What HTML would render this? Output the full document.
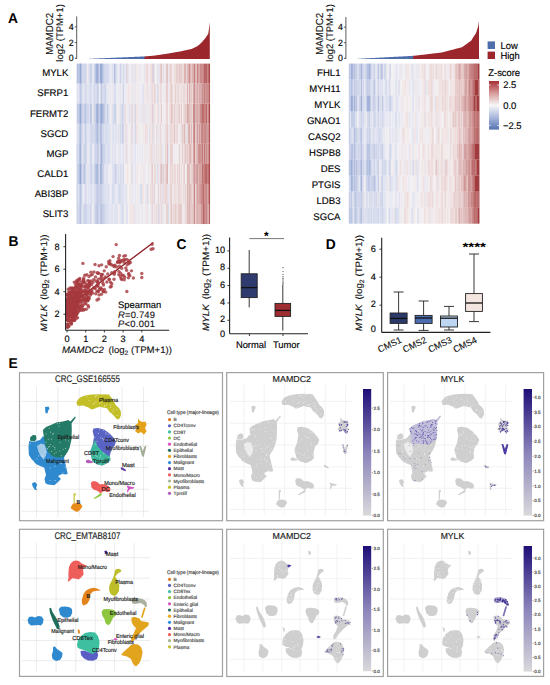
<!DOCTYPE html>
<html><head><meta charset="utf-8"><style>
html,body{margin:0;padding:0;background:#fff;}
svg{display:block;}
text{font-family:"Liberation Sans", sans-serif;text-rendering:geometricPrecision;}
</style></head><body>
<svg width="550" height="685" viewBox="0 0 550 685" font-family="Liberation Sans, sans-serif">
<rect width="550" height="685" fill="#fff"/>
<text transform="translate(8.1,22.8) scale(1,1.03)" font-size="13.8" text-anchor="start" font-weight="bold" fill="#000">A</text>
<text transform="translate(8.6,245.7) scale(1,1.03)" font-size="13.8" text-anchor="start" font-weight="bold" fill="#000">B</text>
<text transform="translate(176.6,249.4) scale(1,1.03)" font-size="13.8" text-anchor="start" font-weight="bold" fill="#000">C</text>
<text transform="translate(325.8,249.3) scale(1,1.03)" font-size="13.8" text-anchor="start" font-weight="bold" fill="#000">D</text>
<text transform="translate(8.6,368.4) scale(1,1.03)" font-size="13.8" text-anchor="start" font-weight="bold" fill="#000">E</text>
<rect x="76.6" y="63.6" width="1.05" height="20.1" fill="#c1c9e4"/>
<rect x="77.6" y="63.6" width="1.05" height="20.1" fill="#8097cb"/>
<rect x="78.61" y="63.6" width="1.05" height="20.1" fill="#d6dbed"/>
<rect x="79.61" y="63.6" width="1.05" height="20.1" fill="#6a85c1"/>
<rect x="80.61" y="63.6" width="1.05" height="20.1" fill="#899ecf"/>
<rect x="81.62" y="63.6" width="1.05" height="20.1" fill="#c9d0e7"/>
<rect x="82.62" y="63.6" width="1.05" height="20.1" fill="#c8cfe7"/>
<rect x="83.62" y="63.6" width="1.05" height="20.1" fill="#bfc8e3"/>
<rect x="84.62" y="63.6" width="1.05" height="20.1" fill="#ccd2e9"/>
<rect x="85.63" y="63.6" width="1.05" height="20.1" fill="#bcc5e2"/>
<rect x="86.63" y="63.6" width="1.05" height="20.1" fill="#efe6e7"/>
<rect x="87.63" y="63.6" width="1.05" height="20.1" fill="#eaeaf1"/>
<rect x="88.64" y="63.6" width="1.05" height="20.1" fill="#cbd2e8"/>
<rect x="89.64" y="63.6" width="1.05" height="20.1" fill="#d1d7eb"/>
<rect x="90.64" y="63.6" width="1.05" height="20.1" fill="#a9b7db"/>
<rect x="91.65" y="63.6" width="1.05" height="20.1" fill="#dee1ef"/>
<rect x="92.65" y="63.6" width="1.05" height="20.1" fill="#e4e5f0"/>
<rect x="93.65" y="63.6" width="1.05" height="20.1" fill="#d1d6eb"/>
<rect x="94.65" y="63.6" width="1.05" height="20.1" fill="#bac3e1"/>
<rect x="95.66" y="63.6" width="1.05" height="20.1" fill="#92a5d3"/>
<rect x="96.66" y="63.6" width="1.05" height="20.1" fill="#8a9ecf"/>
<rect x="97.66" y="63.6" width="1.05" height="20.1" fill="#7e95ca"/>
<rect x="98.67" y="63.6" width="1.05" height="20.1" fill="#dbdfee"/>
<rect x="99.67" y="63.6" width="1.05" height="20.1" fill="#8fa3d1"/>
<rect x="100.67" y="63.6" width="1.05" height="20.1" fill="#6e88c3"/>
<rect x="101.68" y="63.6" width="1.05" height="20.1" fill="#a0b0d8"/>
<rect x="102.68" y="63.6" width="1.05" height="20.1" fill="#a9b6db"/>
<rect x="103.68" y="63.6" width="1.05" height="20.1" fill="#cbd2e8"/>
<rect x="104.68" y="63.6" width="1.05" height="20.1" fill="#c5cce6"/>
<rect x="105.69" y="63.6" width="1.05" height="20.1" fill="#d3d8ec"/>
<rect x="106.69" y="63.6" width="1.05" height="20.1" fill="#c6cde6"/>
<rect x="107.69" y="63.6" width="1.05" height="20.1" fill="#d0d6ea"/>
<rect x="108.7" y="63.6" width="1.05" height="20.1" fill="#d6daed"/>
<rect x="109.7" y="63.6" width="1.05" height="20.1" fill="#e2e4f0"/>
<rect x="110.7" y="63.6" width="1.05" height="20.1" fill="#f1eff3"/>
<rect x="111.71" y="63.6" width="1.05" height="20.1" fill="#c6cee6"/>
<rect x="112.71" y="63.6" width="1.05" height="20.1" fill="#f2eef1"/>
<rect x="113.71" y="63.6" width="2.06" height="20.1" fill="#b4bfdf"/>
<rect x="115.72" y="63.6" width="1.05" height="20.1" fill="#d1d7eb"/>
<rect x="116.72" y="63.6" width="1.05" height="20.1" fill="#dee0ef"/>
<rect x="117.72" y="63.6" width="1.05" height="20.1" fill="#eaeaf1"/>
<rect x="118.73" y="63.6" width="1.05" height="20.1" fill="#ebeaf2"/>
<rect x="119.73" y="63.6" width="1.05" height="20.1" fill="#c2cae4"/>
<rect x="120.73" y="63.6" width="1.05" height="20.1" fill="#ced4e9"/>
<rect x="121.74" y="63.6" width="1.05" height="20.1" fill="#ececf2"/>
<rect x="122.74" y="63.6" width="1.05" height="20.1" fill="#cdd3e9"/>
<rect x="123.74" y="63.6" width="1.05" height="20.1" fill="#d6dbed"/>
<rect x="124.74" y="63.6" width="1.05" height="20.1" fill="#efeef2"/>
<rect x="125.75" y="63.6" width="1.05" height="20.1" fill="#c7cee6"/>
<rect x="126.75" y="63.6" width="1.05" height="20.1" fill="#e7cece"/>
<rect x="127.75" y="63.6" width="1.05" height="20.1" fill="#dee1ef"/>
<rect x="128.76" y="63.6" width="1.05" height="20.1" fill="#f0e9ea"/>
<rect x="129.76" y="63.6" width="1.05" height="20.1" fill="#f0eaec"/>
<rect x="130.76" y="63.6" width="1.05" height="20.1" fill="#e4e5f0"/>
<rect x="131.77" y="63.6" width="1.05" height="20.1" fill="#dcdfef"/>
<rect x="132.77" y="63.6" width="1.05" height="20.1" fill="#eee0e0"/>
<rect x="133.77" y="63.6" width="1.05" height="20.1" fill="#efe6e7"/>
<rect x="134.77" y="63.6" width="1.05" height="20.1" fill="#d7dced"/>
<rect x="135.78" y="63.6" width="1.05" height="20.1" fill="#eee2e3"/>
<rect x="136.78" y="63.6" width="1.05" height="20.1" fill="#efeef2"/>
<rect x="137.78" y="63.6" width="1.05" height="20.1" fill="#efe3e4"/>
<rect x="138.79" y="63.6" width="1.05" height="20.1" fill="#e9e9f1"/>
<rect x="139.79" y="63.6" width="1.05" height="20.1" fill="#f0e8ea"/>
<rect x="140.79" y="63.6" width="1.05" height="20.1" fill="#eaeaf1"/>
<rect x="141.8" y="63.6" width="1.05" height="20.1" fill="#f2eff2"/>
<rect x="142.8" y="63.6" width="1.05" height="20.1" fill="#f1edef"/>
<rect x="143.8" y="63.6" width="1.05" height="20.1" fill="#e3e5f0"/>
<rect x="144.8" y="63.6" width="1.05" height="20.1" fill="#eee2e3"/>
<rect x="145.81" y="63.6" width="1.05" height="20.1" fill="#edddde"/>
<rect x="146.81" y="63.6" width="1.05" height="20.1" fill="#e8d0d0"/>
<rect x="147.81" y="63.6" width="1.05" height="20.1" fill="#f0eaec"/>
<rect x="148.82" y="63.6" width="1.05" height="20.1" fill="#efe4e5"/>
<rect x="149.82" y="63.6" width="1.05" height="20.1" fill="#f0e7e9"/>
<rect x="150.82" y="63.6" width="1.05" height="20.1" fill="#ecdbdb"/>
<rect x="151.83" y="63.6" width="1.05" height="20.1" fill="#e7cfcf"/>
<rect x="152.83" y="63.6" width="1.05" height="20.1" fill="#c3cbe5"/>
<rect x="153.83" y="63.6" width="1.05" height="20.1" fill="#ecd9d9"/>
<rect x="154.83" y="63.6" width="1.05" height="20.1" fill="#f1eef0"/>
<rect x="155.84" y="63.6" width="1.05" height="20.1" fill="#f2f0f3"/>
<rect x="156.84" y="63.6" width="1.05" height="20.1" fill="#d9ddee"/>
<rect x="157.84" y="63.6" width="1.05" height="20.1" fill="#f0e8ea"/>
<rect x="158.85" y="63.6" width="1.05" height="20.1" fill="#dfe1ef"/>
<rect x="159.85" y="63.6" width="1.05" height="20.1" fill="#e8d0d0"/>
<rect x="160.85" y="63.6" width="1.05" height="20.1" fill="#deb7b7"/>
<rect x="161.86" y="63.6" width="1.05" height="20.1" fill="#eaeaf1"/>
<rect x="162.86" y="63.6" width="1.05" height="20.1" fill="#ebd7d7"/>
<rect x="163.86" y="63.6" width="1.05" height="20.1" fill="#ececf2"/>
<rect x="164.86" y="63.6" width="1.05" height="20.1" fill="#ecebf2"/>
<rect x="165.87" y="63.6" width="1.05" height="20.1" fill="#e4c8c8"/>
<rect x="166.87" y="63.6" width="1.05" height="20.1" fill="#dfbbbb"/>
<rect x="167.87" y="63.6" width="1.05" height="20.1" fill="#e5e6f0"/>
<rect x="168.88" y="63.6" width="1.05" height="20.1" fill="#eee1e2"/>
<rect x="169.88" y="63.6" width="1.05" height="20.1" fill="#e6caca"/>
<rect x="170.88" y="63.6" width="1.05" height="20.1" fill="#e9d2d2"/>
<rect x="171.89" y="63.6" width="1.05" height="20.1" fill="#f0e9eb"/>
<rect x="172.89" y="63.6" width="1.05" height="20.1" fill="#f0e8e9"/>
<rect x="173.89" y="63.6" width="1.05" height="20.1" fill="#ecd9d9"/>
<rect x="174.89" y="63.6" width="1.05" height="20.1" fill="#eedfdf"/>
<rect x="175.9" y="63.6" width="1.05" height="20.1" fill="#e7cdcd"/>
<rect x="176.9" y="63.6" width="1.05" height="20.1" fill="#e5caca"/>
<rect x="177.9" y="63.6" width="1.05" height="20.1" fill="#ebd8d8"/>
<rect x="178.91" y="63.6" width="1.05" height="20.1" fill="#e5c8c8"/>
<rect x="179.91" y="63.6" width="1.05" height="20.1" fill="#e5caca"/>
<rect x="180.91" y="63.6" width="1.05" height="20.1" fill="#e7cece"/>
<rect x="181.92" y="63.6" width="1.05" height="20.1" fill="#ebd7d7"/>
<rect x="182.92" y="63.6" width="1.05" height="20.1" fill="#eedede"/>
<rect x="183.92" y="63.6" width="2.06" height="20.1" fill="#dbb1b1"/>
<rect x="185.93" y="63.6" width="1.05" height="20.1" fill="#e9d3d3"/>
<rect x="186.93" y="63.6" width="1.05" height="20.1" fill="#e0bcbc"/>
<rect x="187.93" y="63.6" width="1.05" height="20.1" fill="#dcb2b2"/>
<rect x="188.94" y="63.6" width="1.05" height="20.1" fill="#ca8b8b"/>
<rect x="189.94" y="63.6" width="1.05" height="20.1" fill="#ddb6b6"/>
<rect x="190.94" y="63.6" width="1.05" height="20.1" fill="#e5c9c9"/>
<rect x="191.95" y="63.6" width="1.05" height="20.1" fill="#dcb4b4"/>
<rect x="192.95" y="63.6" width="1.05" height="20.1" fill="#dbb0b0"/>
<rect x="193.95" y="63.6" width="1.05" height="20.1" fill="#c37a7a"/>
<rect x="194.95" y="63.6" width="1.05" height="20.1" fill="#ddb6b6"/>
<rect x="195.96" y="63.6" width="1.05" height="20.1" fill="#e2c0c0"/>
<rect x="196.96" y="63.6" width="1.05" height="20.1" fill="#c68181"/>
<rect x="197.96" y="63.6" width="1.05" height="20.1" fill="#d5a2a2"/>
<rect x="198.97" y="63.6" width="1.05" height="20.1" fill="#d9acac"/>
<rect x="199.97" y="63.6" width="1.05" height="20.1" fill="#ca8b8b"/>
<rect x="200.97" y="63.6" width="1.05" height="20.1" fill="#cb8d8d"/>
<rect x="201.98" y="63.6" width="1.05" height="20.1" fill="#cd9191"/>
<rect x="202.98" y="63.6" width="1.05" height="20.1" fill="#c98989"/>
<rect x="203.98" y="63.6" width="1.05" height="20.1" fill="#b85f5f"/>
<rect x="204.98" y="63.6" width="1.05" height="20.1" fill="#bd6b6b"/>
<rect x="205.99" y="63.6" width="1.05" height="20.1" fill="#b75e5e"/>
<rect x="206.99" y="63.6" width="1.05" height="20.1" fill="#c98787"/>
<rect x="207.99" y="63.6" width="1.05" height="20.1" fill="#bd6c6c"/>
<rect x="209" y="63.6" width="1.05" height="20.1" fill="#ad4b4c"/>
<rect x="76.6" y="83.65" width="1.05" height="20.1" fill="#dcdfef"/>
<rect x="77.6" y="83.65" width="1.05" height="20.1" fill="#d2d7eb"/>
<rect x="78.61" y="83.65" width="1.05" height="20.1" fill="#e1e3f0"/>
<rect x="79.61" y="83.65" width="1.05" height="20.1" fill="#b4bfdf"/>
<rect x="80.61" y="83.65" width="1.05" height="20.1" fill="#b3bedf"/>
<rect x="81.62" y="83.65" width="1.05" height="20.1" fill="#c4cce5"/>
<rect x="82.62" y="83.65" width="1.05" height="20.1" fill="#eaeaf1"/>
<rect x="83.62" y="83.65" width="1.05" height="20.1" fill="#d5daec"/>
<rect x="84.62" y="83.65" width="1.05" height="20.1" fill="#d0d6ea"/>
<rect x="85.63" y="83.65" width="1.05" height="20.1" fill="#c4cbe5"/>
<rect x="86.63" y="83.65" width="1.05" height="20.1" fill="#e0e2ef"/>
<rect x="87.63" y="83.65" width="1.05" height="20.1" fill="#d6dbed"/>
<rect x="88.64" y="83.65" width="1.05" height="20.1" fill="#d5daec"/>
<rect x="89.64" y="83.65" width="1.05" height="20.1" fill="#d7dbed"/>
<rect x="90.64" y="83.65" width="1.05" height="20.1" fill="#bac3e1"/>
<rect x="91.65" y="83.65" width="1.05" height="20.1" fill="#ecebf2"/>
<rect x="92.65" y="83.65" width="1.05" height="20.1" fill="#dadeee"/>
<rect x="93.65" y="83.65" width="1.05" height="20.1" fill="#c5cce6"/>
<rect x="94.65" y="83.65" width="1.05" height="20.1" fill="#cfd5ea"/>
<rect x="95.66" y="83.65" width="1.05" height="20.1" fill="#d2d7eb"/>
<rect x="96.66" y="83.65" width="1.05" height="20.1" fill="#c6cde6"/>
<rect x="97.66" y="83.65" width="1.05" height="20.1" fill="#b1bcde"/>
<rect x="98.67" y="83.65" width="1.05" height="20.1" fill="#e4e5f0"/>
<rect x="99.67" y="83.65" width="1.05" height="20.1" fill="#f2eff2"/>
<rect x="100.67" y="83.65" width="1.05" height="20.1" fill="#a4b2d9"/>
<rect x="101.68" y="83.65" width="1.05" height="20.1" fill="#ccd3e9"/>
<rect x="102.68" y="83.65" width="1.05" height="20.1" fill="#ccd2e8"/>
<rect x="103.68" y="83.65" width="1.05" height="20.1" fill="#d2d7eb"/>
<rect x="104.68" y="83.65" width="1.05" height="20.1" fill="#bac4e1"/>
<rect x="105.69" y="83.65" width="1.05" height="20.1" fill="#d2d7eb"/>
<rect x="106.69" y="83.65" width="1.05" height="20.1" fill="#e9e9f1"/>
<rect x="107.69" y="83.65" width="1.05" height="20.1" fill="#dcdfef"/>
<rect x="108.7" y="83.65" width="1.05" height="20.1" fill="#ebebf2"/>
<rect x="109.7" y="83.65" width="1.05" height="20.1" fill="#dde0ef"/>
<rect x="110.7" y="83.65" width="1.05" height="20.1" fill="#ecebf2"/>
<rect x="111.71" y="83.65" width="1.05" height="20.1" fill="#efe4e5"/>
<rect x="112.71" y="83.65" width="1.05" height="20.1" fill="#e0e2ef"/>
<rect x="113.71" y="83.65" width="3.06" height="20.1" fill="#dadeee"/>
<rect x="116.72" y="83.65" width="1.05" height="20.1" fill="#f2eff2"/>
<rect x="117.72" y="83.65" width="2.06" height="20.1" fill="#eaeaf1"/>
<rect x="119.73" y="83.65" width="1.05" height="20.1" fill="#daddee"/>
<rect x="120.73" y="83.65" width="1.05" height="20.1" fill="#efe6e7"/>
<rect x="121.74" y="83.65" width="1.05" height="20.1" fill="#edecf2"/>
<rect x="122.74" y="83.65" width="1.05" height="20.1" fill="#b6c1e0"/>
<rect x="123.74" y="83.65" width="1.05" height="20.1" fill="#e9e9f1"/>
<rect x="124.74" y="83.65" width="1.05" height="20.1" fill="#e5e6f0"/>
<rect x="125.75" y="83.65" width="1.05" height="20.1" fill="#e9e9f1"/>
<rect x="126.75" y="83.65" width="1.05" height="20.1" fill="#f1eaec"/>
<rect x="127.75" y="83.65" width="1.05" height="20.1" fill="#ecdbdb"/>
<rect x="128.76" y="83.65" width="1.05" height="20.1" fill="#efe6e7"/>
<rect x="129.76" y="83.65" width="1.05" height="20.1" fill="#f0e8ea"/>
<rect x="130.76" y="83.65" width="1.05" height="20.1" fill="#f0e9eb"/>
<rect x="131.77" y="83.65" width="1.05" height="20.1" fill="#dde0ef"/>
<rect x="132.77" y="83.65" width="1.05" height="20.1" fill="#f0eaec"/>
<rect x="133.77" y="83.65" width="1.05" height="20.1" fill="#eee0e1"/>
<rect x="134.77" y="83.65" width="1.05" height="20.1" fill="#e1e3f0"/>
<rect x="135.78" y="83.65" width="1.05" height="20.1" fill="#f0eef3"/>
<rect x="136.78" y="83.65" width="2.06" height="20.1" fill="#f0e7e9"/>
<rect x="138.79" y="83.65" width="1.05" height="20.1" fill="#ecebf2"/>
<rect x="139.79" y="83.65" width="1.05" height="20.1" fill="#e9e9f1"/>
<rect x="140.79" y="83.65" width="1.05" height="20.1" fill="#f0eff3"/>
<rect x="141.8" y="83.65" width="1.05" height="20.1" fill="#e1e3f0"/>
<rect x="142.8" y="83.65" width="1.05" height="20.1" fill="#dadeee"/>
<rect x="143.8" y="83.65" width="1.05" height="20.1" fill="#efe5e6"/>
<rect x="144.8" y="83.65" width="1.05" height="20.1" fill="#efe3e4"/>
<rect x="145.81" y="83.65" width="1.05" height="20.1" fill="#edecf2"/>
<rect x="146.81" y="83.65" width="1.05" height="20.1" fill="#ebd7d7"/>
<rect x="147.81" y="83.65" width="1.05" height="20.1" fill="#eee2e3"/>
<rect x="148.82" y="83.65" width="1.05" height="20.1" fill="#f0eaec"/>
<rect x="149.82" y="83.65" width="1.05" height="20.1" fill="#e2e4f0"/>
<rect x="150.82" y="83.65" width="1.05" height="20.1" fill="#eee1e1"/>
<rect x="151.83" y="83.65" width="1.05" height="20.1" fill="#e9d2d2"/>
<rect x="152.83" y="83.65" width="1.05" height="20.1" fill="#f0e9eb"/>
<rect x="153.83" y="83.65" width="1.05" height="20.1" fill="#e6cccc"/>
<rect x="154.83" y="83.65" width="1.05" height="20.1" fill="#ead5d5"/>
<rect x="155.84" y="83.65" width="1.05" height="20.1" fill="#edecf2"/>
<rect x="156.84" y="83.65" width="1.05" height="20.1" fill="#d6dbed"/>
<rect x="157.84" y="83.65" width="1.05" height="20.1" fill="#ead4d4"/>
<rect x="158.85" y="83.65" width="1.05" height="20.1" fill="#efedf2"/>
<rect x="159.85" y="83.65" width="1.05" height="20.1" fill="#ebd7d7"/>
<rect x="160.85" y="83.65" width="1.05" height="20.1" fill="#ecdada"/>
<rect x="161.86" y="83.65" width="1.05" height="20.1" fill="#efeef2"/>
<rect x="162.86" y="83.65" width="1.05" height="20.1" fill="#eaeaf1"/>
<rect x="163.86" y="83.65" width="1.05" height="20.1" fill="#f1edef"/>
<rect x="164.86" y="83.65" width="1.05" height="20.1" fill="#efe6e7"/>
<rect x="165.87" y="83.65" width="1.05" height="20.1" fill="#e8cfcf"/>
<rect x="166.87" y="83.65" width="1.05" height="20.1" fill="#e5c8c8"/>
<rect x="167.87" y="83.65" width="1.05" height="20.1" fill="#ecebf2"/>
<rect x="168.88" y="83.65" width="1.05" height="20.1" fill="#efe5e6"/>
<rect x="169.88" y="83.65" width="1.05" height="20.1" fill="#ecdbdb"/>
<rect x="170.88" y="83.65" width="1.05" height="20.1" fill="#e4c7c7"/>
<rect x="171.89" y="83.65" width="1.05" height="20.1" fill="#ebd7d7"/>
<rect x="172.89" y="83.65" width="1.05" height="20.1" fill="#f1edef"/>
<rect x="173.89" y="83.65" width="1.05" height="20.1" fill="#efe2e3"/>
<rect x="174.89" y="83.65" width="1.05" height="20.1" fill="#e6cccc"/>
<rect x="175.9" y="83.65" width="1.05" height="20.1" fill="#eee2e3"/>
<rect x="176.9" y="83.65" width="1.05" height="20.1" fill="#eddcdc"/>
<rect x="177.9" y="83.65" width="1.05" height="20.1" fill="#ead5d5"/>
<rect x="178.91" y="83.65" width="1.05" height="20.1" fill="#eee0e0"/>
<rect x="179.91" y="83.65" width="1.05" height="20.1" fill="#efe5e6"/>
<rect x="180.91" y="83.65" width="1.05" height="20.1" fill="#eddddd"/>
<rect x="181.92" y="83.65" width="1.05" height="20.1" fill="#efe5e6"/>
<rect x="182.92" y="83.65" width="2.06" height="20.1" fill="#ebd8d8"/>
<rect x="184.92" y="83.65" width="1.05" height="20.1" fill="#eededf"/>
<rect x="185.93" y="83.65" width="1.05" height="20.1" fill="#efe4e5"/>
<rect x="186.93" y="83.65" width="1.05" height="20.1" fill="#daafaf"/>
<rect x="187.93" y="83.65" width="1.05" height="20.1" fill="#efe3e4"/>
<rect x="188.94" y="83.65" width="1.05" height="20.1" fill="#daaeae"/>
<rect x="189.94" y="83.65" width="1.05" height="20.1" fill="#e8cfcf"/>
<rect x="190.94" y="83.65" width="1.05" height="20.1" fill="#e4c7c7"/>
<rect x="191.95" y="83.65" width="1.05" height="20.1" fill="#ecdada"/>
<rect x="192.95" y="83.65" width="1.05" height="20.1" fill="#d9adad"/>
<rect x="193.95" y="83.65" width="1.05" height="20.1" fill="#ca8a8a"/>
<rect x="194.95" y="83.65" width="1.05" height="20.1" fill="#e1c0c0"/>
<rect x="195.96" y="83.65" width="1.05" height="20.1" fill="#deb9b9"/>
<rect x="196.96" y="83.65" width="1.05" height="20.1" fill="#d7a7a7"/>
<rect x="197.96" y="83.65" width="1.05" height="20.1" fill="#e2c2c2"/>
<rect x="198.97" y="83.65" width="1.05" height="20.1" fill="#d7a8a8"/>
<rect x="199.97" y="83.65" width="1.05" height="20.1" fill="#daaeae"/>
<rect x="200.97" y="83.65" width="1.05" height="20.1" fill="#d8abab"/>
<rect x="201.98" y="83.65" width="1.05" height="20.1" fill="#cd9191"/>
<rect x="202.98" y="83.65" width="1.05" height="20.1" fill="#d29d9d"/>
<rect x="203.98" y="83.65" width="1.05" height="20.1" fill="#c58080"/>
<rect x="204.98" y="83.65" width="1.05" height="20.1" fill="#d09797"/>
<rect x="205.99" y="83.65" width="1.05" height="20.1" fill="#cc8e8e"/>
<rect x="206.99" y="83.65" width="1.05" height="20.1" fill="#cc9090"/>
<rect x="207.99" y="83.65" width="1.05" height="20.1" fill="#c98888"/>
<rect x="209" y="83.65" width="1.05" height="20.1" fill="#b75e5e"/>
<rect x="76.6" y="103.7" width="1.05" height="20.1" fill="#cfd5ea"/>
<rect x="77.6" y="103.7" width="1.05" height="20.1" fill="#92a5d3"/>
<rect x="78.61" y="103.7" width="1.05" height="20.1" fill="#d3d8eb"/>
<rect x="79.61" y="103.7" width="1.05" height="20.1" fill="#6a85c1"/>
<rect x="80.61" y="103.7" width="1.05" height="20.1" fill="#899ecf"/>
<rect x="81.62" y="103.7" width="1.05" height="20.1" fill="#c5cce6"/>
<rect x="82.62" y="103.7" width="1.05" height="20.1" fill="#bfc8e3"/>
<rect x="83.62" y="103.7" width="1.05" height="20.1" fill="#cad1e8"/>
<rect x="84.62" y="103.7" width="1.05" height="20.1" fill="#9cacd6"/>
<rect x="85.63" y="103.7" width="1.05" height="20.1" fill="#b6c1e0"/>
<rect x="86.63" y="103.7" width="1.05" height="20.1" fill="#d2d7eb"/>
<rect x="87.63" y="103.7" width="1.05" height="20.1" fill="#bdc5e2"/>
<rect x="88.64" y="103.7" width="1.05" height="20.1" fill="#d9ddee"/>
<rect x="89.64" y="103.7" width="1.05" height="20.1" fill="#cdd3e9"/>
<rect x="90.64" y="103.7" width="1.05" height="20.1" fill="#8fa2d1"/>
<rect x="91.65" y="103.7" width="1.05" height="20.1" fill="#e1e3f0"/>
<rect x="92.65" y="103.7" width="1.05" height="20.1" fill="#f0e8e9"/>
<rect x="93.65" y="103.7" width="1.05" height="20.1" fill="#bcc5e2"/>
<rect x="94.65" y="103.7" width="1.05" height="20.1" fill="#d0d6ea"/>
<rect x="95.66" y="103.7" width="1.05" height="20.1" fill="#a0b0d8"/>
<rect x="96.66" y="103.7" width="1.05" height="20.1" fill="#889dce"/>
<rect x="97.66" y="103.7" width="1.05" height="20.1" fill="#859bcd"/>
<rect x="98.67" y="103.7" width="1.05" height="20.1" fill="#c8cfe7"/>
<rect x="99.67" y="103.7" width="1.05" height="20.1" fill="#a9b7db"/>
<rect x="100.67" y="103.7" width="1.05" height="20.1" fill="#6f89c3"/>
<rect x="101.68" y="103.7" width="1.05" height="20.1" fill="#8ea2d1"/>
<rect x="102.68" y="103.7" width="1.05" height="20.1" fill="#a1b1d8"/>
<rect x="103.68" y="103.7" width="1.05" height="20.1" fill="#b4bfdf"/>
<rect x="104.68" y="103.7" width="1.05" height="20.1" fill="#c1c9e4"/>
<rect x="105.69" y="103.7" width="1.05" height="20.1" fill="#e8e8f1"/>
<rect x="106.69" y="103.7" width="1.05" height="20.1" fill="#b1bdde"/>
<rect x="107.69" y="103.7" width="1.05" height="20.1" fill="#d2d7eb"/>
<rect x="108.7" y="103.7" width="1.05" height="20.1" fill="#d4d9ec"/>
<rect x="109.7" y="103.7" width="1.05" height="20.1" fill="#f2f0f3"/>
<rect x="110.7" y="103.7" width="1.05" height="20.1" fill="#f0e8ea"/>
<rect x="111.71" y="103.7" width="1.05" height="20.1" fill="#d4d9ec"/>
<rect x="112.71" y="103.7" width="1.05" height="20.1" fill="#dcdfef"/>
<rect x="113.71" y="103.7" width="1.05" height="20.1" fill="#c5cce6"/>
<rect x="114.71" y="103.7" width="1.05" height="20.1" fill="#bbc4e2"/>
<rect x="115.72" y="103.7" width="1.05" height="20.1" fill="#d1d7eb"/>
<rect x="116.72" y="103.7" width="1.05" height="20.1" fill="#f1ecee"/>
<rect x="117.72" y="103.7" width="1.05" height="20.1" fill="#efe5e7"/>
<rect x="118.73" y="103.7" width="1.05" height="20.1" fill="#f1ecee"/>
<rect x="119.73" y="103.7" width="1.05" height="20.1" fill="#cfd5ea"/>
<rect x="120.73" y="103.7" width="1.05" height="20.1" fill="#e3e5f0"/>
<rect x="121.74" y="103.7" width="1.05" height="20.1" fill="#c0c9e4"/>
<rect x="122.74" y="103.7" width="1.05" height="20.1" fill="#ced4e9"/>
<rect x="123.74" y="103.7" width="1.05" height="20.1" fill="#d9ddee"/>
<rect x="124.74" y="103.7" width="1.05" height="20.1" fill="#ead4d4"/>
<rect x="125.75" y="103.7" width="1.05" height="20.1" fill="#e8e8f1"/>
<rect x="126.75" y="103.7" width="1.05" height="20.1" fill="#efe5e6"/>
<rect x="127.75" y="103.7" width="1.05" height="20.1" fill="#f2eff2"/>
<rect x="128.76" y="103.7" width="1.05" height="20.1" fill="#d0d5ea"/>
<rect x="129.76" y="103.7" width="1.05" height="20.1" fill="#f0e8ea"/>
<rect x="130.76" y="103.7" width="1.05" height="20.1" fill="#ead5d5"/>
<rect x="131.77" y="103.7" width="1.05" height="20.1" fill="#cfd5ea"/>
<rect x="132.77" y="103.7" width="1.05" height="20.1" fill="#efe4e6"/>
<rect x="133.77" y="103.7" width="1.05" height="20.1" fill="#efe3e4"/>
<rect x="134.77" y="103.7" width="1.05" height="20.1" fill="#c1c9e4"/>
<rect x="135.78" y="103.7" width="1.05" height="20.1" fill="#efe3e4"/>
<rect x="136.78" y="103.7" width="1.05" height="20.1" fill="#efe4e5"/>
<rect x="137.78" y="103.7" width="1.05" height="20.1" fill="#efe5e6"/>
<rect x="138.79" y="103.7" width="1.05" height="20.1" fill="#eaeaf1"/>
<rect x="139.79" y="103.7" width="1.05" height="20.1" fill="#f0e6e8"/>
<rect x="140.79" y="103.7" width="1.05" height="20.1" fill="#e1e3f0"/>
<rect x="141.8" y="103.7" width="1.05" height="20.1" fill="#e8e9f1"/>
<rect x="142.8" y="103.7" width="1.05" height="20.1" fill="#ecdada"/>
<rect x="143.8" y="103.7" width="1.05" height="20.1" fill="#e1e3f0"/>
<rect x="144.8" y="103.7" width="1.05" height="20.1" fill="#eddbdb"/>
<rect x="145.81" y="103.7" width="2.06" height="20.1" fill="#e9e9f1"/>
<rect x="147.81" y="103.7" width="1.05" height="20.1" fill="#efe5e6"/>
<rect x="148.82" y="103.7" width="1.05" height="20.1" fill="#e8e8f1"/>
<rect x="149.82" y="103.7" width="1.05" height="20.1" fill="#eededf"/>
<rect x="150.82" y="103.7" width="1.05" height="20.1" fill="#f0e8ea"/>
<rect x="151.83" y="103.7" width="1.05" height="20.1" fill="#e2c3c3"/>
<rect x="152.83" y="103.7" width="1.05" height="20.1" fill="#daddee"/>
<rect x="153.83" y="103.7" width="1.05" height="20.1" fill="#ebd8d8"/>
<rect x="154.83" y="103.7" width="1.05" height="20.1" fill="#f0e8ea"/>
<rect x="155.84" y="103.7" width="1.05" height="20.1" fill="#f1ebee"/>
<rect x="156.84" y="103.7" width="1.05" height="20.1" fill="#efe4e5"/>
<rect x="157.84" y="103.7" width="1.05" height="20.1" fill="#e9d2d2"/>
<rect x="158.85" y="103.7" width="1.05" height="20.1" fill="#e8e8f1"/>
<rect x="159.85" y="103.7" width="1.05" height="20.1" fill="#f1ecef"/>
<rect x="160.85" y="103.7" width="1.05" height="20.1" fill="#e2c2c2"/>
<rect x="161.86" y="103.7" width="1.05" height="20.1" fill="#f1edf0"/>
<rect x="162.86" y="103.7" width="1.05" height="20.1" fill="#f0eaec"/>
<rect x="163.86" y="103.7" width="1.05" height="20.1" fill="#f2eef1"/>
<rect x="164.86" y="103.7" width="1.05" height="20.1" fill="#f1eaed"/>
<rect x="165.87" y="103.7" width="1.05" height="20.1" fill="#ecdada"/>
<rect x="166.87" y="103.7" width="1.05" height="20.1" fill="#e8d0d0"/>
<rect x="167.87" y="103.7" width="1.05" height="20.1" fill="#f2f0f3"/>
<rect x="168.88" y="103.7" width="1.05" height="20.1" fill="#efe2e3"/>
<rect x="169.88" y="103.7" width="1.05" height="20.1" fill="#eedfdf"/>
<rect x="170.88" y="103.7" width="1.05" height="20.1" fill="#e0bdbd"/>
<rect x="171.89" y="103.7" width="1.05" height="20.1" fill="#e6cccc"/>
<rect x="172.89" y="103.7" width="1.05" height="20.1" fill="#efe3e4"/>
<rect x="173.89" y="103.7" width="1.05" height="20.1" fill="#e5c9c9"/>
<rect x="174.89" y="103.7" width="1.05" height="20.1" fill="#eedfdf"/>
<rect x="175.9" y="103.7" width="1.05" height="20.1" fill="#eededf"/>
<rect x="176.9" y="103.7" width="1.05" height="20.1" fill="#eddddd"/>
<rect x="177.9" y="103.7" width="1.05" height="20.1" fill="#ead4d4"/>
<rect x="178.91" y="103.7" width="1.05" height="20.1" fill="#e5c9c9"/>
<rect x="179.91" y="103.7" width="1.05" height="20.1" fill="#f0e8ea"/>
<rect x="180.91" y="103.7" width="1.05" height="20.1" fill="#e4c5c5"/>
<rect x="181.92" y="103.7" width="1.05" height="20.1" fill="#f2eff1"/>
<rect x="182.92" y="103.7" width="1.05" height="20.1" fill="#eddcdc"/>
<rect x="183.92" y="103.7" width="1.05" height="20.1" fill="#e9d3d3"/>
<rect x="184.92" y="103.7" width="1.05" height="20.1" fill="#e5c9c9"/>
<rect x="185.93" y="103.7" width="1.05" height="20.1" fill="#e7cece"/>
<rect x="186.93" y="103.7" width="1.05" height="20.1" fill="#d6a6a6"/>
<rect x="187.93" y="103.7" width="1.05" height="20.1" fill="#dbb2b2"/>
<rect x="188.94" y="103.7" width="1.05" height="20.1" fill="#dfbbbb"/>
<rect x="189.94" y="103.7" width="1.05" height="20.1" fill="#e5caca"/>
<rect x="190.94" y="103.7" width="1.05" height="20.1" fill="#e5c9c9"/>
<rect x="191.95" y="103.7" width="1.05" height="20.1" fill="#ecdbdb"/>
<rect x="192.95" y="103.7" width="1.05" height="20.1" fill="#cc8f8f"/>
<rect x="193.95" y="103.7" width="1.05" height="20.1" fill="#c88585"/>
<rect x="194.95" y="103.7" width="1.05" height="20.1" fill="#deb9b9"/>
<rect x="195.96" y="103.7" width="1.05" height="20.1" fill="#d8aaaa"/>
<rect x="196.96" y="103.7" width="1.05" height="20.1" fill="#d7a9a9"/>
<rect x="197.96" y="103.7" width="1.05" height="20.1" fill="#deb8b8"/>
<rect x="198.97" y="103.7" width="1.05" height="20.1" fill="#d8abab"/>
<rect x="199.97" y="103.7" width="1.05" height="20.1" fill="#cd9191"/>
<rect x="200.97" y="103.7" width="1.05" height="20.1" fill="#c88686"/>
<rect x="201.98" y="103.7" width="1.05" height="20.1" fill="#bd6c6c"/>
<rect x="202.98" y="103.7" width="1.05" height="20.1" fill="#bf7070"/>
<rect x="203.98" y="103.7" width="1.05" height="20.1" fill="#c78484"/>
<rect x="204.98" y="103.7" width="1.05" height="20.1" fill="#c98787"/>
<rect x="205.99" y="103.7" width="1.05" height="20.1" fill="#bb6767"/>
<rect x="206.99" y="103.7" width="1.05" height="20.1" fill="#d5a3a3"/>
<rect x="207.99" y="103.7" width="1.05" height="20.1" fill="#c78585"/>
<rect x="209" y="103.7" width="1.05" height="20.1" fill="#a74344"/>
<rect x="76.6" y="123.75" width="1.05" height="20.1" fill="#d8dcee"/>
<rect x="77.6" y="123.75" width="1.05" height="20.1" fill="#c7cee7"/>
<rect x="78.61" y="123.75" width="1.05" height="20.1" fill="#dbdfee"/>
<rect x="79.61" y="123.75" width="1.05" height="20.1" fill="#8298cb"/>
<rect x="80.61" y="123.75" width="1.05" height="20.1" fill="#b1bdde"/>
<rect x="81.62" y="123.75" width="1.05" height="20.1" fill="#c3cbe5"/>
<rect x="82.62" y="123.75" width="1.05" height="20.1" fill="#d9ddee"/>
<rect x="83.62" y="123.75" width="1.05" height="20.1" fill="#dfe1ef"/>
<rect x="84.62" y="123.75" width="1.05" height="20.1" fill="#c2cae4"/>
<rect x="85.63" y="123.75" width="1.05" height="20.1" fill="#b2bede"/>
<rect x="86.63" y="123.75" width="1.05" height="20.1" fill="#e4e6f0"/>
<rect x="87.63" y="123.75" width="1.05" height="20.1" fill="#d7dbed"/>
<rect x="88.64" y="123.75" width="1.05" height="20.1" fill="#e0e3ef"/>
<rect x="89.64" y="123.75" width="1.05" height="20.1" fill="#d3d8eb"/>
<rect x="90.64" y="123.75" width="1.05" height="20.1" fill="#c3cbe5"/>
<rect x="91.65" y="123.75" width="1.05" height="20.1" fill="#c6cde6"/>
<rect x="92.65" y="123.75" width="2.06" height="20.1" fill="#d4d9ec"/>
<rect x="94.65" y="123.75" width="1.05" height="20.1" fill="#bdc6e2"/>
<rect x="95.66" y="123.75" width="1.05" height="20.1" fill="#b5c0e0"/>
<rect x="96.66" y="123.75" width="1.05" height="20.1" fill="#9eaed7"/>
<rect x="97.66" y="123.75" width="1.05" height="20.1" fill="#9aabd5"/>
<rect x="98.67" y="123.75" width="1.05" height="20.1" fill="#dadeee"/>
<rect x="99.67" y="123.75" width="1.05" height="20.1" fill="#a9b6db"/>
<rect x="100.67" y="123.75" width="1.05" height="20.1" fill="#91a4d2"/>
<rect x="101.68" y="123.75" width="1.05" height="20.1" fill="#cad1e8"/>
<rect x="102.68" y="123.75" width="1.05" height="20.1" fill="#bec7e3"/>
<rect x="103.68" y="123.75" width="1.05" height="20.1" fill="#dcdfef"/>
<rect x="104.68" y="123.75" width="1.05" height="20.1" fill="#cdd3e9"/>
<rect x="105.69" y="123.75" width="1.05" height="20.1" fill="#cfd5ea"/>
<rect x="106.69" y="123.75" width="1.05" height="20.1" fill="#d5daec"/>
<rect x="107.69" y="123.75" width="1.05" height="20.1" fill="#cfd4ea"/>
<rect x="108.7" y="123.75" width="1.05" height="20.1" fill="#dee1ef"/>
<rect x="109.7" y="123.75" width="1.05" height="20.1" fill="#d5daec"/>
<rect x="110.7" y="123.75" width="1.05" height="20.1" fill="#f0e9eb"/>
<rect x="111.71" y="123.75" width="1.05" height="20.1" fill="#e4e5f0"/>
<rect x="112.71" y="123.75" width="1.05" height="20.1" fill="#ced4ea"/>
<rect x="113.71" y="123.75" width="1.05" height="20.1" fill="#e0e2ef"/>
<rect x="114.71" y="123.75" width="1.05" height="20.1" fill="#e3e5f0"/>
<rect x="115.72" y="123.75" width="1.05" height="20.1" fill="#cfd4ea"/>
<rect x="116.72" y="123.75" width="1.05" height="20.1" fill="#f1edf0"/>
<rect x="117.72" y="123.75" width="1.05" height="20.1" fill="#d0d6ea"/>
<rect x="118.73" y="123.75" width="1.05" height="20.1" fill="#f1ecef"/>
<rect x="119.73" y="123.75" width="1.05" height="20.1" fill="#c1c9e4"/>
<rect x="120.73" y="123.75" width="1.05" height="20.1" fill="#e3e5f0"/>
<rect x="121.74" y="123.75" width="1.05" height="20.1" fill="#c6cde6"/>
<rect x="122.74" y="123.75" width="1.05" height="20.1" fill="#b1bdde"/>
<rect x="123.74" y="123.75" width="1.05" height="20.1" fill="#efeef2"/>
<rect x="124.74" y="123.75" width="1.05" height="20.1" fill="#ecd9d9"/>
<rect x="125.75" y="123.75" width="1.05" height="20.1" fill="#d7dced"/>
<rect x="126.75" y="123.75" width="1.05" height="20.1" fill="#eedfdf"/>
<rect x="127.75" y="123.75" width="1.05" height="20.1" fill="#f1ecee"/>
<rect x="128.76" y="123.75" width="1.05" height="20.1" fill="#efeef2"/>
<rect x="129.76" y="123.75" width="1.05" height="20.1" fill="#f1eaec"/>
<rect x="130.76" y="123.75" width="1.05" height="20.1" fill="#ebd8d8"/>
<rect x="131.77" y="123.75" width="1.05" height="20.1" fill="#ccd3e9"/>
<rect x="132.77" y="123.75" width="1.05" height="20.1" fill="#f0e7e8"/>
<rect x="133.77" y="123.75" width="1.05" height="20.1" fill="#f0e9eb"/>
<rect x="134.77" y="123.75" width="1.05" height="20.1" fill="#c7cee6"/>
<rect x="135.78" y="123.75" width="1.05" height="20.1" fill="#eddddd"/>
<rect x="136.78" y="123.75" width="1.05" height="20.1" fill="#eedfdf"/>
<rect x="137.78" y="123.75" width="1.05" height="20.1" fill="#efeef2"/>
<rect x="138.79" y="123.75" width="1.05" height="20.1" fill="#efe2e3"/>
<rect x="139.79" y="123.75" width="1.05" height="20.1" fill="#f2eff2"/>
<rect x="140.79" y="123.75" width="1.05" height="20.1" fill="#f1edf0"/>
<rect x="141.8" y="123.75" width="1.05" height="20.1" fill="#f0e8ea"/>
<rect x="142.8" y="123.75" width="1.05" height="20.1" fill="#efe5e7"/>
<rect x="143.8" y="123.75" width="1.05" height="20.1" fill="#f1ebee"/>
<rect x="144.8" y="123.75" width="1.05" height="20.1" fill="#ebd6d6"/>
<rect x="145.81" y="123.75" width="1.05" height="20.1" fill="#efe4e6"/>
<rect x="146.81" y="123.75" width="1.05" height="20.1" fill="#ead6d6"/>
<rect x="147.81" y="123.75" width="1.05" height="20.1" fill="#edecf2"/>
<rect x="148.82" y="123.75" width="1.05" height="20.1" fill="#e1e3f0"/>
<rect x="149.82" y="123.75" width="1.05" height="20.1" fill="#ebd7d7"/>
<rect x="150.82" y="123.75" width="1.05" height="20.1" fill="#f0e6e8"/>
<rect x="151.83" y="123.75" width="1.05" height="20.1" fill="#e9d3d3"/>
<rect x="152.83" y="123.75" width="1.05" height="20.1" fill="#d8dced"/>
<rect x="153.83" y="123.75" width="1.05" height="20.1" fill="#eee1e1"/>
<rect x="154.83" y="123.75" width="1.05" height="20.1" fill="#f1eff3"/>
<rect x="155.84" y="123.75" width="1.05" height="20.1" fill="#ead6d6"/>
<rect x="156.84" y="123.75" width="1.05" height="20.1" fill="#e2e4f0"/>
<rect x="157.84" y="123.75" width="1.05" height="20.1" fill="#ecdada"/>
<rect x="158.85" y="123.75" width="1.05" height="20.1" fill="#ebebf2"/>
<rect x="159.85" y="123.75" width="1.05" height="20.1" fill="#e8d0d0"/>
<rect x="160.85" y="123.75" width="1.05" height="20.1" fill="#efe6e7"/>
<rect x="161.86" y="123.75" width="1.05" height="20.1" fill="#ebebf2"/>
<rect x="162.86" y="123.75" width="1.05" height="20.1" fill="#f0e9eb"/>
<rect x="163.86" y="123.75" width="1.05" height="20.1" fill="#f1ebee"/>
<rect x="164.86" y="123.75" width="1.05" height="20.1" fill="#ecdbdb"/>
<rect x="165.87" y="123.75" width="1.05" height="20.1" fill="#ead6d6"/>
<rect x="166.87" y="123.75" width="1.05" height="20.1" fill="#e4c5c5"/>
<rect x="167.87" y="123.75" width="1.05" height="20.1" fill="#e8e8f1"/>
<rect x="168.88" y="123.75" width="1.05" height="20.1" fill="#eee2e2"/>
<rect x="169.88" y="123.75" width="1.05" height="20.1" fill="#ecd9d9"/>
<rect x="170.88" y="123.75" width="1.05" height="20.1" fill="#ead4d4"/>
<rect x="171.89" y="123.75" width="1.05" height="20.1" fill="#ecdada"/>
<rect x="172.89" y="123.75" width="1.05" height="20.1" fill="#efe2e3"/>
<rect x="173.89" y="123.75" width="1.05" height="20.1" fill="#e0bdbd"/>
<rect x="174.89" y="123.75" width="1.05" height="20.1" fill="#efe3e4"/>
<rect x="175.9" y="123.75" width="1.05" height="20.1" fill="#eddbdb"/>
<rect x="176.9" y="123.75" width="1.05" height="20.1" fill="#e9d3d3"/>
<rect x="177.9" y="123.75" width="1.05" height="20.1" fill="#f1eef1"/>
<rect x="178.91" y="123.75" width="1.05" height="20.1" fill="#f1ebed"/>
<rect x="179.91" y="123.75" width="1.05" height="20.1" fill="#f0e8ea"/>
<rect x="180.91" y="123.75" width="1.05" height="20.1" fill="#edddde"/>
<rect x="181.92" y="123.75" width="1.05" height="20.1" fill="#e5c9c9"/>
<rect x="182.92" y="123.75" width="1.05" height="20.1" fill="#ebd7d7"/>
<rect x="183.92" y="123.75" width="1.05" height="20.1" fill="#dcb5b5"/>
<rect x="184.92" y="123.75" width="1.05" height="20.1" fill="#ebd7d7"/>
<rect x="185.93" y="123.75" width="1.05" height="20.1" fill="#e3e5f0"/>
<rect x="186.93" y="123.75" width="1.05" height="20.1" fill="#ecdada"/>
<rect x="187.93" y="123.75" width="1.05" height="20.1" fill="#ddb6b6"/>
<rect x="188.94" y="123.75" width="1.05" height="20.1" fill="#d8a9a9"/>
<rect x="189.94" y="123.75" width="1.05" height="20.1" fill="#ead5d5"/>
<rect x="190.94" y="123.75" width="1.05" height="20.1" fill="#deb9b9"/>
<rect x="191.95" y="123.75" width="1.05" height="20.1" fill="#efe3e4"/>
<rect x="192.95" y="123.75" width="1.05" height="20.1" fill="#d19999"/>
<rect x="193.95" y="123.75" width="1.05" height="20.1" fill="#c57e7e"/>
<rect x="194.95" y="123.75" width="1.05" height="20.1" fill="#e5c8c8"/>
<rect x="195.96" y="123.75" width="1.05" height="20.1" fill="#e4c6c6"/>
<rect x="196.96" y="123.75" width="1.05" height="20.1" fill="#d09797"/>
<rect x="197.96" y="123.75" width="1.05" height="20.1" fill="#e2c1c1"/>
<rect x="198.97" y="123.75" width="1.05" height="20.1" fill="#d19a9a"/>
<rect x="199.97" y="123.75" width="1.05" height="20.1" fill="#dcb3b3"/>
<rect x="200.97" y="123.75" width="1.05" height="20.1" fill="#ca8a8a"/>
<rect x="201.98" y="123.75" width="1.05" height="20.1" fill="#c78383"/>
<rect x="202.98" y="123.75" width="1.05" height="20.1" fill="#cf9595"/>
<rect x="203.98" y="123.75" width="1.05" height="20.1" fill="#c98989"/>
<rect x="204.98" y="123.75" width="1.05" height="20.1" fill="#c88787"/>
<rect x="205.99" y="123.75" width="1.05" height="20.1" fill="#cf9595"/>
<rect x="206.99" y="123.75" width="1.05" height="20.1" fill="#d29c9c"/>
<rect x="207.99" y="123.75" width="1.05" height="20.1" fill="#cc8e8e"/>
<rect x="209" y="123.75" width="1.05" height="20.1" fill="#b25454"/>
<rect x="76.6" y="143.8" width="1.05" height="20.1" fill="#bdc6e2"/>
<rect x="77.6" y="143.8" width="1.05" height="20.1" fill="#c8cfe7"/>
<rect x="78.61" y="143.8" width="1.05" height="20.1" fill="#d7dbed"/>
<rect x="79.61" y="143.8" width="1.05" height="20.1" fill="#718ac4"/>
<rect x="80.61" y="143.8" width="1.05" height="20.1" fill="#adb9dc"/>
<rect x="81.62" y="143.8" width="1.05" height="20.1" fill="#dbdfee"/>
<rect x="82.62" y="143.8" width="1.05" height="20.1" fill="#d3d8eb"/>
<rect x="83.62" y="143.8" width="1.05" height="20.1" fill="#c4cce5"/>
<rect x="84.62" y="143.8" width="1.05" height="20.1" fill="#c3cbe5"/>
<rect x="85.63" y="143.8" width="1.05" height="20.1" fill="#b1bdde"/>
<rect x="86.63" y="143.8" width="1.05" height="20.1" fill="#e0e3ef"/>
<rect x="87.63" y="143.8" width="1.05" height="20.1" fill="#e4e5f0"/>
<rect x="88.64" y="143.8" width="1.05" height="20.1" fill="#dfe2ef"/>
<rect x="89.64" y="143.8" width="1.05" height="20.1" fill="#d2d8eb"/>
<rect x="90.64" y="143.8" width="1.05" height="20.1" fill="#bdc6e2"/>
<rect x="91.65" y="143.8" width="1.05" height="20.1" fill="#d8dcee"/>
<rect x="92.65" y="143.8" width="1.05" height="20.1" fill="#eaeaf1"/>
<rect x="93.65" y="143.8" width="1.05" height="20.1" fill="#dde0ef"/>
<rect x="94.65" y="143.8" width="1.05" height="20.1" fill="#c1c9e4"/>
<rect x="95.66" y="143.8" width="1.05" height="20.1" fill="#c2cae5"/>
<rect x="96.66" y="143.8" width="1.05" height="20.1" fill="#c6cde6"/>
<rect x="97.66" y="143.8" width="1.05" height="20.1" fill="#a5b3d9"/>
<rect x="98.67" y="143.8" width="1.05" height="20.1" fill="#dadeee"/>
<rect x="99.67" y="143.8" width="1.05" height="20.1" fill="#cad0e8"/>
<rect x="100.67" y="143.8" width="1.05" height="20.1" fill="#889ece"/>
<rect x="101.68" y="143.8" width="1.05" height="20.1" fill="#a1b1d8"/>
<rect x="102.68" y="143.8" width="1.05" height="20.1" fill="#c3cbe5"/>
<rect x="103.68" y="143.8" width="1.05" height="20.1" fill="#c2cae4"/>
<rect x="104.68" y="143.8" width="1.05" height="20.1" fill="#c4cbe5"/>
<rect x="105.69" y="143.8" width="1.05" height="20.1" fill="#e1e3f0"/>
<rect x="106.69" y="143.8" width="1.05" height="20.1" fill="#d4d9ec"/>
<rect x="107.69" y="143.8" width="1.05" height="20.1" fill="#d1d6eb"/>
<rect x="108.7" y="143.8" width="1.05" height="20.1" fill="#ced4ea"/>
<rect x="109.7" y="143.8" width="1.05" height="20.1" fill="#dcdfef"/>
<rect x="110.7" y="143.8" width="1.05" height="20.1" fill="#f1ebed"/>
<rect x="111.71" y="143.8" width="1.05" height="20.1" fill="#d3d8ec"/>
<rect x="112.71" y="143.8" width="1.05" height="20.1" fill="#e0e2ef"/>
<rect x="113.71" y="143.8" width="1.05" height="20.1" fill="#ecebf2"/>
<rect x="114.71" y="143.8" width="1.05" height="20.1" fill="#c6cee6"/>
<rect x="115.72" y="143.8" width="1.05" height="20.1" fill="#ecebf2"/>
<rect x="116.72" y="143.8" width="1.05" height="20.1" fill="#f0eaec"/>
<rect x="117.72" y="143.8" width="1.05" height="20.1" fill="#e5e6f0"/>
<rect x="118.73" y="143.8" width="1.05" height="20.1" fill="#e0e2ef"/>
<rect x="119.73" y="143.8" width="1.05" height="20.1" fill="#dadeee"/>
<rect x="120.73" y="143.8" width="1.05" height="20.1" fill="#e6e7f1"/>
<rect x="121.74" y="143.8" width="1.05" height="20.1" fill="#e8e9f1"/>
<rect x="122.74" y="143.8" width="1.05" height="20.1" fill="#d2d7eb"/>
<rect x="123.74" y="143.8" width="1.05" height="20.1" fill="#f0eaec"/>
<rect x="124.74" y="143.8" width="1.05" height="20.1" fill="#efe3e4"/>
<rect x="125.75" y="143.8" width="1.05" height="20.1" fill="#d2d7eb"/>
<rect x="126.75" y="143.8" width="1.05" height="20.1" fill="#ebd7d7"/>
<rect x="127.75" y="143.8" width="1.05" height="20.1" fill="#f1ebee"/>
<rect x="128.76" y="143.8" width="1.05" height="20.1" fill="#ecebf2"/>
<rect x="129.76" y="143.8" width="1.05" height="20.1" fill="#edecf2"/>
<rect x="130.76" y="143.8" width="1.05" height="20.1" fill="#ead5d5"/>
<rect x="131.77" y="143.8" width="1.05" height="20.1" fill="#e8e9f1"/>
<rect x="132.77" y="143.8" width="1.05" height="20.1" fill="#dee1ef"/>
<rect x="133.77" y="143.8" width="1.05" height="20.1" fill="#f1ebee"/>
<rect x="134.77" y="143.8" width="1.05" height="20.1" fill="#d6daed"/>
<rect x="135.78" y="143.8" width="1.05" height="20.1" fill="#f2f0f3"/>
<rect x="136.78" y="143.8" width="1.05" height="20.1" fill="#e6e7f1"/>
<rect x="137.78" y="143.8" width="1.05" height="20.1" fill="#e8e8f1"/>
<rect x="138.79" y="143.8" width="1.05" height="20.1" fill="#f1ecee"/>
<rect x="139.79" y="143.8" width="1.05" height="20.1" fill="#e6e7f1"/>
<rect x="140.79" y="143.8" width="1.05" height="20.1" fill="#f2eff2"/>
<rect x="141.8" y="143.8" width="1.05" height="20.1" fill="#e0e2ef"/>
<rect x="142.8" y="143.8" width="1.05" height="20.1" fill="#f2eff2"/>
<rect x="143.8" y="143.8" width="1.05" height="20.1" fill="#f0e7e8"/>
<rect x="144.8" y="143.8" width="1.05" height="20.1" fill="#efe4e5"/>
<rect x="145.81" y="143.8" width="1.05" height="20.1" fill="#e6e7f1"/>
<rect x="146.81" y="143.8" width="1.05" height="20.1" fill="#f1eaed"/>
<rect x="147.81" y="143.8" width="1.05" height="20.1" fill="#f0eaec"/>
<rect x="148.82" y="143.8" width="2.06" height="20.1" fill="#efe2e3"/>
<rect x="150.82" y="143.8" width="2.06" height="20.1" fill="#ecd9d9"/>
<rect x="152.83" y="143.8" width="1.05" height="20.1" fill="#e2e4f0"/>
<rect x="153.83" y="143.8" width="1.05" height="20.1" fill="#eddcdd"/>
<rect x="154.83" y="143.8" width="1.05" height="20.1" fill="#eaeaf1"/>
<rect x="155.84" y="143.8" width="1.05" height="20.1" fill="#ead6d6"/>
<rect x="156.84" y="143.8" width="1.05" height="20.1" fill="#e5e6f0"/>
<rect x="157.84" y="143.8" width="1.05" height="20.1" fill="#eedfdf"/>
<rect x="158.85" y="143.8" width="1.05" height="20.1" fill="#efe5e6"/>
<rect x="159.85" y="143.8" width="1.05" height="20.1" fill="#eddddd"/>
<rect x="160.85" y="143.8" width="1.05" height="20.1" fill="#ead5d5"/>
<rect x="161.86" y="143.8" width="1.05" height="20.1" fill="#e4e5f0"/>
<rect x="162.86" y="143.8" width="1.05" height="20.1" fill="#e8e9f1"/>
<rect x="163.86" y="143.8" width="1.05" height="20.1" fill="#f2eff2"/>
<rect x="164.86" y="143.8" width="1.05" height="20.1" fill="#e8d1d1"/>
<rect x="165.87" y="143.8" width="1.05" height="20.1" fill="#eddbdb"/>
<rect x="166.87" y="143.8" width="1.05" height="20.1" fill="#ddb6b6"/>
<rect x="167.87" y="143.8" width="1.05" height="20.1" fill="#dee1ef"/>
<rect x="168.88" y="143.8" width="1.05" height="20.1" fill="#f2eef1"/>
<rect x="169.88" y="143.8" width="1.05" height="20.1" fill="#e8d1d1"/>
<rect x="170.88" y="143.8" width="1.05" height="20.1" fill="#e6cccc"/>
<rect x="171.89" y="143.8" width="1.05" height="20.1" fill="#e8d1d1"/>
<rect x="172.89" y="143.8" width="1.05" height="20.1" fill="#f2eef1"/>
<rect x="173.89" y="143.8" width="1.05" height="20.1" fill="#efe6e7"/>
<rect x="174.89" y="143.8" width="1.05" height="20.1" fill="#f0eff3"/>
<rect x="175.9" y="143.8" width="1.05" height="20.1" fill="#f1ecee"/>
<rect x="176.9" y="143.8" width="1.05" height="20.1" fill="#f2f0f3"/>
<rect x="177.9" y="143.8" width="1.05" height="20.1" fill="#f0e7e8"/>
<rect x="178.91" y="143.8" width="1.05" height="20.1" fill="#e9d3d3"/>
<rect x="179.91" y="143.8" width="1.05" height="20.1" fill="#efe3e4"/>
<rect x="180.91" y="143.8" width="1.05" height="20.1" fill="#f0eff3"/>
<rect x="181.92" y="143.8" width="1.05" height="20.1" fill="#e5c8c8"/>
<rect x="182.92" y="143.8" width="1.05" height="20.1" fill="#efe5e7"/>
<rect x="183.92" y="143.8" width="1.05" height="20.1" fill="#ead5d5"/>
<rect x="184.92" y="143.8" width="1.05" height="20.1" fill="#e3c4c4"/>
<rect x="185.93" y="143.8" width="1.05" height="20.1" fill="#e9d3d3"/>
<rect x="186.93" y="143.8" width="1.05" height="20.1" fill="#e6cbcb"/>
<rect x="187.93" y="143.8" width="1.05" height="20.1" fill="#ebd7d7"/>
<rect x="188.94" y="143.8" width="1.05" height="20.1" fill="#deb9b9"/>
<rect x="189.94" y="143.8" width="1.05" height="20.1" fill="#ddb5b5"/>
<rect x="190.94" y="143.8" width="1.05" height="20.1" fill="#e6cccc"/>
<rect x="191.95" y="143.8" width="1.05" height="20.1" fill="#eddbdb"/>
<rect x="192.95" y="143.8" width="1.05" height="20.1" fill="#d8a9a9"/>
<rect x="193.95" y="143.8" width="1.05" height="20.1" fill="#c68282"/>
<rect x="194.95" y="143.8" width="1.05" height="20.1" fill="#e8d0d0"/>
<rect x="195.96" y="143.8" width="1.05" height="20.1" fill="#e0bdbd"/>
<rect x="196.96" y="143.8" width="1.05" height="20.1" fill="#ddb6b6"/>
<rect x="197.96" y="143.8" width="1.05" height="20.1" fill="#ce9494"/>
<rect x="198.97" y="143.8" width="1.05" height="20.1" fill="#cb8c8c"/>
<rect x="199.97" y="143.8" width="1.05" height="20.1" fill="#cf9595"/>
<rect x="200.97" y="143.8" width="1.05" height="20.1" fill="#d09898"/>
<rect x="201.98" y="143.8" width="1.05" height="20.1" fill="#c37a7a"/>
<rect x="202.98" y="143.8" width="1.05" height="20.1" fill="#d9acac"/>
<rect x="203.98" y="143.8" width="1.05" height="20.1" fill="#c27777"/>
<rect x="204.98" y="143.8" width="1.05" height="20.1" fill="#d39e9e"/>
<rect x="205.99" y="143.8" width="1.05" height="20.1" fill="#cb8d8d"/>
<rect x="206.99" y="143.8" width="1.05" height="20.1" fill="#d5a2a2"/>
<rect x="207.99" y="143.8" width="1.05" height="20.1" fill="#cb8d8d"/>
<rect x="209" y="143.8" width="1.05" height="20.1" fill="#b35555"/>
<rect x="76.6" y="163.85" width="1.05" height="20.1" fill="#d2d7eb"/>
<rect x="77.6" y="163.85" width="1.05" height="20.1" fill="#a0b0d8"/>
<rect x="78.61" y="163.85" width="1.05" height="20.1" fill="#ced4e9"/>
<rect x="79.61" y="163.85" width="1.05" height="20.1" fill="#6a85c1"/>
<rect x="80.61" y="163.85" width="1.05" height="20.1" fill="#869bcd"/>
<rect x="81.62" y="163.85" width="1.05" height="20.1" fill="#d4d9ec"/>
<rect x="82.62" y="163.85" width="1.05" height="20.1" fill="#c8cfe7"/>
<rect x="83.62" y="163.85" width="1.05" height="20.1" fill="#a8b6db"/>
<rect x="84.62" y="163.85" width="1.05" height="20.1" fill="#afbbdd"/>
<rect x="85.63" y="163.85" width="1.05" height="20.1" fill="#d2d7eb"/>
<rect x="86.63" y="163.85" width="1.05" height="20.1" fill="#eaeaf1"/>
<rect x="87.63" y="163.85" width="1.05" height="20.1" fill="#ccd2e9"/>
<rect x="88.64" y="163.85" width="1.05" height="20.1" fill="#e5e6f0"/>
<rect x="89.64" y="163.85" width="1.05" height="20.1" fill="#d5daed"/>
<rect x="90.64" y="163.85" width="1.05" height="20.1" fill="#b1bcde"/>
<rect x="91.65" y="163.85" width="1.05" height="20.1" fill="#d1d7eb"/>
<rect x="92.65" y="163.85" width="1.05" height="20.1" fill="#dfe1ef"/>
<rect x="93.65" y="163.85" width="1.05" height="20.1" fill="#d3d8ec"/>
<rect x="94.65" y="163.85" width="1.05" height="20.1" fill="#b4bfdf"/>
<rect x="95.66" y="163.85" width="1.05" height="20.1" fill="#a1b0d8"/>
<rect x="96.66" y="163.85" width="1.05" height="20.1" fill="#93a6d3"/>
<rect x="97.66" y="163.85" width="1.05" height="20.1" fill="#96a9d4"/>
<rect x="98.67" y="163.85" width="1.05" height="20.1" fill="#e5e6f0"/>
<rect x="99.67" y="163.85" width="1.05" height="20.1" fill="#a4b3d9"/>
<rect x="100.67" y="163.85" width="1.05" height="20.1" fill="#778fc7"/>
<rect x="101.68" y="163.85" width="1.05" height="20.1" fill="#c0c9e4"/>
<rect x="102.68" y="163.85" width="1.05" height="20.1" fill="#afbbdd"/>
<rect x="103.68" y="163.85" width="1.05" height="20.1" fill="#d7dced"/>
<rect x="104.68" y="163.85" width="1.05" height="20.1" fill="#e1e3f0"/>
<rect x="105.69" y="163.85" width="1.05" height="20.1" fill="#dcdfef"/>
<rect x="106.69" y="163.85" width="1.05" height="20.1" fill="#cfd5ea"/>
<rect x="107.69" y="163.85" width="1.05" height="20.1" fill="#e8e8f1"/>
<rect x="108.7" y="163.85" width="1.05" height="20.1" fill="#eaeaf1"/>
<rect x="109.7" y="163.85" width="1.05" height="20.1" fill="#e7e8f1"/>
<rect x="110.7" y="163.85" width="1.05" height="20.1" fill="#eeedf2"/>
<rect x="111.71" y="163.85" width="1.05" height="20.1" fill="#dcdfef"/>
<rect x="112.71" y="163.85" width="1.05" height="20.1" fill="#d7dbed"/>
<rect x="113.71" y="163.85" width="1.05" height="20.1" fill="#d1d7eb"/>
<rect x="114.71" y="163.85" width="1.05" height="20.1" fill="#c0c9e4"/>
<rect x="115.72" y="163.85" width="1.05" height="20.1" fill="#c1c9e4"/>
<rect x="116.72" y="163.85" width="1.05" height="20.1" fill="#e5e6f0"/>
<rect x="117.72" y="163.85" width="1.05" height="20.1" fill="#d0d5ea"/>
<rect x="118.73" y="163.85" width="1.05" height="20.1" fill="#e5e6f0"/>
<rect x="119.73" y="163.85" width="1.05" height="20.1" fill="#d3d8ec"/>
<rect x="120.73" y="163.85" width="1.05" height="20.1" fill="#d0d6ea"/>
<rect x="121.74" y="163.85" width="1.05" height="20.1" fill="#e9e9f1"/>
<rect x="122.74" y="163.85" width="1.05" height="20.1" fill="#bdc6e3"/>
<rect x="123.74" y="163.85" width="1.05" height="20.1" fill="#edecf2"/>
<rect x="124.74" y="163.85" width="1.05" height="20.1" fill="#f1ecee"/>
<rect x="125.75" y="163.85" width="1.05" height="20.1" fill="#f2eff2"/>
<rect x="126.75" y="163.85" width="1.05" height="20.1" fill="#eddddd"/>
<rect x="127.75" y="163.85" width="1.05" height="20.1" fill="#f1eaec"/>
<rect x="128.76" y="163.85" width="1.05" height="20.1" fill="#f1eef0"/>
<rect x="129.76" y="163.85" width="1.05" height="20.1" fill="#f0eff3"/>
<rect x="130.76" y="163.85" width="1.05" height="20.1" fill="#eddddd"/>
<rect x="131.77" y="163.85" width="1.05" height="20.1" fill="#d2d7eb"/>
<rect x="132.77" y="163.85" width="1.05" height="20.1" fill="#f0e7e8"/>
<rect x="133.77" y="163.85" width="1.05" height="20.1" fill="#f1edf0"/>
<rect x="134.77" y="163.85" width="1.05" height="20.1" fill="#d9ddee"/>
<rect x="135.78" y="163.85" width="1.05" height="20.1" fill="#f1eff3"/>
<rect x="136.78" y="163.85" width="1.05" height="20.1" fill="#eddcdc"/>
<rect x="137.78" y="163.85" width="1.05" height="20.1" fill="#f2eff2"/>
<rect x="138.79" y="163.85" width="1.05" height="20.1" fill="#efeef2"/>
<rect x="139.79" y="163.85" width="1.05" height="20.1" fill="#f1edef"/>
<rect x="140.79" y="163.85" width="1.05" height="20.1" fill="#efe4e5"/>
<rect x="141.8" y="163.85" width="1.05" height="20.1" fill="#eeedf2"/>
<rect x="142.8" y="163.85" width="1.05" height="20.1" fill="#efe2e3"/>
<rect x="143.8" y="163.85" width="1.05" height="20.1" fill="#efe3e4"/>
<rect x="144.8" y="163.85" width="1.05" height="20.1" fill="#e8e8f1"/>
<rect x="145.81" y="163.85" width="1.05" height="20.1" fill="#efeef2"/>
<rect x="146.81" y="163.85" width="1.05" height="20.1" fill="#f1edf0"/>
<rect x="147.81" y="163.85" width="1.05" height="20.1" fill="#eee2e2"/>
<rect x="148.82" y="163.85" width="1.05" height="20.1" fill="#e6e7f1"/>
<rect x="149.82" y="163.85" width="1.05" height="20.1" fill="#f1eef0"/>
<rect x="150.82" y="163.85" width="1.05" height="20.1" fill="#eddcdc"/>
<rect x="151.83" y="163.85" width="1.05" height="20.1" fill="#e1c0c0"/>
<rect x="152.83" y="163.85" width="1.05" height="20.1" fill="#eeedf2"/>
<rect x="153.83" y="163.85" width="1.05" height="20.1" fill="#ecdada"/>
<rect x="154.83" y="163.85" width="1.05" height="20.1" fill="#e8d0d0"/>
<rect x="155.84" y="163.85" width="1.05" height="20.1" fill="#efeef2"/>
<rect x="156.84" y="163.85" width="1.05" height="20.1" fill="#d3d8ec"/>
<rect x="157.84" y="163.85" width="1.05" height="20.1" fill="#eddcdc"/>
<rect x="158.85" y="163.85" width="1.05" height="20.1" fill="#eaeaf1"/>
<rect x="159.85" y="163.85" width="1.05" height="20.1" fill="#e7cece"/>
<rect x="160.85" y="163.85" width="1.05" height="20.1" fill="#ddb6b6"/>
<rect x="161.86" y="163.85" width="1.05" height="20.1" fill="#d8ddee"/>
<rect x="162.86" y="163.85" width="1.05" height="20.1" fill="#e4c7c7"/>
<rect x="163.86" y="163.85" width="1.05" height="20.1" fill="#eedfe0"/>
<rect x="164.86" y="163.85" width="1.05" height="20.1" fill="#ead4d4"/>
<rect x="165.87" y="163.85" width="1.05" height="20.1" fill="#e5c8c8"/>
<rect x="166.87" y="163.85" width="1.05" height="20.1" fill="#d5a4a4"/>
<rect x="167.87" y="163.85" width="1.05" height="20.1" fill="#eeedf2"/>
<rect x="168.88" y="163.85" width="1.05" height="20.1" fill="#f1ebee"/>
<rect x="169.88" y="163.85" width="1.05" height="20.1" fill="#ead4d4"/>
<rect x="170.88" y="163.85" width="1.05" height="20.1" fill="#eddcdc"/>
<rect x="171.89" y="163.85" width="1.05" height="20.1" fill="#e9d2d2"/>
<rect x="172.89" y="163.85" width="1.05" height="20.1" fill="#f0e7e9"/>
<rect x="173.89" y="163.85" width="1.05" height="20.1" fill="#ead4d4"/>
<rect x="174.89" y="163.85" width="1.05" height="20.1" fill="#ebd7d7"/>
<rect x="175.9" y="163.85" width="1.05" height="20.1" fill="#f0eaec"/>
<rect x="176.9" y="163.85" width="1.05" height="20.1" fill="#e9d3d3"/>
<rect x="177.9" y="163.85" width="1.05" height="20.1" fill="#eee2e2"/>
<rect x="178.91" y="163.85" width="1.05" height="20.1" fill="#e5c9c9"/>
<rect x="179.91" y="163.85" width="1.05" height="20.1" fill="#f1ecef"/>
<rect x="180.91" y="163.85" width="1.05" height="20.1" fill="#ead6d6"/>
<rect x="181.92" y="163.85" width="1.05" height="20.1" fill="#f2eff2"/>
<rect x="182.92" y="163.85" width="1.05" height="20.1" fill="#ecdada"/>
<rect x="183.92" y="163.85" width="1.05" height="20.1" fill="#e6cbcb"/>
<rect x="184.92" y="163.85" width="2.06" height="20.1" fill="#f1edef"/>
<rect x="186.93" y="163.85" width="1.05" height="20.1" fill="#deb7b7"/>
<rect x="187.93" y="163.85" width="1.05" height="20.1" fill="#deb8b8"/>
<rect x="188.94" y="163.85" width="1.05" height="20.1" fill="#e0bcbc"/>
<rect x="189.94" y="163.85" width="1.05" height="20.1" fill="#eddede"/>
<rect x="190.94" y="163.85" width="1.05" height="20.1" fill="#e8d1d1"/>
<rect x="191.95" y="163.85" width="1.05" height="20.1" fill="#e9d2d2"/>
<rect x="192.95" y="163.85" width="1.05" height="20.1" fill="#d9aeae"/>
<rect x="193.95" y="163.85" width="1.05" height="20.1" fill="#d19a9a"/>
<rect x="194.95" y="163.85" width="1.05" height="20.1" fill="#daafaf"/>
<rect x="195.96" y="163.85" width="1.05" height="20.1" fill="#d7a7a7"/>
<rect x="196.96" y="163.85" width="1.05" height="20.1" fill="#ce9393"/>
<rect x="197.96" y="163.85" width="1.05" height="20.1" fill="#dfbbbb"/>
<rect x="198.97" y="163.85" width="2.06" height="20.1" fill="#d4a1a1"/>
<rect x="200.97" y="163.85" width="1.05" height="20.1" fill="#d6a6a6"/>
<rect x="201.98" y="163.85" width="1.05" height="20.1" fill="#be6e6e"/>
<rect x="202.98" y="163.85" width="1.05" height="20.1" fill="#c98787"/>
<rect x="203.98" y="163.85" width="1.05" height="20.1" fill="#c47c7c"/>
<rect x="204.98" y="163.85" width="1.05" height="20.1" fill="#bd6c6c"/>
<rect x="205.99" y="163.85" width="1.05" height="20.1" fill="#ba6464"/>
<rect x="206.99" y="163.85" width="1.05" height="20.1" fill="#c88585"/>
<rect x="207.99" y="163.85" width="1.05" height="20.1" fill="#be6d6d"/>
<rect x="209" y="163.85" width="1.05" height="20.1" fill="#ae4d4d"/>
<rect x="76.6" y="183.9" width="1.05" height="20.1" fill="#bfc8e3"/>
<rect x="77.6" y="183.9" width="1.05" height="20.1" fill="#c5cce6"/>
<rect x="78.61" y="183.9" width="1.05" height="20.1" fill="#e9e9f1"/>
<rect x="79.61" y="183.9" width="1.05" height="20.1" fill="#93a6d3"/>
<rect x="80.61" y="183.9" width="1.05" height="20.1" fill="#b6c0e0"/>
<rect x="81.62" y="183.9" width="1.05" height="20.1" fill="#ced4ea"/>
<rect x="82.62" y="183.9" width="1.05" height="20.1" fill="#e9e9f1"/>
<rect x="83.62" y="183.9" width="1.05" height="20.1" fill="#dfe2ef"/>
<rect x="84.62" y="183.9" width="1.05" height="20.1" fill="#d9ddee"/>
<rect x="85.63" y="183.9" width="1.05" height="20.1" fill="#bbc4e2"/>
<rect x="86.63" y="183.9" width="1.05" height="20.1" fill="#f1eff3"/>
<rect x="87.63" y="183.9" width="1.05" height="20.1" fill="#d8dced"/>
<rect x="88.64" y="183.9" width="1.05" height="20.1" fill="#d9ddee"/>
<rect x="89.64" y="183.9" width="1.05" height="20.1" fill="#e3e5f0"/>
<rect x="90.64" y="183.9" width="1.05" height="20.1" fill="#cbd1e8"/>
<rect x="91.65" y="183.9" width="1.05" height="20.1" fill="#d2d7eb"/>
<rect x="92.65" y="183.9" width="1.05" height="20.1" fill="#f0eef3"/>
<rect x="93.65" y="183.9" width="1.05" height="20.1" fill="#d1d6eb"/>
<rect x="94.65" y="183.9" width="1.05" height="20.1" fill="#d5d9ec"/>
<rect x="95.66" y="183.9" width="1.05" height="20.1" fill="#c0c8e3"/>
<rect x="96.66" y="183.9" width="1.05" height="20.1" fill="#bdc5e2"/>
<rect x="97.66" y="183.9" width="1.05" height="20.1" fill="#aab7db"/>
<rect x="98.67" y="183.9" width="1.05" height="20.1" fill="#d3d8eb"/>
<rect x="99.67" y="183.9" width="1.05" height="20.1" fill="#acb9dc"/>
<rect x="100.67" y="183.9" width="1.05" height="20.1" fill="#c0c8e4"/>
<rect x="101.68" y="183.9" width="1.05" height="20.1" fill="#c1c9e4"/>
<rect x="102.68" y="183.9" width="1.05" height="20.1" fill="#ccd2e9"/>
<rect x="103.68" y="183.9" width="1.05" height="20.1" fill="#dbdeee"/>
<rect x="104.68" y="183.9" width="1.05" height="20.1" fill="#cad1e8"/>
<rect x="105.69" y="183.9" width="1.05" height="20.1" fill="#e4e6f0"/>
<rect x="106.69" y="183.9" width="1.05" height="20.1" fill="#cfd5ea"/>
<rect x="107.69" y="183.9" width="1.05" height="20.1" fill="#dee1ef"/>
<rect x="108.7" y="183.9" width="1.05" height="20.1" fill="#d1d7eb"/>
<rect x="109.7" y="183.9" width="1.05" height="20.1" fill="#ebebf2"/>
<rect x="110.7" y="183.9" width="1.05" height="20.1" fill="#ecebf2"/>
<rect x="111.71" y="183.9" width="1.05" height="20.1" fill="#cdd3e9"/>
<rect x="112.71" y="183.9" width="1.05" height="20.1" fill="#d2d7eb"/>
<rect x="113.71" y="183.9" width="1.05" height="20.1" fill="#d4d9ec"/>
<rect x="114.71" y="183.9" width="1.05" height="20.1" fill="#e0e2ef"/>
<rect x="115.72" y="183.9" width="1.05" height="20.1" fill="#dfe1ef"/>
<rect x="116.72" y="183.9" width="1.05" height="20.1" fill="#eeedf2"/>
<rect x="117.72" y="183.9" width="1.05" height="20.1" fill="#d0d5ea"/>
<rect x="118.73" y="183.9" width="1.05" height="20.1" fill="#d2d7eb"/>
<rect x="119.73" y="183.9" width="1.05" height="20.1" fill="#cfd5ea"/>
<rect x="120.73" y="183.9" width="1.05" height="20.1" fill="#dadeee"/>
<rect x="121.74" y="183.9" width="1.05" height="20.1" fill="#d5daec"/>
<rect x="122.74" y="183.9" width="1.05" height="20.1" fill="#d7dbed"/>
<rect x="123.74" y="183.9" width="1.05" height="20.1" fill="#e8e8f1"/>
<rect x="124.74" y="183.9" width="1.05" height="20.1" fill="#e1e3f0"/>
<rect x="125.75" y="183.9" width="1.05" height="20.1" fill="#d6daed"/>
<rect x="126.75" y="183.9" width="1.05" height="20.1" fill="#f0e7e8"/>
<rect x="127.75" y="183.9" width="1.05" height="20.1" fill="#f1edef"/>
<rect x="128.76" y="183.9" width="1.05" height="20.1" fill="#f2f0f2"/>
<rect x="129.76" y="183.9" width="1.05" height="20.1" fill="#ecd9d9"/>
<rect x="130.76" y="183.9" width="1.05" height="20.1" fill="#f1edf0"/>
<rect x="131.77" y="183.9" width="1.05" height="20.1" fill="#dee1ef"/>
<rect x="132.77" y="183.9" width="1.05" height="20.1" fill="#e9e9f1"/>
<rect x="133.77" y="183.9" width="1.05" height="20.1" fill="#f2f0f3"/>
<rect x="134.77" y="183.9" width="1.05" height="20.1" fill="#dfe2ef"/>
<rect x="135.78" y="183.9" width="1.05" height="20.1" fill="#f0e8ea"/>
<rect x="136.78" y="183.9" width="1.05" height="20.1" fill="#ebebf2"/>
<rect x="137.78" y="183.9" width="1.05" height="20.1" fill="#efe5e6"/>
<rect x="138.79" y="183.9" width="1.05" height="20.1" fill="#edecf2"/>
<rect x="139.79" y="183.9" width="1.05" height="20.1" fill="#dadeee"/>
<rect x="140.79" y="183.9" width="1.05" height="20.1" fill="#cfd5ea"/>
<rect x="141.8" y="183.9" width="1.05" height="20.1" fill="#eee0e1"/>
<rect x="142.8" y="183.9" width="1.05" height="20.1" fill="#eee0e0"/>
<rect x="143.8" y="183.9" width="1.05" height="20.1" fill="#f2eff2"/>
<rect x="144.8" y="183.9" width="1.05" height="20.1" fill="#e6e7f1"/>
<rect x="145.81" y="183.9" width="1.05" height="20.1" fill="#dfe2ef"/>
<rect x="146.81" y="183.9" width="1.05" height="20.1" fill="#e9d2d2"/>
<rect x="147.81" y="183.9" width="1.05" height="20.1" fill="#dcdfef"/>
<rect x="148.82" y="183.9" width="1.05" height="20.1" fill="#f2f0f3"/>
<rect x="149.82" y="183.9" width="1.05" height="20.1" fill="#eddbdb"/>
<rect x="150.82" y="183.9" width="1.05" height="20.1" fill="#eddcdc"/>
<rect x="151.83" y="183.9" width="1.05" height="20.1" fill="#e7cdcd"/>
<rect x="152.83" y="183.9" width="1.05" height="20.1" fill="#e5e6f0"/>
<rect x="153.83" y="183.9" width="1.05" height="20.1" fill="#e3c3c3"/>
<rect x="154.83" y="183.9" width="1.05" height="20.1" fill="#f1eef1"/>
<rect x="155.84" y="183.9" width="1.05" height="20.1" fill="#eaeaf1"/>
<rect x="156.84" y="183.9" width="1.05" height="20.1" fill="#f2eff1"/>
<rect x="157.84" y="183.9" width="1.05" height="20.1" fill="#e5c8c8"/>
<rect x="158.85" y="183.9" width="1.05" height="20.1" fill="#ededf2"/>
<rect x="159.85" y="183.9" width="1.05" height="20.1" fill="#ead4d4"/>
<rect x="160.85" y="183.9" width="1.05" height="20.1" fill="#edddde"/>
<rect x="161.86" y="183.9" width="1.05" height="20.1" fill="#dde0ef"/>
<rect x="162.86" y="183.9" width="1.05" height="20.1" fill="#ecd8d8"/>
<rect x="163.86" y="183.9" width="1.05" height="20.1" fill="#eee1e2"/>
<rect x="164.86" y="183.9" width="1.05" height="20.1" fill="#e8cfcf"/>
<rect x="165.87" y="183.9" width="1.05" height="20.1" fill="#ebd7d7"/>
<rect x="166.87" y="183.9" width="1.05" height="20.1" fill="#ecd9d9"/>
<rect x="167.87" y="183.9" width="1.05" height="20.1" fill="#dee1ef"/>
<rect x="168.88" y="183.9" width="1.05" height="20.1" fill="#f0e9eb"/>
<rect x="169.88" y="183.9" width="1.05" height="20.1" fill="#e9d2d2"/>
<rect x="170.88" y="183.9" width="1.05" height="20.1" fill="#e4c7c7"/>
<rect x="171.89" y="183.9" width="1.05" height="20.1" fill="#f1eaec"/>
<rect x="172.89" y="183.9" width="1.05" height="20.1" fill="#efe5e6"/>
<rect x="173.89" y="183.9" width="1.05" height="20.1" fill="#eddbdb"/>
<rect x="174.89" y="183.9" width="1.05" height="20.1" fill="#edddde"/>
<rect x="175.9" y="183.9" width="1.05" height="20.1" fill="#eee0e1"/>
<rect x="176.9" y="183.9" width="1.05" height="20.1" fill="#f0e7e8"/>
<rect x="177.9" y="183.9" width="1.05" height="20.1" fill="#e8d1d1"/>
<rect x="178.91" y="183.9" width="1.05" height="20.1" fill="#ebd7d7"/>
<rect x="179.91" y="183.9" width="1.05" height="20.1" fill="#ecdada"/>
<rect x="180.91" y="183.9" width="1.05" height="20.1" fill="#efe4e5"/>
<rect x="181.92" y="183.9" width="1.05" height="20.1" fill="#efe3e4"/>
<rect x="182.92" y="183.9" width="1.05" height="20.1" fill="#eedfdf"/>
<rect x="183.92" y="183.9" width="1.05" height="20.1" fill="#eee0e1"/>
<rect x="184.92" y="183.9" width="1.05" height="20.1" fill="#e8d0d0"/>
<rect x="185.93" y="183.9" width="1.05" height="20.1" fill="#efe5e6"/>
<rect x="186.93" y="183.9" width="1.05" height="20.1" fill="#dcb3b3"/>
<rect x="187.93" y="183.9" width="1.05" height="20.1" fill="#e5c8c8"/>
<rect x="188.94" y="183.9" width="1.05" height="20.1" fill="#dbb1b1"/>
<rect x="189.94" y="183.9" width="1.05" height="20.1" fill="#e3c4c4"/>
<rect x="190.94" y="183.9" width="1.05" height="20.1" fill="#e5caca"/>
<rect x="191.95" y="183.9" width="1.05" height="20.1" fill="#ebd8d8"/>
<rect x="192.95" y="183.9" width="1.05" height="20.1" fill="#e3c4c4"/>
<rect x="193.95" y="183.9" width="1.05" height="20.1" fill="#c58080"/>
<rect x="194.95" y="183.9" width="1.05" height="20.1" fill="#ead4d4"/>
<rect x="195.96" y="183.9" width="1.05" height="20.1" fill="#e1bfbf"/>
<rect x="196.96" y="183.9" width="1.05" height="20.1" fill="#d39f9f"/>
<rect x="197.96" y="183.9" width="1.05" height="20.1" fill="#dbb1b1"/>
<rect x="198.97" y="183.9" width="1.05" height="20.1" fill="#d5a3a3"/>
<rect x="199.97" y="183.9" width="1.05" height="20.1" fill="#d29d9d"/>
<rect x="200.97" y="183.9" width="1.05" height="20.1" fill="#ca8a8a"/>
<rect x="201.98" y="183.9" width="1.05" height="20.1" fill="#c88686"/>
<rect x="202.98" y="183.9" width="1.05" height="20.1" fill="#bc6a6a"/>
<rect x="203.98" y="183.9" width="1.05" height="20.1" fill="#cd9191"/>
<rect x="204.98" y="183.9" width="1.05" height="20.1" fill="#cb8d8d"/>
<rect x="205.99" y="183.9" width="1.05" height="20.1" fill="#c88686"/>
<rect x="206.99" y="183.9" width="1.05" height="20.1" fill="#d6a5a5"/>
<rect x="207.99" y="183.9" width="1.05" height="20.1" fill="#ca8a8a"/>
<rect x="209" y="183.9" width="1.05" height="20.1" fill="#b15252"/>
<rect x="76.6" y="203.95" width="1.05" height="20.1" fill="#c3cbe5"/>
<rect x="77.6" y="203.95" width="1.05" height="20.1" fill="#b5c0df"/>
<rect x="78.61" y="203.95" width="1.05" height="20.1" fill="#e4e6f0"/>
<rect x="79.61" y="203.95" width="1.05" height="20.1" fill="#8da1d0"/>
<rect x="80.61" y="203.95" width="1.05" height="20.1" fill="#c0c8e4"/>
<rect x="81.62" y="203.95" width="1.05" height="20.1" fill="#d4d9ec"/>
<rect x="82.62" y="203.95" width="1.05" height="20.1" fill="#d8dced"/>
<rect x="83.62" y="203.95" width="2.06" height="20.1" fill="#cad1e8"/>
<rect x="85.63" y="203.95" width="1.05" height="20.1" fill="#b8c2e1"/>
<rect x="86.63" y="203.95" width="1.05" height="20.1" fill="#d3d8ec"/>
<rect x="87.63" y="203.95" width="1.05" height="20.1" fill="#d0d6ea"/>
<rect x="88.64" y="203.95" width="1.05" height="20.1" fill="#d8dced"/>
<rect x="89.64" y="203.95" width="1.05" height="20.1" fill="#ced4e9"/>
<rect x="90.64" y="203.95" width="1.05" height="20.1" fill="#b9c3e1"/>
<rect x="91.65" y="203.95" width="1.05" height="20.1" fill="#f0eef3"/>
<rect x="92.65" y="203.95" width="1.05" height="20.1" fill="#e8e8f1"/>
<rect x="93.65" y="203.95" width="1.05" height="20.1" fill="#dee1ef"/>
<rect x="94.65" y="203.95" width="1.05" height="20.1" fill="#c2cae4"/>
<rect x="95.66" y="203.95" width="1.05" height="20.1" fill="#bcc5e2"/>
<rect x="96.66" y="203.95" width="1.05" height="20.1" fill="#adbadd"/>
<rect x="97.66" y="203.95" width="1.05" height="20.1" fill="#acb9dc"/>
<rect x="98.67" y="203.95" width="1.05" height="20.1" fill="#d8dcee"/>
<rect x="99.67" y="203.95" width="1.05" height="20.1" fill="#b7c1e0"/>
<rect x="100.67" y="203.95" width="1.05" height="20.1" fill="#9fafd7"/>
<rect x="101.68" y="203.95" width="1.05" height="20.1" fill="#bcc5e2"/>
<rect x="102.68" y="203.95" width="1.05" height="20.1" fill="#b5c0e0"/>
<rect x="103.68" y="203.95" width="1.05" height="20.1" fill="#c7cee7"/>
<rect x="104.68" y="203.95" width="1.05" height="20.1" fill="#c2cae4"/>
<rect x="105.69" y="203.95" width="1.05" height="20.1" fill="#dfe1ef"/>
<rect x="106.69" y="203.95" width="1.05" height="20.1" fill="#ccd2e9"/>
<rect x="107.69" y="203.95" width="1.05" height="20.1" fill="#d8dcee"/>
<rect x="108.7" y="203.95" width="1.05" height="20.1" fill="#dde0ef"/>
<rect x="109.7" y="203.95" width="1.05" height="20.1" fill="#e4e5f0"/>
<rect x="110.7" y="203.95" width="1.05" height="20.1" fill="#dde0ef"/>
<rect x="111.71" y="203.95" width="1.05" height="20.1" fill="#d4d9ec"/>
<rect x="112.71" y="203.95" width="1.05" height="20.1" fill="#eaeaf1"/>
<rect x="113.71" y="203.95" width="1.05" height="20.1" fill="#dee1ef"/>
<rect x="114.71" y="203.95" width="1.05" height="20.1" fill="#dbdfee"/>
<rect x="115.72" y="203.95" width="1.05" height="20.1" fill="#d6dbed"/>
<rect x="116.72" y="203.95" width="1.05" height="20.1" fill="#d7dbed"/>
<rect x="117.72" y="203.95" width="1.05" height="20.1" fill="#f0e9eb"/>
<rect x="118.73" y="203.95" width="1.05" height="20.1" fill="#f1ecee"/>
<rect x="119.73" y="203.95" width="1.05" height="20.1" fill="#d9ddee"/>
<rect x="120.73" y="203.95" width="1.05" height="20.1" fill="#e1e3f0"/>
<rect x="121.74" y="203.95" width="1.05" height="20.1" fill="#cfd5ea"/>
<rect x="122.74" y="203.95" width="1.05" height="20.1" fill="#cdd3e9"/>
<rect x="123.74" y="203.95" width="1.05" height="20.1" fill="#edecf2"/>
<rect x="124.74" y="203.95" width="1.05" height="20.1" fill="#f0e7e8"/>
<rect x="125.75" y="203.95" width="1.05" height="20.1" fill="#e0e2ef"/>
<rect x="126.75" y="203.95" width="1.05" height="20.1" fill="#d3d8ec"/>
<rect x="127.75" y="203.95" width="1.05" height="20.1" fill="#f2f0f3"/>
<rect x="128.76" y="203.95" width="1.05" height="20.1" fill="#f1ebed"/>
<rect x="129.76" y="203.95" width="1.05" height="20.1" fill="#efe3e4"/>
<rect x="130.76" y="203.95" width="1.05" height="20.1" fill="#efe2e3"/>
<rect x="131.77" y="203.95" width="1.05" height="20.1" fill="#f0e7e9"/>
<rect x="132.77" y="203.95" width="1.05" height="20.1" fill="#edddde"/>
<rect x="133.77" y="203.95" width="1.05" height="20.1" fill="#eddede"/>
<rect x="134.77" y="203.95" width="1.05" height="20.1" fill="#e4e5f0"/>
<rect x="135.78" y="203.95" width="1.05" height="20.1" fill="#e2e4f0"/>
<rect x="136.78" y="203.95" width="1.05" height="20.1" fill="#f1ebed"/>
<rect x="137.78" y="203.95" width="1.05" height="20.1" fill="#eee2e3"/>
<rect x="138.79" y="203.95" width="1.05" height="20.1" fill="#e5e6f0"/>
<rect x="139.79" y="203.95" width="1.05" height="20.1" fill="#f0eaec"/>
<rect x="140.79" y="203.95" width="1.05" height="20.1" fill="#f0e7e9"/>
<rect x="141.8" y="203.95" width="1.05" height="20.1" fill="#e2e4f0"/>
<rect x="142.8" y="203.95" width="1.05" height="20.1" fill="#f0e9eb"/>
<rect x="143.8" y="203.95" width="1.05" height="20.1" fill="#f0eff3"/>
<rect x="144.8" y="203.95" width="1.05" height="20.1" fill="#efe5e7"/>
<rect x="145.81" y="203.95" width="1.05" height="20.1" fill="#eaeaf1"/>
<rect x="146.81" y="203.95" width="1.05" height="20.1" fill="#ecdada"/>
<rect x="147.81" y="203.95" width="1.05" height="20.1" fill="#e6e7f1"/>
<rect x="148.82" y="203.95" width="1.05" height="20.1" fill="#f2f0f3"/>
<rect x="149.82" y="203.95" width="1.05" height="20.1" fill="#ebebf2"/>
<rect x="150.82" y="203.95" width="1.05" height="20.1" fill="#eee2e2"/>
<rect x="151.83" y="203.95" width="1.05" height="20.1" fill="#e7cece"/>
<rect x="152.83" y="203.95" width="1.05" height="20.1" fill="#e6e7f1"/>
<rect x="153.83" y="203.95" width="1.05" height="20.1" fill="#eee0e1"/>
<rect x="154.83" y="203.95" width="1.05" height="20.1" fill="#efe2e3"/>
<rect x="155.84" y="203.95" width="1.05" height="20.1" fill="#ebd6d6"/>
<rect x="156.84" y="203.95" width="1.05" height="20.1" fill="#e1e3f0"/>
<rect x="157.84" y="203.95" width="1.05" height="20.1" fill="#e7cdcd"/>
<rect x="158.85" y="203.95" width="1.05" height="20.1" fill="#daddee"/>
<rect x="159.85" y="203.95" width="1.05" height="20.1" fill="#efe4e5"/>
<rect x="160.85" y="203.95" width="1.05" height="20.1" fill="#e9d3d3"/>
<rect x="161.86" y="203.95" width="1.05" height="20.1" fill="#e0e2ef"/>
<rect x="162.86" y="203.95" width="1.05" height="20.1" fill="#efe5e6"/>
<rect x="163.86" y="203.95" width="1.05" height="20.1" fill="#f0e9eb"/>
<rect x="164.86" y="203.95" width="1.05" height="20.1" fill="#f1edef"/>
<rect x="165.87" y="203.95" width="1.05" height="20.1" fill="#e8d1d1"/>
<rect x="166.87" y="203.95" width="1.05" height="20.1" fill="#e7cdcd"/>
<rect x="167.87" y="203.95" width="1.05" height="20.1" fill="#d4d9ec"/>
<rect x="168.88" y="203.95" width="1.05" height="20.1" fill="#f0e9ea"/>
<rect x="169.88" y="203.95" width="1.05" height="20.1" fill="#eee1e2"/>
<rect x="170.88" y="203.95" width="1.05" height="20.1" fill="#dfbaba"/>
<rect x="171.89" y="203.95" width="1.05" height="20.1" fill="#efe4e5"/>
<rect x="172.89" y="203.95" width="1.05" height="20.1" fill="#e9d2d2"/>
<rect x="173.89" y="203.95" width="1.05" height="20.1" fill="#eee0e1"/>
<rect x="174.89" y="203.95" width="1.05" height="20.1" fill="#e3c5c5"/>
<rect x="175.9" y="203.95" width="1.05" height="20.1" fill="#ecd8d8"/>
<rect x="176.9" y="203.95" width="1.05" height="20.1" fill="#eedfe0"/>
<rect x="177.9" y="203.95" width="1.05" height="20.1" fill="#e6cccc"/>
<rect x="178.91" y="203.95" width="1.05" height="20.1" fill="#e6cbcb"/>
<rect x="179.91" y="203.95" width="1.05" height="20.1" fill="#e5c9c9"/>
<rect x="180.91" y="203.95" width="1.05" height="20.1" fill="#e4c6c6"/>
<rect x="181.92" y="203.95" width="1.05" height="20.1" fill="#f1eaec"/>
<rect x="182.92" y="203.95" width="1.05" height="20.1" fill="#f0eaec"/>
<rect x="183.92" y="203.95" width="1.05" height="20.1" fill="#efe5e7"/>
<rect x="184.92" y="203.95" width="1.05" height="20.1" fill="#ecdada"/>
<rect x="185.93" y="203.95" width="1.05" height="20.1" fill="#ecd8d8"/>
<rect x="186.93" y="203.95" width="1.05" height="20.1" fill="#ddb7b7"/>
<rect x="187.93" y="203.95" width="1.05" height="20.1" fill="#e2c2c2"/>
<rect x="188.94" y="203.95" width="1.05" height="20.1" fill="#dbb0b0"/>
<rect x="189.94" y="203.95" width="1.05" height="20.1" fill="#e6cccc"/>
<rect x="190.94" y="203.95" width="1.05" height="20.1" fill="#e6cbcb"/>
<rect x="191.95" y="203.95" width="1.05" height="20.1" fill="#e6cccc"/>
<rect x="192.95" y="203.95" width="1.05" height="20.1" fill="#e1c0c0"/>
<rect x="193.95" y="203.95" width="1.05" height="20.1" fill="#c98989"/>
<rect x="194.95" y="203.95" width="1.05" height="20.1" fill="#e8d1d1"/>
<rect x="195.96" y="203.95" width="1.05" height="20.1" fill="#dfbaba"/>
<rect x="196.96" y="203.95" width="1.05" height="20.1" fill="#d9acac"/>
<rect x="197.96" y="203.95" width="1.05" height="20.1" fill="#ddb7b7"/>
<rect x="198.97" y="203.95" width="1.05" height="20.1" fill="#dcb4b4"/>
<rect x="199.97" y="203.95" width="1.05" height="20.1" fill="#dcb2b2"/>
<rect x="200.97" y="203.95" width="1.05" height="20.1" fill="#d19a9a"/>
<rect x="201.98" y="203.95" width="1.05" height="20.1" fill="#ce9494"/>
<rect x="202.98" y="203.95" width="1.05" height="20.1" fill="#bb6868"/>
<rect x="203.98" y="203.95" width="1.05" height="20.1" fill="#c68282"/>
<rect x="204.98" y="203.95" width="1.05" height="20.1" fill="#ce9494"/>
<rect x="205.99" y="203.95" width="1.05" height="20.1" fill="#c68282"/>
<rect x="206.99" y="203.95" width="1.05" height="20.1" fill="#d7a7a7"/>
<rect x="207.99" y="203.95" width="1.05" height="20.1" fill="#d9abab"/>
<rect x="209" y="203.95" width="1.05" height="20.1" fill="#b96262"/>
<rect x="348.8" y="63.6" width="1.05" height="16.05" fill="#b2bede"/>
<rect x="349.8" y="63.6" width="1.05" height="16.05" fill="#cdd3e9"/>
<rect x="350.79" y="63.6" width="1.05" height="16.05" fill="#94a7d3"/>
<rect x="351.79" y="63.6" width="1.05" height="16.05" fill="#8b9fcf"/>
<rect x="352.79" y="63.6" width="1.05" height="16.05" fill="#cbd1e8"/>
<rect x="353.78" y="63.6" width="1.05" height="16.05" fill="#9fafd7"/>
<rect x="354.78" y="63.6" width="1.05" height="16.05" fill="#c5cde6"/>
<rect x="355.78" y="63.6" width="1.05" height="16.05" fill="#bbc4e2"/>
<rect x="356.78" y="63.6" width="1.05" height="16.05" fill="#d2d7eb"/>
<rect x="357.77" y="63.6" width="1.05" height="16.05" fill="#dbdfee"/>
<rect x="358.77" y="63.6" width="1.05" height="16.05" fill="#bcc5e2"/>
<rect x="359.77" y="63.6" width="1.05" height="16.05" fill="#cfd5ea"/>
<rect x="360.76" y="63.6" width="1.05" height="16.05" fill="#899ece"/>
<rect x="361.76" y="63.6" width="1.05" height="16.05" fill="#c0c9e4"/>
<rect x="362.76" y="63.6" width="1.05" height="16.05" fill="#c3cbe5"/>
<rect x="363.75" y="63.6" width="1.05" height="16.05" fill="#e0e2ef"/>
<rect x="364.75" y="63.6" width="2.04" height="16.05" fill="#cfd4ea"/>
<rect x="366.75" y="63.6" width="1.05" height="16.05" fill="#a5b4da"/>
<rect x="367.74" y="63.6" width="1.05" height="16.05" fill="#b3bedf"/>
<rect x="368.74" y="63.6" width="1.05" height="16.05" fill="#8b9fcf"/>
<rect x="369.74" y="63.6" width="1.05" height="16.05" fill="#a5b3d9"/>
<rect x="370.73" y="63.6" width="1.05" height="16.05" fill="#c9d0e7"/>
<rect x="371.73" y="63.6" width="1.05" height="16.05" fill="#d6dbed"/>
<rect x="372.73" y="63.6" width="1.05" height="16.05" fill="#d9ddee"/>
<rect x="373.72" y="63.6" width="1.05" height="16.05" fill="#b9c2e1"/>
<rect x="374.72" y="63.6" width="1.05" height="16.05" fill="#dde0ef"/>
<rect x="375.72" y="63.6" width="1.05" height="16.05" fill="#dbdfee"/>
<rect x="376.71" y="63.6" width="1.05" height="16.05" fill="#ededf2"/>
<rect x="377.71" y="63.6" width="1.05" height="16.05" fill="#91a4d2"/>
<rect x="378.71" y="63.6" width="1.05" height="16.05" fill="#e5e6f0"/>
<rect x="379.71" y="63.6" width="1.05" height="16.05" fill="#c9d0e7"/>
<rect x="380.7" y="63.6" width="1.05" height="16.05" fill="#b5c0df"/>
<rect x="381.7" y="63.6" width="1.05" height="16.05" fill="#9aabd6"/>
<rect x="382.7" y="63.6" width="1.05" height="16.05" fill="#f1ecee"/>
<rect x="383.69" y="63.6" width="1.05" height="16.05" fill="#cbd2e8"/>
<rect x="384.69" y="63.6" width="1.05" height="16.05" fill="#c4cbe5"/>
<rect x="385.69" y="63.6" width="1.05" height="16.05" fill="#d0d5ea"/>
<rect x="386.68" y="63.6" width="1.05" height="16.05" fill="#f1edef"/>
<rect x="387.68" y="63.6" width="1.05" height="16.05" fill="#f1eaed"/>
<rect x="388.68" y="63.6" width="1.05" height="16.05" fill="#ececf2"/>
<rect x="389.67" y="63.6" width="1.05" height="16.05" fill="#b1bdde"/>
<rect x="390.67" y="63.6" width="1.05" height="16.05" fill="#efedf2"/>
<rect x="391.67" y="63.6" width="1.05" height="16.05" fill="#f2eff2"/>
<rect x="392.67" y="63.6" width="1.05" height="16.05" fill="#f1ecee"/>
<rect x="393.66" y="63.6" width="1.05" height="16.05" fill="#ececf2"/>
<rect x="394.66" y="63.6" width="1.05" height="16.05" fill="#edecf2"/>
<rect x="395.66" y="63.6" width="1.05" height="16.05" fill="#dadeee"/>
<rect x="396.65" y="63.6" width="1.05" height="16.05" fill="#dfe2ef"/>
<rect x="397.65" y="63.6" width="1.05" height="16.05" fill="#f2eff2"/>
<rect x="398.65" y="63.6" width="1.05" height="16.05" fill="#e7e8f1"/>
<rect x="399.64" y="63.6" width="1.05" height="16.05" fill="#e6e7f1"/>
<rect x="400.64" y="63.6" width="1.05" height="16.05" fill="#eddede"/>
<rect x="401.64" y="63.6" width="1.05" height="16.05" fill="#e1e3f0"/>
<rect x="402.64" y="63.6" width="1.05" height="16.05" fill="#f1eef1"/>
<rect x="403.63" y="63.6" width="1.05" height="16.05" fill="#ecebf2"/>
<rect x="404.63" y="63.6" width="1.05" height="16.05" fill="#ebebf2"/>
<rect x="405.63" y="63.6" width="1.05" height="16.05" fill="#e9d3d3"/>
<rect x="406.62" y="63.6" width="1.05" height="16.05" fill="#efedf2"/>
<rect x="407.62" y="63.6" width="1.05" height="16.05" fill="#e9d1d1"/>
<rect x="408.62" y="63.6" width="1.05" height="16.05" fill="#eeedf2"/>
<rect x="409.61" y="63.6" width="1.05" height="16.05" fill="#f1eaed"/>
<rect x="410.61" y="63.6" width="1.05" height="16.05" fill="#eee2e3"/>
<rect x="411.61" y="63.6" width="1.05" height="16.05" fill="#dbdfee"/>
<rect x="412.6" y="63.6" width="1.05" height="16.05" fill="#dadeee"/>
<rect x="413.6" y="63.6" width="1.05" height="16.05" fill="#eaeaf1"/>
<rect x="414.6" y="63.6" width="1.05" height="16.05" fill="#f0e8e9"/>
<rect x="415.6" y="63.6" width="1.05" height="16.05" fill="#f0e7e9"/>
<rect x="416.59" y="63.6" width="1.05" height="16.05" fill="#dde0ef"/>
<rect x="417.59" y="63.6" width="1.05" height="16.05" fill="#e6e7f1"/>
<rect x="418.59" y="63.6" width="1.05" height="16.05" fill="#eedfe0"/>
<rect x="419.58" y="63.6" width="1.05" height="16.05" fill="#efe6e7"/>
<rect x="420.58" y="63.6" width="1.05" height="16.05" fill="#efeef2"/>
<rect x="421.58" y="63.6" width="1.05" height="16.05" fill="#eddcdc"/>
<rect x="422.57" y="63.6" width="1.05" height="16.05" fill="#ecd9d9"/>
<rect x="423.57" y="63.6" width="1.05" height="16.05" fill="#eedfe0"/>
<rect x="424.57" y="63.6" width="1.05" height="16.05" fill="#e4c7c7"/>
<rect x="425.56" y="63.6" width="1.05" height="16.05" fill="#ecebf2"/>
<rect x="426.56" y="63.6" width="1.05" height="16.05" fill="#efedf2"/>
<rect x="427.56" y="63.6" width="1.05" height="16.05" fill="#f1ecee"/>
<rect x="428.56" y="63.6" width="1.05" height="16.05" fill="#eee0e0"/>
<rect x="429.55" y="63.6" width="1.05" height="16.05" fill="#eee2e2"/>
<rect x="430.55" y="63.6" width="1.05" height="16.05" fill="#e4c6c6"/>
<rect x="431.55" y="63.6" width="1.05" height="16.05" fill="#ead4d4"/>
<rect x="432.54" y="63.6" width="2.04" height="16.05" fill="#eedfdf"/>
<rect x="434.54" y="63.6" width="1.05" height="16.05" fill="#e9e9f1"/>
<rect x="435.53" y="63.6" width="1.05" height="16.05" fill="#e7cece"/>
<rect x="436.53" y="63.6" width="1.05" height="16.05" fill="#e5c9c9"/>
<rect x="437.53" y="63.6" width="1.05" height="16.05" fill="#f0e9eb"/>
<rect x="438.53" y="63.6" width="1.05" height="16.05" fill="#e9d1d1"/>
<rect x="439.52" y="63.6" width="2.04" height="16.05" fill="#efe3e4"/>
<rect x="441.52" y="63.6" width="1.05" height="16.05" fill="#e7cdcd"/>
<rect x="442.51" y="63.6" width="1.05" height="16.05" fill="#f1edef"/>
<rect x="443.51" y="63.6" width="1.05" height="16.05" fill="#f2f0f3"/>
<rect x="444.51" y="63.6" width="1.05" height="16.05" fill="#e5caca"/>
<rect x="445.5" y="63.6" width="1.05" height="16.05" fill="#eedfdf"/>
<rect x="446.5" y="63.6" width="1.05" height="16.05" fill="#ebebf2"/>
<rect x="447.5" y="63.6" width="1.05" height="16.05" fill="#eddede"/>
<rect x="448.49" y="63.6" width="1.05" height="16.05" fill="#e8e8f1"/>
<rect x="449.49" y="63.6" width="1.05" height="16.05" fill="#e9d3d3"/>
<rect x="450.49" y="63.6" width="1.05" height="16.05" fill="#e1bfbf"/>
<rect x="451.49" y="63.6" width="1.05" height="16.05" fill="#eddbdb"/>
<rect x="452.48" y="63.6" width="1.05" height="16.05" fill="#f1ecef"/>
<rect x="453.48" y="63.6" width="1.05" height="16.05" fill="#e9d3d3"/>
<rect x="454.48" y="63.6" width="1.05" height="16.05" fill="#ebd8d8"/>
<rect x="455.47" y="63.6" width="1.05" height="16.05" fill="#dbb1b1"/>
<rect x="456.47" y="63.6" width="1.05" height="16.05" fill="#daafaf"/>
<rect x="457.47" y="63.6" width="1.05" height="16.05" fill="#e2c2c2"/>
<rect x="458.46" y="63.6" width="1.05" height="16.05" fill="#d19a9a"/>
<rect x="459.46" y="63.6" width="1.05" height="16.05" fill="#c88787"/>
<rect x="460.46" y="63.6" width="1.05" height="16.05" fill="#dcb3b3"/>
<rect x="461.45" y="63.6" width="1.05" height="16.05" fill="#deb8b8"/>
<rect x="462.45" y="63.6" width="1.05" height="16.05" fill="#e2c2c2"/>
<rect x="463.45" y="63.6" width="1.05" height="16.05" fill="#d8abab"/>
<rect x="464.45" y="63.6" width="1.05" height="16.05" fill="#ca8b8b"/>
<rect x="465.44" y="63.6" width="1.05" height="16.05" fill="#ca8989"/>
<rect x="466.44" y="63.6" width="1.05" height="16.05" fill="#c78282"/>
<rect x="467.44" y="63.6" width="1.05" height="16.05" fill="#d09898"/>
<rect x="468.43" y="63.6" width="1.05" height="16.05" fill="#cd9292"/>
<rect x="469.43" y="63.6" width="1.05" height="16.05" fill="#b75d5d"/>
<rect x="470.43" y="63.6" width="1.05" height="16.05" fill="#bb6868"/>
<rect x="471.42" y="63.6" width="1.05" height="16.05" fill="#b55858"/>
<rect x="472.42" y="63.6" width="1.05" height="16.05" fill="#b45656"/>
<rect x="473.42" y="63.6" width="1.05" height="16.05" fill="#b25354"/>
<rect x="474.42" y="63.6" width="1.05" height="16.05" fill="#a23b3d"/>
<rect x="475.41" y="63.6" width="1.05" height="16.05" fill="#aa4748"/>
<rect x="476.41" y="63.6" width="1.05" height="16.05" fill="#a53f41"/>
<rect x="477.41" y="63.6" width="2.04" height="16.05" fill="#a23b3d"/>
<rect x="348.8" y="79.6" width="1.05" height="16.05" fill="#c0c8e4"/>
<rect x="349.8" y="79.6" width="1.05" height="16.05" fill="#c8cfe7"/>
<rect x="350.79" y="79.6" width="1.05" height="16.05" fill="#a9b7db"/>
<rect x="351.79" y="79.6" width="1.05" height="16.05" fill="#afbbdd"/>
<rect x="352.79" y="79.6" width="1.05" height="16.05" fill="#e1e3f0"/>
<rect x="353.78" y="79.6" width="1.05" height="16.05" fill="#b0bcde"/>
<rect x="354.78" y="79.6" width="1.05" height="16.05" fill="#cdd3e9"/>
<rect x="355.78" y="79.6" width="1.05" height="16.05" fill="#bdc5e2"/>
<rect x="356.78" y="79.6" width="1.05" height="16.05" fill="#cdd3e9"/>
<rect x="357.77" y="79.6" width="1.05" height="16.05" fill="#d1d6eb"/>
<rect x="358.77" y="79.6" width="1.05" height="16.05" fill="#bcc5e2"/>
<rect x="359.77" y="79.6" width="1.05" height="16.05" fill="#efedf2"/>
<rect x="360.76" y="79.6" width="1.05" height="16.05" fill="#8ca0d0"/>
<rect x="361.76" y="79.6" width="1.05" height="16.05" fill="#dee1ef"/>
<rect x="362.76" y="79.6" width="1.05" height="16.05" fill="#c2cae4"/>
<rect x="363.75" y="79.6" width="1.05" height="16.05" fill="#e6e7f1"/>
<rect x="364.75" y="79.6" width="1.05" height="16.05" fill="#dadeee"/>
<rect x="365.75" y="79.6" width="1.05" height="16.05" fill="#cdd3e9"/>
<rect x="366.75" y="79.6" width="1.05" height="16.05" fill="#b7c1e0"/>
<rect x="367.74" y="79.6" width="1.05" height="16.05" fill="#c6cde6"/>
<rect x="368.74" y="79.6" width="1.05" height="16.05" fill="#b2bdde"/>
<rect x="369.74" y="79.6" width="1.05" height="16.05" fill="#c9d0e8"/>
<rect x="370.73" y="79.6" width="1.05" height="16.05" fill="#dcdfef"/>
<rect x="371.73" y="79.6" width="1.05" height="16.05" fill="#d8dcee"/>
<rect x="372.73" y="79.6" width="1.05" height="16.05" fill="#d0d5ea"/>
<rect x="373.72" y="79.6" width="1.05" height="16.05" fill="#a5b3d9"/>
<rect x="374.72" y="79.6" width="1.05" height="16.05" fill="#ced4ea"/>
<rect x="375.72" y="79.6" width="1.05" height="16.05" fill="#e4e5f0"/>
<rect x="376.71" y="79.6" width="1.05" height="16.05" fill="#e5e6f0"/>
<rect x="377.71" y="79.6" width="1.05" height="16.05" fill="#b9c3e1"/>
<rect x="378.71" y="79.6" width="1.05" height="16.05" fill="#e3e5f0"/>
<rect x="379.71" y="79.6" width="1.05" height="16.05" fill="#ccd2e9"/>
<rect x="380.7" y="79.6" width="1.05" height="16.05" fill="#f1eff3"/>
<rect x="381.7" y="79.6" width="1.05" height="16.05" fill="#c3cae5"/>
<rect x="382.7" y="79.6" width="1.05" height="16.05" fill="#f0eff3"/>
<rect x="383.69" y="79.6" width="1.05" height="16.05" fill="#e3e4f0"/>
<rect x="384.69" y="79.6" width="1.05" height="16.05" fill="#dee1ef"/>
<rect x="385.69" y="79.6" width="1.05" height="16.05" fill="#bfc7e3"/>
<rect x="386.68" y="79.6" width="1.05" height="16.05" fill="#e4e5f0"/>
<rect x="387.68" y="79.6" width="1.05" height="16.05" fill="#e5e6f0"/>
<rect x="388.68" y="79.6" width="1.05" height="16.05" fill="#ccd2e9"/>
<rect x="389.67" y="79.6" width="1.05" height="16.05" fill="#d3d8ec"/>
<rect x="390.67" y="79.6" width="1.05" height="16.05" fill="#f0e9eb"/>
<rect x="391.67" y="79.6" width="1.05" height="16.05" fill="#ecebf2"/>
<rect x="392.67" y="79.6" width="2.04" height="16.05" fill="#eeedf2"/>
<rect x="394.66" y="79.6" width="1.05" height="16.05" fill="#e8e8f1"/>
<rect x="395.66" y="79.6" width="1.05" height="16.05" fill="#d1d7eb"/>
<rect x="396.65" y="79.6" width="1.05" height="16.05" fill="#e5e6f0"/>
<rect x="397.65" y="79.6" width="1.05" height="16.05" fill="#f0e9eb"/>
<rect x="398.65" y="79.6" width="1.05" height="16.05" fill="#c7cee6"/>
<rect x="399.64" y="79.6" width="1.05" height="16.05" fill="#f0e7e9"/>
<rect x="400.64" y="79.6" width="1.05" height="16.05" fill="#f0eff3"/>
<rect x="401.64" y="79.6" width="1.05" height="16.05" fill="#f1eff3"/>
<rect x="402.64" y="79.6" width="1.05" height="16.05" fill="#ecd9d9"/>
<rect x="403.63" y="79.6" width="1.05" height="16.05" fill="#f1ebed"/>
<rect x="404.63" y="79.6" width="1.05" height="16.05" fill="#eededf"/>
<rect x="405.63" y="79.6" width="1.05" height="16.05" fill="#eddddd"/>
<rect x="406.62" y="79.6" width="1.05" height="16.05" fill="#f1edf0"/>
<rect x="407.62" y="79.6" width="1.05" height="16.05" fill="#eedfdf"/>
<rect x="408.62" y="79.6" width="1.05" height="16.05" fill="#f1edf0"/>
<rect x="409.61" y="79.6" width="1.05" height="16.05" fill="#d5d9ec"/>
<rect x="410.61" y="79.6" width="1.05" height="16.05" fill="#f1eef0"/>
<rect x="411.61" y="79.6" width="1.05" height="16.05" fill="#eaeaf1"/>
<rect x="412.6" y="79.6" width="1.05" height="16.05" fill="#d9ddee"/>
<rect x="413.6" y="79.6" width="1.05" height="16.05" fill="#d4d9ec"/>
<rect x="414.6" y="79.6" width="1.05" height="16.05" fill="#f1edf0"/>
<rect x="415.6" y="79.6" width="1.05" height="16.05" fill="#ebd6d6"/>
<rect x="416.59" y="79.6" width="1.05" height="16.05" fill="#f2eef1"/>
<rect x="417.59" y="79.6" width="1.05" height="16.05" fill="#dde0ef"/>
<rect x="418.59" y="79.6" width="1.05" height="16.05" fill="#eaeaf1"/>
<rect x="419.58" y="79.6" width="1.05" height="16.05" fill="#f1ecef"/>
<rect x="420.58" y="79.6" width="1.05" height="16.05" fill="#f0eaec"/>
<rect x="421.58" y="79.6" width="1.05" height="16.05" fill="#f0e9eb"/>
<rect x="422.57" y="79.6" width="1.05" height="16.05" fill="#eedfdf"/>
<rect x="423.57" y="79.6" width="1.05" height="16.05" fill="#eededf"/>
<rect x="424.57" y="79.6" width="1.05" height="16.05" fill="#ead5d5"/>
<rect x="425.56" y="79.6" width="1.05" height="16.05" fill="#d0d5ea"/>
<rect x="426.56" y="79.6" width="1.05" height="16.05" fill="#f0e8ea"/>
<rect x="427.56" y="79.6" width="1.05" height="16.05" fill="#eee1e2"/>
<rect x="428.56" y="79.6" width="1.05" height="16.05" fill="#e7cfcf"/>
<rect x="429.55" y="79.6" width="1.05" height="16.05" fill="#eddcdc"/>
<rect x="430.55" y="79.6" width="1.05" height="16.05" fill="#ebd7d7"/>
<rect x="431.55" y="79.6" width="1.05" height="16.05" fill="#e3c5c5"/>
<rect x="432.54" y="79.6" width="1.05" height="16.05" fill="#e6e7f1"/>
<rect x="433.54" y="79.6" width="1.05" height="16.05" fill="#efe3e4"/>
<rect x="434.54" y="79.6" width="1.05" height="16.05" fill="#f0e7e8"/>
<rect x="435.53" y="79.6" width="1.05" height="16.05" fill="#f2eff2"/>
<rect x="436.53" y="79.6" width="1.05" height="16.05" fill="#ebeaf2"/>
<rect x="437.53" y="79.6" width="1.05" height="16.05" fill="#f1ecee"/>
<rect x="438.53" y="79.6" width="1.05" height="16.05" fill="#eddddd"/>
<rect x="439.52" y="79.6" width="1.05" height="16.05" fill="#ebd7d7"/>
<rect x="440.52" y="79.6" width="1.05" height="16.05" fill="#edddde"/>
<rect x="441.52" y="79.6" width="1.05" height="16.05" fill="#eddbdb"/>
<rect x="442.51" y="79.6" width="1.05" height="16.05" fill="#e4c5c5"/>
<rect x="443.51" y="79.6" width="1.05" height="16.05" fill="#f0e9eb"/>
<rect x="444.51" y="79.6" width="1.05" height="16.05" fill="#e3c4c4"/>
<rect x="445.5" y="79.6" width="1.05" height="16.05" fill="#e7cece"/>
<rect x="446.5" y="79.6" width="1.05" height="16.05" fill="#eededf"/>
<rect x="447.5" y="79.6" width="1.05" height="16.05" fill="#e9d2d2"/>
<rect x="448.49" y="79.6" width="1.05" height="16.05" fill="#f0e7e9"/>
<rect x="449.49" y="79.6" width="1.05" height="16.05" fill="#f1edf0"/>
<rect x="450.49" y="79.6" width="1.05" height="16.05" fill="#ebd7d7"/>
<rect x="451.49" y="79.6" width="1.05" height="16.05" fill="#eedfdf"/>
<rect x="452.48" y="79.6" width="1.05" height="16.05" fill="#eddcdc"/>
<rect x="453.48" y="79.6" width="1.05" height="16.05" fill="#efe5e6"/>
<rect x="454.48" y="79.6" width="1.05" height="16.05" fill="#ead5d5"/>
<rect x="455.47" y="79.6" width="1.05" height="16.05" fill="#deb9b9"/>
<rect x="456.47" y="79.6" width="1.05" height="16.05" fill="#e4c6c6"/>
<rect x="457.47" y="79.6" width="1.05" height="16.05" fill="#dcb4b4"/>
<rect x="458.46" y="79.6" width="1.05" height="16.05" fill="#e3c3c3"/>
<rect x="459.46" y="79.6" width="1.05" height="16.05" fill="#d7a9a9"/>
<rect x="460.46" y="79.6" width="1.05" height="16.05" fill="#e4c7c7"/>
<rect x="461.45" y="79.6" width="1.05" height="16.05" fill="#dcb4b4"/>
<rect x="462.45" y="79.6" width="1.05" height="16.05" fill="#e8cfcf"/>
<rect x="463.45" y="79.6" width="1.05" height="16.05" fill="#ddb5b5"/>
<rect x="464.45" y="79.6" width="1.05" height="16.05" fill="#d29c9c"/>
<rect x="465.44" y="79.6" width="1.05" height="16.05" fill="#c78484"/>
<rect x="466.44" y="79.6" width="1.05" height="16.05" fill="#cc8e8e"/>
<rect x="467.44" y="79.6" width="1.05" height="16.05" fill="#dbb2b2"/>
<rect x="468.43" y="79.6" width="1.05" height="16.05" fill="#c58080"/>
<rect x="469.43" y="79.6" width="1.05" height="16.05" fill="#b35555"/>
<rect x="470.43" y="79.6" width="1.05" height="16.05" fill="#c78383"/>
<rect x="471.42" y="79.6" width="1.05" height="16.05" fill="#c37979"/>
<rect x="472.42" y="79.6" width="1.05" height="16.05" fill="#b35555"/>
<rect x="473.42" y="79.6" width="1.05" height="16.05" fill="#aa4647"/>
<rect x="474.42" y="79.6" width="4.04" height="16.05" fill="#a23b3d"/>
<rect x="478.4" y="79.6" width="1.05" height="16.05" fill="#a53f41"/>
<rect x="348.8" y="95.6" width="1.05" height="16.05" fill="#bec7e3"/>
<rect x="349.8" y="95.6" width="1.05" height="16.05" fill="#c8cfe7"/>
<rect x="350.79" y="95.6" width="1.05" height="16.05" fill="#8da1d0"/>
<rect x="351.79" y="95.6" width="1.05" height="16.05" fill="#859bcd"/>
<rect x="352.79" y="95.6" width="1.05" height="16.05" fill="#d4d8ec"/>
<rect x="353.78" y="95.6" width="1.05" height="16.05" fill="#859bcd"/>
<rect x="354.78" y="95.6" width="1.05" height="16.05" fill="#c3cbe5"/>
<rect x="355.78" y="95.6" width="1.05" height="16.05" fill="#a6b4da"/>
<rect x="356.78" y="95.6" width="1.05" height="16.05" fill="#ccd2e9"/>
<rect x="357.77" y="95.6" width="1.05" height="16.05" fill="#edecf2"/>
<rect x="358.77" y="95.6" width="1.05" height="16.05" fill="#c0c8e4"/>
<rect x="359.77" y="95.6" width="1.05" height="16.05" fill="#d6daed"/>
<rect x="360.76" y="95.6" width="1.05" height="16.05" fill="#7790c7"/>
<rect x="361.76" y="95.6" width="1.05" height="16.05" fill="#d2d7eb"/>
<rect x="362.76" y="95.6" width="1.05" height="16.05" fill="#c7cee7"/>
<rect x="363.75" y="95.6" width="1.05" height="16.05" fill="#dce0ef"/>
<rect x="364.75" y="95.6" width="1.05" height="16.05" fill="#d7dced"/>
<rect x="365.75" y="95.6" width="1.05" height="16.05" fill="#d4d9ec"/>
<rect x="366.75" y="95.6" width="1.05" height="16.05" fill="#93a6d3"/>
<rect x="367.74" y="95.6" width="1.05" height="16.05" fill="#97a9d5"/>
<rect x="368.74" y="95.6" width="1.05" height="16.05" fill="#899ecf"/>
<rect x="369.74" y="95.6" width="1.05" height="16.05" fill="#abb8dc"/>
<rect x="370.73" y="95.6" width="1.05" height="16.05" fill="#d5daec"/>
<rect x="371.73" y="95.6" width="1.05" height="16.05" fill="#d9ddee"/>
<rect x="372.73" y="95.6" width="1.05" height="16.05" fill="#c1c9e4"/>
<rect x="373.72" y="95.6" width="1.05" height="16.05" fill="#bac3e1"/>
<rect x="374.72" y="95.6" width="1.05" height="16.05" fill="#c8cfe7"/>
<rect x="375.72" y="95.6" width="1.05" height="16.05" fill="#d5daec"/>
<rect x="376.71" y="95.6" width="1.05" height="16.05" fill="#f1ecef"/>
<rect x="377.71" y="95.6" width="1.05" height="16.05" fill="#8fa2d1"/>
<rect x="378.71" y="95.6" width="1.05" height="16.05" fill="#d7dced"/>
<rect x="379.71" y="95.6" width="1.05" height="16.05" fill="#c6cde6"/>
<rect x="380.7" y="95.6" width="1.05" height="16.05" fill="#f2eff2"/>
<rect x="381.7" y="95.6" width="1.05" height="16.05" fill="#a9b7db"/>
<rect x="382.7" y="95.6" width="1.05" height="16.05" fill="#cad1e8"/>
<rect x="383.69" y="95.6" width="1.05" height="16.05" fill="#e5e6f0"/>
<rect x="384.69" y="95.6" width="1.05" height="16.05" fill="#dee0ef"/>
<rect x="385.69" y="95.6" width="1.05" height="16.05" fill="#d6dbed"/>
<rect x="386.68" y="95.6" width="1.05" height="16.05" fill="#d3d8ec"/>
<rect x="387.68" y="95.6" width="1.05" height="16.05" fill="#dadeee"/>
<rect x="388.68" y="95.6" width="1.05" height="16.05" fill="#dcdfef"/>
<rect x="389.67" y="95.6" width="1.05" height="16.05" fill="#a1b1d8"/>
<rect x="390.67" y="95.6" width="1.05" height="16.05" fill="#d9ddee"/>
<rect x="391.67" y="95.6" width="1.05" height="16.05" fill="#d3d8eb"/>
<rect x="392.67" y="95.6" width="1.05" height="16.05" fill="#dfe1ef"/>
<rect x="393.66" y="95.6" width="1.05" height="16.05" fill="#f1ebed"/>
<rect x="394.66" y="95.6" width="1.05" height="16.05" fill="#eaeaf1"/>
<rect x="395.66" y="95.6" width="1.05" height="16.05" fill="#d3d8ec"/>
<rect x="396.65" y="95.6" width="1.05" height="16.05" fill="#dadeee"/>
<rect x="397.65" y="95.6" width="1.05" height="16.05" fill="#dee1ef"/>
<rect x="398.65" y="95.6" width="1.05" height="16.05" fill="#e7e8f1"/>
<rect x="399.64" y="95.6" width="1.05" height="16.05" fill="#f1edef"/>
<rect x="400.64" y="95.6" width="1.05" height="16.05" fill="#eee0e0"/>
<rect x="401.64" y="95.6" width="1.05" height="16.05" fill="#e3e5f0"/>
<rect x="402.64" y="95.6" width="1.05" height="16.05" fill="#f0e8ea"/>
<rect x="403.63" y="95.6" width="1.05" height="16.05" fill="#eededf"/>
<rect x="404.63" y="95.6" width="1.05" height="16.05" fill="#f0eef3"/>
<rect x="405.63" y="95.6" width="1.05" height="16.05" fill="#f2eff2"/>
<rect x="406.62" y="95.6" width="1.05" height="16.05" fill="#eedfdf"/>
<rect x="407.62" y="95.6" width="1.05" height="16.05" fill="#f0e6e8"/>
<rect x="408.62" y="95.6" width="1.05" height="16.05" fill="#f2f0f3"/>
<rect x="409.61" y="95.6" width="1.05" height="16.05" fill="#f0e8e9"/>
<rect x="410.61" y="95.6" width="1.05" height="16.05" fill="#f0e6e8"/>
<rect x="411.61" y="95.6" width="1.05" height="16.05" fill="#ececf2"/>
<rect x="412.6" y="95.6" width="1.05" height="16.05" fill="#d0d5ea"/>
<rect x="413.6" y="95.6" width="1.05" height="16.05" fill="#e7e7f1"/>
<rect x="414.6" y="95.6" width="1.05" height="16.05" fill="#f1ecee"/>
<rect x="415.6" y="95.6" width="1.05" height="16.05" fill="#eee0e1"/>
<rect x="416.59" y="95.6" width="1.05" height="16.05" fill="#e7e8f1"/>
<rect x="417.59" y="95.6" width="1.05" height="16.05" fill="#dee1ef"/>
<rect x="418.59" y="95.6" width="1.05" height="16.05" fill="#ebd8d8"/>
<rect x="419.58" y="95.6" width="1.05" height="16.05" fill="#efe6e7"/>
<rect x="420.58" y="95.6" width="1.05" height="16.05" fill="#f1edef"/>
<rect x="421.58" y="95.6" width="1.05" height="16.05" fill="#f0e8ea"/>
<rect x="422.57" y="95.6" width="1.05" height="16.05" fill="#ecdada"/>
<rect x="423.57" y="95.6" width="1.05" height="16.05" fill="#f1ebed"/>
<rect x="424.57" y="95.6" width="1.05" height="16.05" fill="#e5caca"/>
<rect x="425.56" y="95.6" width="1.05" height="16.05" fill="#f1ecee"/>
<rect x="426.56" y="95.6" width="1.05" height="16.05" fill="#ebeaf2"/>
<rect x="427.56" y="95.6" width="1.05" height="16.05" fill="#f0e9eb"/>
<rect x="428.56" y="95.6" width="1.05" height="16.05" fill="#f0e8ea"/>
<rect x="429.55" y="95.6" width="1.05" height="16.05" fill="#eddede"/>
<rect x="430.55" y="95.6" width="1.05" height="16.05" fill="#e5caca"/>
<rect x="431.55" y="95.6" width="1.05" height="16.05" fill="#e7cdcd"/>
<rect x="432.54" y="95.6" width="1.05" height="16.05" fill="#ebd8d8"/>
<rect x="433.54" y="95.6" width="1.05" height="16.05" fill="#efedf2"/>
<rect x="434.54" y="95.6" width="1.05" height="16.05" fill="#e1e3f0"/>
<rect x="435.53" y="95.6" width="1.05" height="16.05" fill="#e8cfcf"/>
<rect x="436.53" y="95.6" width="1.05" height="16.05" fill="#ecdada"/>
<rect x="437.53" y="95.6" width="1.05" height="16.05" fill="#eedfe0"/>
<rect x="438.53" y="95.6" width="1.05" height="16.05" fill="#e8d0d0"/>
<rect x="439.52" y="95.6" width="1.05" height="16.05" fill="#f0e7e9"/>
<rect x="440.52" y="95.6" width="1.05" height="16.05" fill="#eddcdc"/>
<rect x="441.52" y="95.6" width="1.05" height="16.05" fill="#eedfe0"/>
<rect x="442.51" y="95.6" width="1.05" height="16.05" fill="#e0bebe"/>
<rect x="443.51" y="95.6" width="1.05" height="16.05" fill="#f0e7e8"/>
<rect x="444.51" y="95.6" width="1.05" height="16.05" fill="#e4c6c6"/>
<rect x="445.5" y="95.6" width="1.05" height="16.05" fill="#e9d2d2"/>
<rect x="446.5" y="95.6" width="1.05" height="16.05" fill="#efe5e6"/>
<rect x="447.5" y="95.6" width="1.05" height="16.05" fill="#e9d3d3"/>
<rect x="448.49" y="95.6" width="1.05" height="16.05" fill="#f1edf0"/>
<rect x="449.49" y="95.6" width="1.05" height="16.05" fill="#e4c6c6"/>
<rect x="450.49" y="95.6" width="1.05" height="16.05" fill="#e8d0d0"/>
<rect x="451.49" y="95.6" width="1.05" height="16.05" fill="#ebd7d7"/>
<rect x="452.48" y="95.6" width="1.05" height="16.05" fill="#ecdbdb"/>
<rect x="453.48" y="95.6" width="1.05" height="16.05" fill="#ead5d5"/>
<rect x="454.48" y="95.6" width="1.05" height="16.05" fill="#e7cfcf"/>
<rect x="455.47" y="95.6" width="1.05" height="16.05" fill="#d7a8a8"/>
<rect x="456.47" y="95.6" width="1.05" height="16.05" fill="#e3c4c4"/>
<rect x="457.47" y="95.6" width="1.05" height="16.05" fill="#deb8b8"/>
<rect x="458.46" y="95.6" width="1.05" height="16.05" fill="#dfbaba"/>
<rect x="459.46" y="95.6" width="1.05" height="16.05" fill="#d5a2a2"/>
<rect x="460.46" y="95.6" width="1.05" height="16.05" fill="#ead6d6"/>
<rect x="461.45" y="95.6" width="1.05" height="16.05" fill="#d39f9f"/>
<rect x="462.45" y="95.6" width="1.05" height="16.05" fill="#d7a7a7"/>
<rect x="463.45" y="95.6" width="1.05" height="16.05" fill="#d19999"/>
<rect x="464.45" y="95.6" width="1.05" height="16.05" fill="#c88585"/>
<rect x="465.44" y="95.6" width="1.05" height="16.05" fill="#c57e7e"/>
<rect x="466.44" y="95.6" width="1.05" height="16.05" fill="#d5a2a2"/>
<rect x="467.44" y="95.6" width="1.05" height="16.05" fill="#cd9191"/>
<rect x="468.43" y="95.6" width="1.05" height="16.05" fill="#c78383"/>
<rect x="469.43" y="95.6" width="1.05" height="16.05" fill="#be6f6f"/>
<rect x="470.43" y="95.6" width="1.05" height="16.05" fill="#ba6363"/>
<rect x="471.42" y="95.6" width="1.05" height="16.05" fill="#c07373"/>
<rect x="472.42" y="95.6" width="1.05" height="16.05" fill="#b65b5b"/>
<rect x="473.42" y="95.6" width="2.04" height="16.05" fill="#a23b3d"/>
<rect x="475.41" y="95.6" width="1.05" height="16.05" fill="#a33d3f"/>
<rect x="476.41" y="95.6" width="3.04" height="16.05" fill="#a23b3d"/>
<rect x="348.8" y="111.6" width="1.05" height="16.05" fill="#b9c3e1"/>
<rect x="349.8" y="111.6" width="1.05" height="16.05" fill="#ececf2"/>
<rect x="350.79" y="111.6" width="1.05" height="16.05" fill="#bdc6e2"/>
<rect x="351.79" y="111.6" width="1.05" height="16.05" fill="#bec7e3"/>
<rect x="352.79" y="111.6" width="1.05" height="16.05" fill="#c0c8e4"/>
<rect x="353.78" y="111.6" width="1.05" height="16.05" fill="#b9c3e1"/>
<rect x="354.78" y="111.6" width="1.05" height="16.05" fill="#d5daed"/>
<rect x="355.78" y="111.6" width="1.05" height="16.05" fill="#d0d6ea"/>
<rect x="356.78" y="111.6" width="1.05" height="16.05" fill="#eeedf2"/>
<rect x="357.77" y="111.6" width="1.05" height="16.05" fill="#edecf2"/>
<rect x="358.77" y="111.6" width="1.05" height="16.05" fill="#d5daec"/>
<rect x="359.77" y="111.6" width="1.05" height="16.05" fill="#d7dbed"/>
<rect x="360.76" y="111.6" width="1.05" height="16.05" fill="#bec7e3"/>
<rect x="361.76" y="111.6" width="1.05" height="16.05" fill="#d4d9ec"/>
<rect x="362.76" y="111.6" width="1.05" height="16.05" fill="#ccd2e9"/>
<rect x="363.75" y="111.6" width="1.05" height="16.05" fill="#dde0ef"/>
<rect x="364.75" y="111.6" width="1.05" height="16.05" fill="#e0e2ef"/>
<rect x="365.75" y="111.6" width="1.05" height="16.05" fill="#f1ebee"/>
<rect x="366.75" y="111.6" width="1.05" height="16.05" fill="#cad1e8"/>
<rect x="367.74" y="111.6" width="1.05" height="16.05" fill="#d7dbed"/>
<rect x="368.74" y="111.6" width="1.05" height="16.05" fill="#afbbdd"/>
<rect x="369.74" y="111.6" width="1.05" height="16.05" fill="#dde0ef"/>
<rect x="370.73" y="111.6" width="1.05" height="16.05" fill="#d7dbed"/>
<rect x="371.73" y="111.6" width="1.05" height="16.05" fill="#e8e9f1"/>
<rect x="372.73" y="111.6" width="1.05" height="16.05" fill="#d6daed"/>
<rect x="373.72" y="111.6" width="1.05" height="16.05" fill="#c3cbe5"/>
<rect x="374.72" y="111.6" width="1.05" height="16.05" fill="#c9d0e7"/>
<rect x="375.72" y="111.6" width="1.05" height="16.05" fill="#d9ddee"/>
<rect x="376.71" y="111.6" width="1.05" height="16.05" fill="#e5e6f0"/>
<rect x="377.71" y="111.6" width="1.05" height="16.05" fill="#b7c1e0"/>
<rect x="378.71" y="111.6" width="1.05" height="16.05" fill="#e6e7f1"/>
<rect x="379.71" y="111.6" width="1.05" height="16.05" fill="#d0d6ea"/>
<rect x="380.7" y="111.6" width="1.05" height="16.05" fill="#e0e3ef"/>
<rect x="381.7" y="111.6" width="1.05" height="16.05" fill="#c6cde6"/>
<rect x="382.7" y="111.6" width="1.05" height="16.05" fill="#d0d6ea"/>
<rect x="383.69" y="111.6" width="1.05" height="16.05" fill="#dcdfef"/>
<rect x="384.69" y="111.6" width="1.05" height="16.05" fill="#dce0ef"/>
<rect x="385.69" y="111.6" width="1.05" height="16.05" fill="#edecf2"/>
<rect x="386.68" y="111.6" width="1.05" height="16.05" fill="#dee0ef"/>
<rect x="387.68" y="111.6" width="1.05" height="16.05" fill="#e9e9f1"/>
<rect x="388.68" y="111.6" width="1.05" height="16.05" fill="#e7e8f1"/>
<rect x="389.67" y="111.6" width="1.05" height="16.05" fill="#d1d6eb"/>
<rect x="390.67" y="111.6" width="1.05" height="16.05" fill="#f2eff2"/>
<rect x="391.67" y="111.6" width="1.05" height="16.05" fill="#e6e7f1"/>
<rect x="392.67" y="111.6" width="1.05" height="16.05" fill="#e0e3ef"/>
<rect x="393.66" y="111.6" width="1.05" height="16.05" fill="#edecf2"/>
<rect x="394.66" y="111.6" width="1.05" height="16.05" fill="#e1e3f0"/>
<rect x="395.66" y="111.6" width="1.05" height="16.05" fill="#c5cce6"/>
<rect x="396.65" y="111.6" width="1.05" height="16.05" fill="#dde0ef"/>
<rect x="397.65" y="111.6" width="1.05" height="16.05" fill="#f2f0f3"/>
<rect x="398.65" y="111.6" width="1.05" height="16.05" fill="#d3d8eb"/>
<rect x="399.64" y="111.6" width="1.05" height="16.05" fill="#e2e4f0"/>
<rect x="400.64" y="111.6" width="1.05" height="16.05" fill="#f1eff3"/>
<rect x="401.64" y="111.6" width="1.05" height="16.05" fill="#e4e5f0"/>
<rect x="402.64" y="111.6" width="1.05" height="16.05" fill="#efe4e5"/>
<rect x="403.63" y="111.6" width="1.05" height="16.05" fill="#f0eef3"/>
<rect x="404.63" y="111.6" width="1.05" height="16.05" fill="#f0e6e8"/>
<rect x="405.63" y="111.6" width="1.05" height="16.05" fill="#eee2e3"/>
<rect x="406.62" y="111.6" width="1.05" height="16.05" fill="#ecd9d9"/>
<rect x="407.62" y="111.6" width="1.05" height="16.05" fill="#eee0e1"/>
<rect x="408.62" y="111.6" width="1.05" height="16.05" fill="#e7e8f1"/>
<rect x="409.61" y="111.6" width="1.05" height="16.05" fill="#dee1ef"/>
<rect x="410.61" y="111.6" width="1.05" height="16.05" fill="#efe5e7"/>
<rect x="411.61" y="111.6" width="1.05" height="16.05" fill="#f1ecef"/>
<rect x="412.6" y="111.6" width="1.05" height="16.05" fill="#d8dcee"/>
<rect x="413.6" y="111.6" width="1.05" height="16.05" fill="#eeedf2"/>
<rect x="414.6" y="111.6" width="1.05" height="16.05" fill="#efe2e3"/>
<rect x="415.6" y="111.6" width="1.05" height="16.05" fill="#eee0e0"/>
<rect x="416.59" y="111.6" width="1.05" height="16.05" fill="#dfe1ef"/>
<rect x="417.59" y="111.6" width="1.05" height="16.05" fill="#e8e8f1"/>
<rect x="418.59" y="111.6" width="1.05" height="16.05" fill="#f2eff2"/>
<rect x="419.58" y="111.6" width="1.05" height="16.05" fill="#ebeaf2"/>
<rect x="420.58" y="111.6" width="1.05" height="16.05" fill="#f0e8ea"/>
<rect x="421.58" y="111.6" width="1.05" height="16.05" fill="#eee0e0"/>
<rect x="422.57" y="111.6" width="1.05" height="16.05" fill="#f0e7e8"/>
<rect x="423.57" y="111.6" width="1.05" height="16.05" fill="#efe2e3"/>
<rect x="424.57" y="111.6" width="1.05" height="16.05" fill="#e6cccc"/>
<rect x="425.56" y="111.6" width="1.05" height="16.05" fill="#dee1ef"/>
<rect x="426.56" y="111.6" width="1.05" height="16.05" fill="#f1ebee"/>
<rect x="427.56" y="111.6" width="1.05" height="16.05" fill="#eddbdb"/>
<rect x="428.56" y="111.6" width="1.05" height="16.05" fill="#eedfdf"/>
<rect x="429.55" y="111.6" width="1.05" height="16.05" fill="#ecdbdb"/>
<rect x="430.55" y="111.6" width="1.05" height="16.05" fill="#eee1e2"/>
<rect x="431.55" y="111.6" width="1.05" height="16.05" fill="#e7cdcd"/>
<rect x="432.54" y="111.6" width="1.05" height="16.05" fill="#efe5e6"/>
<rect x="433.54" y="111.6" width="1.05" height="16.05" fill="#ecebf2"/>
<rect x="434.54" y="111.6" width="1.05" height="16.05" fill="#e3e4f0"/>
<rect x="435.53" y="111.6" width="1.05" height="16.05" fill="#ecdada"/>
<rect x="436.53" y="111.6" width="1.05" height="16.05" fill="#ebd7d7"/>
<rect x="437.53" y="111.6" width="1.05" height="16.05" fill="#dfe1ef"/>
<rect x="438.53" y="111.6" width="1.05" height="16.05" fill="#edddde"/>
<rect x="439.52" y="111.6" width="1.05" height="16.05" fill="#eee0e0"/>
<rect x="440.52" y="111.6" width="1.05" height="16.05" fill="#f0e6e8"/>
<rect x="441.52" y="111.6" width="1.05" height="16.05" fill="#f0e8ea"/>
<rect x="442.51" y="111.6" width="1.05" height="16.05" fill="#f2eff2"/>
<rect x="443.51" y="111.6" width="1.05" height="16.05" fill="#f0e8ea"/>
<rect x="444.51" y="111.6" width="1.05" height="16.05" fill="#dfbcbc"/>
<rect x="445.5" y="111.6" width="1.05" height="16.05" fill="#eee1e1"/>
<rect x="446.5" y="111.6" width="1.05" height="16.05" fill="#eee0e0"/>
<rect x="447.5" y="111.6" width="1.05" height="16.05" fill="#ecdada"/>
<rect x="448.49" y="111.6" width="1.05" height="16.05" fill="#f1eff3"/>
<rect x="449.49" y="111.6" width="1.05" height="16.05" fill="#eee0e1"/>
<rect x="450.49" y="111.6" width="1.05" height="16.05" fill="#ebd6d6"/>
<rect x="451.49" y="111.6" width="1.05" height="16.05" fill="#f0e8ea"/>
<rect x="452.48" y="111.6" width="1.05" height="16.05" fill="#e0bdbd"/>
<rect x="453.48" y="111.6" width="1.05" height="16.05" fill="#ddb7b7"/>
<rect x="454.48" y="111.6" width="1.05" height="16.05" fill="#e7cece"/>
<rect x="455.47" y="111.6" width="1.05" height="16.05" fill="#daafaf"/>
<rect x="456.47" y="111.6" width="1.05" height="16.05" fill="#ebd7d7"/>
<rect x="457.47" y="111.6" width="1.05" height="16.05" fill="#e8d0d0"/>
<rect x="458.46" y="111.6" width="1.05" height="16.05" fill="#dcb4b4"/>
<rect x="459.46" y="111.6" width="1.05" height="16.05" fill="#dfbaba"/>
<rect x="460.46" y="111.6" width="1.05" height="16.05" fill="#ead5d5"/>
<rect x="461.45" y="111.6" width="1.05" height="16.05" fill="#dcb4b4"/>
<rect x="462.45" y="111.6" width="1.05" height="16.05" fill="#efe2e3"/>
<rect x="463.45" y="111.6" width="1.05" height="16.05" fill="#cd9090"/>
<rect x="464.45" y="111.6" width="1.05" height="16.05" fill="#d4a2a2"/>
<rect x="465.44" y="111.6" width="1.05" height="16.05" fill="#d19b9b"/>
<rect x="466.44" y="111.6" width="1.05" height="16.05" fill="#d4a0a0"/>
<rect x="467.44" y="111.6" width="1.05" height="16.05" fill="#deb7b7"/>
<rect x="468.43" y="111.6" width="1.05" height="16.05" fill="#d09797"/>
<rect x="469.43" y="111.6" width="1.05" height="16.05" fill="#c27878"/>
<rect x="470.43" y="111.6" width="1.05" height="16.05" fill="#c78282"/>
<rect x="471.42" y="111.6" width="1.05" height="16.05" fill="#ca8b8b"/>
<rect x="472.42" y="111.6" width="1.05" height="16.05" fill="#bb6767"/>
<rect x="473.42" y="111.6" width="1.05" height="16.05" fill="#bd6b6b"/>
<rect x="474.42" y="111.6" width="1.05" height="16.05" fill="#a23b3d"/>
<rect x="475.41" y="111.6" width="1.05" height="16.05" fill="#bb6767"/>
<rect x="476.41" y="111.6" width="1.05" height="16.05" fill="#b15152"/>
<rect x="477.41" y="111.6" width="1.05" height="16.05" fill="#a64243"/>
<rect x="478.4" y="111.6" width="1.05" height="16.05" fill="#b15252"/>
<rect x="348.8" y="127.6" width="1.05" height="16.05" fill="#bcc5e2"/>
<rect x="349.8" y="127.6" width="1.05" height="16.05" fill="#cbd1e8"/>
<rect x="350.79" y="127.6" width="1.05" height="16.05" fill="#d0d6ea"/>
<rect x="351.79" y="127.6" width="1.05" height="16.05" fill="#d9ddee"/>
<rect x="352.79" y="127.6" width="1.05" height="16.05" fill="#dde0ef"/>
<rect x="353.78" y="127.6" width="1.05" height="16.05" fill="#a4b3d9"/>
<rect x="354.78" y="127.6" width="1.05" height="16.05" fill="#c1c9e4"/>
<rect x="355.78" y="127.6" width="1.05" height="16.05" fill="#bfc7e3"/>
<rect x="356.78" y="127.6" width="1.05" height="16.05" fill="#cbd1e8"/>
<rect x="357.77" y="127.6" width="1.05" height="16.05" fill="#d6daed"/>
<rect x="358.77" y="127.6" width="1.05" height="16.05" fill="#d5daec"/>
<rect x="359.77" y="127.6" width="1.05" height="16.05" fill="#c1c9e4"/>
<rect x="360.76" y="127.6" width="1.05" height="16.05" fill="#a6b4da"/>
<rect x="361.76" y="127.6" width="1.05" height="16.05" fill="#d6daed"/>
<rect x="362.76" y="127.6" width="1.05" height="16.05" fill="#d0d6ea"/>
<rect x="363.75" y="127.6" width="1.05" height="16.05" fill="#ebebf2"/>
<rect x="364.75" y="127.6" width="1.05" height="16.05" fill="#dee1ef"/>
<rect x="365.75" y="127.6" width="1.05" height="16.05" fill="#dde0ef"/>
<rect x="366.75" y="127.6" width="1.05" height="16.05" fill="#c3cbe5"/>
<rect x="367.74" y="127.6" width="1.05" height="16.05" fill="#d3d8eb"/>
<rect x="368.74" y="127.6" width="2.04" height="16.05" fill="#c7cee6"/>
<rect x="370.73" y="127.6" width="1.05" height="16.05" fill="#e0e2ef"/>
<rect x="371.73" y="127.6" width="1.05" height="16.05" fill="#e5e6f0"/>
<rect x="372.73" y="127.6" width="1.05" height="16.05" fill="#ced4ea"/>
<rect x="373.72" y="127.6" width="1.05" height="16.05" fill="#d2d7eb"/>
<rect x="374.72" y="127.6" width="1.05" height="16.05" fill="#e5e6f0"/>
<rect x="375.72" y="127.6" width="1.05" height="16.05" fill="#d6daed"/>
<rect x="376.71" y="127.6" width="1.05" height="16.05" fill="#e6e7f1"/>
<rect x="377.71" y="127.6" width="1.05" height="16.05" fill="#c7cee6"/>
<rect x="378.71" y="127.6" width="1.05" height="16.05" fill="#d4d9ec"/>
<rect x="379.71" y="127.6" width="1.05" height="16.05" fill="#c7cee7"/>
<rect x="380.7" y="127.6" width="1.05" height="16.05" fill="#dee1ef"/>
<rect x="381.7" y="127.6" width="1.05" height="16.05" fill="#cdd3e9"/>
<rect x="382.7" y="127.6" width="1.05" height="16.05" fill="#eeedf2"/>
<rect x="383.69" y="127.6" width="1.05" height="16.05" fill="#d8dced"/>
<rect x="384.69" y="127.6" width="1.05" height="16.05" fill="#f1eff3"/>
<rect x="385.69" y="127.6" width="1.05" height="16.05" fill="#e8e8f1"/>
<rect x="386.68" y="127.6" width="1.05" height="16.05" fill="#f0e9ea"/>
<rect x="387.68" y="127.6" width="1.05" height="16.05" fill="#efeef2"/>
<rect x="388.68" y="127.6" width="1.05" height="16.05" fill="#e4e6f0"/>
<rect x="389.67" y="127.6" width="1.05" height="16.05" fill="#d7dbed"/>
<rect x="390.67" y="127.6" width="1.05" height="16.05" fill="#f2eff1"/>
<rect x="391.67" y="127.6" width="1.05" height="16.05" fill="#d8ddee"/>
<rect x="392.67" y="127.6" width="1.05" height="16.05" fill="#e7e8f1"/>
<rect x="393.66" y="127.6" width="1.05" height="16.05" fill="#dfe2ef"/>
<rect x="394.66" y="127.6" width="1.05" height="16.05" fill="#efe6e7"/>
<rect x="395.66" y="127.6" width="1.05" height="16.05" fill="#d2d7eb"/>
<rect x="396.65" y="127.6" width="1.05" height="16.05" fill="#e5e6f0"/>
<rect x="397.65" y="127.6" width="1.05" height="16.05" fill="#e9e9f1"/>
<rect x="398.65" y="127.6" width="1.05" height="16.05" fill="#e6e7f1"/>
<rect x="399.64" y="127.6" width="1.05" height="16.05" fill="#f0e9eb"/>
<rect x="400.64" y="127.6" width="1.05" height="16.05" fill="#f2eef1"/>
<rect x="401.64" y="127.6" width="1.05" height="16.05" fill="#e6e7f1"/>
<rect x="402.64" y="127.6" width="1.05" height="16.05" fill="#e8d1d1"/>
<rect x="403.63" y="127.6" width="1.05" height="16.05" fill="#ecdada"/>
<rect x="404.63" y="127.6" width="1.05" height="16.05" fill="#efe6e7"/>
<rect x="405.63" y="127.6" width="1.05" height="16.05" fill="#f1ebed"/>
<rect x="406.62" y="127.6" width="1.05" height="16.05" fill="#f0e7e9"/>
<rect x="407.62" y="127.6" width="1.05" height="16.05" fill="#efe2e3"/>
<rect x="408.62" y="127.6" width="1.05" height="16.05" fill="#f1ecee"/>
<rect x="409.61" y="127.6" width="1.05" height="16.05" fill="#eaeaf1"/>
<rect x="410.61" y="127.6" width="1.05" height="16.05" fill="#f1f0f3"/>
<rect x="411.61" y="127.6" width="1.05" height="16.05" fill="#e4e5f0"/>
<rect x="412.6" y="127.6" width="1.05" height="16.05" fill="#d5daec"/>
<rect x="413.6" y="127.6" width="1.05" height="16.05" fill="#edecf2"/>
<rect x="414.6" y="127.6" width="1.05" height="16.05" fill="#e8cfcf"/>
<rect x="415.6" y="127.6" width="1.05" height="16.05" fill="#f2eef1"/>
<rect x="416.59" y="127.6" width="1.05" height="16.05" fill="#d1d7eb"/>
<rect x="417.59" y="127.6" width="1.05" height="16.05" fill="#ececf2"/>
<rect x="418.59" y="127.6" width="1.05" height="16.05" fill="#f2eff2"/>
<rect x="419.58" y="127.6" width="1.05" height="16.05" fill="#ecd9d9"/>
<rect x="420.58" y="127.6" width="1.05" height="16.05" fill="#f0e7e9"/>
<rect x="421.58" y="127.6" width="1.05" height="16.05" fill="#ecdada"/>
<rect x="422.57" y="127.6" width="1.05" height="16.05" fill="#efe5e6"/>
<rect x="423.57" y="127.6" width="1.05" height="16.05" fill="#ebebf2"/>
<rect x="424.57" y="127.6" width="1.05" height="16.05" fill="#efe4e5"/>
<rect x="425.56" y="127.6" width="1.05" height="16.05" fill="#f1ecee"/>
<rect x="426.56" y="127.6" width="1.05" height="16.05" fill="#e5e6f0"/>
<rect x="427.56" y="127.6" width="1.05" height="16.05" fill="#ededf2"/>
<rect x="428.56" y="127.6" width="1.05" height="16.05" fill="#efe5e7"/>
<rect x="429.55" y="127.6" width="1.05" height="16.05" fill="#efe3e4"/>
<rect x="430.55" y="127.6" width="1.05" height="16.05" fill="#efe3e3"/>
<rect x="431.55" y="127.6" width="1.05" height="16.05" fill="#eddddd"/>
<rect x="432.54" y="127.6" width="1.05" height="16.05" fill="#e2c1c1"/>
<rect x="433.54" y="127.6" width="1.05" height="16.05" fill="#edecf2"/>
<rect x="434.54" y="127.6" width="1.05" height="16.05" fill="#f2eff2"/>
<rect x="435.53" y="127.6" width="1.05" height="16.05" fill="#f0e8ea"/>
<rect x="436.53" y="127.6" width="1.05" height="16.05" fill="#e9d3d3"/>
<rect x="437.53" y="127.6" width="1.05" height="16.05" fill="#dfe2ef"/>
<rect x="438.53" y="127.6" width="1.05" height="16.05" fill="#e3c4c4"/>
<rect x="439.52" y="127.6" width="1.05" height="16.05" fill="#efe5e6"/>
<rect x="440.52" y="127.6" width="1.05" height="16.05" fill="#f1f0f3"/>
<rect x="441.52" y="127.6" width="1.05" height="16.05" fill="#ecdbdb"/>
<rect x="442.51" y="127.6" width="1.05" height="16.05" fill="#ebd8d8"/>
<rect x="443.51" y="127.6" width="1.05" height="16.05" fill="#eee0e1"/>
<rect x="444.51" y="127.6" width="1.05" height="16.05" fill="#efe2e3"/>
<rect x="445.5" y="127.6" width="1.05" height="16.05" fill="#ecdada"/>
<rect x="446.5" y="127.6" width="1.05" height="16.05" fill="#efe4e5"/>
<rect x="447.5" y="127.6" width="1.05" height="16.05" fill="#ead5d5"/>
<rect x="448.49" y="127.6" width="1.05" height="16.05" fill="#e4e5f0"/>
<rect x="449.49" y="127.6" width="1.05" height="16.05" fill="#f0e9ea"/>
<rect x="450.49" y="127.6" width="1.05" height="16.05" fill="#e2c1c1"/>
<rect x="451.49" y="127.6" width="1.05" height="16.05" fill="#ecdada"/>
<rect x="452.48" y="127.6" width="1.05" height="16.05" fill="#f0e9eb"/>
<rect x="453.48" y="127.6" width="1.05" height="16.05" fill="#e9d3d3"/>
<rect x="454.48" y="127.6" width="1.05" height="16.05" fill="#eddbdb"/>
<rect x="455.47" y="127.6" width="1.05" height="16.05" fill="#e7cdcd"/>
<rect x="456.47" y="127.6" width="1.05" height="16.05" fill="#eddcdc"/>
<rect x="457.47" y="127.6" width="1.05" height="16.05" fill="#e2c3c3"/>
<rect x="458.46" y="127.6" width="1.05" height="16.05" fill="#e5c8c8"/>
<rect x="459.46" y="127.6" width="1.05" height="16.05" fill="#d8aaaa"/>
<rect x="460.46" y="127.6" width="1.05" height="16.05" fill="#e3c5c5"/>
<rect x="461.45" y="127.6" width="1.05" height="16.05" fill="#e6caca"/>
<rect x="462.45" y="127.6" width="1.05" height="16.05" fill="#ead6d6"/>
<rect x="463.45" y="127.6" width="1.05" height="16.05" fill="#d29d9d"/>
<rect x="464.45" y="127.6" width="1.05" height="16.05" fill="#e0bebe"/>
<rect x="465.44" y="127.6" width="1.05" height="16.05" fill="#d29b9b"/>
<rect x="466.44" y="127.6" width="1.05" height="16.05" fill="#d8aaaa"/>
<rect x="467.44" y="127.6" width="1.05" height="16.05" fill="#d6a5a5"/>
<rect x="468.43" y="127.6" width="1.05" height="16.05" fill="#c78383"/>
<rect x="469.43" y="127.6" width="1.05" height="16.05" fill="#c27979"/>
<rect x="470.43" y="127.6" width="1.05" height="16.05" fill="#cc8f8f"/>
<rect x="471.42" y="127.6" width="1.05" height="16.05" fill="#ca8a8a"/>
<rect x="472.42" y="127.6" width="1.05" height="16.05" fill="#bf7171"/>
<rect x="473.42" y="127.6" width="1.05" height="16.05" fill="#bd6c6c"/>
<rect x="474.42" y="127.6" width="1.05" height="16.05" fill="#a23b3d"/>
<rect x="475.41" y="127.6" width="1.05" height="16.05" fill="#b65a5a"/>
<rect x="476.41" y="127.6" width="1.05" height="16.05" fill="#a54041"/>
<rect x="477.41" y="127.6" width="1.05" height="16.05" fill="#a23b3d"/>
<rect x="478.4" y="127.6" width="1.05" height="16.05" fill="#ad4b4c"/>
<rect x="348.8" y="143.6" width="1.05" height="16.05" fill="#cbd2e8"/>
<rect x="349.8" y="143.6" width="1.05" height="16.05" fill="#c8cfe7"/>
<rect x="350.79" y="143.6" width="1.05" height="16.05" fill="#b1bdde"/>
<rect x="351.79" y="143.6" width="1.05" height="16.05" fill="#a3b2d9"/>
<rect x="352.79" y="143.6" width="1.05" height="16.05" fill="#d2d8eb"/>
<rect x="353.78" y="143.6" width="1.05" height="16.05" fill="#a3b2d9"/>
<rect x="354.78" y="143.6" width="1.05" height="16.05" fill="#b5bfdf"/>
<rect x="355.78" y="143.6" width="1.05" height="16.05" fill="#d2d7eb"/>
<rect x="356.78" y="143.6" width="1.05" height="16.05" fill="#d4d9ec"/>
<rect x="357.77" y="143.6" width="1.05" height="16.05" fill="#c4cce5"/>
<rect x="358.77" y="143.6" width="1.05" height="16.05" fill="#cfd5ea"/>
<rect x="359.77" y="143.6" width="1.05" height="16.05" fill="#cdd3e9"/>
<rect x="360.76" y="143.6" width="1.05" height="16.05" fill="#a7b5da"/>
<rect x="361.76" y="143.6" width="1.05" height="16.05" fill="#cfd4ea"/>
<rect x="362.76" y="143.6" width="1.05" height="16.05" fill="#c8cfe7"/>
<rect x="363.75" y="143.6" width="1.05" height="16.05" fill="#e3e5f0"/>
<rect x="364.75" y="143.6" width="1.05" height="16.05" fill="#e3e4f0"/>
<rect x="365.75" y="143.6" width="1.05" height="16.05" fill="#d5daec"/>
<rect x="366.75" y="143.6" width="1.05" height="16.05" fill="#abb8dc"/>
<rect x="367.74" y="143.6" width="1.05" height="16.05" fill="#b9c3e1"/>
<rect x="368.74" y="143.6" width="1.05" height="16.05" fill="#9fafd7"/>
<rect x="369.74" y="143.6" width="1.05" height="16.05" fill="#c9d0e8"/>
<rect x="370.73" y="143.6" width="1.05" height="16.05" fill="#cfd5ea"/>
<rect x="371.73" y="143.6" width="1.05" height="16.05" fill="#ced4e9"/>
<rect x="372.73" y="143.6" width="1.05" height="16.05" fill="#c9d0e8"/>
<rect x="373.72" y="143.6" width="1.05" height="16.05" fill="#b1bdde"/>
<rect x="374.72" y="143.6" width="1.05" height="16.05" fill="#d5d9ec"/>
<rect x="375.72" y="143.6" width="1.05" height="16.05" fill="#b6c1e0"/>
<rect x="376.71" y="143.6" width="1.05" height="16.05" fill="#dfe2ef"/>
<rect x="377.71" y="143.6" width="1.05" height="16.05" fill="#bcc5e2"/>
<rect x="378.71" y="143.6" width="1.05" height="16.05" fill="#dfe2ef"/>
<rect x="379.71" y="143.6" width="1.05" height="16.05" fill="#cbd1e8"/>
<rect x="380.7" y="143.6" width="1.05" height="16.05" fill="#d5d9ec"/>
<rect x="381.7" y="143.6" width="1.05" height="16.05" fill="#b1bdde"/>
<rect x="382.7" y="143.6" width="1.05" height="16.05" fill="#d1d7eb"/>
<rect x="383.69" y="143.6" width="1.05" height="16.05" fill="#e3e5f0"/>
<rect x="384.69" y="143.6" width="1.05" height="16.05" fill="#d8dcee"/>
<rect x="385.69" y="143.6" width="1.05" height="16.05" fill="#f2f0f3"/>
<rect x="386.68" y="143.6" width="1.05" height="16.05" fill="#e8e8f1"/>
<rect x="387.68" y="143.6" width="1.05" height="16.05" fill="#f1ecee"/>
<rect x="388.68" y="143.6" width="1.05" height="16.05" fill="#dee1ef"/>
<rect x="389.67" y="143.6" width="1.05" height="16.05" fill="#c1c9e4"/>
<rect x="390.67" y="143.6" width="1.05" height="16.05" fill="#d2d7eb"/>
<rect x="391.67" y="143.6" width="1.05" height="16.05" fill="#e5e6f0"/>
<rect x="392.67" y="143.6" width="1.05" height="16.05" fill="#f1ebed"/>
<rect x="393.66" y="143.6" width="1.05" height="16.05" fill="#f1eef0"/>
<rect x="394.66" y="143.6" width="1.05" height="16.05" fill="#dbdeee"/>
<rect x="395.66" y="143.6" width="1.05" height="16.05" fill="#d5daec"/>
<rect x="396.65" y="143.6" width="1.05" height="16.05" fill="#ebebf2"/>
<rect x="397.65" y="143.6" width="1.05" height="16.05" fill="#eeedf2"/>
<rect x="398.65" y="143.6" width="1.05" height="16.05" fill="#e8e9f1"/>
<rect x="399.64" y="143.6" width="1.05" height="16.05" fill="#f0e7e9"/>
<rect x="400.64" y="143.6" width="1.05" height="16.05" fill="#f0e7e8"/>
<rect x="401.64" y="143.6" width="1.05" height="16.05" fill="#dfe1ef"/>
<rect x="402.64" y="143.6" width="1.05" height="16.05" fill="#f0e8e9"/>
<rect x="403.63" y="143.6" width="1.05" height="16.05" fill="#eee1e2"/>
<rect x="404.63" y="143.6" width="1.05" height="16.05" fill="#e6e7f1"/>
<rect x="405.63" y="143.6" width="1.05" height="16.05" fill="#efe5e7"/>
<rect x="406.62" y="143.6" width="1.05" height="16.05" fill="#f0e8ea"/>
<rect x="407.62" y="143.6" width="1.05" height="16.05" fill="#f1eff3"/>
<rect x="408.62" y="143.6" width="1.05" height="16.05" fill="#dcdfef"/>
<rect x="409.61" y="143.6" width="1.05" height="16.05" fill="#eddddd"/>
<rect x="410.61" y="143.6" width="1.05" height="16.05" fill="#f0e8ea"/>
<rect x="411.61" y="143.6" width="1.05" height="16.05" fill="#f1ebed"/>
<rect x="412.6" y="143.6" width="1.05" height="16.05" fill="#daddee"/>
<rect x="413.6" y="143.6" width="1.05" height="16.05" fill="#f0e7e9"/>
<rect x="414.6" y="143.6" width="1.05" height="16.05" fill="#efe3e4"/>
<rect x="415.6" y="143.6" width="1.05" height="16.05" fill="#f2eff2"/>
<rect x="416.59" y="143.6" width="1.05" height="16.05" fill="#e6e7f1"/>
<rect x="417.59" y="143.6" width="1.05" height="16.05" fill="#f2eff2"/>
<rect x="418.59" y="143.6" width="1.05" height="16.05" fill="#e9d3d3"/>
<rect x="419.58" y="143.6" width="1.05" height="16.05" fill="#f0e7e8"/>
<rect x="420.58" y="143.6" width="1.05" height="16.05" fill="#f2eff2"/>
<rect x="421.58" y="143.6" width="1.05" height="16.05" fill="#f1ebed"/>
<rect x="422.57" y="143.6" width="1.05" height="16.05" fill="#e9d2d2"/>
<rect x="423.57" y="143.6" width="1.05" height="16.05" fill="#ecd9d9"/>
<rect x="424.57" y="143.6" width="1.05" height="16.05" fill="#eedfe0"/>
<rect x="425.56" y="143.6" width="1.05" height="16.05" fill="#eeedf2"/>
<rect x="426.56" y="143.6" width="1.05" height="16.05" fill="#f0eaec"/>
<rect x="427.56" y="143.6" width="1.05" height="16.05" fill="#edddde"/>
<rect x="428.56" y="143.6" width="1.05" height="16.05" fill="#ecd9d9"/>
<rect x="429.55" y="143.6" width="1.05" height="16.05" fill="#f1edef"/>
<rect x="430.55" y="143.6" width="1.05" height="16.05" fill="#eee1e1"/>
<rect x="431.55" y="143.6" width="1.05" height="16.05" fill="#e2c2c2"/>
<rect x="432.54" y="143.6" width="1.05" height="16.05" fill="#ecd9d9"/>
<rect x="433.54" y="143.6" width="1.05" height="16.05" fill="#ecdada"/>
<rect x="434.54" y="143.6" width="1.05" height="16.05" fill="#efe5e6"/>
<rect x="435.53" y="143.6" width="1.05" height="16.05" fill="#eededf"/>
<rect x="436.53" y="143.6" width="1.05" height="16.05" fill="#ead5d5"/>
<rect x="437.53" y="143.6" width="1.05" height="16.05" fill="#f0e9eb"/>
<rect x="438.53" y="143.6" width="1.05" height="16.05" fill="#ecd9d9"/>
<rect x="439.52" y="143.6" width="1.05" height="16.05" fill="#eee0e0"/>
<rect x="440.52" y="143.6" width="1.05" height="16.05" fill="#efe4e5"/>
<rect x="441.52" y="143.6" width="1.05" height="16.05" fill="#e4c6c6"/>
<rect x="442.51" y="143.6" width="1.05" height="16.05" fill="#ebd8d8"/>
<rect x="443.51" y="143.6" width="1.05" height="16.05" fill="#f0e9eb"/>
<rect x="444.51" y="143.6" width="1.05" height="16.05" fill="#eee0e1"/>
<rect x="445.5" y="143.6" width="1.05" height="16.05" fill="#f0e8ea"/>
<rect x="446.5" y="143.6" width="1.05" height="16.05" fill="#efe3e4"/>
<rect x="447.5" y="143.6" width="1.05" height="16.05" fill="#efe6e7"/>
<rect x="448.49" y="143.6" width="1.05" height="16.05" fill="#eeedf2"/>
<rect x="449.49" y="143.6" width="1.05" height="16.05" fill="#eddcdc"/>
<rect x="450.49" y="143.6" width="1.05" height="16.05" fill="#e6cccc"/>
<rect x="451.49" y="143.6" width="1.05" height="16.05" fill="#f1ecef"/>
<rect x="452.48" y="143.6" width="1.05" height="16.05" fill="#ecd9d9"/>
<rect x="453.48" y="143.6" width="1.05" height="16.05" fill="#e5caca"/>
<rect x="454.48" y="143.6" width="1.05" height="16.05" fill="#ead6d6"/>
<rect x="455.47" y="143.6" width="1.05" height="16.05" fill="#e8cfcf"/>
<rect x="456.47" y="143.6" width="1.05" height="16.05" fill="#e9d2d2"/>
<rect x="457.47" y="143.6" width="1.05" height="16.05" fill="#dcb3b3"/>
<rect x="458.46" y="143.6" width="1.05" height="16.05" fill="#dfbbbb"/>
<rect x="459.46" y="143.6" width="1.05" height="16.05" fill="#cb8c8c"/>
<rect x="460.46" y="143.6" width="1.05" height="16.05" fill="#e3c3c3"/>
<rect x="461.45" y="143.6" width="1.05" height="16.05" fill="#d4a0a0"/>
<rect x="462.45" y="143.6" width="1.05" height="16.05" fill="#ecdada"/>
<rect x="463.45" y="143.6" width="2.04" height="16.05" fill="#d4a0a0"/>
<rect x="465.44" y="143.6" width="1.05" height="16.05" fill="#c27878"/>
<rect x="466.44" y="143.6" width="1.05" height="16.05" fill="#d09797"/>
<rect x="467.44" y="143.6" width="1.05" height="16.05" fill="#ce9393"/>
<rect x="468.43" y="143.6" width="1.05" height="16.05" fill="#c78383"/>
<rect x="469.43" y="143.6" width="1.05" height="16.05" fill="#c37a7a"/>
<rect x="470.43" y="143.6" width="1.05" height="16.05" fill="#bd6d6d"/>
<rect x="471.42" y="143.6" width="1.05" height="16.05" fill="#bb6767"/>
<rect x="472.42" y="143.6" width="1.05" height="16.05" fill="#a94647"/>
<rect x="473.42" y="143.6" width="1.05" height="16.05" fill="#a84445"/>
<rect x="474.42" y="143.6" width="5.03" height="16.05" fill="#a23b3d"/>
<rect x="348.8" y="159.6" width="1.05" height="16.05" fill="#acb9dc"/>
<rect x="349.8" y="159.6" width="1.05" height="16.05" fill="#b9c3e1"/>
<rect x="350.79" y="159.6" width="1.05" height="16.05" fill="#8ba0d0"/>
<rect x="351.79" y="159.6" width="1.05" height="16.05" fill="#9dadd7"/>
<rect x="352.79" y="159.6" width="1.05" height="16.05" fill="#d7dced"/>
<rect x="353.78" y="159.6" width="1.05" height="16.05" fill="#92a5d3"/>
<rect x="354.78" y="159.6" width="1.05" height="16.05" fill="#cad1e8"/>
<rect x="355.78" y="159.6" width="1.05" height="16.05" fill="#a6b5da"/>
<rect x="356.78" y="159.6" width="1.05" height="16.05" fill="#c0c8e4"/>
<rect x="357.77" y="159.6" width="2.04" height="16.05" fill="#cbd1e8"/>
<rect x="359.77" y="159.6" width="1.05" height="16.05" fill="#c3cbe5"/>
<rect x="360.76" y="159.6" width="1.05" height="16.05" fill="#8298cb"/>
<rect x="361.76" y="159.6" width="1.05" height="16.05" fill="#d6daed"/>
<rect x="362.76" y="159.6" width="1.05" height="16.05" fill="#bcc5e2"/>
<rect x="363.75" y="159.6" width="1.05" height="16.05" fill="#d9ddee"/>
<rect x="364.75" y="159.6" width="1.05" height="16.05" fill="#d4d9ec"/>
<rect x="365.75" y="159.6" width="1.05" height="16.05" fill="#ccd2e9"/>
<rect x="366.75" y="159.6" width="1.05" height="16.05" fill="#9bacd6"/>
<rect x="367.74" y="159.6" width="1.05" height="16.05" fill="#bfc7e3"/>
<rect x="368.74" y="159.6" width="1.05" height="16.05" fill="#92a6d3"/>
<rect x="369.74" y="159.6" width="1.05" height="16.05" fill="#a8b6db"/>
<rect x="370.73" y="159.6" width="1.05" height="16.05" fill="#c9d0e8"/>
<rect x="371.73" y="159.6" width="1.05" height="16.05" fill="#d8dcee"/>
<rect x="372.73" y="159.6" width="1.05" height="16.05" fill="#d7dbed"/>
<rect x="373.72" y="159.6" width="1.05" height="16.05" fill="#bcc5e2"/>
<rect x="374.72" y="159.6" width="1.05" height="16.05" fill="#dfe2ef"/>
<rect x="375.72" y="159.6" width="1.05" height="16.05" fill="#cdd3e9"/>
<rect x="376.71" y="159.6" width="1.05" height="16.05" fill="#e2e4f0"/>
<rect x="377.71" y="159.6" width="1.05" height="16.05" fill="#9daed7"/>
<rect x="378.71" y="159.6" width="1.05" height="16.05" fill="#f2eff1"/>
<rect x="379.71" y="159.6" width="1.05" height="16.05" fill="#dde0ef"/>
<rect x="380.7" y="159.6" width="1.05" height="16.05" fill="#ecebf2"/>
<rect x="381.7" y="159.6" width="1.05" height="16.05" fill="#c4cbe5"/>
<rect x="382.7" y="159.6" width="1.05" height="16.05" fill="#d0d5ea"/>
<rect x="383.69" y="159.6" width="1.05" height="16.05" fill="#c7cee7"/>
<rect x="384.69" y="159.6" width="1.05" height="16.05" fill="#ced4e9"/>
<rect x="385.69" y="159.6" width="1.05" height="16.05" fill="#ccd2e9"/>
<rect x="386.68" y="159.6" width="1.05" height="16.05" fill="#e9e9f1"/>
<rect x="387.68" y="159.6" width="1.05" height="16.05" fill="#e6e7f1"/>
<rect x="388.68" y="159.6" width="1.05" height="16.05" fill="#ccd2e8"/>
<rect x="389.67" y="159.6" width="1.05" height="16.05" fill="#b7c1e0"/>
<rect x="390.67" y="159.6" width="1.05" height="16.05" fill="#f0e9eb"/>
<rect x="391.67" y="159.6" width="1.05" height="16.05" fill="#ececf2"/>
<rect x="392.67" y="159.6" width="1.05" height="16.05" fill="#eee2e3"/>
<rect x="393.66" y="159.6" width="1.05" height="16.05" fill="#edecf2"/>
<rect x="394.66" y="159.6" width="1.05" height="16.05" fill="#d8dcee"/>
<rect x="395.66" y="159.6" width="1.05" height="16.05" fill="#c9d0e7"/>
<rect x="396.65" y="159.6" width="1.05" height="16.05" fill="#d0d6ea"/>
<rect x="397.65" y="159.6" width="1.05" height="16.05" fill="#e6e7f1"/>
<rect x="398.65" y="159.6" width="1.05" height="16.05" fill="#f1edf0"/>
<rect x="399.64" y="159.6" width="1.05" height="16.05" fill="#ecdada"/>
<rect x="400.64" y="159.6" width="1.05" height="16.05" fill="#eddddd"/>
<rect x="401.64" y="159.6" width="1.05" height="16.05" fill="#e7e8f1"/>
<rect x="402.64" y="159.6" width="1.05" height="16.05" fill="#f0eaec"/>
<rect x="403.63" y="159.6" width="1.05" height="16.05" fill="#eedfe0"/>
<rect x="404.63" y="159.6" width="1.05" height="16.05" fill="#e2e4f0"/>
<rect x="405.63" y="159.6" width="1.05" height="16.05" fill="#eedfe0"/>
<rect x="406.62" y="159.6" width="1.05" height="16.05" fill="#eddddd"/>
<rect x="407.62" y="159.6" width="1.05" height="16.05" fill="#ecd9d9"/>
<rect x="408.62" y="159.6" width="1.05" height="16.05" fill="#f2eff2"/>
<rect x="409.61" y="159.6" width="1.05" height="16.05" fill="#d9ddee"/>
<rect x="410.61" y="159.6" width="1.05" height="16.05" fill="#eee0e1"/>
<rect x="411.61" y="159.6" width="1.05" height="16.05" fill="#f1eff3"/>
<rect x="412.6" y="159.6" width="1.05" height="16.05" fill="#bbc4e2"/>
<rect x="413.6" y="159.6" width="1.05" height="16.05" fill="#e0e2ef"/>
<rect x="414.6" y="159.6" width="1.05" height="16.05" fill="#efe5e7"/>
<rect x="415.6" y="159.6" width="1.05" height="16.05" fill="#e9d3d3"/>
<rect x="416.59" y="159.6" width="1.05" height="16.05" fill="#d5daed"/>
<rect x="417.59" y="159.6" width="1.05" height="16.05" fill="#dce0ef"/>
<rect x="418.59" y="159.6" width="1.05" height="16.05" fill="#eddede"/>
<rect x="419.58" y="159.6" width="1.05" height="16.05" fill="#f0e7e9"/>
<rect x="420.58" y="159.6" width="1.05" height="16.05" fill="#f1edef"/>
<rect x="421.58" y="159.6" width="1.05" height="16.05" fill="#f0e6e8"/>
<rect x="422.57" y="159.6" width="1.05" height="16.05" fill="#ecd9d9"/>
<rect x="423.57" y="159.6" width="1.05" height="16.05" fill="#f1eef1"/>
<rect x="424.57" y="159.6" width="1.05" height="16.05" fill="#e9d3d3"/>
<rect x="425.56" y="159.6" width="1.05" height="16.05" fill="#e2e4f0"/>
<rect x="426.56" y="159.6" width="1.05" height="16.05" fill="#f1ecef"/>
<rect x="427.56" y="159.6" width="1.05" height="16.05" fill="#ebd7d7"/>
<rect x="428.56" y="159.6" width="1.05" height="16.05" fill="#e6cccc"/>
<rect x="429.55" y="159.6" width="1.05" height="16.05" fill="#ecd9d9"/>
<rect x="430.55" y="159.6" width="1.05" height="16.05" fill="#eddbdb"/>
<rect x="431.55" y="159.6" width="1.05" height="16.05" fill="#e9d3d3"/>
<rect x="432.54" y="159.6" width="1.05" height="16.05" fill="#ead6d6"/>
<rect x="433.54" y="159.6" width="1.05" height="16.05" fill="#f0e7e9"/>
<rect x="434.54" y="159.6" width="1.05" height="16.05" fill="#f0e9eb"/>
<rect x="435.53" y="159.6" width="1.05" height="16.05" fill="#e1bfbf"/>
<rect x="436.53" y="159.6" width="1.05" height="16.05" fill="#daafaf"/>
<rect x="437.53" y="159.6" width="1.05" height="16.05" fill="#ebeaf2"/>
<rect x="438.53" y="159.6" width="1.05" height="16.05" fill="#e4c7c7"/>
<rect x="439.52" y="159.6" width="1.05" height="16.05" fill="#f2eef1"/>
<rect x="440.52" y="159.6" width="1.05" height="16.05" fill="#ead4d4"/>
<rect x="441.52" y="159.6" width="1.05" height="16.05" fill="#e8d1d1"/>
<rect x="442.51" y="159.6" width="1.05" height="16.05" fill="#e9d2d2"/>
<rect x="443.51" y="159.6" width="1.05" height="16.05" fill="#ebebf2"/>
<rect x="444.51" y="159.6" width="1.05" height="16.05" fill="#e6caca"/>
<rect x="445.5" y="159.6" width="1.05" height="16.05" fill="#dfbbbb"/>
<rect x="446.5" y="159.6" width="1.05" height="16.05" fill="#e6cbcb"/>
<rect x="447.5" y="159.6" width="1.05" height="16.05" fill="#ead4d4"/>
<rect x="448.49" y="159.6" width="1.05" height="16.05" fill="#eaeaf1"/>
<rect x="449.49" y="159.6" width="1.05" height="16.05" fill="#edddde"/>
<rect x="450.49" y="159.6" width="1.05" height="16.05" fill="#eddcdc"/>
<rect x="451.49" y="159.6" width="1.05" height="16.05" fill="#f1ebed"/>
<rect x="452.48" y="159.6" width="1.05" height="16.05" fill="#eee1e1"/>
<rect x="453.48" y="159.6" width="1.05" height="16.05" fill="#e4c7c7"/>
<rect x="454.48" y="159.6" width="1.05" height="16.05" fill="#e4c6c6"/>
<rect x="455.47" y="159.6" width="1.05" height="16.05" fill="#deb8b8"/>
<rect x="456.47" y="159.6" width="1.05" height="16.05" fill="#ead5d5"/>
<rect x="457.47" y="159.6" width="1.05" height="16.05" fill="#ecd9d9"/>
<rect x="458.46" y="159.6" width="1.05" height="16.05" fill="#d8a9a9"/>
<rect x="459.46" y="159.6" width="1.05" height="16.05" fill="#d5a3a3"/>
<rect x="460.46" y="159.6" width="1.05" height="16.05" fill="#d8abab"/>
<rect x="461.45" y="159.6" width="1.05" height="16.05" fill="#ddb6b6"/>
<rect x="462.45" y="159.6" width="1.05" height="16.05" fill="#deb7b7"/>
<rect x="463.45" y="159.6" width="1.05" height="16.05" fill="#ce9393"/>
<rect x="464.45" y="159.6" width="1.05" height="16.05" fill="#d5a2a2"/>
<rect x="465.44" y="159.6" width="1.05" height="16.05" fill="#ce9393"/>
<rect x="466.44" y="159.6" width="1.05" height="16.05" fill="#c37b7b"/>
<rect x="467.44" y="159.6" width="1.05" height="16.05" fill="#cc9090"/>
<rect x="468.43" y="159.6" width="1.05" height="16.05" fill="#c37979"/>
<rect x="469.43" y="159.6" width="1.05" height="16.05" fill="#bb6868"/>
<rect x="470.43" y="159.6" width="1.05" height="16.05" fill="#ce9292"/>
<rect x="471.42" y="159.6" width="1.05" height="16.05" fill="#b55959"/>
<rect x="472.42" y="159.6" width="1.05" height="16.05" fill="#a33c3e"/>
<rect x="473.42" y="159.6" width="1.05" height="16.05" fill="#af4f4f"/>
<rect x="474.42" y="159.6" width="1.05" height="16.05" fill="#a23b3d"/>
<rect x="475.41" y="159.6" width="1.05" height="16.05" fill="#b85f5f"/>
<rect x="476.41" y="159.6" width="3.04" height="16.05" fill="#a23b3d"/>
<rect x="348.8" y="175.6" width="1.05" height="16.05" fill="#ced4e9"/>
<rect x="349.8" y="175.6" width="1.05" height="16.05" fill="#d5daec"/>
<rect x="350.79" y="175.6" width="1.05" height="16.05" fill="#97a9d4"/>
<rect x="351.79" y="175.6" width="1.05" height="16.05" fill="#9bacd6"/>
<rect x="352.79" y="175.6" width="1.05" height="16.05" fill="#cad0e8"/>
<rect x="353.78" y="175.6" width="1.05" height="16.05" fill="#a7b5da"/>
<rect x="354.78" y="175.6" width="1.05" height="16.05" fill="#c0c9e4"/>
<rect x="355.78" y="175.6" width="1.05" height="16.05" fill="#aebbdd"/>
<rect x="356.78" y="175.6" width="1.05" height="16.05" fill="#ccd2e9"/>
<rect x="357.77" y="175.6" width="1.05" height="16.05" fill="#c7cee6"/>
<rect x="358.77" y="175.6" width="1.05" height="16.05" fill="#e6e7f1"/>
<rect x="359.77" y="175.6" width="1.05" height="16.05" fill="#d5daec"/>
<rect x="360.76" y="175.6" width="1.05" height="16.05" fill="#7f96ca"/>
<rect x="361.76" y="175.6" width="1.05" height="16.05" fill="#d0d6ea"/>
<rect x="362.76" y="175.6" width="1.05" height="16.05" fill="#cfd5ea"/>
<rect x="363.75" y="175.6" width="1.05" height="16.05" fill="#edecf2"/>
<rect x="364.75" y="175.6" width="1.05" height="16.05" fill="#f1ecef"/>
<rect x="365.75" y="175.6" width="1.05" height="16.05" fill="#c9d0e8"/>
<rect x="366.75" y="175.6" width="1.05" height="16.05" fill="#c5cce6"/>
<rect x="367.74" y="175.6" width="1.05" height="16.05" fill="#b9c3e1"/>
<rect x="368.74" y="175.6" width="1.05" height="16.05" fill="#a5b4da"/>
<rect x="369.74" y="175.6" width="1.05" height="16.05" fill="#d4d8ec"/>
<rect x="370.73" y="175.6" width="1.05" height="16.05" fill="#bec7e3"/>
<rect x="371.73" y="175.6" width="1.05" height="16.05" fill="#c1c9e4"/>
<rect x="372.73" y="175.6" width="1.05" height="16.05" fill="#c8cfe7"/>
<rect x="373.72" y="175.6" width="1.05" height="16.05" fill="#a0b0d8"/>
<rect x="374.72" y="175.6" width="1.05" height="16.05" fill="#b9c3e1"/>
<rect x="375.72" y="175.6" width="1.05" height="16.05" fill="#ced4ea"/>
<rect x="376.71" y="175.6" width="1.05" height="16.05" fill="#f2f0f3"/>
<rect x="377.71" y="175.6" width="1.05" height="16.05" fill="#9fafd7"/>
<rect x="378.71" y="175.6" width="1.05" height="16.05" fill="#ebebf2"/>
<rect x="379.71" y="175.6" width="1.05" height="16.05" fill="#eee1e2"/>
<rect x="380.7" y="175.6" width="1.05" height="16.05" fill="#d7dced"/>
<rect x="381.7" y="175.6" width="1.05" height="16.05" fill="#b4bfdf"/>
<rect x="382.7" y="175.6" width="1.05" height="16.05" fill="#d8dced"/>
<rect x="383.69" y="175.6" width="1.05" height="16.05" fill="#dfe2ef"/>
<rect x="384.69" y="175.6" width="1.05" height="16.05" fill="#dcdfef"/>
<rect x="385.69" y="175.6" width="1.05" height="16.05" fill="#e1e3f0"/>
<rect x="386.68" y="175.6" width="1.05" height="16.05" fill="#e4e5f0"/>
<rect x="387.68" y="175.6" width="1.05" height="16.05" fill="#eedfe0"/>
<rect x="388.68" y="175.6" width="1.05" height="16.05" fill="#e9e9f1"/>
<rect x="389.67" y="175.6" width="1.05" height="16.05" fill="#bec6e3"/>
<rect x="390.67" y="175.6" width="1.05" height="16.05" fill="#e3e4f0"/>
<rect x="391.67" y="175.6" width="1.05" height="16.05" fill="#cfd5ea"/>
<rect x="392.67" y="175.6" width="1.05" height="16.05" fill="#e8e9f1"/>
<rect x="393.66" y="175.6" width="1.05" height="16.05" fill="#e8e8f1"/>
<rect x="394.66" y="175.6" width="1.05" height="16.05" fill="#e4e5f0"/>
<rect x="395.66" y="175.6" width="1.05" height="16.05" fill="#ccd2e9"/>
<rect x="396.65" y="175.6" width="1.05" height="16.05" fill="#dde0ef"/>
<rect x="397.65" y="175.6" width="1.05" height="16.05" fill="#ebd7d7"/>
<rect x="398.65" y="175.6" width="1.05" height="16.05" fill="#e8e8f1"/>
<rect x="399.64" y="175.6" width="1.05" height="16.05" fill="#efe4e5"/>
<rect x="400.64" y="175.6" width="1.05" height="16.05" fill="#eaeaf1"/>
<rect x="401.64" y="175.6" width="1.05" height="16.05" fill="#f2f0f3"/>
<rect x="402.64" y="175.6" width="1.05" height="16.05" fill="#ecd9d9"/>
<rect x="403.63" y="175.6" width="1.05" height="16.05" fill="#eddddd"/>
<rect x="404.63" y="175.6" width="1.05" height="16.05" fill="#f0eff3"/>
<rect x="405.63" y="175.6" width="1.05" height="16.05" fill="#ebd6d6"/>
<rect x="406.62" y="175.6" width="1.05" height="16.05" fill="#f1eef1"/>
<rect x="407.62" y="175.6" width="1.05" height="16.05" fill="#f0eaec"/>
<rect x="408.62" y="175.6" width="1.05" height="16.05" fill="#dde0ef"/>
<rect x="409.61" y="175.6" width="1.05" height="16.05" fill="#f2eff2"/>
<rect x="410.61" y="175.6" width="1.05" height="16.05" fill="#f2eef1"/>
<rect x="411.61" y="175.6" width="1.05" height="16.05" fill="#f2f0f3"/>
<rect x="412.6" y="175.6" width="1.05" height="16.05" fill="#e8e8f1"/>
<rect x="413.6" y="175.6" width="1.05" height="16.05" fill="#f0e8ea"/>
<rect x="414.6" y="175.6" width="1.05" height="16.05" fill="#efe5e6"/>
<rect x="415.6" y="175.6" width="1.05" height="16.05" fill="#efe6e7"/>
<rect x="416.59" y="175.6" width="1.05" height="16.05" fill="#e2e4f0"/>
<rect x="417.59" y="175.6" width="1.05" height="16.05" fill="#d3d8ec"/>
<rect x="418.59" y="175.6" width="1.05" height="16.05" fill="#e9e9f1"/>
<rect x="419.58" y="175.6" width="1.05" height="16.05" fill="#edecf2"/>
<rect x="420.58" y="175.6" width="1.05" height="16.05" fill="#f0e7e9"/>
<rect x="421.58" y="175.6" width="1.05" height="16.05" fill="#f1eaed"/>
<rect x="422.57" y="175.6" width="1.05" height="16.05" fill="#ecdbdb"/>
<rect x="423.57" y="175.6" width="1.05" height="16.05" fill="#ebd7d7"/>
<rect x="424.57" y="175.6" width="1.05" height="16.05" fill="#e4e6f0"/>
<rect x="425.56" y="175.6" width="1.05" height="16.05" fill="#e3e4f0"/>
<rect x="426.56" y="175.6" width="1.05" height="16.05" fill="#e1e3f0"/>
<rect x="427.56" y="175.6" width="1.05" height="16.05" fill="#efe2e3"/>
<rect x="428.56" y="175.6" width="1.05" height="16.05" fill="#f1eef0"/>
<rect x="429.55" y="175.6" width="1.05" height="16.05" fill="#efe3e4"/>
<rect x="430.55" y="175.6" width="1.05" height="16.05" fill="#e0bdbd"/>
<rect x="431.55" y="175.6" width="1.05" height="16.05" fill="#f0e9eb"/>
<rect x="432.54" y="175.6" width="1.05" height="16.05" fill="#ecd9d9"/>
<rect x="433.54" y="175.6" width="1.05" height="16.05" fill="#efeef2"/>
<rect x="434.54" y="175.6" width="1.05" height="16.05" fill="#f1ecee"/>
<rect x="435.53" y="175.6" width="1.05" height="16.05" fill="#f0e8ea"/>
<rect x="436.53" y="175.6" width="1.05" height="16.05" fill="#e5caca"/>
<rect x="437.53" y="175.6" width="1.05" height="16.05" fill="#d7dced"/>
<rect x="438.53" y="175.6" width="1.05" height="16.05" fill="#eddbdb"/>
<rect x="439.52" y="175.6" width="1.05" height="16.05" fill="#efe5e6"/>
<rect x="440.52" y="175.6" width="1.05" height="16.05" fill="#f0e6e8"/>
<rect x="441.52" y="175.6" width="1.05" height="16.05" fill="#e5c8c8"/>
<rect x="442.51" y="175.6" width="1.05" height="16.05" fill="#ead5d5"/>
<rect x="443.51" y="175.6" width="1.05" height="16.05" fill="#ead4d4"/>
<rect x="444.51" y="175.6" width="1.05" height="16.05" fill="#e7cdcd"/>
<rect x="445.5" y="175.6" width="1.05" height="16.05" fill="#e3c3c3"/>
<rect x="446.5" y="175.6" width="1.05" height="16.05" fill="#eddddd"/>
<rect x="447.5" y="175.6" width="1.05" height="16.05" fill="#eededf"/>
<rect x="448.49" y="175.6" width="1.05" height="16.05" fill="#edecf2"/>
<rect x="449.49" y="175.6" width="1.05" height="16.05" fill="#e8d1d1"/>
<rect x="450.49" y="175.6" width="1.05" height="16.05" fill="#ecdada"/>
<rect x="451.49" y="175.6" width="1.05" height="16.05" fill="#eddede"/>
<rect x="452.48" y="175.6" width="1.05" height="16.05" fill="#eee0e1"/>
<rect x="453.48" y="175.6" width="1.05" height="16.05" fill="#f1ebed"/>
<rect x="454.48" y="175.6" width="1.05" height="16.05" fill="#e3c5c5"/>
<rect x="455.47" y="175.6" width="1.05" height="16.05" fill="#dcb3b3"/>
<rect x="456.47" y="175.6" width="1.05" height="16.05" fill="#ebd8d8"/>
<rect x="457.47" y="175.6" width="1.05" height="16.05" fill="#e2c1c1"/>
<rect x="458.46" y="175.6" width="1.05" height="16.05" fill="#e0bcbc"/>
<rect x="459.46" y="175.6" width="1.05" height="16.05" fill="#dfbbbb"/>
<rect x="460.46" y="175.6" width="1.05" height="16.05" fill="#e6cbcb"/>
<rect x="461.45" y="175.6" width="1.05" height="16.05" fill="#d6a4a4"/>
<rect x="462.45" y="175.6" width="1.05" height="16.05" fill="#deb8b8"/>
<rect x="463.45" y="175.6" width="1.05" height="16.05" fill="#ce9292"/>
<rect x="464.45" y="175.6" width="1.05" height="16.05" fill="#bf7171"/>
<rect x="465.44" y="175.6" width="1.05" height="16.05" fill="#c98989"/>
<rect x="466.44" y="175.6" width="1.05" height="16.05" fill="#d6a6a6"/>
<rect x="467.44" y="175.6" width="1.05" height="16.05" fill="#ddb5b5"/>
<rect x="468.43" y="175.6" width="1.05" height="16.05" fill="#b75c5c"/>
<rect x="469.43" y="175.6" width="1.05" height="16.05" fill="#c17575"/>
<rect x="470.43" y="175.6" width="1.05" height="16.05" fill="#c68282"/>
<rect x="471.42" y="175.6" width="1.05" height="16.05" fill="#c88686"/>
<rect x="472.42" y="175.6" width="1.05" height="16.05" fill="#b55858"/>
<rect x="473.42" y="175.6" width="1.05" height="16.05" fill="#b05050"/>
<rect x="474.42" y="175.6" width="5.03" height="16.05" fill="#a23b3d"/>
<rect x="348.8" y="191.6" width="1.05" height="16.05" fill="#bcc5e2"/>
<rect x="349.8" y="191.6" width="1.05" height="16.05" fill="#d3d8ec"/>
<rect x="350.79" y="191.6" width="1.05" height="16.05" fill="#b2bede"/>
<rect x="351.79" y="191.6" width="1.05" height="16.05" fill="#d4d9ec"/>
<rect x="352.79" y="191.6" width="1.05" height="16.05" fill="#e0e2ef"/>
<rect x="353.78" y="191.6" width="1.05" height="16.05" fill="#bfc7e3"/>
<rect x="354.78" y="191.6" width="1.05" height="16.05" fill="#b8c2e0"/>
<rect x="355.78" y="191.6" width="1.05" height="16.05" fill="#b7c1e0"/>
<rect x="356.78" y="191.6" width="1.05" height="16.05" fill="#ccd2e8"/>
<rect x="357.77" y="191.6" width="1.05" height="16.05" fill="#cdd3e9"/>
<rect x="358.77" y="191.6" width="1.05" height="16.05" fill="#c1cae4"/>
<rect x="359.77" y="191.6" width="1.05" height="16.05" fill="#d2d7eb"/>
<rect x="360.76" y="191.6" width="1.05" height="16.05" fill="#b3bedf"/>
<rect x="361.76" y="191.6" width="1.05" height="16.05" fill="#cad1e8"/>
<rect x="362.76" y="191.6" width="1.05" height="16.05" fill="#d2d7eb"/>
<rect x="363.75" y="191.6" width="1.05" height="16.05" fill="#efe2e3"/>
<rect x="364.75" y="191.6" width="1.05" height="16.05" fill="#e3e5f0"/>
<rect x="365.75" y="191.6" width="1.05" height="16.05" fill="#dbdfee"/>
<rect x="366.75" y="191.6" width="1.05" height="16.05" fill="#cad0e8"/>
<rect x="367.74" y="191.6" width="1.05" height="16.05" fill="#e9eaf1"/>
<rect x="368.74" y="191.6" width="2.04" height="16.05" fill="#d5daec"/>
<rect x="370.73" y="191.6" width="1.05" height="16.05" fill="#d3d8eb"/>
<rect x="371.73" y="191.6" width="1.05" height="16.05" fill="#cfd4ea"/>
<rect x="372.73" y="191.6" width="1.05" height="16.05" fill="#e2e4f0"/>
<rect x="373.72" y="191.6" width="1.05" height="16.05" fill="#cbd1e8"/>
<rect x="374.72" y="191.6" width="1.05" height="16.05" fill="#d7dbed"/>
<rect x="375.72" y="191.6" width="1.05" height="16.05" fill="#b8c2e1"/>
<rect x="376.71" y="191.6" width="1.05" height="16.05" fill="#efe6e7"/>
<rect x="377.71" y="191.6" width="1.05" height="16.05" fill="#ccd2e9"/>
<rect x="378.71" y="191.6" width="1.05" height="16.05" fill="#e4e6f0"/>
<rect x="379.71" y="191.6" width="1.05" height="16.05" fill="#ccd2e8"/>
<rect x="380.7" y="191.6" width="1.05" height="16.05" fill="#cfd5ea"/>
<rect x="381.7" y="191.6" width="1.05" height="16.05" fill="#b7c1e0"/>
<rect x="382.7" y="191.6" width="1.05" height="16.05" fill="#e2e4f0"/>
<rect x="383.69" y="191.6" width="1.05" height="16.05" fill="#d1d7eb"/>
<rect x="384.69" y="191.6" width="1.05" height="16.05" fill="#e7e8f1"/>
<rect x="385.69" y="191.6" width="1.05" height="16.05" fill="#dfe2ef"/>
<rect x="386.68" y="191.6" width="1.05" height="16.05" fill="#f0e9eb"/>
<rect x="387.68" y="191.6" width="1.05" height="16.05" fill="#f0e8ea"/>
<rect x="388.68" y="191.6" width="1.05" height="16.05" fill="#ebebf2"/>
<rect x="389.67" y="191.6" width="1.05" height="16.05" fill="#dde0ef"/>
<rect x="390.67" y="191.6" width="1.05" height="16.05" fill="#e8e8f1"/>
<rect x="391.67" y="191.6" width="1.05" height="16.05" fill="#e0e2ef"/>
<rect x="392.67" y="191.6" width="1.05" height="16.05" fill="#f1eff3"/>
<rect x="393.66" y="191.6" width="1.05" height="16.05" fill="#f0e7e9"/>
<rect x="394.66" y="191.6" width="1.05" height="16.05" fill="#ebebf2"/>
<rect x="395.66" y="191.6" width="1.05" height="16.05" fill="#cdd3e9"/>
<rect x="396.65" y="191.6" width="1.05" height="16.05" fill="#f2eff2"/>
<rect x="397.65" y="191.6" width="1.05" height="16.05" fill="#ebebf2"/>
<rect x="398.65" y="191.6" width="1.05" height="16.05" fill="#d3d8eb"/>
<rect x="399.64" y="191.6" width="1.05" height="16.05" fill="#eee1e2"/>
<rect x="400.64" y="191.6" width="1.05" height="16.05" fill="#f1ebed"/>
<rect x="401.64" y="191.6" width="1.05" height="16.05" fill="#e0e2ef"/>
<rect x="402.64" y="191.6" width="1.05" height="16.05" fill="#edecf2"/>
<rect x="403.63" y="191.6" width="1.05" height="16.05" fill="#f0e7e9"/>
<rect x="404.63" y="191.6" width="1.05" height="16.05" fill="#ead5d5"/>
<rect x="405.63" y="191.6" width="1.05" height="16.05" fill="#f0e7e8"/>
<rect x="406.62" y="191.6" width="1.05" height="16.05" fill="#e7cdcd"/>
<rect x="407.62" y="191.6" width="1.05" height="16.05" fill="#ecd9d9"/>
<rect x="408.62" y="191.6" width="1.05" height="16.05" fill="#efe3e4"/>
<rect x="409.61" y="191.6" width="1.05" height="16.05" fill="#f2eff2"/>
<rect x="410.61" y="191.6" width="1.05" height="16.05" fill="#f1edf0"/>
<rect x="411.61" y="191.6" width="1.05" height="16.05" fill="#e3e5f0"/>
<rect x="412.6" y="191.6" width="1.05" height="16.05" fill="#dee0ef"/>
<rect x="413.6" y="191.6" width="1.05" height="16.05" fill="#dbdeee"/>
<rect x="414.6" y="191.6" width="1.05" height="16.05" fill="#ebebf2"/>
<rect x="415.6" y="191.6" width="1.05" height="16.05" fill="#efe3e5"/>
<rect x="416.59" y="191.6" width="1.05" height="16.05" fill="#f2eef1"/>
<rect x="417.59" y="191.6" width="1.05" height="16.05" fill="#e3e4f0"/>
<rect x="418.59" y="191.6" width="1.05" height="16.05" fill="#f1edef"/>
<rect x="419.58" y="191.6" width="1.05" height="16.05" fill="#ecebf2"/>
<rect x="420.58" y="191.6" width="1.05" height="16.05" fill="#eddede"/>
<rect x="421.58" y="191.6" width="1.05" height="16.05" fill="#ead6d6"/>
<rect x="422.57" y="191.6" width="1.05" height="16.05" fill="#f0e7e9"/>
<rect x="423.57" y="191.6" width="2.04" height="16.05" fill="#efe4e5"/>
<rect x="425.56" y="191.6" width="1.05" height="16.05" fill="#dde0ef"/>
<rect x="426.56" y="191.6" width="1.05" height="16.05" fill="#eee1e2"/>
<rect x="427.56" y="191.6" width="1.05" height="16.05" fill="#ead5d5"/>
<rect x="428.56" y="191.6" width="1.05" height="16.05" fill="#ecdada"/>
<rect x="429.55" y="191.6" width="1.05" height="16.05" fill="#e6cbcb"/>
<rect x="430.55" y="191.6" width="1.05" height="16.05" fill="#efe2e3"/>
<rect x="431.55" y="191.6" width="1.05" height="16.05" fill="#ebd7d7"/>
<rect x="432.54" y="191.6" width="1.05" height="16.05" fill="#e5c9c9"/>
<rect x="433.54" y="191.6" width="1.05" height="16.05" fill="#eaeaf1"/>
<rect x="434.54" y="191.6" width="1.05" height="16.05" fill="#efe5e6"/>
<rect x="435.53" y="191.6" width="1.05" height="16.05" fill="#efe5e7"/>
<rect x="436.53" y="191.6" width="1.05" height="16.05" fill="#e8d1d1"/>
<rect x="437.53" y="191.6" width="1.05" height="16.05" fill="#efe3e3"/>
<rect x="438.53" y="191.6" width="1.05" height="16.05" fill="#eddcdd"/>
<rect x="439.52" y="191.6" width="1.05" height="16.05" fill="#f1eaed"/>
<rect x="440.52" y="191.6" width="1.05" height="16.05" fill="#eee0e1"/>
<rect x="441.52" y="191.6" width="1.05" height="16.05" fill="#e5c8c8"/>
<rect x="442.51" y="191.6" width="1.05" height="16.05" fill="#ecd9d9"/>
<rect x="443.51" y="191.6" width="1.05" height="16.05" fill="#eeedf2"/>
<rect x="444.51" y="191.6" width="1.05" height="16.05" fill="#e8d0d0"/>
<rect x="445.5" y="191.6" width="1.05" height="16.05" fill="#e6cbcb"/>
<rect x="446.5" y="191.6" width="1.05" height="16.05" fill="#f0eff3"/>
<rect x="447.5" y="191.6" width="1.05" height="16.05" fill="#eddede"/>
<rect x="448.49" y="191.6" width="1.05" height="16.05" fill="#eee2e3"/>
<rect x="449.49" y="191.6" width="1.05" height="16.05" fill="#eedfe0"/>
<rect x="450.49" y="191.6" width="1.05" height="16.05" fill="#ebd8d8"/>
<rect x="451.49" y="191.6" width="1.05" height="16.05" fill="#e9d4d4"/>
<rect x="452.48" y="191.6" width="1.05" height="16.05" fill="#efe5e6"/>
<rect x="453.48" y="191.6" width="1.05" height="16.05" fill="#dfbaba"/>
<rect x="454.48" y="191.6" width="1.05" height="16.05" fill="#e5c9c9"/>
<rect x="455.47" y="191.6" width="1.05" height="16.05" fill="#e3c5c5"/>
<rect x="456.47" y="191.6" width="1.05" height="16.05" fill="#e5c9c9"/>
<rect x="457.47" y="191.6" width="1.05" height="16.05" fill="#e6cbcb"/>
<rect x="458.46" y="191.6" width="1.05" height="16.05" fill="#e2c1c1"/>
<rect x="459.46" y="191.6" width="1.05" height="16.05" fill="#ddb6b6"/>
<rect x="460.46" y="191.6" width="1.05" height="16.05" fill="#e3c5c5"/>
<rect x="461.45" y="191.6" width="1.05" height="16.05" fill="#e5c9c9"/>
<rect x="462.45" y="191.6" width="1.05" height="16.05" fill="#deb8b8"/>
<rect x="463.45" y="191.6" width="2.04" height="16.05" fill="#daafaf"/>
<rect x="465.44" y="191.6" width="1.05" height="16.05" fill="#d5a3a3"/>
<rect x="466.44" y="191.6" width="1.05" height="16.05" fill="#d19999"/>
<rect x="467.44" y="191.6" width="1.05" height="16.05" fill="#d8aaaa"/>
<rect x="468.43" y="191.6" width="1.05" height="16.05" fill="#be6e6e"/>
<rect x="469.43" y="191.6" width="1.05" height="16.05" fill="#c68282"/>
<rect x="470.43" y="191.6" width="2.04" height="16.05" fill="#c88686"/>
<rect x="472.42" y="191.6" width="1.05" height="16.05" fill="#b96161"/>
<rect x="473.42" y="191.6" width="1.05" height="16.05" fill="#ae4c4d"/>
<rect x="474.42" y="191.6" width="1.05" height="16.05" fill="#a23b3d"/>
<rect x="475.41" y="191.6" width="1.05" height="16.05" fill="#a43d3f"/>
<rect x="476.41" y="191.6" width="1.05" height="16.05" fill="#b04f50"/>
<rect x="477.41" y="191.6" width="1.05" height="16.05" fill="#a23b3d"/>
<rect x="478.4" y="191.6" width="1.05" height="16.05" fill="#a94647"/>
<rect x="348.8" y="207.6" width="1.05" height="16.05" fill="#b7c2e0"/>
<rect x="349.8" y="207.6" width="1.05" height="16.05" fill="#bdc6e3"/>
<rect x="350.79" y="207.6" width="1.05" height="16.05" fill="#afbcdd"/>
<rect x="351.79" y="207.6" width="1.05" height="16.05" fill="#c3cbe5"/>
<rect x="352.79" y="207.6" width="1.05" height="16.05" fill="#e6e7f1"/>
<rect x="353.78" y="207.6" width="1.05" height="16.05" fill="#c2cae5"/>
<rect x="354.78" y="207.6" width="1.05" height="16.05" fill="#b7c1e0"/>
<rect x="355.78" y="207.6" width="1.05" height="16.05" fill="#b2bede"/>
<rect x="356.78" y="207.6" width="1.05" height="16.05" fill="#ccd3e9"/>
<rect x="357.77" y="207.6" width="1.05" height="16.05" fill="#d9ddee"/>
<rect x="358.77" y="207.6" width="1.05" height="16.05" fill="#cfd4ea"/>
<rect x="359.77" y="207.6" width="1.05" height="16.05" fill="#bec7e3"/>
<rect x="360.76" y="207.6" width="1.05" height="16.05" fill="#9bacd6"/>
<rect x="361.76" y="207.6" width="1.05" height="16.05" fill="#d7dbed"/>
<rect x="362.76" y="207.6" width="1.05" height="16.05" fill="#c7cee7"/>
<rect x="363.75" y="207.6" width="1.05" height="16.05" fill="#e4e6f0"/>
<rect x="364.75" y="207.6" width="1.05" height="16.05" fill="#d2d7eb"/>
<rect x="365.75" y="207.6" width="1.05" height="16.05" fill="#dbdfee"/>
<rect x="366.75" y="207.6" width="1.05" height="16.05" fill="#d4d9ec"/>
<rect x="367.74" y="207.6" width="1.05" height="16.05" fill="#d0d6ea"/>
<rect x="368.74" y="207.6" width="1.05" height="16.05" fill="#c9cfe7"/>
<rect x="369.74" y="207.6" width="1.05" height="16.05" fill="#dcdfef"/>
<rect x="370.73" y="207.6" width="1.05" height="16.05" fill="#c2cae4"/>
<rect x="371.73" y="207.6" width="1.05" height="16.05" fill="#dcdfef"/>
<rect x="372.73" y="207.6" width="2.04" height="16.05" fill="#d4d9ec"/>
<rect x="374.72" y="207.6" width="1.05" height="16.05" fill="#d1d6eb"/>
<rect x="375.72" y="207.6" width="1.05" height="16.05" fill="#ccd3e9"/>
<rect x="376.71" y="207.6" width="1.05" height="16.05" fill="#daddee"/>
<rect x="377.71" y="207.6" width="1.05" height="16.05" fill="#bac4e1"/>
<rect x="378.71" y="207.6" width="1.05" height="16.05" fill="#e1e3f0"/>
<rect x="379.71" y="207.6" width="1.05" height="16.05" fill="#d1d6eb"/>
<rect x="380.7" y="207.6" width="1.05" height="16.05" fill="#d8dcee"/>
<rect x="381.7" y="207.6" width="1.05" height="16.05" fill="#bec7e3"/>
<rect x="382.7" y="207.6" width="1.05" height="16.05" fill="#cfd5ea"/>
<rect x="383.69" y="207.6" width="1.05" height="16.05" fill="#d5daec"/>
<rect x="384.69" y="207.6" width="1.05" height="16.05" fill="#d9ddee"/>
<rect x="385.69" y="207.6" width="1.05" height="16.05" fill="#dde0ef"/>
<rect x="386.68" y="207.6" width="1.05" height="16.05" fill="#f2f0f3"/>
<rect x="387.68" y="207.6" width="1.05" height="16.05" fill="#f2eef1"/>
<rect x="388.68" y="207.6" width="1.05" height="16.05" fill="#c8cfe7"/>
<rect x="389.67" y="207.6" width="1.05" height="16.05" fill="#d3d8ec"/>
<rect x="390.67" y="207.6" width="1.05" height="16.05" fill="#efedf2"/>
<rect x="391.67" y="207.6" width="1.05" height="16.05" fill="#d5daed"/>
<rect x="392.67" y="207.6" width="1.05" height="16.05" fill="#e9e9f1"/>
<rect x="393.66" y="207.6" width="1.05" height="16.05" fill="#eee0e1"/>
<rect x="394.66" y="207.6" width="1.05" height="16.05" fill="#ced4e9"/>
<rect x="395.66" y="207.6" width="1.05" height="16.05" fill="#c0c9e4"/>
<rect x="396.65" y="207.6" width="1.05" height="16.05" fill="#e2e4f0"/>
<rect x="397.65" y="207.6" width="1.05" height="16.05" fill="#c8cfe7"/>
<rect x="398.65" y="207.6" width="1.05" height="16.05" fill="#dde0ef"/>
<rect x="399.64" y="207.6" width="1.05" height="16.05" fill="#f0e8e9"/>
<rect x="400.64" y="207.6" width="1.05" height="16.05" fill="#efe6e7"/>
<rect x="401.64" y="207.6" width="1.05" height="16.05" fill="#e9e9f1"/>
<rect x="402.64" y="207.6" width="1.05" height="16.05" fill="#f1ebee"/>
<rect x="403.63" y="207.6" width="1.05" height="16.05" fill="#efe5e6"/>
<rect x="404.63" y="207.6" width="1.05" height="16.05" fill="#e4c7c7"/>
<rect x="405.63" y="207.6" width="1.05" height="16.05" fill="#efe4e5"/>
<rect x="406.62" y="207.6" width="1.05" height="16.05" fill="#ebd8d8"/>
<rect x="407.62" y="207.6" width="1.05" height="16.05" fill="#f0e7e9"/>
<rect x="408.62" y="207.6" width="2.04" height="16.05" fill="#f1edef"/>
<rect x="410.61" y="207.6" width="1.05" height="16.05" fill="#f0e8ea"/>
<rect x="411.61" y="207.6" width="1.05" height="16.05" fill="#cbd2e8"/>
<rect x="412.6" y="207.6" width="1.05" height="16.05" fill="#d9ddee"/>
<rect x="413.6" y="207.6" width="1.05" height="16.05" fill="#f0e8ea"/>
<rect x="414.6" y="207.6" width="1.05" height="16.05" fill="#efe4e5"/>
<rect x="415.6" y="207.6" width="1.05" height="16.05" fill="#f2f0f3"/>
<rect x="416.59" y="207.6" width="1.05" height="16.05" fill="#eeedf2"/>
<rect x="417.59" y="207.6" width="1.05" height="16.05" fill="#c7cee7"/>
<rect x="418.59" y="207.6" width="1.05" height="16.05" fill="#f0e8ea"/>
<rect x="419.58" y="207.6" width="1.05" height="16.05" fill="#f0e9eb"/>
<rect x="420.58" y="207.6" width="1.05" height="16.05" fill="#f1eff3"/>
<rect x="421.58" y="207.6" width="2.04" height="16.05" fill="#f1edf0"/>
<rect x="423.57" y="207.6" width="1.05" height="16.05" fill="#f0e8ea"/>
<rect x="424.57" y="207.6" width="1.05" height="16.05" fill="#e6cbcb"/>
<rect x="425.56" y="207.6" width="1.05" height="16.05" fill="#f0e9eb"/>
<rect x="426.56" y="207.6" width="1.05" height="16.05" fill="#f2eff1"/>
<rect x="427.56" y="207.6" width="1.05" height="16.05" fill="#ecd9d9"/>
<rect x="428.56" y="207.6" width="1.05" height="16.05" fill="#efe4e5"/>
<rect x="429.55" y="207.6" width="1.05" height="16.05" fill="#ead6d6"/>
<rect x="430.55" y="207.6" width="1.05" height="16.05" fill="#e2e4f0"/>
<rect x="431.55" y="207.6" width="1.05" height="16.05" fill="#eee0e1"/>
<rect x="432.54" y="207.6" width="1.05" height="16.05" fill="#eedfe0"/>
<rect x="433.54" y="207.6" width="1.05" height="16.05" fill="#ebebf2"/>
<rect x="434.54" y="207.6" width="1.05" height="16.05" fill="#f1ebed"/>
<rect x="435.53" y="207.6" width="1.05" height="16.05" fill="#ead4d4"/>
<rect x="436.53" y="207.6" width="1.05" height="16.05" fill="#eee1e1"/>
<rect x="437.53" y="207.6" width="1.05" height="16.05" fill="#efe6e7"/>
<rect x="438.53" y="207.6" width="1.05" height="16.05" fill="#ead4d4"/>
<rect x="439.52" y="207.6" width="1.05" height="16.05" fill="#ecd9d9"/>
<rect x="440.52" y="207.6" width="1.05" height="16.05" fill="#eedfe0"/>
<rect x="441.52" y="207.6" width="1.05" height="16.05" fill="#e8cfcf"/>
<rect x="442.51" y="207.6" width="1.05" height="16.05" fill="#e7cdcd"/>
<rect x="443.51" y="207.6" width="1.05" height="16.05" fill="#f0eef3"/>
<rect x="444.51" y="207.6" width="1.05" height="16.05" fill="#e6cccc"/>
<rect x="445.5" y="207.6" width="1.05" height="16.05" fill="#f0e8ea"/>
<rect x="446.5" y="207.6" width="1.05" height="16.05" fill="#eee2e3"/>
<rect x="447.5" y="207.6" width="1.05" height="16.05" fill="#ebd8d8"/>
<rect x="448.49" y="207.6" width="1.05" height="16.05" fill="#eeedf2"/>
<rect x="449.49" y="207.6" width="1.05" height="16.05" fill="#eee1e2"/>
<rect x="450.49" y="207.6" width="1.05" height="16.05" fill="#e5c8c8"/>
<rect x="451.49" y="207.6" width="1.05" height="16.05" fill="#e8cfcf"/>
<rect x="452.48" y="207.6" width="1.05" height="16.05" fill="#e4c5c5"/>
<rect x="453.48" y="207.6" width="1.05" height="16.05" fill="#ecdada"/>
<rect x="454.48" y="207.6" width="1.05" height="16.05" fill="#ead4d4"/>
<rect x="455.47" y="207.6" width="1.05" height="16.05" fill="#dcb4b4"/>
<rect x="456.47" y="207.6" width="1.05" height="16.05" fill="#e0bebe"/>
<rect x="457.47" y="207.6" width="1.05" height="16.05" fill="#eee0e1"/>
<rect x="458.46" y="207.6" width="1.05" height="16.05" fill="#d4a1a1"/>
<rect x="459.46" y="207.6" width="1.05" height="16.05" fill="#ce9393"/>
<rect x="460.46" y="207.6" width="1.05" height="16.05" fill="#e8d0d0"/>
<rect x="461.45" y="207.6" width="1.05" height="16.05" fill="#d4a1a1"/>
<rect x="462.45" y="207.6" width="1.05" height="16.05" fill="#e7cece"/>
<rect x="463.45" y="207.6" width="1.05" height="16.05" fill="#d39f9f"/>
<rect x="464.45" y="207.6" width="1.05" height="16.05" fill="#daafaf"/>
<rect x="465.44" y="207.6" width="1.05" height="16.05" fill="#d39f9f"/>
<rect x="466.44" y="207.6" width="1.05" height="16.05" fill="#d6a5a5"/>
<rect x="467.44" y="207.6" width="1.05" height="16.05" fill="#d5a3a3"/>
<rect x="468.43" y="207.6" width="1.05" height="16.05" fill="#cc8e8e"/>
<rect x="469.43" y="207.6" width="1.05" height="16.05" fill="#c17575"/>
<rect x="470.43" y="207.6" width="1.05" height="16.05" fill="#cb8c8c"/>
<rect x="471.42" y="207.6" width="1.05" height="16.05" fill="#c98787"/>
<rect x="472.42" y="207.6" width="1.05" height="16.05" fill="#b96161"/>
<rect x="473.42" y="207.6" width="1.05" height="16.05" fill="#b65a5a"/>
<rect x="474.42" y="207.6" width="1.05" height="16.05" fill="#a23b3d"/>
<rect x="475.41" y="207.6" width="1.05" height="16.05" fill="#b45656"/>
<rect x="476.41" y="207.6" width="1.05" height="16.05" fill="#ab4849"/>
<rect x="477.41" y="207.6" width="2.04" height="16.05" fill="#a23b3d"/>
<text x="68.3" y="76.4" font-size="9.6" text-anchor="end" stroke="#111" stroke-width="0.16">MYLK</text>
<text x="68.3" y="96.45" font-size="9.6" text-anchor="end" stroke="#111" stroke-width="0.16">SFRP1</text>
<text x="68.3" y="116.5" font-size="9.6" text-anchor="end" stroke="#111" stroke-width="0.16">FERMT2</text>
<text x="68.3" y="136.55" font-size="9.6" text-anchor="end" stroke="#111" stroke-width="0.16">SGCD</text>
<text x="68.3" y="156.6" font-size="9.6" text-anchor="end" stroke="#111" stroke-width="0.16">MGP</text>
<text x="68.3" y="176.65" font-size="9.6" text-anchor="end" stroke="#111" stroke-width="0.16">CALD1</text>
<text x="68.3" y="196.7" font-size="9.6" text-anchor="end" stroke="#111" stroke-width="0.16">ABI3BP</text>
<text x="68.3" y="216.75" font-size="9.6" text-anchor="end" stroke="#111" stroke-width="0.16">SLIT3</text>
<text x="340.5" y="75.6" font-size="9.6" text-anchor="end" stroke="#111" stroke-width="0.16">FHL1</text>
<text x="340.5" y="91.6" font-size="9.6" text-anchor="end" stroke="#111" stroke-width="0.16">MYH11</text>
<text x="340.5" y="107.6" font-size="9.6" text-anchor="end" stroke="#111" stroke-width="0.16">MYLK</text>
<text x="340.5" y="123.6" font-size="9.6" text-anchor="end" stroke="#111" stroke-width="0.16">GNAO1</text>
<text x="340.5" y="139.6" font-size="9.6" text-anchor="end" stroke="#111" stroke-width="0.16">CASQ2</text>
<text x="340.5" y="155.6" font-size="9.6" text-anchor="end" stroke="#111" stroke-width="0.16">HSPB8</text>
<text x="340.5" y="171.6" font-size="9.6" text-anchor="end" stroke="#111" stroke-width="0.16">DES</text>
<text x="340.5" y="187.6" font-size="9.6" text-anchor="end" stroke="#111" stroke-width="0.16">PTGIS</text>
<text x="340.5" y="203.6" font-size="9.6" text-anchor="end" stroke="#111" stroke-width="0.16">LDB3</text>
<text x="340.5" y="219.6" font-size="9.6" text-anchor="end" stroke="#111" stroke-width="0.16">SGCA</text>
<path d="M89,59.1 L89,58.8 L89.51,58.78 L90.01,58.76 L90.52,58.74 L91.02,58.71 L91.53,58.69 L92.03,58.67 L92.54,58.65 L93.04,58.63 L93.55,58.61 L94.05,58.58 L94.56,58.56 L95.07,58.54 L95.57,58.52 L96.08,58.5 L96.58,58.48 L97.09,58.45 L97.59,58.43 L98.1,58.41 L98.6,58.39 L99.11,58.37 L99.61,58.35 L100.12,58.32 L100.63,58.3 L101.13,58.28 L101.64,58.26 L102.14,58.24 L102.65,58.22 L103.15,58.2 L103.66,58.17 L104.16,58.15 L104.67,58.13 L105.17,58.11 L105.68,58.09 L106.18,58.07 L106.69,58.04 L107.2,58.02 L107.7,58 L108.21,57.98 L108.71,57.96 L109.22,57.94 L109.72,57.91 L110.23,57.89 L110.73,57.87 L111.24,57.85 L111.74,57.83 L112.25,57.81 L112.76,57.79 L113.26,57.76 L113.77,57.74 L114.27,57.72 L114.78,57.7 L115.28,57.68 L115.79,57.66 L116.29,57.63 L116.8,57.61 L117.3,57.59 L117.81,57.57 L118.32,57.55 L118.82,57.53 L119.33,57.5 L119.83,57.48 L120.34,57.46 L120.84,57.44 L121.35,57.42 L121.85,57.4 L122.36,57.37 L122.86,57.35 L123.37,57.33 L123.88,57.31 L124.38,57.29 L124.89,57.27 L125.39,57.25 L125.9,57.22 L126.4,57.2 L126.91,57.18 L127.41,57.16 L127.92,57.14 L128.42,57.12 L128.93,57.09 L129.44,57.07 L129.94,57.05 L130.45,57.03 L130.95,57.01 L131.46,56.99 L131.96,56.96 L132.47,56.94 L132.97,56.92 L133.48,56.9 L133.98,56.88 L134.49,56.86 L134.99,56.83 L135.5,56.81 L136.01,56.79 L136.51,56.77 L137.02,56.75 L137.52,56.73 L138.03,56.71 L138.53,56.68 L139.04,56.66 L139.54,56.64 L140.05,56.62 L140.55,56.6 L141.06,56.58 L141.57,56.55 L142.07,56.53 L142.58,56.51 L143.08,56.49 L143.59,56.47 L144.09,56.45 L144.6,56.42 L145.1,56.4 L145.1,59.1 Z" fill="#4e6eab"/>
<path d="M144.6,59.1 L144.6,56.42 L145.1,56.4 L145.61,56.36 L146.11,56.32 L146.62,56.28 L147.13,56.24 L147.63,56.2 L148.14,56.15 L148.64,56.11 L149.15,56.07 L149.65,56.03 L150.16,55.99 L150.66,55.95 L151.17,55.9 L151.67,55.86 L152.18,55.82 L152.69,55.78 L153.19,55.74 L153.7,55.69 L154.2,55.62 L154.71,55.54 L155.21,55.47 L155.72,55.39 L156.22,55.32 L156.73,55.25 L157.23,55.17 L157.74,55.1 L158.25,55.02 L158.75,54.95 L159.26,54.88 L159.76,54.8 L160.27,54.73 L160.77,54.65 L161.28,54.58 L161.78,54.51 L162.29,54.43 L162.79,54.36 L163.3,54.28 L163.81,54.21 L164.31,54.13 L164.82,54.06 L165.32,53.99 L165.83,53.91 L166.33,53.84 L166.84,53.76 L167.34,53.69 L167.85,53.6 L168.35,53.51 L168.86,53.42 L169.36,53.33 L169.87,53.24 L170.38,53.16 L170.88,53.07 L171.39,52.98 L171.89,52.89 L172.4,52.8 L172.9,52.71 L173.41,52.62 L173.91,52.53 L174.42,52.44 L174.92,52.36 L175.43,52.27 L175.94,52.18 L176.44,52.09 L176.95,52 L177.45,51.91 L177.96,51.82 L178.46,51.73 L178.97,51.64 L179.47,51.56 L179.98,51.47 L180.48,51.38 L180.99,51.29 L181.5,51.17 L182,51.06 L182.51,50.95 L183.01,50.84 L183.52,50.73 L184.02,50.62 L184.53,50.51 L185.03,50.39 L185.54,50.28 L186.04,50.17 L186.55,50.06 L187.06,49.95 L187.56,49.84 L188.07,49.72 L188.57,49.61 L189.08,49.5 L189.58,49.39 L190.09,49.28 L190.59,49.17 L191.1,49.05 L191.6,48.94 L192.11,48.75 L192.62,48.5 L193.12,48.26 L193.63,48.01 L194.13,47.77 L194.64,47.52 L195.14,47.28 L195.65,47.03 L196.15,46.79 L196.66,46.54 L197.16,46.29 L197.67,45.93 L198.17,45.5 L198.68,45.07 L199.19,44.64 L199.69,44.21 L200.2,43.78 L200.7,43.35 L201.21,42.92 L201.71,42.37 L202.22,41.78 L202.72,41.19 L203.23,40.6 L203.73,40.01 L204.24,39.42 L204.75,38.82 L205.25,38.23 L205.76,37.55 L206.26,36.8 L206.77,36.06 L207.27,35.31 L207.78,34.57 L208.28,33.51 L208.79,29.89 L209.29,26.26 L209.8,22.1 L209.8,59.1 Z" fill="#9b272d"/>
<line x1="76.7" y1="16.4" x2="76.7" y2="59.1" stroke="#333" stroke-width="0.8"/>
<line x1="74.7" y1="58.3" x2="76.7" y2="58.3" stroke="#333" stroke-width="0.8"/>
<text transform="translate(73.7,61.3) scale(1,1.03)" font-size="8.8" text-anchor="end" stroke="#111" stroke-width="0.16">0</text>
<line x1="74.7" y1="42.6" x2="76.7" y2="42.6" stroke="#333" stroke-width="0.8"/>
<text transform="translate(73.7,45.6) scale(1,1.03)" font-size="8.8" text-anchor="end" stroke="#111" stroke-width="0.16">2</text>
<line x1="74.7" y1="26.9" x2="76.7" y2="26.9" stroke="#333" stroke-width="0.8"/>
<text transform="translate(73.7,29.9) scale(1,1.03)" font-size="8.8" text-anchor="end" stroke="#111" stroke-width="0.16">4</text>
<path d="M357.8,59.1 L357.8,58.8 L358.31,58.77 L358.81,58.75 L359.32,58.72 L359.83,58.69 L360.34,58.66 L360.84,58.64 L361.35,58.61 L361.86,58.58 L362.36,58.56 L362.87,58.53 L363.38,58.5 L363.89,58.47 L364.39,58.45 L364.9,58.42 L365.41,58.39 L365.91,58.37 L366.42,58.34 L366.93,58.31 L367.44,58.28 L367.94,58.26 L368.45,58.23 L368.96,58.2 L369.46,58.18 L369.97,58.15 L370.48,58.12 L370.98,58.09 L371.49,58.07 L372,58.04 L372.51,58.01 L373.01,57.98 L373.52,57.96 L374.03,57.93 L374.53,57.9 L375.04,57.88 L375.55,57.85 L376.06,57.82 L376.56,57.79 L377.07,57.77 L377.58,57.74 L378.08,57.71 L378.59,57.69 L379.1,57.66 L379.61,57.63 L380.11,57.6 L380.62,57.58 L381.13,57.55 L381.63,57.52 L382.14,57.5 L382.65,57.47 L383.16,57.44 L383.66,57.41 L384.17,57.39 L384.68,57.36 L385.18,57.33 L385.69,57.31 L386.2,57.28 L386.71,57.25 L387.21,57.22 L387.72,57.2 L388.23,57.17 L388.73,57.14 L389.24,57.12 L389.75,57.09 L390.26,57.06 L390.76,57.03 L391.27,57.01 L391.78,56.98 L392.28,56.95 L392.79,56.93 L393.3,56.9 L393.81,56.87 L394.31,56.84 L394.82,56.82 L395.33,56.79 L395.83,56.76 L396.34,56.74 L396.85,56.71 L397.35,56.68 L397.86,56.65 L398.37,56.63 L398.88,56.6 L399.38,56.57 L399.89,56.54 L400.4,56.52 L400.9,56.49 L401.41,56.46 L401.92,56.44 L402.43,56.41 L402.93,56.38 L403.44,56.35 L403.95,56.33 L404.45,56.3 L404.96,56.27 L405.47,56.25 L405.98,56.22 L406.48,56.19 L406.99,56.16 L407.5,56.14 L408,56.11 L408.51,56.08 L409.02,56.06 L409.53,56.03 L410.03,56 L410.54,55.97 L411.05,55.95 L411.55,55.92 L412.06,55.89 L412.57,55.87 L413.08,55.84 L413.58,55.81 L413.58,59.1 Z" fill="#4e6eab"/>
<path d="M413.08,59.1 L413.08,55.84 L413.58,55.81 L414.09,55.77 L414.6,55.71 L415.1,55.65 L415.61,55.59 L416.12,55.53 L416.63,55.47 L417.13,55.41 L417.64,55.35 L418.15,55.29 L418.65,55.23 L419.16,55.17 L419.67,55.11 L420.17,55.05 L420.68,54.99 L421.19,54.93 L421.7,54.87 L422.2,54.81 L422.71,54.75 L423.22,54.69 L423.72,54.63 L424.23,54.57 L424.74,54.51 L425.25,54.45 L425.75,54.39 L426.26,54.33 L426.77,54.27 L427.27,54.21 L427.78,54.15 L428.29,54.09 L428.8,54.03 L429.3,53.97 L429.81,53.91 L430.32,53.85 L430.82,53.79 L431.33,53.73 L431.84,53.67 L432.35,53.61 L432.85,53.55 L433.36,53.49 L433.87,53.43 L434.37,53.37 L434.88,53.31 L435.39,53.25 L435.9,53.19 L436.4,53.14 L436.91,53.08 L437.42,53.02 L437.92,52.96 L438.43,52.9 L438.94,52.84 L439.45,52.78 L439.95,52.72 L440.46,52.66 L440.97,52.6 L441.47,52.54 L441.98,52.45 L442.49,52.32 L442.99,52.18 L443.5,52.05 L444.01,51.92 L444.52,51.79 L445.02,51.65 L445.53,51.52 L446.04,51.39 L446.54,51.26 L447.05,51.12 L447.56,50.99 L448.07,50.86 L448.57,50.72 L449.08,50.59 L449.59,50.46 L450.09,50.33 L450.6,50.19 L451.11,50.06 L451.62,49.93 L452.12,49.79 L452.63,49.66 L453.14,49.53 L453.64,49.4 L454.15,49.26 L454.66,49.13 L455.17,49 L455.67,48.87 L456.18,48.73 L456.69,48.6 L457.19,48.47 L457.7,48.33 L458.21,48.2 L458.72,48.07 L459.22,47.94 L459.73,47.8 L460.24,47.67 L460.74,47.54 L461.25,47.4 L461.76,47.27 L462.27,47.03 L462.77,46.67 L463.28,46.31 L463.79,45.95 L464.29,45.59 L464.8,45.22 L465.31,44.86 L465.82,44.5 L466.32,44.14 L466.83,43.78 L467.34,43.41 L467.84,43.05 L468.35,42.69 L468.86,42.33 L469.36,41.97 L469.87,41.61 L470.38,41.24 L470.89,40.88 L471.39,40.2 L471.9,39.42 L472.41,38.65 L472.91,37.87 L473.42,37.1 L473.93,36.32 L474.44,35.55 L474.94,34.77 L475.45,33.99 L475.96,33.22 L476.46,31.68 L476.97,30.11 L477.48,28.55 L477.99,26.98 L478.49,24.5 L479,20.8 L479,59.1 Z" fill="#9b272d"/>
<line x1="345.9" y1="17" x2="345.9" y2="59.1" stroke="#333" stroke-width="0.8"/>
<line x1="343.9" y1="58.3" x2="345.9" y2="58.3" stroke="#333" stroke-width="0.8"/>
<text transform="translate(342.9,61.3) scale(1,1.03)" font-size="8.8" text-anchor="end" stroke="#111" stroke-width="0.16">0</text>
<line x1="343.9" y1="42.7" x2="345.9" y2="42.7" stroke="#333" stroke-width="0.8"/>
<text transform="translate(342.9,45.7) scale(1,1.03)" font-size="8.8" text-anchor="end" stroke="#111" stroke-width="0.16">2</text>
<line x1="343.9" y1="27.1" x2="345.9" y2="27.1" stroke="#333" stroke-width="0.8"/>
<text transform="translate(342.9,30.1) scale(1,1.03)" font-size="8.8" text-anchor="end" stroke="#111" stroke-width="0.16">4</text>
<text transform="translate(52.6,54.8) rotate(-90)" font-size="10.2" fill="#111" stroke="#111" stroke-width="0.12" textLength="42" lengthAdjust="spacingAndGlyphs">MAMDC2</text>
<text transform="translate(63.3,61.7) rotate(-90)" font-size="9.6" fill="#111" stroke="#111" stroke-width="0.12" textLength="57.5" lengthAdjust="spacingAndGlyphs">log2 (TPM+1)</text>
<text transform="translate(322.9,54.8) rotate(-90)" font-size="10.2" fill="#111" stroke="#111" stroke-width="0.12" textLength="42" lengthAdjust="spacingAndGlyphs">MAMDC2</text>
<text transform="translate(332.8,61.7) rotate(-90)" font-size="9.6" fill="#111" stroke="#111" stroke-width="0.12" textLength="57.5" lengthAdjust="spacingAndGlyphs">log2 (TPM+1)</text>
<rect x="487.6" y="41.4" width="7.4" height="7.6" fill="#4e6eab"/>
<rect x="487.6" y="51.6" width="7.4" height="7.4" fill="#9b272d"/>
<text transform="translate(500.5,48.6) scale(1,1.03)" font-size="9.4" text-anchor="start" stroke="#111" stroke-width="0.16">Low</text>
<text transform="translate(500.5,58.6) scale(1,1.03)" font-size="9.4" text-anchor="start" stroke="#111" stroke-width="0.16">High</text>
<text transform="translate(488.3,76.2) scale(1,1.03)" font-size="9.4" text-anchor="start" stroke="#111" stroke-width="0.16">Z-score</text>
<defs><linearGradient id="zg" x1="0" y1="0" x2="0" y2="1"><stop offset="0" stop-color="#a52f33"/><stop offset="0.25" stop-color="#d79a9a"/><stop offset="0.5" stop-color="#f7f7f7"/><stop offset="0.75" stop-color="#a9b8dc"/><stop offset="1" stop-color="#5471b2"/></linearGradient></defs>
<rect x="489" y="81" width="10" height="48.6" fill="url(#zg)"/>
<line x1="489" y1="85" x2="490.8" y2="85" stroke="#fff" stroke-width="0.7"/>
<line x1="497.2" y1="85" x2="499" y2="85" stroke="#fff" stroke-width="0.7"/>
<line x1="489" y1="105.2" x2="490.8" y2="105.2" stroke="#fff" stroke-width="0.7"/>
<line x1="497.2" y1="105.2" x2="499" y2="105.2" stroke="#fff" stroke-width="0.7"/>
<line x1="489" y1="125.4" x2="490.8" y2="125.4" stroke="#fff" stroke-width="0.7"/>
<line x1="497.2" y1="125.4" x2="499" y2="125.4" stroke="#fff" stroke-width="0.7"/>
<text transform="translate(503.3,88.4) scale(1,1.03)" font-size="9.4" text-anchor="start" stroke="#111" stroke-width="0.16">2.5</text>
<text transform="translate(503.3,108.5) scale(1,1.03)" font-size="9.4" text-anchor="start" stroke="#111" stroke-width="0.16">0.0</text>
<text transform="translate(503,128.7) scale(1,1.03)" font-size="9.4" text-anchor="start" stroke="#111" stroke-width="0.16">−2.5</text>
<line x1="67" y1="307.25" x2="153.39" y2="242.54" stroke="#8a1c22" stroke-width="1.3"/>
<g fill="#a63a3f" fill-opacity="0.8"><circle cx="78.22" cy="301.05" r="1.7"/><circle cx="74.01" cy="302.31" r="1.7"/><circle cx="71.62" cy="292.46" r="1.7"/><circle cx="72.91" cy="291.56" r="1.7"/><circle cx="85.87" cy="303.53" r="1.7"/><circle cx="70.73" cy="310.86" r="1.7"/><circle cx="67.39" cy="313.79" r="1.7"/><circle cx="94.46" cy="288.02" r="1.7"/><circle cx="84.7" cy="303.77" r="1.7"/><circle cx="67.23" cy="311.69" r="1.7"/><circle cx="73.73" cy="314.09" r="1.7"/><circle cx="86.35" cy="286.25" r="1.7"/><circle cx="68.68" cy="316.66" r="1.7"/><circle cx="84.82" cy="295.95" r="1.7"/><circle cx="87.84" cy="300.72" r="1.7"/><circle cx="73.78" cy="305.99" r="1.7"/><circle cx="74.34" cy="282.14" r="1.7"/><circle cx="84.66" cy="286.4" r="1.7"/><circle cx="67.43" cy="298.48" r="1.7"/><circle cx="80.07" cy="291.94" r="1.7"/><circle cx="67.94" cy="306.74" r="1.7"/><circle cx="76.77" cy="311.59" r="1.7"/><circle cx="117.66" cy="261.65" r="1.7"/><circle cx="72.99" cy="313.04" r="1.7"/><circle cx="77.69" cy="293.69" r="1.7"/><circle cx="68.99" cy="307.76" r="1.7"/><circle cx="106.84" cy="281.94" r="1.7"/><circle cx="78.33" cy="300.88" r="1.7"/><circle cx="69.86" cy="310.68" r="1.7"/><circle cx="72.67" cy="306.41" r="1.7"/><circle cx="78.73" cy="295.14" r="1.7"/><circle cx="79.35" cy="306.44" r="1.7"/><circle cx="67.11" cy="314.25" r="1.7"/><circle cx="125.42" cy="255.59" r="1.7"/><circle cx="69.6" cy="292.39" r="1.7"/><circle cx="73.33" cy="312.02" r="1.7"/><circle cx="82.88" cy="291.41" r="1.7"/><circle cx="69.92" cy="298.55" r="1.7"/><circle cx="72.36" cy="301.03" r="1.7"/><circle cx="70.85" cy="305.01" r="1.7"/><circle cx="69.08" cy="301.37" r="1.7"/><circle cx="101.39" cy="294.28" r="1.7"/><circle cx="73.74" cy="311.75" r="1.7"/><circle cx="90.68" cy="293.23" r="1.7"/><circle cx="76.82" cy="306.88" r="1.7"/><circle cx="89.12" cy="298.84" r="1.7"/><circle cx="73.64" cy="298.59" r="1.7"/><circle cx="85.76" cy="299.5" r="1.7"/><circle cx="86.84" cy="274.78" r="1.7"/><circle cx="89.61" cy="282.07" r="1.7"/><circle cx="118.73" cy="274.58" r="1.7"/><circle cx="71" cy="306.85" r="1.7"/><circle cx="78.44" cy="283.26" r="1.7"/><circle cx="71.4" cy="300.35" r="1.7"/><circle cx="70.54" cy="306.02" r="1.7"/><circle cx="69.41" cy="314.19" r="1.7"/><circle cx="78.58" cy="299.17" r="1.7"/><circle cx="75.95" cy="305.68" r="1.7"/><circle cx="67" cy="300.14" r="1.7"/><circle cx="71.91" cy="310.58" r="1.7"/><circle cx="77.62" cy="293.18" r="1.7"/><circle cx="86.6" cy="293.37" r="1.7"/><circle cx="67.03" cy="310.11" r="1.7"/><circle cx="81.06" cy="284.79" r="1.7"/><circle cx="74.22" cy="320.13" r="1.7"/><circle cx="81.8" cy="305.28" r="1.7"/><circle cx="73.78" cy="306.33" r="1.7"/><circle cx="69.8" cy="309.18" r="1.7"/><circle cx="75.18" cy="299.37" r="1.7"/><circle cx="74.97" cy="307.9" r="1.7"/><circle cx="72.58" cy="317.21" r="1.7"/><circle cx="87.15" cy="293.51" r="1.7"/><circle cx="68.82" cy="300.28" r="1.7"/><circle cx="71.98" cy="307.65" r="1.7"/><circle cx="81.86" cy="291.13" r="1.7"/><circle cx="71.94" cy="318.98" r="1.7"/><circle cx="81.56" cy="308.29" r="1.7"/><circle cx="98.1" cy="285" r="1.7"/><circle cx="67.7" cy="310.18" r="1.7"/><circle cx="71.94" cy="303.89" r="1.7"/><circle cx="67.57" cy="327.55" r="1.7"/><circle cx="68.78" cy="307.34" r="1.7"/><circle cx="71.29" cy="312.74" r="1.7"/><circle cx="71.6" cy="310.03" r="1.7"/><circle cx="80.69" cy="286.2" r="1.7"/><circle cx="71.31" cy="310.65" r="1.7"/><circle cx="69.94" cy="296.51" r="1.7"/><circle cx="68.29" cy="317.39" r="1.7"/><circle cx="100.95" cy="287.92" r="1.7"/><circle cx="71.37" cy="319.87" r="1.7"/><circle cx="71.57" cy="299.11" r="1.7"/><circle cx="72.39" cy="298.38" r="1.7"/><circle cx="74.59" cy="303.23" r="1.7"/><circle cx="71.4" cy="304.35" r="1.7"/><circle cx="111.31" cy="286.49" r="1.7"/><circle cx="97.9" cy="273.22" r="1.7"/><circle cx="77.59" cy="292.64" r="1.7"/><circle cx="78.44" cy="302.07" r="1.7"/><circle cx="70.96" cy="315.52" r="1.7"/><circle cx="97.84" cy="283.86" r="1.7"/><circle cx="72.87" cy="308.47" r="1.7"/><circle cx="67.33" cy="312.64" r="1.7"/><circle cx="126.63" cy="270.38" r="1.7"/><circle cx="69.68" cy="308.63" r="1.7"/><circle cx="77.55" cy="296.28" r="1.7"/><circle cx="75.6" cy="296.06" r="1.7"/><circle cx="75.8" cy="294.6" r="1.7"/><circle cx="84.82" cy="289.63" r="1.7"/><circle cx="70.02" cy="309.82" r="1.7"/><circle cx="72.96" cy="306.04" r="1.7"/><circle cx="81.47" cy="289.8" r="1.7"/><circle cx="73.58" cy="297.24" r="1.7"/><circle cx="76.8" cy="306.13" r="1.7"/><circle cx="88.06" cy="299.64" r="1.7"/><circle cx="88" cy="305.34" r="1.7"/><circle cx="86.99" cy="287.55" r="1.7"/><circle cx="69.21" cy="309.27" r="1.7"/><circle cx="73" cy="300.83" r="1.7"/><circle cx="88.86" cy="280.83" r="1.7"/><circle cx="69.11" cy="311.36" r="1.7"/><circle cx="110.24" cy="287.07" r="1.7"/><circle cx="97.74" cy="281.66" r="1.7"/><circle cx="74.85" cy="300.05" r="1.7"/><circle cx="73.23" cy="290.55" r="1.7"/><circle cx="68.89" cy="302.29" r="1.7"/><circle cx="110.18" cy="263.71" r="1.7"/><circle cx="76.16" cy="282.28" r="1.7"/><circle cx="82.01" cy="306.67" r="1.7"/><circle cx="72.16" cy="297.71" r="1.7"/><circle cx="73.53" cy="301.92" r="1.7"/><circle cx="70.15" cy="310.65" r="1.7"/><circle cx="71.86" cy="312.7" r="1.7"/><circle cx="86.74" cy="294.62" r="1.7"/><circle cx="68.37" cy="307.55" r="1.7"/><circle cx="74.09" cy="297.27" r="1.7"/><circle cx="71.79" cy="311.62" r="1.7"/><circle cx="70.65" cy="299.95" r="1.7"/><circle cx="70.35" cy="303.81" r="1.7"/><circle cx="71.41" cy="307.21" r="1.7"/><circle cx="71" cy="302.3" r="1.7"/><circle cx="76.3" cy="314.63" r="1.7"/><circle cx="79.51" cy="279.74" r="1.7"/><circle cx="72.12" cy="311.83" r="1.7"/><circle cx="98.11" cy="291.35" r="1.7"/><circle cx="68.78" cy="326.27" r="1.7"/><circle cx="68.65" cy="304.42" r="1.7"/><circle cx="68.55" cy="315.55" r="1.7"/><circle cx="76.01" cy="314.39" r="1.7"/><circle cx="68.55" cy="308.57" r="1.7"/><circle cx="79.51" cy="296.87" r="1.7"/><circle cx="73.81" cy="308.83" r="1.7"/><circle cx="68.51" cy="299.27" r="1.7"/><circle cx="75.28" cy="311.21" r="1.7"/><circle cx="74.49" cy="301.45" r="1.7"/><circle cx="78.47" cy="293.39" r="1.7"/><circle cx="98.68" cy="298.96" r="1.7"/><circle cx="109.89" cy="260.71" r="1.7"/><circle cx="68.26" cy="316.99" r="1.7"/><circle cx="70.31" cy="302.14" r="1.7"/><circle cx="71.43" cy="323.59" r="1.7"/><circle cx="122.18" cy="274.91" r="1.7"/><circle cx="74.93" cy="298.41" r="1.7"/><circle cx="121.73" cy="268.37" r="1.7"/><circle cx="68.53" cy="308.38" r="1.7"/><circle cx="101.04" cy="279.29" r="1.7"/><circle cx="77.57" cy="317.65" r="1.7"/><circle cx="71.69" cy="301.65" r="1.7"/><circle cx="67.52" cy="302.79" r="1.7"/><circle cx="72.6" cy="305.29" r="1.7"/><circle cx="71.72" cy="314.86" r="1.7"/><circle cx="68.81" cy="291.97" r="1.7"/><circle cx="71.74" cy="309.35" r="1.7"/><circle cx="70.39" cy="306.93" r="1.7"/><circle cx="76.32" cy="313.21" r="1.7"/><circle cx="78.59" cy="279.33" r="1.7"/><circle cx="73.01" cy="301.17" r="1.7"/><circle cx="71.77" cy="311.09" r="1.7"/><circle cx="72.93" cy="288.16" r="1.7"/><circle cx="68.45" cy="304.6" r="1.7"/><circle cx="86.63" cy="298.92" r="1.7"/><circle cx="77.08" cy="284.37" r="1.7"/><circle cx="86.2" cy="291.28" r="1.7"/><circle cx="79.36" cy="293.16" r="1.7"/><circle cx="76.31" cy="303.25" r="1.7"/><circle cx="76.2" cy="310.37" r="1.7"/><circle cx="71.83" cy="298.75" r="1.7"/><circle cx="67.41" cy="303.38" r="1.7"/><circle cx="68.14" cy="294.96" r="1.7"/><circle cx="71.38" cy="322.51" r="1.7"/><circle cx="88.64" cy="291.6" r="1.7"/><circle cx="70.56" cy="307.16" r="1.7"/><circle cx="71.75" cy="300.2" r="1.7"/><circle cx="73.09" cy="291.96" r="1.7"/><circle cx="70.65" cy="309.18" r="1.7"/><circle cx="79.22" cy="295.27" r="1.7"/><circle cx="76.23" cy="318.56" r="1.7"/><circle cx="116.69" cy="266.97" r="1.7"/><circle cx="74.37" cy="303.28" r="1.7"/><circle cx="70.13" cy="310.24" r="1.7"/><circle cx="74.75" cy="309.55" r="1.7"/><circle cx="69.81" cy="303.52" r="1.7"/><circle cx="70.61" cy="313.98" r="1.7"/><circle cx="69.49" cy="307.02" r="1.7"/><circle cx="74.33" cy="294.09" r="1.7"/><circle cx="70.88" cy="303.74" r="1.7"/><circle cx="72.06" cy="312.6" r="1.7"/><circle cx="120.28" cy="260.63" r="1.7"/><circle cx="101.82" cy="289.38" r="1.7"/><circle cx="76.99" cy="297.34" r="1.7"/><circle cx="69.64" cy="305.17" r="1.7"/><circle cx="69.91" cy="308.09" r="1.7"/><circle cx="70.21" cy="307.8" r="1.7"/><circle cx="72.48" cy="312.85" r="1.7"/><circle cx="120.46" cy="276.49" r="1.7"/><circle cx="83.8" cy="278.07" r="1.7"/><circle cx="68.04" cy="313.8" r="1.7"/><circle cx="70.72" cy="299.5" r="1.7"/><circle cx="72.52" cy="301.24" r="1.7"/><circle cx="95.83" cy="293.74" r="1.7"/><circle cx="74.88" cy="298.4" r="1.7"/><circle cx="73.83" cy="312.65" r="1.7"/><circle cx="78.49" cy="311.38" r="1.7"/><circle cx="110.5" cy="282.21" r="1.7"/><circle cx="71.23" cy="303.59" r="1.7"/><circle cx="91.37" cy="290.42" r="1.7"/><circle cx="105.74" cy="292.12" r="1.7"/><circle cx="69.64" cy="301.65" r="1.7"/><circle cx="69.3" cy="307.23" r="1.7"/><circle cx="125.88" cy="268.02" r="1.7"/><circle cx="85.91" cy="300.62" r="1.7"/><circle cx="74.32" cy="308.26" r="1.7"/><circle cx="118.91" cy="271.42" r="1.7"/><circle cx="73.99" cy="292.77" r="1.7"/><circle cx="69.97" cy="298.09" r="1.7"/><circle cx="72.78" cy="302.03" r="1.7"/><circle cx="70.78" cy="302.96" r="1.7"/><circle cx="129.18" cy="263.5" r="1.7"/><circle cx="67.07" cy="307.94" r="1.7"/><circle cx="72.24" cy="319.91" r="1.7"/><circle cx="82.46" cy="296.56" r="1.7"/><circle cx="75.87" cy="301.62" r="1.7"/><circle cx="78.76" cy="295.35" r="1.7"/><circle cx="69.38" cy="309.2" r="1.7"/><circle cx="70.79" cy="303.07" r="1.7"/><circle cx="77.03" cy="312.79" r="1.7"/><circle cx="70.06" cy="287.9" r="1.7"/><circle cx="86.25" cy="309.28" r="1.7"/><circle cx="76.82" cy="294.42" r="1.7"/><circle cx="116.21" cy="244.61" r="1.7"/><circle cx="69.84" cy="303.09" r="1.7"/><circle cx="72.87" cy="306.86" r="1.7"/><circle cx="74.38" cy="314.02" r="1.7"/><circle cx="67.66" cy="306.02" r="1.7"/><circle cx="120.44" cy="261.86" r="1.7"/><circle cx="121.74" cy="279.52" r="1.7"/><circle cx="93.81" cy="279.57" r="1.7"/><circle cx="81.35" cy="295.32" r="1.7"/><circle cx="67.79" cy="312.14" r="1.7"/><circle cx="73.18" cy="306.41" r="1.7"/><circle cx="73.39" cy="310.14" r="1.7"/><circle cx="80.39" cy="299.36" r="1.7"/><circle cx="79.1" cy="289.34" r="1.7"/><circle cx="76.71" cy="308.05" r="1.7"/><circle cx="71.23" cy="316.25" r="1.7"/><circle cx="72.89" cy="320.06" r="1.7"/><circle cx="120.61" cy="273.12" r="1.7"/><circle cx="72.62" cy="295.73" r="1.7"/><circle cx="74.29" cy="305.62" r="1.7"/><circle cx="80.34" cy="286.03" r="1.7"/><circle cx="70.05" cy="303.7" r="1.7"/><circle cx="84.83" cy="275.2" r="1.7"/><circle cx="77.16" cy="298.31" r="1.7"/><circle cx="72.4" cy="310.86" r="1.7"/><circle cx="128.83" cy="260.92" r="1.7"/><circle cx="75.09" cy="315.39" r="1.7"/><circle cx="68.66" cy="312.78" r="1.7"/><circle cx="68.9" cy="296.76" r="1.7"/><circle cx="117.52" cy="262.49" r="1.7"/><circle cx="72.44" cy="298.54" r="1.7"/><circle cx="76.56" cy="286.7" r="1.7"/><circle cx="99.8" cy="288.15" r="1.7"/><circle cx="68.01" cy="315.58" r="1.7"/><circle cx="69.49" cy="305.81" r="1.7"/><circle cx="70.07" cy="306.25" r="1.7"/><circle cx="74.32" cy="295.89" r="1.7"/><circle cx="97.01" cy="299.97" r="1.7"/><circle cx="70.66" cy="311.05" r="1.7"/><circle cx="67.61" cy="294.65" r="1.7"/><circle cx="67.82" cy="324.11" r="1.7"/><circle cx="83.65" cy="281.98" r="1.7"/><circle cx="67.88" cy="300.39" r="1.7"/><circle cx="91.64" cy="284.52" r="1.7"/><circle cx="81.5" cy="285.71" r="1.7"/><circle cx="83.54" cy="299.51" r="1.7"/><circle cx="67.57" cy="301.06" r="1.7"/><circle cx="75.11" cy="302.85" r="1.7"/><circle cx="71.83" cy="292.32" r="1.7"/><circle cx="70.62" cy="309.36" r="1.7"/><circle cx="87.39" cy="294.18" r="1.7"/><circle cx="71.26" cy="298.83" r="1.7"/><circle cx="73.09" cy="292.21" r="1.7"/><circle cx="78.82" cy="292.35" r="1.7"/><circle cx="77.59" cy="303.43" r="1.7"/><circle cx="68.05" cy="302.01" r="1.7"/><circle cx="82.18" cy="299.92" r="1.7"/><circle cx="69.7" cy="298.71" r="1.7"/><circle cx="71.14" cy="303.6" r="1.7"/><circle cx="68.25" cy="289.26" r="1.7"/><circle cx="119.78" cy="262.43" r="1.7"/><circle cx="87.97" cy="284.17" r="1.7"/><circle cx="96.77" cy="290.85" r="1.7"/><circle cx="76.94" cy="288.19" r="1.7"/><circle cx="68.49" cy="308.15" r="1.7"/><circle cx="70.28" cy="301.99" r="1.7"/><circle cx="72.44" cy="303.6" r="1.7"/><circle cx="78.62" cy="307.86" r="1.7"/><circle cx="71.6" cy="306.91" r="1.7"/><circle cx="70.76" cy="305.74" r="1.7"/><circle cx="73.9" cy="305.46" r="1.7"/><circle cx="81.4" cy="286.25" r="1.7"/><circle cx="89.48" cy="282.11" r="1.7"/><circle cx="70.69" cy="303.53" r="1.7"/><circle cx="95.03" cy="288.3" r="1.7"/><circle cx="73.15" cy="308.99" r="1.7"/><circle cx="83.93" cy="286.87" r="1.7"/><circle cx="67.54" cy="305.31" r="1.7"/><circle cx="92.21" cy="274.62" r="1.7"/><circle cx="71.94" cy="297.81" r="1.7"/><circle cx="67.75" cy="320.85" r="1.7"/><circle cx="113.08" cy="256.61" r="1.7"/><circle cx="67.4" cy="319.63" r="1.7"/><circle cx="71.94" cy="301.64" r="1.7"/><circle cx="69.15" cy="319.98" r="1.7"/><circle cx="80.64" cy="287.64" r="1.7"/><circle cx="128.57" cy="262.51" r="1.7"/><circle cx="68.26" cy="310.12" r="1.7"/><circle cx="73" cy="308.68" r="1.7"/><circle cx="78.64" cy="300.37" r="1.7"/><circle cx="73.32" cy="289.36" r="1.7"/><circle cx="67.94" cy="300.41" r="1.7"/><circle cx="108.61" cy="261.66" r="1.7"/><circle cx="73.93" cy="301.87" r="1.7"/><circle cx="70.98" cy="298.28" r="1.7"/><circle cx="73.42" cy="292.05" r="1.7"/><circle cx="69.84" cy="301.82" r="1.7"/><circle cx="73.93" cy="294.24" r="1.7"/><circle cx="99.05" cy="294.89" r="1.7"/><circle cx="78.51" cy="297.22" r="1.7"/><circle cx="75.81" cy="292.24" r="1.7"/><circle cx="82" cy="310.25" r="1.7"/><circle cx="69.26" cy="311.41" r="1.7"/><circle cx="68.07" cy="307.76" r="1.7"/><circle cx="77.84" cy="301.2" r="1.7"/><circle cx="87.41" cy="300.05" r="1.7"/><circle cx="68.92" cy="303.2" r="1.7"/><circle cx="75.02" cy="303.97" r="1.7"/><circle cx="126.89" cy="259.37" r="1.7"/><circle cx="67.03" cy="313.08" r="1.7"/><circle cx="68.89" cy="309.13" r="1.7"/><circle cx="88.97" cy="286.59" r="1.7"/><circle cx="73.69" cy="299.19" r="1.7"/><circle cx="79.99" cy="309.25" r="1.7"/><circle cx="90.97" cy="275.1" r="1.7"/><circle cx="98.3" cy="291.6" r="1.7"/><circle cx="102.41" cy="274.35" r="1.7"/><circle cx="71.43" cy="308.01" r="1.7"/><circle cx="109.26" cy="279.09" r="1.7"/><circle cx="103.52" cy="291.81" r="1.7"/><circle cx="114.25" cy="272.9" r="1.7"/><circle cx="74.34" cy="308.22" r="1.7"/><circle cx="68.37" cy="300.39" r="1.7"/><circle cx="75.47" cy="301.97" r="1.7"/><circle cx="75.27" cy="300.33" r="1.7"/><circle cx="104.37" cy="289.51" r="1.7"/><circle cx="79.4" cy="294.87" r="1.7"/><circle cx="102.48" cy="280.87" r="1.7"/><circle cx="69.95" cy="295.12" r="1.7"/><circle cx="72.96" cy="309.25" r="1.7"/><circle cx="74.26" cy="298.68" r="1.7"/><circle cx="71.12" cy="304.45" r="1.7"/><circle cx="77.5" cy="306.48" r="1.7"/><circle cx="72.09" cy="301.79" r="1.7"/><circle cx="76.25" cy="299.67" r="1.7"/><circle cx="71.23" cy="324.14" r="1.7"/><circle cx="98.75" cy="273.3" r="1.7"/><circle cx="67.6" cy="302.21" r="1.7"/><circle cx="101.58" cy="275.84" r="1.7"/><circle cx="69.96" cy="303.99" r="1.7"/><circle cx="70.61" cy="306.67" r="1.7"/><circle cx="68.25" cy="311.21" r="1.7"/><circle cx="79.82" cy="278.52" r="1.7"/><circle cx="69.45" cy="294.1" r="1.7"/><circle cx="77.23" cy="292.52" r="1.7"/><circle cx="91.81" cy="291.07" r="1.7"/><circle cx="129.82" cy="275.65" r="1.7"/><circle cx="77.89" cy="301.15" r="1.7"/><circle cx="74.1" cy="301.25" r="1.7"/><circle cx="84.03" cy="309.57" r="1.7"/><circle cx="131.47" cy="270.83" r="1.7"/><circle cx="71" cy="307.86" r="1.7"/><circle cx="78.11" cy="297.08" r="1.7"/><circle cx="128.44" cy="277.81" r="1.7"/><circle cx="68.71" cy="319.15" r="1.7"/><circle cx="107.79" cy="274.04" r="1.7"/><circle cx="73.8" cy="301.59" r="1.7"/><circle cx="72.5" cy="302.92" r="1.7"/><circle cx="128.73" cy="274.48" r="1.7"/><circle cx="68.64" cy="307.66" r="1.7"/><circle cx="79.54" cy="295.83" r="1.7"/><circle cx="74.04" cy="315.15" r="1.7"/><circle cx="118.63" cy="258.23" r="1.7"/><circle cx="76.6" cy="297.51" r="1.7"/><circle cx="79.87" cy="293.58" r="1.7"/><circle cx="97.45" cy="286.29" r="1.7"/><circle cx="75.19" cy="298.37" r="1.7"/><circle cx="71.31" cy="305.16" r="1.7"/><circle cx="67.16" cy="312.41" r="1.7"/><circle cx="73.38" cy="319.22" r="1.7"/><circle cx="105.35" cy="276.84" r="1.7"/><circle cx="90.54" cy="294.9" r="1.7"/><circle cx="70.57" cy="304.03" r="1.7"/><circle cx="78" cy="307.47" r="1.7"/><circle cx="75.8" cy="304.86" r="1.7"/><circle cx="100.99" cy="277.62" r="1.7"/><circle cx="83.24" cy="280.25" r="1.7"/><circle cx="78.26" cy="303.11" r="1.7"/><circle cx="114.2" cy="266.63" r="1.7"/><circle cx="76.11" cy="291.92" r="1.7"/><circle cx="79.19" cy="291.47" r="1.7"/><circle cx="70.06" cy="310.21" r="1.7"/><circle cx="74.14" cy="307.67" r="1.7"/><circle cx="75.93" cy="300.66" r="1.7"/><circle cx="71.67" cy="303.22" r="1.7"/><circle cx="114.01" cy="279.26" r="1.7"/><circle cx="85.46" cy="291.81" r="1.7"/><circle cx="87.3" cy="292.17" r="1.7"/><circle cx="74.8" cy="306.85" r="1.7"/><circle cx="73.78" cy="309.87" r="1.7"/><circle cx="73.57" cy="307.03" r="1.7"/><circle cx="86.45" cy="293.98" r="1.7"/><circle cx="84.3" cy="301.21" r="1.7"/><circle cx="71.97" cy="306.53" r="1.7"/><circle cx="88.98" cy="276.57" r="1.7"/><circle cx="95.57" cy="276.91" r="1.7"/><circle cx="71.72" cy="287.84" r="1.7"/><circle cx="73.93" cy="317.27" r="1.7"/><circle cx="73.55" cy="302.27" r="1.7"/><circle cx="70.36" cy="316.17" r="1.7"/><circle cx="85.31" cy="291.95" r="1.7"/><circle cx="92.65" cy="293.17" r="1.7"/><circle cx="77.68" cy="300.56" r="1.7"/><circle cx="72.88" cy="298.51" r="1.7"/><circle cx="96.86" cy="285.53" r="1.7"/><circle cx="74.85" cy="294.63" r="1.7"/><circle cx="68.58" cy="310.46" r="1.7"/><circle cx="88.58" cy="307.07" r="1.7"/><circle cx="67.43" cy="300.67" r="1.7"/><circle cx="75.77" cy="296.45" r="1.7"/><circle cx="75.09" cy="308.86" r="1.7"/><circle cx="71.88" cy="320.77" r="1.7"/><circle cx="71.85" cy="301.36" r="1.7"/><circle cx="70.07" cy="312.35" r="1.7"/><circle cx="78.95" cy="297.15" r="1.7"/><circle cx="109.86" cy="263.91" r="1.7"/><circle cx="72.85" cy="292.12" r="1.7"/><circle cx="69.96" cy="311.57" r="1.7"/><circle cx="70.79" cy="309.16" r="1.7"/><circle cx="111.8" cy="265.06" r="1.7"/><circle cx="80.55" cy="301.96" r="1.7"/><circle cx="81.73" cy="302.42" r="1.7"/><circle cx="109.04" cy="279.44" r="1.7"/><circle cx="101.37" cy="274.46" r="1.7"/><circle cx="68.73" cy="311.57" r="1.7"/><circle cx="89.54" cy="285.72" r="1.7"/><circle cx="99.02" cy="265.81" r="1.7"/><circle cx="74.95" cy="301.17" r="1.7"/><circle cx="71.05" cy="299.74" r="1.7"/><circle cx="69.93" cy="313.5" r="1.7"/><circle cx="74.8" cy="287.64" r="1.7"/><circle cx="111.76" cy="272.78" r="1.7"/><circle cx="72.76" cy="290.59" r="1.7"/><circle cx="130.32" cy="262.4" r="1.7"/><circle cx="71.48" cy="296.59" r="1.7"/><circle cx="76.28" cy="295.64" r="1.7"/><circle cx="69.73" cy="302.85" r="1.7"/><circle cx="71.21" cy="304.41" r="1.7"/><circle cx="77.23" cy="288.5" r="1.7"/><circle cx="67.14" cy="308.41" r="1.7"/><circle cx="70.97" cy="314.43" r="1.7"/><circle cx="69.02" cy="315.08" r="1.7"/><circle cx="74.58" cy="308.06" r="1.7"/><circle cx="97.73" cy="281.84" r="1.7"/><circle cx="103.5" cy="284.96" r="1.7"/><circle cx="71.81" cy="315.12" r="1.7"/><circle cx="82.68" cy="297.34" r="1.7"/><circle cx="71.47" cy="308.5" r="1.7"/><circle cx="72.44" cy="310.05" r="1.7"/><circle cx="68.92" cy="303.23" r="1.7"/><circle cx="95.93" cy="280.96" r="1.7"/><circle cx="70.4" cy="314.3" r="1.7"/><circle cx="72.37" cy="304.64" r="1.7"/><circle cx="71.99" cy="307.23" r="1.7"/><circle cx="74.14" cy="300.93" r="1.7"/><circle cx="70.45" cy="297.65" r="1.7"/><circle cx="108.88" cy="263.83" r="1.7"/><circle cx="76.49" cy="304.15" r="1.7"/><circle cx="68.12" cy="314.42" r="1.7"/><circle cx="67.14" cy="307.84" r="1.7"/><circle cx="73.41" cy="306.78" r="1.7"/><circle cx="72.16" cy="306.24" r="1.7"/><circle cx="67.12" cy="294.1" r="1.7"/><circle cx="98.37" cy="279.11" r="1.7"/><circle cx="79.24" cy="299.47" r="1.7"/><circle cx="74.64" cy="305.34" r="1.7"/><circle cx="114.86" cy="271.68" r="1.7"/><circle cx="74.69" cy="320.44" r="1.7"/><circle cx="76.82" cy="291.7" r="1.7"/><circle cx="71.82" cy="292.19" r="1.7"/><circle cx="70.53" cy="295.7" r="1.7"/><circle cx="72.41" cy="301.94" r="1.7"/><circle cx="85.77" cy="290.36" r="1.7"/><circle cx="67.76" cy="318.95" r="1.7"/><circle cx="77.22" cy="313.47" r="1.7"/><circle cx="87.76" cy="280.58" r="1.7"/><circle cx="119.46" cy="255.46" r="1.7"/><circle cx="69.96" cy="297.44" r="1.7"/><circle cx="67.53" cy="309.76" r="1.7"/><circle cx="79.69" cy="290.15" r="1.7"/><circle cx="73.77" cy="299.11" r="1.7"/><circle cx="89.95" cy="283.98" r="1.7"/><circle cx="75.15" cy="301.43" r="1.7"/><circle cx="85.17" cy="282.73" r="1.7"/><circle cx="69.67" cy="316.59" r="1.7"/><circle cx="82.87" cy="305.59" r="1.7"/><circle cx="70.18" cy="302.39" r="1.7"/><circle cx="69.26" cy="314.27" r="1.7"/><circle cx="70.49" cy="293.48" r="1.7"/><circle cx="80.58" cy="292.84" r="1.7"/><circle cx="69.81" cy="302.89" r="1.7"/><circle cx="88.76" cy="289.35" r="1.7"/><circle cx="70.89" cy="302.78" r="1.7"/><circle cx="75.42" cy="305.71" r="1.7"/><circle cx="87.81" cy="287.2" r="1.7"/><circle cx="118.69" cy="260.88" r="1.7"/><circle cx="69.62" cy="307.36" r="1.7"/><circle cx="114.14" cy="274.26" r="1.7"/><circle cx="76.79" cy="300.45" r="1.7"/><circle cx="89.13" cy="297.29" r="1.7"/><circle cx="70.49" cy="313.46" r="1.7"/><circle cx="72.91" cy="301.38" r="1.7"/><circle cx="71.66" cy="310.19" r="1.7"/><circle cx="75.47" cy="305.06" r="1.7"/><circle cx="70.91" cy="297.9" r="1.7"/><circle cx="74.61" cy="316.06" r="1.7"/><circle cx="72.51" cy="305.56" r="1.7"/><circle cx="79.77" cy="310.54" r="1.7"/><circle cx="74.41" cy="299.91" r="1.7"/><circle cx="70.64" cy="307.04" r="1.7"/><circle cx="80.34" cy="290.06" r="1.7"/><circle cx="67.26" cy="315.53" r="1.7"/><circle cx="87.39" cy="300.38" r="1.7"/><circle cx="72.37" cy="309.22" r="1.7"/><circle cx="78.19" cy="298.93" r="1.7"/><circle cx="78.63" cy="293.63" r="1.7"/><circle cx="71.43" cy="298.98" r="1.7"/><circle cx="67.99" cy="308.14" r="1.7"/><circle cx="71.17" cy="304.98" r="1.7"/><circle cx="70.54" cy="289.16" r="1.7"/><circle cx="79.63" cy="305.49" r="1.7"/><circle cx="68.89" cy="320.63" r="1.7"/><circle cx="82.76" cy="295.91" r="1.7"/><circle cx="83.19" cy="292.22" r="1.7"/><circle cx="72" cy="305.67" r="1.7"/><circle cx="78.76" cy="284.4" r="1.7"/><circle cx="93.93" cy="271.95" r="1.7"/><circle cx="83.66" cy="279.69" r="1.7"/><circle cx="71.13" cy="309.12" r="1.7"/><circle cx="71.45" cy="302.86" r="1.7"/><circle cx="76.01" cy="304.83" r="1.7"/><circle cx="103.67" cy="278.77" r="1.7"/><circle cx="68.51" cy="312.12" r="1.7"/><circle cx="69.55" cy="301.22" r="1.7"/><circle cx="67.48" cy="324.5" r="1.7"/><circle cx="69.48" cy="309.93" r="1.7"/><circle cx="76.73" cy="303.56" r="1.7"/><circle cx="72.64" cy="312.46" r="1.7"/><circle cx="70.48" cy="304.28" r="1.7"/><circle cx="124.96" cy="259.76" r="1.7"/><circle cx="78.93" cy="308.76" r="1.7"/><circle cx="76.78" cy="312.75" r="1.7"/><circle cx="97.17" cy="272.73" r="1.7"/><circle cx="75.89" cy="303.81" r="1.7"/><circle cx="71.3" cy="292.23" r="1.7"/><circle cx="83.69" cy="280.53" r="1.7"/><circle cx="71.14" cy="297.23" r="1.7"/><circle cx="72.13" cy="289.03" r="1.7"/><circle cx="74.25" cy="301.3" r="1.7"/><circle cx="69.14" cy="309.03" r="1.7"/><circle cx="78.73" cy="295.9" r="1.7"/><circle cx="75.77" cy="308.47" r="1.7"/><circle cx="92.86" cy="282.31" r="1.7"/><circle cx="80.32" cy="300.17" r="1.7"/><circle cx="70.94" cy="300.93" r="1.7"/><circle cx="68.45" cy="326.49" r="1.7"/><circle cx="75.69" cy="315.94" r="1.7"/><circle cx="82.87" cy="283.2" r="1.7"/><circle cx="70.32" cy="309.36" r="1.7"/><circle cx="123.84" cy="256.14" r="1.7"/><circle cx="78.43" cy="295.81" r="1.7"/><circle cx="75.61" cy="295.09" r="1.7"/><circle cx="67.92" cy="310.86" r="1.7"/><circle cx="104.19" cy="270.84" r="1.7"/><circle cx="67.63" cy="300.85" r="1.7"/><circle cx="81.4" cy="282.18" r="1.7"/><circle cx="73.79" cy="300.02" r="1.7"/><circle cx="67.44" cy="315.3" r="1.7"/><circle cx="67.14" cy="299.5" r="1.7"/><circle cx="76.48" cy="294.07" r="1.7"/><circle cx="67.12" cy="318.63" r="1.7"/><circle cx="78.21" cy="287.11" r="1.7"/><circle cx="69.51" cy="307.22" r="1.7"/><circle cx="69.2" cy="314.48" r="1.7"/><circle cx="93.79" cy="287.74" r="1.7"/><circle cx="91.18" cy="281.03" r="1.7"/><circle cx="72.96" cy="315.02" r="1.7"/><circle cx="73.43" cy="310.92" r="1.7"/><circle cx="84.62" cy="299.24" r="1.7"/><circle cx="71.26" cy="310.83" r="1.7"/><circle cx="83.59" cy="309.98" r="1.7"/><circle cx="68.05" cy="307.32" r="1.7"/><circle cx="67.16" cy="305.97" r="1.7"/><circle cx="75.5" cy="294.04" r="1.7"/><circle cx="74.01" cy="288.62" r="1.7"/><circle cx="67.64" cy="319.36" r="1.7"/><circle cx="75.46" cy="284.6" r="1.7"/><circle cx="72.3" cy="291.03" r="1.7"/><circle cx="74.74" cy="290.96" r="1.7"/><circle cx="99.65" cy="289.48" r="1.7"/><circle cx="76.48" cy="313.7" r="1.7"/><circle cx="67.76" cy="326.57" r="1.7"/><circle cx="67.46" cy="306.82" r="1.7"/><circle cx="76.58" cy="295.43" r="1.7"/><circle cx="78.31" cy="280.51" r="1.7"/><circle cx="71.96" cy="296.38" r="1.7"/><circle cx="72.21" cy="314.85" r="1.7"/><circle cx="103.32" cy="291.36" r="1.7"/><circle cx="89.03" cy="284.33" r="1.7"/><circle cx="124.61" cy="277.19" r="1.7"/><circle cx="74.32" cy="318.84" r="1.7"/><circle cx="68.48" cy="304.78" r="1.7"/><circle cx="88.1" cy="297.09" r="1.7"/><circle cx="102.93" cy="283.25" r="1.7"/><circle cx="101.65" cy="264.84" r="1.7"/><circle cx="69.21" cy="315.29" r="1.7"/><circle cx="114.94" cy="265.22" r="1.7"/><circle cx="79.75" cy="294.2" r="1.7"/><circle cx="67.48" cy="308.22" r="1.7"/><circle cx="79.2" cy="294.08" r="1.7"/><circle cx="73.18" cy="304.48" r="1.7"/><circle cx="69.98" cy="312.56" r="1.7"/><circle cx="79.19" cy="285.26" r="1.7"/><circle cx="73.53" cy="306.19" r="1.7"/><circle cx="111.75" cy="283.7" r="1.7"/><circle cx="85" cy="298.75" r="1.7"/><circle cx="90.22" cy="292.34" r="1.7"/><circle cx="72.6" cy="320.11" r="1.7"/><circle cx="119.46" cy="266.3" r="1.7"/><circle cx="86.2" cy="284.9" r="1.7"/><circle cx="71.61" cy="314.19" r="1.7"/><circle cx="68.3" cy="320.72" r="1.7"/><circle cx="77.04" cy="281.2" r="1.7"/><circle cx="90.89" cy="272.17" r="1.7"/><circle cx="124.24" cy="279.75" r="1.7"/><circle cx="123.65" cy="275.67" r="1.7"/><circle cx="123.87" cy="259.66" r="1.7"/><circle cx="86.73" cy="297.52" r="1.7"/><circle cx="70.75" cy="307.11" r="1.7"/><circle cx="70.37" cy="323.1" r="1.7"/><circle cx="76.7" cy="306.94" r="1.7"/><circle cx="121.09" cy="278.46" r="1.7"/><circle cx="72.48" cy="311.68" r="1.7"/><circle cx="72.84" cy="318.83" r="1.7"/><circle cx="68.11" cy="317.41" r="1.7"/><circle cx="69.51" cy="296.07" r="1.7"/><circle cx="72.54" cy="310.71" r="1.7"/><circle cx="69.8" cy="309.73" r="1.7"/><circle cx="70.9" cy="306.58" r="1.7"/><circle cx="70.34" cy="292.44" r="1.7"/><circle cx="81.9" cy="295.45" r="1.7"/><circle cx="67.32" cy="310.85" r="1.7"/><circle cx="76.9" cy="280.45" r="1.7"/><circle cx="78.16" cy="292.19" r="1.7"/><circle cx="76.43" cy="291.19" r="1.7"/><circle cx="67.75" cy="296.07" r="1.7"/><circle cx="76.75" cy="299.96" r="1.7"/><circle cx="81.86" cy="292.03" r="1.7"/><circle cx="127.21" cy="264.86" r="1.7"/><circle cx="69.98" cy="305.96" r="1.7"/><circle cx="76.5" cy="286.33" r="1.7"/><circle cx="74.71" cy="288.09" r="1.7"/><circle cx="82.89" cy="263.38" r="1.7"/><circle cx="141.8" cy="273.5" r="1.7"/><circle cx="141.8" cy="277.44" r="1.7"/><circle cx="133.38" cy="278" r="1.7"/><circle cx="126.84" cy="291.5" r="1.7"/><circle cx="152.08" cy="244.25" r="1.7"/><circle cx="153.02" cy="248.75" r="1.7"/><circle cx="151.15" cy="249.31" r="1.7"/><circle cx="122.16" cy="260.56" r="1.7"/><circle cx="124.03" cy="262.25" r="1.7"/><circle cx="113.75" cy="265.62" r="1.7"/><circle cx="106.27" cy="266.75" r="1.7"/><circle cx="95.05" cy="264.5" r="1.7"/><circle cx="128.71" cy="273.5" r="1.7"/></g>
<line x1="65.6" y1="234" x2="65.6" y2="330.3" stroke="#222" stroke-width="1.1"/>
<line x1="65.6" y1="330.3" x2="169.2" y2="330.3" stroke="#222" stroke-width="1.1"/>
<line x1="63.4" y1="314.2" x2="65.6" y2="314.2" stroke="#222" stroke-width="0.9"/>
<text x="59.6" y="317.4" font-size="9.2" text-anchor="end" stroke="#111" stroke-width="0.16">2</text>
<line x1="63.4" y1="291.7" x2="65.6" y2="291.7" stroke="#222" stroke-width="0.9"/>
<text x="59.6" y="294.9" font-size="9.2" text-anchor="end" stroke="#111" stroke-width="0.16">4</text>
<line x1="63.4" y1="269.2" x2="65.6" y2="269.2" stroke="#222" stroke-width="0.9"/>
<text x="59.6" y="272.4" font-size="9.2" text-anchor="end" stroke="#111" stroke-width="0.16">6</text>
<line x1="63.4" y1="246.7" x2="65.6" y2="246.7" stroke="#222" stroke-width="0.9"/>
<text x="59.6" y="249.9" font-size="9.2" text-anchor="end" stroke="#111" stroke-width="0.16">8</text>
<line x1="67" y1="330.3" x2="67" y2="332.4" stroke="#222" stroke-width="0.9"/>
<text x="67" y="342.3" font-size="9.2" text-anchor="middle" stroke="#111" stroke-width="0.16">0</text>
<line x1="85.7" y1="330.3" x2="85.7" y2="332.4" stroke="#222" stroke-width="0.9"/>
<text x="85.7" y="342.3" font-size="9.2" text-anchor="middle" stroke="#111" stroke-width="0.16">1</text>
<line x1="104.4" y1="330.3" x2="104.4" y2="332.4" stroke="#222" stroke-width="0.9"/>
<text x="104.4" y="342.3" font-size="9.2" text-anchor="middle" stroke="#111" stroke-width="0.16">2</text>
<line x1="123.1" y1="330.3" x2="123.1" y2="332.4" stroke="#222" stroke-width="0.9"/>
<text x="123.1" y="342.3" font-size="9.2" text-anchor="middle" stroke="#111" stroke-width="0.16">3</text>
<line x1="141.8" y1="330.3" x2="141.8" y2="332.4" stroke="#222" stroke-width="0.9"/>
<text x="141.8" y="342.3" font-size="9.2" text-anchor="middle" stroke="#111" stroke-width="0.16">4</text>
<text x="62" y="353.3" font-size="9.3" fill="#111" stroke="#111" stroke-width="0.12" textLength="110" lengthAdjust="spacingAndGlyphs"><tspan font-style="italic">MAMDC2</tspan> (log<tspan font-size="6.5" dy="2">2</tspan><tspan dy="-2"> (TPM+1))</tspan></text>
<text transform="translate(46.9,331.5) rotate(-90)" font-size="9.3" fill="#111" stroke="#111" stroke-width="0.12" textLength="97" lengthAdjust="spacingAndGlyphs"><tspan font-style="italic">MYLK</tspan> (log<tspan font-size="6.5" dy="2">2</tspan><tspan dy="-2"> (TPM+1))</tspan></text>
<text x="118" y="308.3" font-size="9.4" text-anchor="start" stroke="#111" stroke-width="0.16">Spearman</text>
<text x="118" y="317.6" font-size="9.4" fill="#111" stroke="#111" stroke-width="0.12" textLength="37" lengthAdjust="spacing"><tspan font-style="italic">R</tspan>=0.749</text>
<text x="118" y="326.8" font-size="9.4" fill="#111" stroke="#111" stroke-width="0.12" textLength="37" lengthAdjust="spacing"><tspan font-style="italic">P</tspan>&lt;0.001</text>
<line x1="229.6" y1="237.4" x2="229.6" y2="333.8" stroke="#222" stroke-width="1.1"/>
<line x1="229.6" y1="333.8" x2="308" y2="333.8" stroke="#222" stroke-width="1.1"/>
<text x="225.2" y="336.5" font-size="9.2" text-anchor="end" stroke="#111" stroke-width="0.16">0</text>
<line x1="227.4" y1="320.3" x2="229.6" y2="320.3" stroke="#222" stroke-width="0.9"/>
<text x="225.2" y="322.3" font-size="9.2" text-anchor="end" stroke="#111" stroke-width="0.16">2</text>
<line x1="227.4" y1="302.95" x2="229.6" y2="302.95" stroke="#222" stroke-width="0.9"/>
<text x="225.2" y="304.95" font-size="9.2" text-anchor="end" stroke="#111" stroke-width="0.16">4</text>
<line x1="227.4" y1="285.6" x2="229.6" y2="285.6" stroke="#222" stroke-width="0.9"/>
<text x="225.2" y="287.6" font-size="9.2" text-anchor="end" stroke="#111" stroke-width="0.16">6</text>
<line x1="227.4" y1="268.25" x2="229.6" y2="268.25" stroke="#222" stroke-width="0.9"/>
<text x="225.2" y="270.25" font-size="9.2" text-anchor="end" stroke="#111" stroke-width="0.16">8</text>
<line x1="227.4" y1="250.9" x2="229.6" y2="250.9" stroke="#222" stroke-width="0.9"/>
<text x="225.2" y="252.9" font-size="9.2" text-anchor="end" stroke="#111" stroke-width="0.16">10</text>
<line x1="249.4" y1="333.8" x2="249.4" y2="336" stroke="#222" stroke-width="0.9"/>
<line x1="283" y1="333.8" x2="283" y2="336" stroke="#222" stroke-width="0.9"/>
<text x="251" y="347.8" font-size="9.4" text-anchor="middle" stroke="#111" stroke-width="0.16">Normal</text>
<text x="286.3" y="347.8" font-size="9.4" text-anchor="middle" stroke="#111" stroke-width="0.16">Tumor</text>
<text transform="translate(209.2,331) rotate(-90)" font-size="9.3" fill="#111" stroke="#111" stroke-width="0.12" textLength="97" lengthAdjust="spacingAndGlyphs"><tspan font-style="italic">MYLK</tspan> (log<tspan font-size="6.5" dy="2">2</tspan><tspan dy="-2"> (TPM+1))</tspan></text>
<line x1="249.2" y1="250" x2="249.2" y2="273.8" stroke="#222" stroke-width="0.9"/>
<line x1="249.2" y1="297.6" x2="249.2" y2="307.4" stroke="#222" stroke-width="0.9"/>
<rect x="241.2" y="273.8" width="16" height="23.8" fill="#2f3b6e" stroke="#222" stroke-width="0.9"/>
<line x1="241.2" y1="287.6" x2="257.2" y2="287.6" stroke="#111" stroke-width="1.3"/>
<line x1="282.8" y1="285" x2="282.8" y2="303.4" stroke="#222" stroke-width="0.9"/>
<line x1="282.8" y1="316.4" x2="282.8" y2="330.6" stroke="#222" stroke-width="0.9"/>
<rect x="275" y="303.4" width="15.6" height="13" fill="#9e2d31" stroke="#222" stroke-width="0.9"/>
<line x1="275" y1="310.4" x2="290.6" y2="310.4" stroke="#111" stroke-width="1.3"/>
<g fill="#333"><circle cx="283" cy="267.6" r="0.55"/><circle cx="283" cy="271.2" r="0.55"/><circle cx="283" cy="274.2" r="0.55"/><circle cx="283" cy="276.6" r="0.55"/><circle cx="283" cy="278.4" r="0.55"/><circle cx="283" cy="279.8" r="0.55"/><circle cx="283" cy="281" r="0.55"/><circle cx="283" cy="282.2" r="0.55"/><circle cx="283" cy="283.2" r="0.55"/><circle cx="283" cy="284.2" r="0.55"/></g>
<line x1="249.4" y1="238.6" x2="284" y2="238.6" stroke="#777" stroke-width="1"/>
<text x="266.4" y="239.6" font-size="12" text-anchor="middle" font-weight="bold">*</text>
<line x1="381.7" y1="237.8" x2="381.7" y2="332.4" stroke="#222" stroke-width="1.1"/>
<line x1="381.7" y1="332.4" x2="490.4" y2="332.4" stroke="#222" stroke-width="1.1"/>
<text x="375.8" y="332" font-size="9.2" text-anchor="end" stroke="#111" stroke-width="0.16">0</text>
<line x1="379.5" y1="305.2" x2="381.7" y2="305.2" stroke="#222" stroke-width="0.9"/>
<text x="375.8" y="307.4" font-size="9.2" text-anchor="end" stroke="#111" stroke-width="0.16">2</text>
<line x1="379.5" y1="277.2" x2="381.7" y2="277.2" stroke="#222" stroke-width="0.9"/>
<text x="375.8" y="280.2" font-size="9.2" text-anchor="end" stroke="#111" stroke-width="0.16">4</text>
<line x1="379.5" y1="249.2" x2="381.7" y2="249.2" stroke="#222" stroke-width="0.9"/>
<text x="375.8" y="252.4" font-size="9.2" text-anchor="end" stroke="#111" stroke-width="0.16">6</text>
<text transform="translate(362,331) rotate(-90)" font-size="9.3" fill="#111" stroke="#111" stroke-width="0.12" textLength="96" lengthAdjust="spacingAndGlyphs"><tspan font-style="italic">MYLK</tspan> (log<tspan font-size="6.5" dy="2">2</tspan><tspan dy="-2"> (TPM+1))</tspan></text>
<line x1="398.6" y1="292" x2="398.6" y2="313" stroke="#222" stroke-width="0.9"/>
<line x1="398.6" y1="323.4" x2="398.6" y2="330" stroke="#222" stroke-width="0.9"/>
<line x1="393.6" y1="292" x2="403.6" y2="292" stroke="#222" stroke-width="0.9"/>
<line x1="393.6" y1="330" x2="403.6" y2="330" stroke="#222" stroke-width="0.9"/>
<rect x="390.1" y="313" width="17" height="10.4" fill="#2b3a6b" stroke="#222" stroke-width="0.9"/>
<line x1="390.1" y1="318.4" x2="407.1" y2="318.4" stroke="#111" stroke-width="1.3"/>
<line x1="423.6" y1="301" x2="423.6" y2="315.4" stroke="#222" stroke-width="0.9"/>
<line x1="423.6" y1="323.4" x2="423.6" y2="330.4" stroke="#222" stroke-width="0.9"/>
<line x1="418.6" y1="301" x2="428.6" y2="301" stroke="#222" stroke-width="0.9"/>
<line x1="418.6" y1="330.4" x2="428.6" y2="330.4" stroke="#222" stroke-width="0.9"/>
<rect x="415.1" y="315.4" width="17" height="8" fill="#4b6db0" stroke="#222" stroke-width="0.9"/>
<line x1="415.1" y1="318" x2="432.1" y2="318" stroke="#111" stroke-width="1.3"/>
<line x1="449" y1="306.4" x2="449" y2="316" stroke="#222" stroke-width="0.9"/>
<line x1="449" y1="327" x2="449" y2="330" stroke="#222" stroke-width="0.9"/>
<line x1="444" y1="306.4" x2="454" y2="306.4" stroke="#222" stroke-width="0.9"/>
<line x1="444" y1="330" x2="454" y2="330" stroke="#222" stroke-width="0.9"/>
<rect x="440.5" y="316" width="17" height="11" fill="#bed6f1" stroke="#222" stroke-width="0.9"/>
<line x1="440.5" y1="318.2" x2="457.5" y2="318.2" stroke="#111" stroke-width="1.3"/>
<line x1="474" y1="254" x2="474" y2="293.6" stroke="#222" stroke-width="0.9"/>
<line x1="474" y1="311.4" x2="474" y2="321.6" stroke="#222" stroke-width="0.9"/>
<line x1="469" y1="254" x2="479" y2="254" stroke="#222" stroke-width="0.9"/>
<line x1="469" y1="321.6" x2="479" y2="321.6" stroke="#222" stroke-width="0.9"/>
<rect x="465.6" y="293.6" width="16.8" height="17.8" fill="#f3e5df" stroke="#222" stroke-width="0.9"/>
<line x1="465.6" y1="303" x2="482.4" y2="303" stroke="#111" stroke-width="1.3"/>
<text transform="translate(402.2,342.2) rotate(-25)" font-size="9" text-anchor="end" fill="#111" stroke="#111" stroke-width="0.12">CMS1</text>
<text transform="translate(427.2,342.2) rotate(-25)" font-size="9" text-anchor="end" fill="#111" stroke="#111" stroke-width="0.12">CMS2</text>
<text transform="translate(452.6,342.2) rotate(-25)" font-size="9" text-anchor="end" fill="#111" stroke="#111" stroke-width="0.12">CMS3</text>
<text transform="translate(477.6,342.2) rotate(-25)" font-size="9" text-anchor="end" fill="#111" stroke="#111" stroke-width="0.12">CMS4</text>
<text x="474.2" y="251.2" font-size="12" text-anchor="middle" font-weight="bold" textLength="23.6" lengthAdjust="spacingAndGlyphs">****</text>
<rect x="19.5" y="372.7" width="203" height="148" fill="#fff" stroke="#a0a0a0" stroke-width="1.2"/>
<rect x="226.7" y="372.6" width="156.6" height="148.1" fill="#fff" stroke="#a0a0a0" stroke-width="1.2"/>
<rect x="387.6" y="372.6" width="156" height="148.1" fill="#fff" stroke="#a0a0a0" stroke-width="1.2"/>
<rect x="19.5" y="529.3" width="203" height="147.1" fill="#fff" stroke="#a0a0a0" stroke-width="1.2"/>
<rect x="226.7" y="529.3" width="156.6" height="147.2" fill="#fff" stroke="#a0a0a0" stroke-width="1.2"/>
<rect x="387.6" y="529.3" width="156" height="147.1" fill="#fff" stroke="#a0a0a0" stroke-width="1.2"/>
<line x1="36.5" y1="387" x2="36.5" y2="517" stroke="#e6e6e6" stroke-width="0.75"/>
<line x1="57.9" y1="387" x2="57.9" y2="517" stroke="#e6e6e6" stroke-width="0.75"/>
<line x1="79.3" y1="387" x2="79.3" y2="517" stroke="#e6e6e6" stroke-width="0.75"/>
<line x1="100.7" y1="387" x2="100.7" y2="517" stroke="#e6e6e6" stroke-width="0.75"/>
<line x1="122.1" y1="387" x2="122.1" y2="517" stroke="#e6e6e6" stroke-width="0.75"/>
<line x1="143.5" y1="387" x2="143.5" y2="517" stroke="#e6e6e6" stroke-width="0.75"/>
<line x1="21.6" y1="401.4" x2="149" y2="401.4" stroke="#e6e6e6" stroke-width="0.75"/>
<line x1="21.6" y1="423.4" x2="149" y2="423.4" stroke="#e6e6e6" stroke-width="0.75"/>
<line x1="21.6" y1="445.4" x2="149" y2="445.4" stroke="#e6e6e6" stroke-width="0.75"/>
<line x1="21.6" y1="467.4" x2="149" y2="467.4" stroke="#e6e6e6" stroke-width="0.75"/>
<line x1="21.6" y1="489.3" x2="149" y2="489.3" stroke="#e6e6e6" stroke-width="0.75"/>
<line x1="21.6" y1="511.3" x2="149" y2="511.3" stroke="#e6e6e6" stroke-width="0.75"/>
<line x1="243.9" y1="385" x2="243.9" y2="515" stroke="#efefef" stroke-width="0.8"/>
<line x1="264.2" y1="385" x2="264.2" y2="515" stroke="#efefef" stroke-width="0.8"/>
<line x1="284.6" y1="385" x2="284.6" y2="515" stroke="#efefef" stroke-width="0.8"/>
<line x1="305" y1="385" x2="305" y2="515" stroke="#efefef" stroke-width="0.8"/>
<line x1="325.3" y1="385" x2="325.3" y2="515" stroke="#efefef" stroke-width="0.8"/>
<line x1="345.6" y1="385" x2="345.6" y2="515" stroke="#efefef" stroke-width="0.8"/>
<line x1="230" y1="401.4" x2="352" y2="401.4" stroke="#efefef" stroke-width="0.8"/>
<line x1="230" y1="423.2" x2="352" y2="423.2" stroke="#efefef" stroke-width="0.8"/>
<line x1="230" y1="445" x2="352" y2="445" stroke="#efefef" stroke-width="0.8"/>
<line x1="230" y1="466.8" x2="352" y2="466.8" stroke="#efefef" stroke-width="0.8"/>
<line x1="230" y1="488.3" x2="352" y2="488.3" stroke="#efefef" stroke-width="0.8"/>
<line x1="230" y1="509.5" x2="352" y2="509.5" stroke="#efefef" stroke-width="0.8"/>
<line x1="403.9" y1="385" x2="403.9" y2="515" stroke="#efefef" stroke-width="0.8"/>
<line x1="424.2" y1="385" x2="424.2" y2="515" stroke="#efefef" stroke-width="0.8"/>
<line x1="444.6" y1="385" x2="444.6" y2="515" stroke="#efefef" stroke-width="0.8"/>
<line x1="465" y1="385" x2="465" y2="515" stroke="#efefef" stroke-width="0.8"/>
<line x1="485.3" y1="385" x2="485.3" y2="515" stroke="#efefef" stroke-width="0.8"/>
<line x1="505.6" y1="385" x2="505.6" y2="515" stroke="#efefef" stroke-width="0.8"/>
<line x1="390" y1="401.4" x2="512" y2="401.4" stroke="#efefef" stroke-width="0.8"/>
<line x1="390" y1="423.2" x2="512" y2="423.2" stroke="#efefef" stroke-width="0.8"/>
<line x1="390" y1="445" x2="512" y2="445" stroke="#efefef" stroke-width="0.8"/>
<line x1="390" y1="466.8" x2="512" y2="466.8" stroke="#efefef" stroke-width="0.8"/>
<line x1="390" y1="488.3" x2="512" y2="488.3" stroke="#efefef" stroke-width="0.8"/>
<line x1="390" y1="509.5" x2="512" y2="509.5" stroke="#efefef" stroke-width="0.8"/>
<line x1="36.4" y1="543" x2="36.4" y2="672" stroke="#e6e6e6" stroke-width="0.75"/>
<line x1="56.1" y1="543" x2="56.1" y2="672" stroke="#e6e6e6" stroke-width="0.75"/>
<line x1="75.8" y1="543" x2="75.8" y2="672" stroke="#e6e6e6" stroke-width="0.75"/>
<line x1="95.2" y1="543" x2="95.2" y2="672" stroke="#e6e6e6" stroke-width="0.75"/>
<line x1="114.6" y1="543" x2="114.6" y2="672" stroke="#e6e6e6" stroke-width="0.75"/>
<line x1="134" y1="543" x2="134" y2="672" stroke="#e6e6e6" stroke-width="0.75"/>
<line x1="22" y1="557.7" x2="150" y2="557.7" stroke="#e6e6e6" stroke-width="0.75"/>
<line x1="22" y1="578.2" x2="150" y2="578.2" stroke="#e6e6e6" stroke-width="0.75"/>
<line x1="22" y1="599" x2="150" y2="599" stroke="#e6e6e6" stroke-width="0.75"/>
<line x1="22" y1="620.3" x2="150" y2="620.3" stroke="#e6e6e6" stroke-width="0.75"/>
<line x1="22" y1="640.5" x2="150" y2="640.5" stroke="#e6e6e6" stroke-width="0.75"/>
<line x1="22" y1="660.7" x2="150" y2="660.7" stroke="#e6e6e6" stroke-width="0.75"/>
<line x1="244" y1="543" x2="244" y2="672" stroke="#efefef" stroke-width="0.8"/>
<line x1="262.8" y1="543" x2="262.8" y2="672" stroke="#efefef" stroke-width="0.8"/>
<line x1="281.7" y1="543" x2="281.7" y2="672" stroke="#efefef" stroke-width="0.8"/>
<line x1="300" y1="543" x2="300" y2="672" stroke="#efefef" stroke-width="0.8"/>
<line x1="318" y1="543" x2="318" y2="672" stroke="#efefef" stroke-width="0.8"/>
<line x1="337" y1="543" x2="337" y2="672" stroke="#efefef" stroke-width="0.8"/>
<line x1="230" y1="558.4" x2="352" y2="558.4" stroke="#efefef" stroke-width="0.8"/>
<line x1="230" y1="578.7" x2="352" y2="578.7" stroke="#efefef" stroke-width="0.8"/>
<line x1="230" y1="599" x2="352" y2="599" stroke="#efefef" stroke-width="0.8"/>
<line x1="230" y1="619.4" x2="352" y2="619.4" stroke="#efefef" stroke-width="0.8"/>
<line x1="230" y1="639" x2="352" y2="639" stroke="#efefef" stroke-width="0.8"/>
<line x1="230" y1="659.3" x2="352" y2="659.3" stroke="#efefef" stroke-width="0.8"/>
<line x1="404" y1="543" x2="404" y2="672" stroke="#efefef" stroke-width="0.8"/>
<line x1="422.8" y1="543" x2="422.8" y2="672" stroke="#efefef" stroke-width="0.8"/>
<line x1="441.7" y1="543" x2="441.7" y2="672" stroke="#efefef" stroke-width="0.8"/>
<line x1="460" y1="543" x2="460" y2="672" stroke="#efefef" stroke-width="0.8"/>
<line x1="478" y1="543" x2="478" y2="672" stroke="#efefef" stroke-width="0.8"/>
<line x1="497" y1="543" x2="497" y2="672" stroke="#efefef" stroke-width="0.8"/>
<line x1="390" y1="558.4" x2="512" y2="558.4" stroke="#efefef" stroke-width="0.8"/>
<line x1="390" y1="578.7" x2="512" y2="578.7" stroke="#efefef" stroke-width="0.8"/>
<line x1="390" y1="599" x2="512" y2="599" stroke="#efefef" stroke-width="0.8"/>
<line x1="390" y1="619.4" x2="512" y2="619.4" stroke="#efefef" stroke-width="0.8"/>
<line x1="390" y1="639" x2="512" y2="639" stroke="#efefef" stroke-width="0.8"/>
<line x1="390" y1="659.3" x2="512" y2="659.3" stroke="#efefef" stroke-width="0.8"/>
<path d="M29,441 L32,442 L36,441 L40,440 L43,436 L46,440 L54,446 L60,450 L66,453 L64,458 L65,462 L67.7,473.7 L66,474.5 L62,474 L58,476 L61,479 L58,482 L54.4,485.2 L48,484.5 L45.5,483.3 L44.5,479 L46,475 L44.2,467.4 L40,466 L36,464 L31.5,459 L28.9,455 L28.5,447 Z" fill="#2f89cf"/>
<path d="M75,416.6 L75.8,417.4 L71.6,423.2 L71.8,430 L71.4,440 L69.5,448 L66.5,454 L63,457.2 L57,457.5 L52,456 L48.5,452 L45.5,446 L44,438 L42.9,430 L46,427 L52,424.5 L57,422.3 L63,421.5 L68.5,420 L70.3,421.6 Z" fill="#237a66"/>
<path d="M30.2,437.2 L33,435 L35.9,435.3 L36.5,439 L35,441 L31,441.5 L30,440 Z" fill="#237a66"/>
<path d="M32,483.3 L35,482 L37.2,484.5 L36,488 L37.2,490.3 L34.5,489.5 L32.5,486 Z" fill="#2f89cf"/>
<path d="M45,407 L48.5,406.5 L49.5,408.5 L48,411 L47.5,413.5 L45.5,413 L45.2,410 Z" fill="#2f89cf"/>
<path d="M76.4,402.7 L78,399.5 L80.5,397.3 L85,395.5 L91.4,394.5 L100,394.2 L109,394.5 L111,397.3 L113.5,401 L116,405.5 L119,408 L120.7,411 L121,415 L120,417.7 L118,419.8 L116,418.5 L114.6,416.4 L112,414 L109.8,412.3 L107,408.2 L103,407.5 L99.5,406.8 L95,408.5 L91.4,409.6 L88.6,407.5 L83.2,405.5 L77.7,406 Z" fill="#c3bf29"/>
<path d="M93.4,428.6 L98,428 L104,429.5 L109,433 L113,437 L116,441.5 L114.5,446 L112.5,447.5 L111,450.5 L109.8,456 L110.5,460 L107.7,462.8 L102.3,465.5 L96.8,464 L92.7,461.4 L90,451.8 L92.7,445 L94,436.8 L92.7,431.4 Z" fill="#5963c3"/>
<path d="M90,451.8 L92.7,445 L95,440 L98,447 L103,452 L107,455 L109.8,456 L110.5,460 L107.7,462.8 L102.3,465.5 L96.8,464 L92.7,461.4 Z" fill="#3bb89c"/>
<path d="M86,460.5 L88,459.5 L92.7,461.5 L92.7,463 L88,463.2 L86,462.5 Z" fill="#b35cb6"/>
<path d="M138,418.4 L140,421 L143,422 L145.5,421.5 L146.6,425 L145,428 L146.6,431 L144,434.8 L141,432 L138,433.5 L135,431 L137,428 L135.5,425 L138,423 Z" fill="#e3a21a"/>
<path d="M139.3,446 L141.2,446.2 L142.8,451 L144.8,446 L146.4,446.3 L145,452 L143.8,456.8 L142,456.3 Z" fill="#a3ad98"/>
<path d="M120.7,467.8 L122,467.3 L125.8,469.8 L125.8,471.2 L123.5,470.6 L121,469.2 Z" fill="#5a35a6"/>
<path d="M90.8,483 L92.5,481.3 L95.5,481.2 L98,482.5 L100,484.5 L102,484 L105,484.5 L108.5,486 L110.5,488.5 L110,491.5 L107,492 L104,491 L101.5,492.5 L100.4,493.7 L99,492 L96.5,490.5 L93.5,489.5 L91.5,487.5 Z" fill="#ee5d5b"/>
<path d="M93.4,498.2 L97,496 L100,493.5 L102.3,493.5 L101,495.5 L98,497.2 L95,498.8 Z" fill="#8fc73e"/>
<path d="M127,485.5 L130,486.5 L134.7,487.5 L133,488.8 L130,489 L128.5,491 L127.7,493 L127,491 L128,488.5 L126.8,486.5 Z" fill="#d54fc1"/>
<path d="M70.9,507 L73,503.6 L77,503 L81,504 L82.4,506.5 L80,510 L77,511.9 L74,510.5 L71,508.5 Z" fill="#e88a1a"/>
<path d="M73.5,493.5 L75.5,493.3 L76,495 L74.8,495.5 L74.8,503 L73.6,503 Z" fill="#c9c53a"/>
<path d="M104.3,550.9 L106.5,550.5 L107.7,552.5 L107,554.3 L105,554 Z" fill="#4b2a8a"/>
<path d="M76,560.4 L79,561 L81,563 L84,564.5 L86.8,565.5 L84,567.5 L83,569.3 L83.6,574.4 L81,577.5 L78.5,579.5 L75,578.5 L72.2,578.2 L70,580.5 L67.7,582 L68.5,578 L68.4,573 L69,566.7 L71,563 L73.5,561 Z" fill="#ee5f5c"/>
<path d="M116,569.3 L119,568.8 L121.2,570 L120.7,572 L118.5,573 L116.5,575 L115.2,576.8 L117.5,580 L119.3,585 L119,591 L116.5,595 L113.9,596 L110.5,594 L109,590 L109.5,585 L111.5,581 L113.5,577 L114.5,573 L115,570.5 Z" fill="#bebe2b"/>
<path d="M81.8,600 L83.5,594 L86,590.5 L90,588.5 L94,587.7 L97,588.5 L100.9,590.5 L97,590.8 L93,591.5 L90.5,594 L89.5,600 L87,604 L83.5,605.5 L82,603.5 Z" fill="#e4831b"/>
<path d="M131.6,601 L133,598.8 L137,598.2 L141,598.6 L144.5,600 L146.6,602.5 L147,606 L145.5,607.5 L144,605 L141,603 L138,603.5 L135,604 L132.5,603.5 Z" fill="#a9b09e"/>
<path d="M101.6,612 L103,609.5 L106,608.9 L110,609.3 L114,610 L116.6,613 L115.5,616 L113.5,617 L112,620 L110,624 L108,625.2 L105.5,623 L104.5,619 L102.5,616 Z" fill="#8dc63f"/>
<path d="M121,655 L124,651.5 L128,648 L131,645 L134,644 L138,644.5 L141,647 L142.6,652 L141.5,658 L139.5,663 L136,666.4 L133,664 L131,659 L127,656.5 Z" fill="#e2a31d"/>
<path d="M131.5,617.5 L135,617 L139.5,618.5 L141,621 L144,621.5 L148.8,622.5 L148.5,625.5 L142,631 L137,636 L133.5,641 L131.5,642 L131,638 L134,633 L136,628 L133,625 L131.5,621.5 Z" fill="#e2a31d"/>
<path d="M144,607.5 L145.6,608 L142.6,617.8 L141,617.4 Z" fill="#e2a31d"/>
<path d="M113,639.2 L115.5,637.9 L118,639.2 L115.5,640.5 Z" fill="#d653c2"/>
<path d="M49.3,608.3 L51,607.8 L52.5,612 L55,616 L57.5,620 L59.5,626 L59.5,629.3 L57,629 L55,625 L53,621 L51.5,617 L50,613 Z" fill="#1f6e5c"/>
<path d="M27.6,620 L29,617 L32,616.5 L35,617.5 L38,615.9 L41.5,616.5 L43.5,619 L43,623 L41,625.5 L38,625 L35,625.3 L31,625.5 L28.5,623.5 Z" fill="#2f89cf"/>
<path d="M58.8,609 L61,606.8 L65,606.4 L69,607 L72,609 L72.2,613 L70.5,616.5 L67,617.8 L63,617.2 L60,614.5 Z" fill="#2f89cf"/>
<path d="M53,647 L55,646.5 L57,649 L60,651 L62.6,653 L62,657 L60,660 L56,661 L52.5,659 L51.8,655 L53,651 Z" fill="#2f89cf"/>
<path d="M77.5,629.5 L79.5,629.8 L80,633 L78.5,634 Z" fill="#e4831b"/>
<path d="M77,645 L78,640 L81,636 L85,633 L90,632 L95,632.5 L98,636 L99.6,642 L99,648 L97,652 L93,654.6 L88,652 L84,650 L80,649 L77.5,647.5 Z" fill="#3ebf9f"/>
<path d="M80.5,651 L84,650.5 L88,652 L93,654 L97,651 L98.2,655 L97,659 L93,660.7 L88,660.5 L84,658.5 L81,655 Z" fill="#5a5ec4"/>
<path d="M37,446 L41,443.5 L44.5,444.5 L46.5,450 L46,455.5 L43.5,459.5 L40.5,456 L38.2,451 Z" fill="#ffffff" fill-opacity="0.55"/>
<g fill="#ffffff" fill-opacity="0.55"><rect x="47.02" y="447.99" width="1" height="1"/><rect x="33.01" y="460.51" width="1" height="1"/><rect x="41.62" y="454.46" width="1" height="1"/><rect x="29.45" y="443.13" width="1" height="1"/><rect x="49.51" y="479.83" width="1" height="1"/><rect x="48.07" y="446.65" width="1" height="1"/><rect x="60.47" y="462.65" width="1" height="1"/><rect x="60.88" y="455.24" width="1" height="1"/><rect x="53.83" y="461.37" width="1" height="1"/><rect x="38.17" y="455.42" width="1" height="1"/><rect x="45.88" y="452.19" width="1" height="1"/><rect x="54.52" y="465.78" width="1" height="1"/><rect x="62.49" y="472.5" width="1" height="1"/><rect x="42.42" y="456" width="1" height="1"/><rect x="35.38" y="441.19" width="1" height="1"/><rect x="52.53" y="445.7" width="1" height="1"/><rect x="64.7" y="466.77" width="1" height="1"/><rect x="60.82" y="463.11" width="1" height="1"/><rect x="36.44" y="458.56" width="1" height="1"/><rect x="64.46" y="459.93" width="1" height="1"/><rect x="54.56" y="480.04" width="1" height="1"/><rect x="59.3" y="450.65" width="1" height="1"/><rect x="58.08" y="460.95" width="1" height="1"/><rect x="49.86" y="467.46" width="1" height="1"/><rect x="44.47" y="451.27" width="1" height="1"/></g>
<g fill="#ffffff" fill-opacity="0.55"><rect x="50.03" y="431.65" width="1" height="1"/><rect x="54.54" y="448.74" width="1" height="1"/><rect x="47.73" y="438.76" width="1" height="1"/><rect x="62.54" y="448.91" width="1" height="1"/><rect x="52.07" y="433.52" width="1" height="1"/><rect x="65.14" y="439.4" width="1" height="1"/><rect x="59.55" y="442.22" width="1" height="1"/><rect x="52.76" y="433.1" width="1" height="1"/><rect x="49.1" y="446.08" width="1" height="1"/><rect x="65.08" y="447.97" width="1" height="1"/><rect x="50.93" y="438.75" width="1" height="1"/><rect x="67.98" y="440.49" width="1" height="1"/><rect x="55.57" y="451.78" width="1" height="1"/><rect x="58.51" y="425.73" width="1" height="1"/><rect x="65.96" y="453.14" width="1" height="1"/><rect x="45.68" y="433.4" width="1" height="1"/><rect x="53.76" y="453.31" width="1" height="1"/><rect x="48.81" y="427.84" width="1" height="1"/><rect x="45.59" y="441.75" width="1" height="1"/><rect x="49.67" y="444.09" width="1" height="1"/><rect x="50.96" y="450.81" width="1" height="1"/><rect x="56.98" y="423.22" width="1" height="1"/><rect x="68.26" y="436.75" width="1" height="1"/><rect x="54.26" y="446.99" width="1" height="1"/><rect x="59.24" y="422.69" width="1" height="1"/></g>
<g fill="#ffffff" fill-opacity="0.55"><rect x="110.94" y="412.93" width="1" height="1"/><rect x="77.6" y="405.36" width="1" height="1"/><rect x="100.61" y="401.76" width="1" height="1"/><rect x="93.02" y="403.55" width="1" height="1"/><rect x="101.54" y="394.28" width="1" height="1"/><rect x="103.99" y="405.15" width="1" height="1"/><rect x="88.86" y="400.12" width="1" height="1"/><rect x="116.31" y="418.62" width="1" height="1"/><rect x="112.51" y="411.21" width="1" height="1"/><rect x="103.74" y="405.77" width="1" height="1"/><rect x="110.28" y="404.53" width="1" height="1"/><rect x="116.7" y="414.99" width="1" height="1"/><rect x="86.11" y="396.13" width="1" height="1"/><rect x="116.38" y="409" width="1" height="1"/><rect x="95.43" y="401.35" width="1" height="1"/><rect x="110.05" y="406.97" width="1" height="1"/><rect x="95.73" y="407.46" width="1" height="1"/><rect x="95.63" y="395.37" width="1" height="1"/><rect x="112.86" y="408.82" width="1" height="1"/><rect x="94.91" y="396.26" width="1" height="1"/><rect x="105.83" y="404.63" width="1" height="1"/><rect x="93.68" y="402.75" width="1" height="1"/><rect x="97.41" y="395.33" width="1" height="1"/><rect x="99.08" y="402.97" width="1" height="1"/><rect x="98.59" y="398.04" width="1" height="1"/></g>
<g fill="#ffffff" fill-opacity="0.55"><rect x="96.61" y="441.13" width="1" height="1"/><rect x="103.13" y="439.39" width="1" height="1"/><rect x="107.77" y="433.68" width="1" height="1"/><rect x="102.86" y="429.69" width="1" height="1"/><rect x="107.72" y="446.39" width="1" height="1"/><rect x="94.54" y="454.76" width="1" height="1"/><rect x="103.3" y="452.7" width="1" height="1"/><rect x="108.44" y="456.88" width="1" height="1"/><rect x="101.93" y="437.97" width="1" height="1"/><rect x="100.02" y="455.4" width="1" height="1"/><rect x="92.08" y="454.24" width="1" height="1"/><rect x="94.41" y="436.9" width="1" height="1"/><rect x="90.41" y="451.65" width="1" height="1"/><rect x="100.34" y="437.26" width="1" height="1"/><rect x="103.82" y="438.56" width="1" height="1"/><rect x="98" y="432.78" width="1" height="1"/><rect x="99.38" y="428.8" width="1" height="1"/><rect x="105.38" y="431.78" width="1" height="1"/><rect x="109.99" y="458.86" width="1" height="1"/><rect x="105.47" y="433.27" width="1" height="1"/><rect x="99.41" y="457.22" width="1" height="1"/><rect x="95.18" y="443.59" width="1" height="1"/><rect x="96.38" y="455.84" width="1" height="1"/><rect x="110.79" y="448.49" width="1" height="1"/><rect x="101.6" y="459.44" width="1" height="1"/></g>
<text x="98.9" y="402" font-size="5.8" text-anchor="start" stroke="#1a1a1a" stroke-width="0.16" fill="#1a1a1a">Plasma</text>
<text x="57.5" y="439" font-size="5.8" text-anchor="start" stroke="#1a1a1a" stroke-width="0.16" fill="#1a1a1a" textLength="21.7" lengthAdjust="spacingAndGlyphs">Epithelial</text>
<text x="113.2" y="429.3" font-size="5.8" text-anchor="start" stroke="#1a1a1a" stroke-width="0.16" fill="#1a1a1a" textLength="25.8" lengthAdjust="spacingAndGlyphs">Fibroblasts</text>
<text x="104.3" y="441.6" font-size="5.8" text-anchor="start" stroke="#1a1a1a" stroke-width="0.16" fill="#1a1a1a" textLength="24.6" lengthAdjust="spacingAndGlyphs">CD4Tconv</text>
<text x="105.7" y="449.8" font-size="5.8" text-anchor="start" stroke="#1a1a1a" stroke-width="0.16" fill="#1a1a1a" textLength="33.3" lengthAdjust="spacingAndGlyphs">Myofibroblasts</text>
<text x="83.9" y="455.2" font-size="5.8" text-anchor="start" stroke="#1a1a1a" stroke-width="0.16" fill="#1a1a1a">CD8T</text>
<text x="92.7" y="462.7" font-size="5.8" text-anchor="start" stroke="#1a1a1a" stroke-width="0.16" fill="#1a1a1a">Tprolif</text>
<text x="46" y="463" font-size="5.8" text-anchor="start" stroke="#1a1a1a" stroke-width="0.16" fill="#1a1a1a" textLength="23" lengthAdjust="spacingAndGlyphs">Malignant</text>
<text x="122" y="466.6" font-size="5.8" text-anchor="start" stroke="#1a1a1a" stroke-width="0.16" fill="#1a1a1a">Mast</text>
<text x="104.2" y="484.9" font-size="5.8" text-anchor="start" stroke="#1a1a1a" stroke-width="0.16" fill="#1a1a1a" textLength="30.5" lengthAdjust="spacingAndGlyphs">Mono/Macro</text>
<text x="101.6" y="491" font-size="5.8" text-anchor="start" stroke="#1a1a1a" stroke-width="0.16" fill="#1a1a1a">DC</text>
<text x="109.3" y="497" font-size="5.8" text-anchor="start" stroke="#1a1a1a" stroke-width="0.16" fill="#1a1a1a" textLength="26.4" lengthAdjust="spacingAndGlyphs">Endothelial</text>
<text x="76.5" y="504" font-size="5.8" text-anchor="start" stroke="#1a1a1a" stroke-width="0.16" fill="#1a1a1a">B</text>
<text x="105.7" y="555.6" font-size="5.8" text-anchor="start" stroke="#1a1a1a" stroke-width="0.16" fill="#1a1a1a">Mast</text>
<text x="77.7" y="569.3" font-size="5.8" text-anchor="start" stroke="#1a1a1a" stroke-width="0.16" fill="#1a1a1a" textLength="29.3" lengthAdjust="spacingAndGlyphs">Mono/Macro</text>
<text x="115.2" y="583.6" font-size="5.8" text-anchor="start" stroke="#1a1a1a" stroke-width="0.16" fill="#1a1a1a" textLength="17.8" lengthAdjust="spacingAndGlyphs">Plasma</text>
<text x="86.5" y="598" font-size="5.8" text-anchor="start" stroke="#1a1a1a" stroke-width="0.16" fill="#1a1a1a">B</text>
<text x="103.6" y="601.3" font-size="5.8" text-anchor="start" stroke="#1a1a1a" stroke-width="0.16" fill="#1a1a1a" textLength="34.4" lengthAdjust="spacingAndGlyphs">Myofibroblasts</text>
<text x="109.8" y="615" font-size="5.8" text-anchor="start" stroke="#1a1a1a" stroke-width="0.16" fill="#1a1a1a" textLength="26.6" lengthAdjust="spacingAndGlyphs">Endothelial</text>
<text x="57.5" y="621.7" font-size="5.8" text-anchor="start" stroke="#1a1a1a" stroke-width="0.16" fill="#1a1a1a" textLength="21" lengthAdjust="spacingAndGlyphs">Epithelial</text>
<text x="51.2" y="633.2" font-size="5.8" text-anchor="start" stroke="#1a1a1a" stroke-width="0.16" fill="#1a1a1a" textLength="22.8" lengthAdjust="spacingAndGlyphs">Malignant</text>
<text x="72.2" y="639.5" font-size="5.8" text-anchor="start" stroke="#1a1a1a" stroke-width="0.16" fill="#1a1a1a">CD8Tex</text>
<text x="116" y="637.5" font-size="5.8" text-anchor="start" stroke="#1a1a1a" stroke-width="0.16" fill="#1a1a1a" textLength="27.9" lengthAdjust="spacingAndGlyphs">Enteric glial</text>
<text x="107.7" y="644" font-size="5.8" text-anchor="start" stroke="#1a1a1a" stroke-width="0.16" fill="#1a1a1a" textLength="26" lengthAdjust="spacingAndGlyphs">Fibroblasts</text>
<text x="92" y="651.8" font-size="5.8" text-anchor="start" stroke="#1a1a1a" stroke-width="0.16" fill="#1a1a1a" textLength="24.6" lengthAdjust="spacingAndGlyphs">CD4Tconv</text>
<text x="55" y="382" font-size="9.6" text-anchor="start" stroke="#222" stroke-width="0.16" fill="#222" textLength="64.8" lengthAdjust="spacingAndGlyphs">CRC_GSE166555</text>
<text x="54.4" y="539" font-size="9.6" text-anchor="start" stroke="#222" stroke-width="0.16" fill="#222" textLength="66" lengthAdjust="spacingAndGlyphs">CRC_EMTAB8107</text>
<text x="167" y="413.6" font-size="5.2" text-anchor="start" stroke="#444" stroke-width="0.16" fill="#444" textLength="51.9" lengthAdjust="spacingAndGlyphs">Cell type (major-lineage)</text>
<circle cx="169.5" cy="419.6" r="1.6" fill="#e07a1f"/>
<text x="173.6" y="421.3" font-size="4.75" text-anchor="start" stroke="#444" stroke-width="0.16" fill="#444">B</text>
<circle cx="169.5" cy="425.74" r="1.6" fill="#5a5ec4"/>
<text x="173.6" y="427.44" font-size="4.75" text-anchor="start" stroke="#444" stroke-width="0.16" fill="#444">CD4Tconv</text>
<circle cx="169.5" cy="431.88" r="1.6" fill="#3cbfa4"/>
<text x="173.6" y="433.58" font-size="4.75" text-anchor="start" stroke="#444" stroke-width="0.16" fill="#444">CD8T</text>
<circle cx="169.5" cy="438.02" r="1.6" fill="#8cc63f"/>
<text x="173.6" y="439.72" font-size="4.75" text-anchor="start" stroke="#444" stroke-width="0.16" fill="#444">DC</text>
<circle cx="169.5" cy="444.16" r="1.6" fill="#d652c0"/>
<text x="173.6" y="445.86" font-size="4.75" text-anchor="start" stroke="#444" stroke-width="0.16" fill="#444">Endothelial</text>
<circle cx="169.5" cy="450.3" r="1.6" fill="#1f6f5c"/>
<text x="173.6" y="452" font-size="4.75" text-anchor="start" stroke="#444" stroke-width="0.16" fill="#444">Epithelial</text>
<circle cx="169.5" cy="456.44" r="1.6" fill="#e8a317"/>
<text x="173.6" y="458.14" font-size="4.75" text-anchor="start" stroke="#444" stroke-width="0.16" fill="#444">Fibroblasts</text>
<circle cx="169.5" cy="462.58" r="1.6" fill="#2f8fd8"/>
<text x="173.6" y="464.28" font-size="4.75" text-anchor="start" stroke="#444" stroke-width="0.16" fill="#444">Malignant</text>
<circle cx="169.5" cy="468.72" r="1.6" fill="#5a2ea6"/>
<text x="173.6" y="470.42" font-size="4.75" text-anchor="start" stroke="#444" stroke-width="0.16" fill="#444">Mast</text>
<circle cx="169.5" cy="474.86" r="1.6" fill="#ee5a5a"/>
<text x="173.6" y="476.56" font-size="4.75" text-anchor="start" stroke="#444" stroke-width="0.16" fill="#444">Mono/Macro</text>
<circle cx="169.5" cy="481" r="1.6" fill="#a8b59a"/>
<text x="173.6" y="482.7" font-size="4.75" text-anchor="start" stroke="#444" stroke-width="0.16" fill="#444">Myofibroblasts</text>
<circle cx="169.5" cy="487.14" r="1.6" fill="#c3c22b"/>
<text x="173.6" y="488.84" font-size="4.75" text-anchor="start" stroke="#444" stroke-width="0.16" fill="#444">Plasma</text>
<circle cx="169.5" cy="493.28" r="1.6" fill="#b25ab8"/>
<text x="173.6" y="494.98" font-size="4.75" text-anchor="start" stroke="#444" stroke-width="0.16" fill="#444">Tprolif</text>
<text x="167" y="574.1" font-size="5.2" text-anchor="start" stroke="#444" stroke-width="0.16" fill="#444" textLength="51.9" lengthAdjust="spacingAndGlyphs">Cell type (major-lineage)</text>
<circle cx="169.5" cy="579.3" r="1.6" fill="#e07a1f"/>
<text x="173.6" y="581" font-size="4.75" text-anchor="start" stroke="#444" stroke-width="0.16" fill="#444">B</text>
<circle cx="169.5" cy="585.44" r="1.6" fill="#5a5ec4"/>
<text x="173.6" y="587.14" font-size="4.75" text-anchor="start" stroke="#444" stroke-width="0.16" fill="#444">CD4Tconv</text>
<circle cx="169.5" cy="591.58" r="1.6" fill="#3cbfa4"/>
<text x="173.6" y="593.28" font-size="4.75" text-anchor="start" stroke="#444" stroke-width="0.16" fill="#444">CD8Tex</text>
<circle cx="169.5" cy="597.72" r="1.6" fill="#8cc63f"/>
<text x="173.6" y="599.42" font-size="4.75" text-anchor="start" stroke="#444" stroke-width="0.16" fill="#444">Endothelial</text>
<circle cx="169.5" cy="603.86" r="1.6" fill="#d652c0"/>
<text x="173.6" y="605.56" font-size="4.75" text-anchor="start" stroke="#444" stroke-width="0.16" fill="#444">Enteric glial</text>
<circle cx="169.5" cy="610" r="1.6" fill="#1f6f5c"/>
<text x="173.6" y="611.7" font-size="4.75" text-anchor="start" stroke="#444" stroke-width="0.16" fill="#444">Epithelial</text>
<circle cx="169.5" cy="616.14" r="1.6" fill="#e8a317"/>
<text x="173.6" y="617.84" font-size="4.75" text-anchor="start" stroke="#444" stroke-width="0.16" fill="#444">Fibroblasts</text>
<circle cx="169.5" cy="622.28" r="1.6" fill="#2f8fd8"/>
<text x="173.6" y="623.98" font-size="4.75" text-anchor="start" stroke="#444" stroke-width="0.16" fill="#444">Malignant</text>
<circle cx="169.5" cy="628.42" r="1.6" fill="#5a2ea6"/>
<text x="173.6" y="630.12" font-size="4.75" text-anchor="start" stroke="#444" stroke-width="0.16" fill="#444">Mast</text>
<circle cx="169.5" cy="634.56" r="1.6" fill="#ee5a5a"/>
<text x="173.6" y="636.26" font-size="4.75" text-anchor="start" stroke="#444" stroke-width="0.16" fill="#444">Mono/Macro</text>
<circle cx="169.5" cy="640.7" r="1.6" fill="#a8b59a"/>
<text x="173.6" y="642.4" font-size="4.75" text-anchor="start" stroke="#444" stroke-width="0.16" fill="#444">Myofibroblasts</text>
<circle cx="169.5" cy="646.84" r="1.6" fill="#c3c22b"/>
<text x="173.6" y="648.54" font-size="4.75" text-anchor="start" stroke="#444" stroke-width="0.16" fill="#444">Plasma</text>
<path d="M236.19,439.27 L239.06,440.24 L242.88,439.27 L246.7,438.3 L249.56,434.42 L252.43,438.3 L260.07,444.12 L265.8,448 L271.53,450.91 L269.62,455.76 L270.57,459.64 L273.15,470.99 L271.53,471.76 L267.71,471.28 L263.89,473.22 L266.75,476.13 L263.89,479.04 L260.45,482.14 L254.34,481.46 L251.95,480.3 L251,476.13 L252.43,472.25 L250.71,464.88 L246.7,463.52 L242.88,461.58 L238.58,456.73 L236.1,452.85 L235.72,445.09 Z" fill="#cfcfcf"/>
<path d="M280.12,415.6 L280.89,416.38 L276.88,422 L277.07,428.6 L276.69,438.3 L274.87,446.06 L272.01,451.88 L268.67,454.98 L262.94,455.27 L258.16,453.82 L254.82,449.94 L251.95,444.12 L250.52,436.36 L249.47,428.6 L252.43,425.69 L258.16,423.26 L262.94,421.13 L268.67,420.35 L273.92,418.9 L275.64,420.45 Z" fill="#cfcfcf"/>
<path d="M237.34,435.58 L240.01,433.45 L242.78,433.74 L243.36,437.33 L241.93,439.27 L238.1,439.75 L237.15,438.3 Z" fill="#cfcfcf"/>
<path d="M239.06,480.3 L241.93,479.04 L244.03,481.46 L242.88,484.86 L244.03,487.09 L241.45,486.31 L239.54,482.92 Z" fill="#cfcfcf"/>
<path d="M251.47,406.29 L254.82,405.81 L255.77,407.75 L254.34,410.17 L253.86,412.59 L251.95,412.11 L251.67,409.2 Z" fill="#cfcfcf"/>
<path d="M281.46,402.12 L282.99,399.01 L285.38,396.88 L289.68,395.13 L295.79,394.16 L304,393.87 L312.6,394.16 L314.5,396.88 L316.89,400.47 L319.28,404.83 L322.14,407.26 L323.77,410.17 L324.06,414.05 L323.1,416.67 L321.19,418.71 L319.28,417.44 L317.94,415.41 L315.46,413.08 L313.36,411.43 L310.69,407.45 L306.87,406.77 L303.52,406.1 L299.23,407.75 L295.79,408.81 L293.11,406.77 L287.96,404.83 L282.7,405.32 Z" fill="#cfcfcf"/>
<path d="M297.7,427.24 L302.09,426.66 L307.82,428.12 L312.6,431.51 L316.41,435.39 L319.28,439.75 L317.85,444.12 L315.94,445.57 L314.5,448.49 L313.36,453.82 L314.03,457.7 L311.35,460.42 L306.2,463.03 L300.94,461.58 L297.03,459.06 L294.45,449.75 L297.03,443.15 L298.27,435.2 L297.03,429.96 Z" fill="#cfcfcf"/>
<path d="M294.45,449.75 L297.03,443.15 L299.23,438.3 L302.09,445.09 L306.87,449.94 L310.69,452.85 L313.36,453.82 L314.03,457.7 L311.35,460.42 L306.2,463.03 L300.94,461.58 L297.03,459.06 Z" fill="#cfcfcf"/>
<path d="M290.63,458.19 L292.54,457.21 L297.03,459.15 L297.03,460.61 L292.54,460.8 L290.63,460.12 Z" fill="#cfcfcf"/>
<path d="M340.29,417.35 L342.2,419.87 L345.06,420.84 L347.45,420.35 L348.5,423.75 L346.98,426.66 L348.5,429.57 L346.02,433.26 L343.15,430.54 L340.29,432 L337.42,429.57 L339.34,426.66 L337.9,423.75 L340.29,421.81 Z" fill="#cfcfcf"/>
<path d="M341.53,444.12 L343.35,444.31 L344.87,448.97 L346.78,444.12 L348.31,444.41 L346.98,449.94 L345.83,454.6 L344.11,454.11 Z" fill="#cfcfcf"/>
<path d="M323.77,465.27 L325.01,464.78 L328.64,467.21 L328.64,468.56 L326.44,467.98 L324.06,466.62 Z" fill="#cfcfcf"/>
<path d="M295.21,480.01 L296.84,478.36 L299.7,478.26 L302.09,479.52 L304,481.46 L305.91,480.98 L308.77,481.46 L312.12,482.92 L314.03,485.34 L313.55,488.25 L310.69,488.74 L307.82,487.77 L305.43,489.22 L304.38,490.39 L303.05,488.74 L300.66,487.28 L297.79,486.31 L295.88,484.38 Z" fill="#cfcfcf"/>
<path d="M297.7,494.75 L301.13,492.62 L304,490.19 L306.2,490.19 L304.95,492.13 L302.09,493.78 L299.23,495.34 Z" fill="#cfcfcf"/>
<path d="M329.78,482.44 L332.65,483.4 L337.14,484.38 L335.51,485.64 L332.65,485.83 L331.22,487.77 L330.45,489.71 L329.78,487.77 L330.74,485.34 L329.59,483.4 Z" fill="#cfcfcf"/>
<path d="M276.21,503.29 L278.22,499.99 L282.03,499.41 L285.86,500.38 L287.19,502.81 L284.9,506.2 L282.03,508.04 L279.17,506.69 L276.31,504.75 Z" fill="#cfcfcf"/>
<path d="M278.69,490.19 L280.6,490 L281.08,491.65 L279.93,492.13 L279.93,499.41 L278.79,499.41 Z" fill="#cfcfcf"/>
<path d="M307.96,551.37 L310.04,550.99 L311.17,552.92 L310.51,554.67 L308.62,554.38 Z" fill="#cfcfcf"/>
<path d="M281.24,560.59 L284.08,561.17 L285.96,563.11 L288.8,564.56 L291.44,565.53 L288.8,567.48 L287.85,569.22 L288.42,574.17 L285.96,577.17 L283.6,579.12 L280.3,578.14 L277.66,577.85 L275.58,580.09 L273.41,581.54 L274.16,577.66 L274.07,572.81 L274.64,566.7 L276.52,563.11 L278.88,561.17 Z" fill="#cfcfcf"/>
<path d="M319,569.22 L321.84,568.74 L323.91,569.9 L323.44,571.84 L321.36,572.81 L319.48,574.75 L318.25,576.5 L320.42,579.6 L322.12,584.45 L321.84,590.27 L319.48,594.15 L317.02,595.12 L313.81,593.18 L312.4,589.3 L312.87,584.45 L314.76,580.57 L316.64,576.69 L317.59,572.81 L318.06,570.38 Z" fill="#cfcfcf"/>
<path d="M286.72,599 L288.32,593.18 L290.68,589.78 L294.46,587.85 L298.24,587.07 L301.07,587.85 L304.75,589.78 L301.07,590.08 L297.29,590.75 L294.93,593.18 L293.99,599 L291.63,602.88 L288.32,604.34 L286.91,602.39 Z" fill="#cfcfcf"/>
<path d="M333.73,599.97 L335.05,597.84 L338.83,597.25 L342.6,597.64 L345.91,599 L347.89,601.42 L348.27,604.82 L346.85,606.27 L345.44,603.85 L342.6,601.91 L339.77,602.39 L336.94,602.88 L334.58,602.39 Z" fill="#cfcfcf"/>
<path d="M305.41,610.64 L306.73,608.22 L309.56,607.63 L313.34,608.02 L317.12,608.7 L319.57,611.61 L318.53,614.52 L316.64,615.49 L315.23,618.4 L313.34,622.28 L311.45,623.44 L309.09,621.31 L308.15,617.43 L306.26,614.52 Z" fill="#cfcfcf"/>
<path d="M323.72,652.35 L326.56,648.95 L330.33,645.56 L333.16,642.65 L336,641.68 L339.77,642.16 L342.6,644.59 L344.11,649.44 L343.08,655.26 L341.19,660.11 L337.88,663.41 L335.05,661.08 L333.16,656.23 L329.39,653.8 Z" fill="#cfcfcf"/>
<path d="M333.64,615.98 L336.94,615.49 L341.19,616.94 L342.6,619.37 L345.44,619.86 L349.97,620.82 L349.68,623.74 L343.55,629.07 L338.83,633.92 L335.52,638.77 L333.64,639.74 L333.16,635.86 L336,631.01 L337.88,626.16 L335.05,623.25 L333.64,619.86 Z" fill="#cfcfcf"/>
<path d="M345.44,606.27 L346.95,606.76 L344.11,616.27 L342.6,615.88 Z" fill="#cfcfcf"/>
<path d="M316.17,637.02 L318.53,635.76 L320.89,637.02 L318.53,638.28 Z" fill="#cfcfcf"/>
<path d="M256.04,607.05 L257.64,606.57 L259.06,610.64 L261.42,614.52 L263.78,618.4 L265.67,624.22 L265.67,627.42 L263.31,627.13 L261.42,623.25 L259.53,619.37 L258.12,615.49 L256.7,611.61 Z" fill="#cfcfcf"/>
<path d="M235.55,618.4 L236.88,615.49 L239.71,615 L242.54,615.98 L245.37,614.42 L248.68,615 L250.56,617.43 L250.09,621.31 L248.2,623.74 L245.37,623.25 L242.54,623.54 L238.76,623.74 L236.4,621.79 Z" fill="#cfcfcf"/>
<path d="M265.01,607.73 L267.08,605.6 L270.86,605.21 L274.64,605.79 L277.47,607.73 L277.66,611.61 L276.05,615 L272.75,616.27 L268.97,615.68 L266.14,613.06 Z" fill="#cfcfcf"/>
<path d="M259.53,644.59 L261.42,644.11 L263.31,646.53 L266.14,648.47 L268.59,650.41 L268.03,654.29 L266.14,657.2 L262.36,658.17 L259.06,656.23 L258.4,652.35 L259.53,648.47 Z" fill="#cfcfcf"/>
<path d="M282.66,627.62 L284.55,627.91 L285.02,631.01 L283.6,631.98 Z" fill="#cfcfcf"/>
<path d="M282.19,642.65 L283.13,637.8 L285.96,633.92 L289.74,631.01 L294.46,630.04 L299.18,630.52 L302.01,633.92 L303.52,639.74 L302.96,645.56 L301.07,649.44 L297.29,651.96 L292.57,649.44 L288.8,647.5 L285.02,646.53 L282.66,645.07 Z" fill="#cfcfcf"/>
<path d="M285.49,648.47 L288.8,647.99 L292.57,649.44 L297.29,651.38 L301.07,648.47 L302.2,652.35 L301.07,656.23 L297.29,657.88 L292.57,657.68 L288.8,655.75 L285.96,652.35 Z" fill="#cfcfcf"/>
<path d="M243.84,444.12 L247.66,441.69 L251,442.66 L252.91,448 L252.43,453.33 L250.04,457.21 L247.18,453.82 L244.98,448.97 Z" fill="#ffffff" fill-opacity="0.6"/>
<g fill="#ffffff" fill-opacity="0.6"><rect x="253.4" y="446.05" width="0.9" height="0.9"/><rect x="240.03" y="458.2" width="0.9" height="0.9"/><rect x="248.25" y="452.33" width="0.9" height="0.9"/><rect x="236.63" y="441.33" width="0.9" height="0.9"/><rect x="255.79" y="476.94" width="0.9" height="0.9"/><rect x="254.4" y="444.75" width="0.9" height="0.9"/><rect x="266.25" y="460.27" width="0.9" height="0.9"/><rect x="266.64" y="453.09" width="0.9" height="0.9"/><rect x="259.91" y="459.03" width="0.9" height="0.9"/><rect x="244.95" y="453.26" width="0.9" height="0.9"/><rect x="252.31" y="450.12" width="0.9" height="0.9"/><rect x="260.57" y="463.3" width="0.9" height="0.9"/><rect x="268.18" y="469.82" width="0.9" height="0.9"/><rect x="249.01" y="453.82" width="0.9" height="0.9"/><rect x="242.29" y="439.46" width="0.9" height="0.9"/><rect x="258.67" y="443.83" width="0.9" height="0.9"/><rect x="270.29" y="464.27" width="0.9" height="0.9"/><rect x="266.58" y="460.72" width="0.9" height="0.9"/><rect x="243.3" y="456.3" width="0.9" height="0.9"/><rect x="270.06" y="457.64" width="0.9" height="0.9"/><rect x="260.61" y="477.14" width="0.9" height="0.9"/><rect x="265.13" y="448.63" width="0.9" height="0.9"/><rect x="263.96" y="458.63" width="0.9" height="0.9"/><rect x="256.11" y="464.94" width="0.9" height="0.9"/><rect x="250.97" y="449.23" width="0.9" height="0.9"/><rect x="244.43" y="448.64" width="0.9" height="0.9"/><rect x="243.5" y="460.6" width="0.9" height="0.9"/><rect x="266.22" y="463.63" width="0.9" height="0.9"/><rect x="251.34" y="448.5" width="0.9" height="0.9"/><rect x="241.15" y="452.64" width="0.9" height="0.9"/></g>
<g fill="#ffffff" fill-opacity="0.6"><rect x="251.05" y="428.67" width="0.9" height="0.9"/><rect x="266.2" y="446.75" width="0.9" height="0.9"/><rect x="259.82" y="448.06" width="0.9" height="0.9"/><rect x="255.05" y="436.22" width="0.9" height="0.9"/><rect x="254.14" y="429.25" width="0.9" height="0.9"/><rect x="256.44" y="439.53" width="0.9" height="0.9"/><rect x="264.5" y="427.26" width="0.9" height="0.9"/><rect x="252.16" y="429.03" width="0.9" height="0.9"/><rect x="254" y="434.44" width="0.9" height="0.9"/><rect x="269.95" y="437.81" width="0.9" height="0.9"/><rect x="255.52" y="449.87" width="0.9" height="0.9"/><rect x="266.18" y="455.1" width="0.9" height="0.9"/><rect x="259.08" y="423.33" width="0.9" height="0.9"/><rect x="266.03" y="453.94" width="0.9" height="0.9"/><rect x="270.55" y="448.16" width="0.9" height="0.9"/><rect x="271.58" y="451.06" width="0.9" height="0.9"/><rect x="273.57" y="430.67" width="0.9" height="0.9"/><rect x="256.64" y="445.57" width="0.9" height="0.9"/><rect x="271.03" y="437.79" width="0.9" height="0.9"/><rect x="261.99" y="448.4" width="0.9" height="0.9"/><rect x="265.57" y="430.9" width="0.9" height="0.9"/><rect x="267.92" y="445.78" width="0.9" height="0.9"/><rect x="267.5" y="445.85" width="0.9" height="0.9"/><rect x="261.6" y="450.96" width="0.9" height="0.9"/><rect x="267.83" y="422.05" width="0.9" height="0.9"/><rect x="263.85" y="443.59" width="0.9" height="0.9"/><rect x="273.98" y="420.24" width="0.9" height="0.9"/><rect x="273.2" y="440.93" width="0.9" height="0.9"/><rect x="269.38" y="450.86" width="0.9" height="0.9"/><rect x="258.82" y="428.35" width="0.9" height="0.9"/></g>
<g fill="#ffffff" fill-opacity="0.6"><rect x="314.44" y="412.04" width="0.9" height="0.9"/><rect x="282.61" y="404.7" width="0.9" height="0.9"/><rect x="304.59" y="401.21" width="0.9" height="0.9"/><rect x="297.33" y="402.95" width="0.9" height="0.9"/><rect x="305.47" y="393.96" width="0.9" height="0.9"/><rect x="307.81" y="404.49" width="0.9" height="0.9"/><rect x="293.36" y="399.61" width="0.9" height="0.9"/><rect x="319.57" y="417.56" width="0.9" height="0.9"/><rect x="315.95" y="410.37" width="0.9" height="0.9"/><rect x="307.57" y="405.1" width="0.9" height="0.9"/><rect x="313.82" y="403.9" width="0.9" height="0.9"/><rect x="319.95" y="414.04" width="0.9" height="0.9"/><rect x="290.74" y="395.74" width="0.9" height="0.9"/><rect x="319.64" y="408.23" width="0.9" height="0.9"/><rect x="299.63" y="400.81" width="0.9" height="0.9"/><rect x="313.6" y="406.26" width="0.9" height="0.9"/><rect x="299.92" y="406.73" width="0.9" height="0.9"/><rect x="299.83" y="395.01" width="0.9" height="0.9"/><rect x="316.28" y="408.06" width="0.9" height="0.9"/><rect x="299.14" y="395.87" width="0.9" height="0.9"/><rect x="309.57" y="403.99" width="0.9" height="0.9"/><rect x="297.96" y="402.17" width="0.9" height="0.9"/><rect x="301.53" y="394.97" width="0.9" height="0.9"/><rect x="303.13" y="402.38" width="0.9" height="0.9"/><rect x="302.66" y="397.59" width="0.9" height="0.9"/><rect x="284.99" y="401.72" width="0.9" height="0.9"/><rect x="315.17" y="405.5" width="0.9" height="0.9"/><rect x="313.22" y="401.84" width="0.9" height="0.9"/><rect x="305.25" y="394.05" width="0.9" height="0.9"/><rect x="296.28" y="407.02" width="0.9" height="0.9"/></g>
<g fill="#ffffff" fill-opacity="0.6"><rect x="300.76" y="439.39" width="0.9" height="0.9"/><rect x="306.99" y="437.71" width="0.9" height="0.9"/><rect x="311.42" y="432.17" width="0.9" height="0.9"/><rect x="306.73" y="428.29" width="0.9" height="0.9"/><rect x="311.37" y="444.5" width="0.9" height="0.9"/><rect x="298.79" y="452.61" width="0.9" height="0.9"/><rect x="307.15" y="450.62" width="0.9" height="0.9"/><rect x="312.06" y="454.67" width="0.9" height="0.9"/><rect x="305.84" y="436.34" width="0.9" height="0.9"/><rect x="304.02" y="453.23" width="0.9" height="0.9"/><rect x="296.44" y="452.11" width="0.9" height="0.9"/><rect x="298.66" y="435.29" width="0.9" height="0.9"/><rect x="294.85" y="449.6" width="0.9" height="0.9"/><rect x="304.33" y="435.64" width="0.9" height="0.9"/><rect x="307.65" y="436.9" width="0.9" height="0.9"/><rect x="302.09" y="431.29" width="0.9" height="0.9"/><rect x="303.41" y="427.44" width="0.9" height="0.9"/><rect x="309.14" y="430.32" width="0.9" height="0.9"/><rect x="313.54" y="456.59" width="0.9" height="0.9"/><rect x="309.23" y="431.77" width="0.9" height="0.9"/><rect x="303.43" y="455.01" width="0.9" height="0.9"/><rect x="299.39" y="441.79" width="0.9" height="0.9"/><rect x="300.55" y="453.66" width="0.9" height="0.9"/><rect x="314.3" y="446.54" width="0.9" height="0.9"/><rect x="305.52" y="457.15" width="0.9" height="0.9"/><rect x="310.94" y="443.72" width="0.9" height="0.9"/><rect x="308.27" y="457.1" width="0.9" height="0.9"/><rect x="315.11" y="434.71" width="0.9" height="0.9"/><rect x="314.82" y="446.14" width="0.9" height="0.9"/><rect x="298.2" y="457.81" width="0.9" height="0.9"/></g>
<g fill="#ffffff" fill-opacity="0.6"><rect x="279" y="568.02" width="0.9" height="0.9"/><rect x="286.1" y="570.45" width="0.9" height="0.9"/><rect x="287.76" y="572.51" width="0.9" height="0.9"/><rect x="281.69" y="570.51" width="0.9" height="0.9"/><rect x="278.46" y="565.14" width="0.9" height="0.9"/><rect x="287.45" y="571.28" width="0.9" height="0.9"/><rect x="277.25" y="575.15" width="0.9" height="0.9"/><rect x="277.18" y="576.25" width="0.9" height="0.9"/><rect x="283.75" y="564.11" width="0.9" height="0.9"/><rect x="282.9" y="572.8" width="0.9" height="0.9"/><rect x="280.61" y="569.65" width="0.9" height="0.9"/><rect x="285.37" y="569.72" width="0.9" height="0.9"/><rect x="273.82" y="580.02" width="0.9" height="0.9"/><rect x="279.66" y="563.39" width="0.9" height="0.9"/></g>
<g fill="#ffffff" fill-opacity="0.6"><rect x="321.31" y="588.04" width="0.9" height="0.9"/><rect x="316.24" y="586.98" width="0.9" height="0.9"/><rect x="314.39" y="590.79" width="0.9" height="0.9"/><rect x="316.69" y="578.38" width="0.9" height="0.9"/><rect x="318.29" y="582.8" width="0.9" height="0.9"/><rect x="313.22" y="587.99" width="0.9" height="0.9"/><rect x="317.42" y="592.44" width="0.9" height="0.9"/><rect x="315.63" y="594.16" width="0.9" height="0.9"/><rect x="315.61" y="590.06" width="0.9" height="0.9"/><rect x="323.12" y="570.26" width="0.9" height="0.9"/><rect x="321.39" y="571.88" width="0.9" height="0.9"/><rect x="319.52" y="580.02" width="0.9" height="0.9"/><rect x="318.01" y="583.51" width="0.9" height="0.9"/><rect x="317.14" y="585.7" width="0.9" height="0.9"/></g>
<g fill="#ffffff" fill-opacity="0.6"><rect x="288.03" y="597.85" width="0.9" height="0.9"/><rect x="288.57" y="594.62" width="0.9" height="0.9"/><rect x="289.21" y="599.7" width="0.9" height="0.9"/><rect x="290.86" y="592.83" width="0.9" height="0.9"/><rect x="295.18" y="591.61" width="0.9" height="0.9"/><rect x="291.16" y="598.14" width="0.9" height="0.9"/><rect x="296.83" y="588.67" width="0.9" height="0.9"/><rect x="290.84" y="594.98" width="0.9" height="0.9"/><rect x="292.77" y="589.15" width="0.9" height="0.9"/><rect x="298.69" y="589.05" width="0.9" height="0.9"/><rect x="289.6" y="600.25" width="0.9" height="0.9"/><rect x="294.61" y="593.71" width="0.9" height="0.9"/><rect x="291.1" y="595.49" width="0.9" height="0.9"/><rect x="292.19" y="601.93" width="0.9" height="0.9"/></g>
<g fill="#ffffff" fill-opacity="0.6"><rect x="341.81" y="644.98" width="0.9" height="0.9"/><rect x="337.01" y="643.08" width="0.9" height="0.9"/><rect x="336.19" y="649.58" width="0.9" height="0.9"/><rect x="338.19" y="647.45" width="0.9" height="0.9"/><rect x="336.47" y="657.84" width="0.9" height="0.9"/><rect x="334.41" y="653.9" width="0.9" height="0.9"/><rect x="327.49" y="653.14" width="0.9" height="0.9"/><rect x="336.85" y="652.21" width="0.9" height="0.9"/><rect x="339.73" y="656.94" width="0.9" height="0.9"/><rect x="330.37" y="647.26" width="0.9" height="0.9"/><rect x="339.09" y="652.28" width="0.9" height="0.9"/><rect x="336.54" y="659.43" width="0.9" height="0.9"/><rect x="334.81" y="658.25" width="0.9" height="0.9"/><rect x="337.92" y="651.68" width="0.9" height="0.9"/></g>
<g fill="#ffffff" fill-opacity="0.6"><rect x="284.34" y="638.79" width="0.9" height="0.9"/><rect x="294.8" y="645.11" width="0.9" height="0.9"/><rect x="288.4" y="646.85" width="0.9" height="0.9"/><rect x="284.93" y="642.45" width="0.9" height="0.9"/><rect x="294.3" y="647.23" width="0.9" height="0.9"/><rect x="297.22" y="644.46" width="0.9" height="0.9"/><rect x="300.98" y="637.06" width="0.9" height="0.9"/><rect x="292.99" y="648.73" width="0.9" height="0.9"/><rect x="284.16" y="638.36" width="0.9" height="0.9"/><rect x="293.01" y="631.78" width="0.9" height="0.9"/><rect x="291.44" y="641.2" width="0.9" height="0.9"/><rect x="292.57" y="646.19" width="0.9" height="0.9"/><rect x="282.81" y="642.27" width="0.9" height="0.9"/><rect x="297.25" y="644.35" width="0.9" height="0.9"/></g>
<path d="M396.19,439.27 L399.06,440.24 L402.88,439.27 L406.7,438.3 L409.56,434.42 L412.43,438.3 L420.07,444.12 L425.8,448 L431.53,450.91 L429.62,455.76 L430.57,459.64 L433.15,470.99 L431.53,471.76 L427.71,471.28 L423.89,473.22 L426.75,476.13 L423.89,479.04 L420.45,482.14 L414.34,481.46 L411.95,480.3 L411,476.13 L412.43,472.25 L410.71,464.88 L406.7,463.52 L402.88,461.58 L398.58,456.73 L396.1,452.85 L395.72,445.09 Z" fill="#cfcfcf"/>
<path d="M440.12,415.6 L440.89,416.38 L436.88,422 L437.07,428.6 L436.69,438.3 L434.87,446.06 L432.01,451.88 L428.67,454.98 L422.94,455.27 L418.16,453.82 L414.82,449.94 L411.95,444.12 L410.52,436.36 L409.47,428.6 L412.43,425.69 L418.16,423.26 L422.94,421.13 L428.67,420.35 L433.92,418.9 L435.64,420.45 Z" fill="#cfcfcf"/>
<path d="M397.34,435.58 L400.01,433.45 L402.78,433.74 L403.36,437.33 L401.93,439.27 L398.11,439.75 L397.15,438.3 Z" fill="#cfcfcf"/>
<path d="M399.06,480.3 L401.93,479.04 L404.03,481.46 L402.88,484.86 L404.03,487.09 L401.45,486.31 L399.54,482.92 Z" fill="#cfcfcf"/>
<path d="M411.48,406.29 L414.82,405.81 L415.77,407.75 L414.34,410.17 L413.86,412.59 L411.95,412.11 L411.67,409.2 Z" fill="#cfcfcf"/>
<path d="M441.46,402.12 L442.99,399.01 L445.38,396.88 L449.68,395.13 L455.79,394.16 L464,393.87 L472.6,394.16 L474.5,396.88 L476.89,400.47 L479.28,404.83 L482.14,407.26 L483.77,410.17 L484.06,414.05 L483.1,416.67 L481.19,418.71 L479.28,417.44 L477.94,415.41 L475.46,413.08 L473.36,411.43 L470.69,407.45 L466.87,406.77 L463.52,406.1 L459.23,407.75 L455.79,408.81 L453.11,406.77 L447.96,404.83 L442.7,405.32 Z" fill="#cfcfcf"/>
<path d="M457.7,427.24 L462.09,426.66 L467.82,428.12 L472.6,431.51 L476.41,435.39 L479.28,439.75 L477.85,444.12 L475.94,445.57 L474.5,448.49 L473.36,453.82 L474.03,457.7 L471.35,460.42 L466.2,463.03 L460.94,461.58 L457.03,459.06 L454.45,449.75 L457.03,443.15 L458.27,435.2 L457.03,429.96 Z" fill="#cfcfcf"/>
<path d="M454.45,449.75 L457.03,443.15 L459.23,438.3 L462.09,445.09 L466.87,449.94 L470.69,452.85 L473.36,453.82 L474.03,457.7 L471.35,460.42 L466.2,463.03 L460.94,461.58 L457.03,459.06 Z" fill="#cfcfcf"/>
<path d="M450.63,458.19 L452.54,457.21 L457.03,459.15 L457.03,460.61 L452.54,460.8 L450.63,460.12 Z" fill="#cfcfcf"/>
<path d="M500.29,417.35 L502.2,419.87 L505.06,420.84 L507.45,420.35 L508.5,423.75 L506.98,426.66 L508.5,429.57 L506.02,433.26 L503.15,430.54 L500.29,432 L497.42,429.57 L499.34,426.66 L497.9,423.75 L500.29,421.81 Z" fill="#cfcfcf"/>
<path d="M501.53,444.12 L503.35,444.31 L504.87,448.97 L506.78,444.12 L508.31,444.41 L506.98,449.94 L505.83,454.6 L504.11,454.11 Z" fill="#cfcfcf"/>
<path d="M483.77,465.27 L485.01,464.78 L488.64,467.21 L488.64,468.56 L486.44,467.98 L484.06,466.62 Z" fill="#cfcfcf"/>
<path d="M455.21,480.01 L456.84,478.36 L459.7,478.26 L462.09,479.52 L464,481.46 L465.91,480.98 L468.77,481.46 L472.12,482.92 L474.03,485.34 L473.55,488.25 L470.69,488.74 L467.82,487.77 L465.43,489.22 L464.38,490.39 L463.05,488.74 L460.66,487.28 L457.79,486.31 L455.88,484.38 Z" fill="#cfcfcf"/>
<path d="M457.7,494.75 L461.13,492.62 L464,490.19 L466.2,490.19 L464.95,492.13 L462.09,493.78 L459.23,495.34 Z" fill="#cfcfcf"/>
<path d="M489.78,482.44 L492.65,483.4 L497.14,484.38 L495.51,485.64 L492.65,485.83 L491.22,487.77 L490.45,489.71 L489.78,487.77 L490.74,485.34 L489.59,483.4 Z" fill="#cfcfcf"/>
<path d="M436.21,503.29 L438.22,499.99 L442.03,499.41 L445.86,500.38 L447.19,502.81 L444.9,506.2 L442.03,508.04 L439.17,506.69 L436.31,504.75 Z" fill="#cfcfcf"/>
<path d="M438.69,490.19 L440.6,490 L441.08,491.65 L439.93,492.13 L439.93,499.41 L438.79,499.41 Z" fill="#cfcfcf"/>
<path d="M467.96,551.37 L470.04,550.99 L471.17,552.92 L470.51,554.67 L468.62,554.38 Z" fill="#cfcfcf"/>
<path d="M441.24,560.59 L444.08,561.17 L445.96,563.11 L448.8,564.56 L451.44,565.53 L448.8,567.48 L447.85,569.22 L448.42,574.17 L445.96,577.17 L443.6,579.12 L440.3,578.14 L437.66,577.85 L435.58,580.09 L433.41,581.54 L434.16,577.66 L434.07,572.81 L434.64,566.7 L436.52,563.11 L438.88,561.17 Z" fill="#cfcfcf"/>
<path d="M479,569.22 L481.84,568.74 L483.91,569.9 L483.44,571.84 L481.36,572.81 L479.48,574.75 L478.25,576.5 L480.42,579.6 L482.12,584.45 L481.84,590.27 L479.48,594.15 L477.02,595.12 L473.81,593.18 L472.4,589.3 L472.87,584.45 L474.76,580.57 L476.64,576.69 L477.59,572.81 L478.06,570.38 Z" fill="#cfcfcf"/>
<path d="M446.72,599 L448.32,593.18 L450.68,589.78 L454.46,587.85 L458.24,587.07 L461.07,587.85 L464.75,589.78 L461.07,590.08 L457.29,590.75 L454.93,593.18 L453.99,599 L451.63,602.88 L448.32,604.34 L446.91,602.39 Z" fill="#cfcfcf"/>
<path d="M493.73,599.97 L495.05,597.84 L498.83,597.25 L502.6,597.64 L505.91,599 L507.89,601.42 L508.27,604.82 L506.85,606.27 L505.44,603.85 L502.6,601.91 L499.77,602.39 L496.94,602.88 L494.58,602.39 Z" fill="#cfcfcf"/>
<path d="M465.41,610.64 L466.73,608.22 L469.56,607.63 L473.34,608.02 L477.12,608.7 L479.57,611.61 L478.53,614.52 L476.64,615.49 L475.23,618.4 L473.34,622.28 L471.45,623.44 L469.09,621.31 L468.15,617.43 L466.26,614.52 Z" fill="#cfcfcf"/>
<path d="M483.72,652.35 L486.56,648.95 L490.33,645.56 L493.16,642.65 L496,641.68 L499.77,642.16 L502.6,644.59 L504.11,649.44 L503.08,655.26 L501.19,660.11 L497.88,663.41 L495.05,661.08 L493.16,656.23 L489.39,653.8 Z" fill="#cfcfcf"/>
<path d="M493.64,615.98 L496.94,615.49 L501.19,616.94 L502.6,619.37 L505.44,619.86 L509.97,620.82 L509.68,623.74 L503.55,629.07 L498.83,633.92 L495.52,638.77 L493.64,639.74 L493.16,635.86 L496,631.01 L497.88,626.16 L495.05,623.25 L493.64,619.86 Z" fill="#cfcfcf"/>
<path d="M505.44,606.27 L506.95,606.76 L504.11,616.27 L502.6,615.88 Z" fill="#cfcfcf"/>
<path d="M476.17,637.02 L478.53,635.76 L480.89,637.02 L478.53,638.28 Z" fill="#cfcfcf"/>
<path d="M416.04,607.05 L417.64,606.57 L419.06,610.64 L421.42,614.52 L423.78,618.4 L425.67,624.22 L425.67,627.42 L423.31,627.13 L421.42,623.25 L419.53,619.37 L418.12,615.49 L416.7,611.61 Z" fill="#cfcfcf"/>
<path d="M395.55,618.4 L396.88,615.49 L399.71,615 L402.54,615.98 L405.37,614.42 L408.68,615 L410.56,617.43 L410.09,621.31 L408.2,623.74 L405.37,623.25 L402.54,623.54 L398.76,623.74 L396.4,621.79 Z" fill="#cfcfcf"/>
<path d="M425.01,607.73 L427.08,605.6 L430.86,605.21 L434.64,605.79 L437.47,607.73 L437.66,611.61 L436.05,615 L432.75,616.27 L428.97,615.68 L426.14,613.06 Z" fill="#cfcfcf"/>
<path d="M419.53,644.59 L421.42,644.11 L423.31,646.53 L426.14,648.47 L428.59,650.41 L428.03,654.29 L426.14,657.2 L422.36,658.17 L419.06,656.23 L418.4,652.35 L419.53,648.47 Z" fill="#cfcfcf"/>
<path d="M442.66,627.62 L444.55,627.91 L445.02,631.01 L443.6,631.98 Z" fill="#cfcfcf"/>
<path d="M442.19,642.65 L443.13,637.8 L445.96,633.92 L449.74,631.01 L454.46,630.04 L459.18,630.52 L462.01,633.92 L463.52,639.74 L462.96,645.56 L461.07,649.44 L457.29,651.96 L452.57,649.44 L448.8,647.5 L445.02,646.53 L442.66,645.07 Z" fill="#cfcfcf"/>
<path d="M445.49,648.47 L448.8,647.99 L452.57,649.44 L457.29,651.38 L461.07,648.47 L462.2,652.35 L461.07,656.23 L457.29,657.88 L452.57,657.68 L448.8,655.75 L445.96,652.35 Z" fill="#cfcfcf"/>
<path d="M403.83,444.12 L407.65,441.69 L411,442.66 L412.91,448 L412.43,453.33 L410.04,457.21 L407.18,453.82 L404.98,448.97 Z" fill="#ffffff" fill-opacity="0.6"/>
<g fill="#ffffff" fill-opacity="0.6"><rect x="418.76" y="452.2" width="0.9" height="0.9"/><rect x="410.84" y="450.75" width="0.9" height="0.9"/><rect x="401.21" y="447.52" width="0.9" height="0.9"/><rect x="408.54" y="452.68" width="0.9" height="0.9"/><rect x="428.18" y="470.31" width="0.9" height="0.9"/><rect x="424.39" y="475.57" width="0.9" height="0.9"/><rect x="407.28" y="440.62" width="0.9" height="0.9"/><rect x="429.69" y="470.34" width="0.9" height="0.9"/><rect x="428.36" y="450.12" width="0.9" height="0.9"/><rect x="409.33" y="448.61" width="0.9" height="0.9"/><rect x="401.88" y="445.21" width="0.9" height="0.9"/><rect x="411.39" y="466.57" width="0.9" height="0.9"/><rect x="404.83" y="456.03" width="0.9" height="0.9"/><rect x="432.21" y="469.77" width="0.9" height="0.9"/><rect x="415.5" y="465.62" width="0.9" height="0.9"/><rect x="413.23" y="449.49" width="0.9" height="0.9"/><rect x="415.79" y="462.33" width="0.9" height="0.9"/><rect x="408.15" y="447.64" width="0.9" height="0.9"/><rect x="416.6" y="481.16" width="0.9" height="0.9"/><rect x="418.53" y="459.02" width="0.9" height="0.9"/><rect x="416.28" y="458.25" width="0.9" height="0.9"/><rect x="409.24" y="442.11" width="0.9" height="0.9"/><rect x="401.42" y="449.01" width="0.9" height="0.9"/><rect x="415.58" y="448.27" width="0.9" height="0.9"/><rect x="423.11" y="465.41" width="0.9" height="0.9"/><rect x="417.57" y="465.08" width="0.9" height="0.9"/><rect x="401.84" y="450.86" width="0.9" height="0.9"/><rect x="423.36" y="472.3" width="0.9" height="0.9"/><rect x="424.36" y="454.76" width="0.9" height="0.9"/><rect x="401.79" y="456.36" width="0.9" height="0.9"/></g>
<g fill="#ffffff" fill-opacity="0.6"><rect x="412.49" y="444.15" width="0.9" height="0.9"/><rect x="435.78" y="439.9" width="0.9" height="0.9"/><rect x="432.21" y="432.8" width="0.9" height="0.9"/><rect x="430.92" y="427.26" width="0.9" height="0.9"/><rect x="429.83" y="439.2" width="0.9" height="0.9"/><rect x="420.67" y="422.62" width="0.9" height="0.9"/><rect x="429.91" y="431.81" width="0.9" height="0.9"/><rect x="417.88" y="444.26" width="0.9" height="0.9"/><rect x="420.6" y="432.78" width="0.9" height="0.9"/><rect x="434.83" y="432.96" width="0.9" height="0.9"/><rect x="428.59" y="443.86" width="0.9" height="0.9"/><rect x="424.31" y="453.23" width="0.9" height="0.9"/><rect x="424.8" y="423.62" width="0.9" height="0.9"/><rect x="419.13" y="445.81" width="0.9" height="0.9"/><rect x="418.64" y="435.49" width="0.9" height="0.9"/><rect x="423.44" y="449.52" width="0.9" height="0.9"/><rect x="431.21" y="421.02" width="0.9" height="0.9"/><rect x="424.54" y="445.75" width="0.9" height="0.9"/><rect x="428.48" y="452.11" width="0.9" height="0.9"/><rect x="424.04" y="453.25" width="0.9" height="0.9"/><rect x="421.07" y="438.57" width="0.9" height="0.9"/><rect x="429.03" y="429.44" width="0.9" height="0.9"/><rect x="418.27" y="446.6" width="0.9" height="0.9"/><rect x="416.85" y="441.85" width="0.9" height="0.9"/><rect x="418.51" y="427.78" width="0.9" height="0.9"/><rect x="432.74" y="441.74" width="0.9" height="0.9"/><rect x="421.17" y="448.93" width="0.9" height="0.9"/><rect x="428.39" y="426.55" width="0.9" height="0.9"/><rect x="427.95" y="432.83" width="0.9" height="0.9"/><rect x="430.69" y="444.39" width="0.9" height="0.9"/></g>
<g fill="#ffffff" fill-opacity="0.6"><rect x="452.73" y="400.59" width="0.9" height="0.9"/><rect x="479.04" y="413.47" width="0.9" height="0.9"/><rect x="442.57" y="403.47" width="0.9" height="0.9"/><rect x="466.85" y="400.23" width="0.9" height="0.9"/><rect x="482.45" y="416.27" width="0.9" height="0.9"/><rect x="466.48" y="406.2" width="0.9" height="0.9"/><rect x="470.91" y="405.88" width="0.9" height="0.9"/><rect x="466.51" y="404.13" width="0.9" height="0.9"/><rect x="481.17" y="410.54" width="0.9" height="0.9"/><rect x="456.67" y="397.07" width="0.9" height="0.9"/><rect x="472.48" y="404.26" width="0.9" height="0.9"/><rect x="466.04" y="398.17" width="0.9" height="0.9"/><rect x="455.09" y="405.71" width="0.9" height="0.9"/><rect x="446.68" y="398.2" width="0.9" height="0.9"/><rect x="477.85" y="404.2" width="0.9" height="0.9"/><rect x="479.36" y="410.88" width="0.9" height="0.9"/><rect x="470.09" y="406.37" width="0.9" height="0.9"/><rect x="450.42" y="396.02" width="0.9" height="0.9"/><rect x="460.72" y="398.69" width="0.9" height="0.9"/><rect x="476.01" y="409.99" width="0.9" height="0.9"/><rect x="445.93" y="404" width="0.9" height="0.9"/><rect x="463.57" y="405.42" width="0.9" height="0.9"/><rect x="463.89" y="401.3" width="0.9" height="0.9"/><rect x="475.6" y="409.66" width="0.9" height="0.9"/><rect x="476.56" y="409.23" width="0.9" height="0.9"/><rect x="461.02" y="397.92" width="0.9" height="0.9"/><rect x="468.28" y="401.76" width="0.9" height="0.9"/><rect x="472.44" y="395.59" width="0.9" height="0.9"/><rect x="469.99" y="402.66" width="0.9" height="0.9"/><rect x="453.9" y="398.49" width="0.9" height="0.9"/></g>
<g fill="#ffffff" fill-opacity="0.6"><rect x="461.41" y="448.71" width="0.9" height="0.9"/><rect x="472.81" y="433.54" width="0.9" height="0.9"/><rect x="463.24" y="431.84" width="0.9" height="0.9"/><rect x="476.83" y="441.83" width="0.9" height="0.9"/><rect x="473.51" y="444.85" width="0.9" height="0.9"/><rect x="470.07" y="451.54" width="0.9" height="0.9"/><rect x="466.76" y="449.66" width="0.9" height="0.9"/><rect x="457.6" y="448.38" width="0.9" height="0.9"/><rect x="464.36" y="445.01" width="0.9" height="0.9"/><rect x="466.14" y="437.93" width="0.9" height="0.9"/><rect x="456.44" y="453.38" width="0.9" height="0.9"/><rect x="471.71" y="446.6" width="0.9" height="0.9"/><rect x="465.26" y="458.29" width="0.9" height="0.9"/><rect x="469.3" y="451.26" width="0.9" height="0.9"/><rect x="458.43" y="435.66" width="0.9" height="0.9"/><rect x="459.4" y="459.46" width="0.9" height="0.9"/><rect x="472.79" y="447.66" width="0.9" height="0.9"/><rect x="474.31" y="437.84" width="0.9" height="0.9"/><rect x="473.02" y="433.13" width="0.9" height="0.9"/><rect x="471.56" y="436.67" width="0.9" height="0.9"/><rect x="459.97" y="434.08" width="0.9" height="0.9"/><rect x="461.32" y="433.82" width="0.9" height="0.9"/><rect x="469.7" y="452.34" width="0.9" height="0.9"/><rect x="468.71" y="446.2" width="0.9" height="0.9"/><rect x="470.07" y="447.3" width="0.9" height="0.9"/><rect x="462.39" y="430.54" width="0.9" height="0.9"/><rect x="456.64" y="447.47" width="0.9" height="0.9"/><rect x="461.24" y="445.71" width="0.9" height="0.9"/><rect x="472.67" y="440.55" width="0.9" height="0.9"/><rect x="469.59" y="439.8" width="0.9" height="0.9"/></g>
<g fill="#ffffff" fill-opacity="0.6"><rect x="447.87" y="564.25" width="0.9" height="0.9"/><rect x="443.96" y="562.01" width="0.9" height="0.9"/><rect x="439.86" y="575.48" width="0.9" height="0.9"/><rect x="438.87" y="571.68" width="0.9" height="0.9"/><rect x="437.22" y="573.4" width="0.9" height="0.9"/><rect x="434.55" y="568.01" width="0.9" height="0.9"/><rect x="444.34" y="563.32" width="0.9" height="0.9"/><rect x="437.35" y="575.12" width="0.9" height="0.9"/><rect x="438.51" y="574.23" width="0.9" height="0.9"/><rect x="446.38" y="565.68" width="0.9" height="0.9"/><rect x="437.44" y="578" width="0.9" height="0.9"/><rect x="447.33" y="575.26" width="0.9" height="0.9"/><rect x="436.69" y="571.99" width="0.9" height="0.9"/><rect x="438.08" y="568.12" width="0.9" height="0.9"/></g>
<g fill="#ffffff" fill-opacity="0.6"><rect x="475.35" y="588.44" width="0.9" height="0.9"/><rect x="473.42" y="584.02" width="0.9" height="0.9"/><rect x="474.39" y="583.82" width="0.9" height="0.9"/><rect x="479.16" y="581.84" width="0.9" height="0.9"/><rect x="472.57" y="588.17" width="0.9" height="0.9"/><rect x="480.36" y="581.49" width="0.9" height="0.9"/><rect x="479.17" y="579.63" width="0.9" height="0.9"/><rect x="474.06" y="591.16" width="0.9" height="0.9"/><rect x="474.38" y="582.05" width="0.9" height="0.9"/><rect x="478.87" y="584.17" width="0.9" height="0.9"/><rect x="479.04" y="573.3" width="0.9" height="0.9"/><rect x="480.42" y="591.93" width="0.9" height="0.9"/><rect x="476.08" y="581.32" width="0.9" height="0.9"/><rect x="478.92" y="589.25" width="0.9" height="0.9"/></g>
<g fill="#ffffff" fill-opacity="0.6"><rect x="457.72" y="588.92" width="0.9" height="0.9"/><rect x="454.98" y="587.9" width="0.9" height="0.9"/><rect x="454.17" y="597.02" width="0.9" height="0.9"/><rect x="447.54" y="601.85" width="0.9" height="0.9"/><rect x="451.43" y="598.88" width="0.9" height="0.9"/><rect x="455.26" y="589.34" width="0.9" height="0.9"/><rect x="453.19" y="599.92" width="0.9" height="0.9"/><rect x="447.26" y="598.83" width="0.9" height="0.9"/><rect x="450.13" y="600.03" width="0.9" height="0.9"/><rect x="455.95" y="589.73" width="0.9" height="0.9"/><rect x="457.4" y="589.68" width="0.9" height="0.9"/><rect x="447.88" y="601.49" width="0.9" height="0.9"/><rect x="447.83" y="600.22" width="0.9" height="0.9"/><rect x="452.52" y="592.04" width="0.9" height="0.9"/></g>
<g fill="#ffffff" fill-opacity="0.6"><rect x="496.63" y="654.52" width="0.9" height="0.9"/><rect x="490.29" y="652.68" width="0.9" height="0.9"/><rect x="499.67" y="644.41" width="0.9" height="0.9"/><rect x="490.5" y="651.07" width="0.9" height="0.9"/><rect x="502.42" y="650.15" width="0.9" height="0.9"/><rect x="501.26" y="648.71" width="0.9" height="0.9"/><rect x="487.28" y="651.8" width="0.9" height="0.9"/><rect x="497.13" y="651.35" width="0.9" height="0.9"/><rect x="495.97" y="649.52" width="0.9" height="0.9"/><rect x="500.95" y="650.31" width="0.9" height="0.9"/><rect x="499.72" y="654.34" width="0.9" height="0.9"/><rect x="489.55" y="648.08" width="0.9" height="0.9"/><rect x="497.31" y="651.34" width="0.9" height="0.9"/><rect x="497.84" y="645.69" width="0.9" height="0.9"/></g>
<g fill="#ffffff" fill-opacity="0.6"><rect x="455.97" y="641.08" width="0.9" height="0.9"/><rect x="445.18" y="642.12" width="0.9" height="0.9"/><rect x="454.54" y="630.24" width="0.9" height="0.9"/><rect x="445.96" y="646.73" width="0.9" height="0.9"/><rect x="445.16" y="636.18" width="0.9" height="0.9"/><rect x="450.14" y="634.9" width="0.9" height="0.9"/><rect x="458.97" y="639.33" width="0.9" height="0.9"/><rect x="456.54" y="651.18" width="0.9" height="0.9"/><rect x="447.49" y="639.32" width="0.9" height="0.9"/><rect x="457" y="646.41" width="0.9" height="0.9"/><rect x="456.45" y="647.73" width="0.9" height="0.9"/><rect x="452.47" y="630.47" width="0.9" height="0.9"/><rect x="458.52" y="632.89" width="0.9" height="0.9"/><rect x="444.8" y="637.04" width="0.9" height="0.9"/></g>
<g fill="#3a2a96" fill-opacity="0.8"><rect x="340.88" y="424.08" width="1" height="1"/><rect x="346.59" y="423.86" width="1" height="1"/><rect x="345.77" y="425.91" width="1" height="1"/><rect x="341.08" y="429.89" width="1" height="1"/><rect x="340.78" y="424.56" width="1" height="1"/><rect x="338.91" y="423.76" width="1" height="1"/><rect x="345.74" y="421.81" width="1" height="1"/><rect x="348.08" y="428.88" width="1" height="1"/><rect x="343.42" y="421.75" width="1" height="1"/><rect x="344.33" y="429.7" width="1" height="1"/><rect x="344.53" y="430.91" width="1" height="1"/><rect x="343.99" y="421.49" width="1" height="1"/><rect x="346.73" y="425.45" width="1" height="1"/><rect x="343.08" y="429.33" width="1" height="1"/><rect x="339.06" y="430.39" width="1" height="1"/><rect x="344.99" y="429.87" width="1" height="1"/><rect x="339.55" y="430.11" width="1" height="1"/><rect x="346.9" y="431.05" width="1" height="1"/><rect x="347.14" y="424.86" width="1" height="1"/><rect x="344.58" y="428.8" width="1" height="1"/><rect x="346.68" y="421.83" width="1" height="1"/><rect x="339.81" y="427.52" width="1" height="1"/><rect x="346.34" y="432.68" width="1" height="1"/><rect x="339.09" y="425.02" width="1" height="1"/><rect x="347.34" y="424.07" width="1" height="1"/><rect x="344.89" y="431.97" width="1" height="1"/><rect x="346.58" y="431.43" width="1" height="1"/><rect x="344.74" y="421.25" width="1" height="1"/></g>
<g fill="#3a2a96" fill-opacity="0.6"><rect x="343.31" y="447.25" width="0.9" height="0.9"/><rect x="347.05" y="445.08" width="0.9" height="0.9"/><rect x="345.6" y="451.75" width="0.9" height="0.9"/><rect x="342.81" y="444.7" width="0.9" height="0.9"/><rect x="343.4" y="451.01" width="0.9" height="0.9"/><rect x="344.46" y="451.13" width="0.9" height="0.9"/><rect x="344.4" y="450.75" width="0.9" height="0.9"/><rect x="343.88" y="449.47" width="0.9" height="0.9"/></g>
<path d="M440.12,415.6 L440.89,416.38 L436.88,422 L437.07,428.6 L436.69,438.3 L433.44,442.18 L427.71,444.12 L421.98,444.6 L416.25,444.12 L411.95,444.12 L410.52,436.36 L409.47,428.6 L412.43,425.69 L418.16,423.26 L422.94,421.13 L428.67,420.35 L433.92,418.9 L435.64,420.45 Z" fill="#c2bfdb"/>
<g fill="#3a2a96" fill-opacity="0.75"><rect x="434.65" y="432.49" width="0.84" height="0.84"/><rect x="412.43" y="428.16" width="0.84" height="0.84"/><rect x="421.76" y="430.59" width="0.84" height="0.84"/><rect x="423" y="432.62" width="0.84" height="0.84"/><rect x="418.4" y="434.41" width="0.84" height="0.84"/><rect x="431.34" y="424.09" width="0.84" height="0.84"/><rect x="418.85" y="424.71" width="0.84" height="0.84"/><rect x="424.28" y="438.03" width="0.84" height="0.84"/><rect x="430.22" y="442.62" width="0.84" height="0.84"/><rect x="415.98" y="433.88" width="0.84" height="0.84"/><rect x="418.84" y="437.12" width="0.84" height="0.84"/><rect x="432.16" y="421.95" width="0.84" height="0.84"/><rect x="435.54" y="434.68" width="0.84" height="0.84"/><rect x="430.92" y="439.39" width="0.84" height="0.84"/><rect x="422.94" y="437.61" width="0.84" height="0.84"/><rect x="436.17" y="427.03" width="0.84" height="0.84"/><rect x="431.41" y="424.07" width="0.84" height="0.84"/><rect x="436.84" y="423.59" width="0.84" height="0.84"/><rect x="427.12" y="427.19" width="0.84" height="0.84"/><rect x="428.73" y="421.31" width="0.84" height="0.84"/><rect x="415.13" y="437.26" width="0.84" height="0.84"/><rect x="433.1" y="432.05" width="0.84" height="0.84"/><rect x="436.2" y="420.5" width="0.84" height="0.84"/><rect x="428.54" y="443.75" width="0.84" height="0.84"/><rect x="434.2" y="438.51" width="0.84" height="0.84"/><rect x="416.19" y="440.51" width="0.84" height="0.84"/><rect x="424.95" y="440.24" width="0.84" height="0.84"/><rect x="416.18" y="431.41" width="0.84" height="0.84"/><rect x="430.83" y="426.28" width="0.84" height="0.84"/><rect x="428" y="435.02" width="0.84" height="0.84"/><rect x="430.49" y="430.77" width="0.84" height="0.84"/><rect x="426.9" y="421.35" width="0.84" height="0.84"/><rect x="424.57" y="431.15" width="0.84" height="0.84"/><rect x="433.79" y="427.02" width="0.84" height="0.84"/><rect x="410.09" y="430.91" width="0.84" height="0.84"/><rect x="415.92" y="437.1" width="0.84" height="0.84"/><rect x="421.68" y="426.64" width="0.84" height="0.84"/><rect x="420.43" y="425.7" width="0.84" height="0.84"/><rect x="426.65" y="442.33" width="0.84" height="0.84"/><rect x="427.16" y="437.18" width="0.84" height="0.84"/><rect x="432.85" y="439.19" width="0.84" height="0.84"/><rect x="435.24" y="422.96" width="0.84" height="0.84"/><rect x="424.61" y="425.54" width="0.84" height="0.84"/><rect x="417.69" y="432.18" width="0.84" height="0.84"/><rect x="419.46" y="433.54" width="0.84" height="0.84"/><rect x="423.37" y="426.91" width="0.84" height="0.84"/><rect x="414.78" y="430.47" width="0.84" height="0.84"/><rect x="422.18" y="434.9" width="0.84" height="0.84"/><rect x="426.32" y="442.78" width="0.84" height="0.84"/><rect x="413.43" y="427.64" width="0.84" height="0.84"/><rect x="430.46" y="441.26" width="0.84" height="0.84"/><rect x="426.35" y="441.16" width="0.84" height="0.84"/><rect x="411.14" y="432.66" width="0.84" height="0.84"/><rect x="414.93" y="437.87" width="0.84" height="0.84"/><rect x="422.53" y="440.18" width="0.84" height="0.84"/><rect x="416.91" y="435.01" width="0.84" height="0.84"/><rect x="422.2" y="423.29" width="0.84" height="0.84"/><rect x="431.59" y="424.54" width="0.84" height="0.84"/><rect x="421.15" y="437.8" width="0.84" height="0.84"/><rect x="425.03" y="438.34" width="0.84" height="0.84"/><rect x="423.41" y="440.91" width="0.84" height="0.84"/><rect x="427.22" y="443.58" width="0.84" height="0.84"/><rect x="433.63" y="435.5" width="0.84" height="0.84"/><rect x="427.1" y="434.85" width="0.84" height="0.84"/><rect x="426.66" y="431.92" width="0.84" height="0.84"/><rect x="430.41" y="425" width="0.84" height="0.84"/><rect x="430.5" y="433.44" width="0.84" height="0.84"/><rect x="434.16" y="429.53" width="0.84" height="0.84"/><rect x="410.32" y="431.17" width="0.84" height="0.84"/><rect x="436.42" y="434.16" width="0.84" height="0.84"/><rect x="429.69" y="426.94" width="0.84" height="0.84"/><rect x="420.67" y="436.45" width="0.84" height="0.84"/><rect x="411.91" y="440.73" width="0.84" height="0.84"/><rect x="417.96" y="426.69" width="0.84" height="0.84"/><rect x="430.19" y="420.29" width="0.84" height="0.84"/><rect x="424.78" y="434.75" width="0.84" height="0.84"/><rect x="434.95" y="428.19" width="0.84" height="0.84"/><rect x="423.16" y="431.91" width="0.84" height="0.84"/><rect x="418.27" y="441.32" width="0.84" height="0.84"/><rect x="416.13" y="431.34" width="0.84" height="0.84"/><rect x="414.75" y="433.47" width="0.84" height="0.84"/><rect x="413.7" y="433.73" width="0.84" height="0.84"/><rect x="422.5" y="436.29" width="0.84" height="0.84"/><rect x="432.66" y="428.69" width="0.84" height="0.84"/><rect x="429.53" y="435" width="0.84" height="0.84"/><rect x="420.56" y="434.51" width="0.84" height="0.84"/><rect x="427.61" y="435.83" width="0.84" height="0.84"/><rect x="425.55" y="425.36" width="0.84" height="0.84"/><rect x="423.12" y="442.36" width="0.84" height="0.84"/><rect x="428.33" y="429.67" width="0.84" height="0.84"/><rect x="435.25" y="421.68" width="0.84" height="0.84"/><rect x="434.85" y="438.86" width="0.84" height="0.84"/><rect x="428.62" y="431.87" width="0.84" height="0.84"/><rect x="415.45" y="430.15" width="0.84" height="0.84"/><rect x="413.85" y="438.66" width="0.84" height="0.84"/><rect x="421.52" y="430.39" width="0.84" height="0.84"/><rect x="435.53" y="437.26" width="0.84" height="0.84"/><rect x="436.73" y="429.9" width="0.84" height="0.84"/><rect x="430.13" y="438.15" width="0.84" height="0.84"/><rect x="429.47" y="436.89" width="0.84" height="0.84"/><rect x="426.61" y="422.25" width="0.84" height="0.84"/><rect x="410.99" y="427.18" width="0.84" height="0.84"/><rect x="419.84" y="428.99" width="0.84" height="0.84"/><rect x="422.9" y="442.92" width="0.84" height="0.84"/><rect x="413.22" y="442.98" width="0.84" height="0.84"/><rect x="419.93" y="436.69" width="0.84" height="0.84"/><rect x="409.57" y="428.57" width="0.84" height="0.84"/><rect x="430.76" y="433.83" width="0.84" height="0.84"/><rect x="434.81" y="420.05" width="0.84" height="0.84"/><rect x="422.08" y="433.4" width="0.84" height="0.84"/><rect x="422.55" y="422.74" width="0.84" height="0.84"/><rect x="416.46" y="434.48" width="0.84" height="0.84"/><rect x="419.02" y="423.1" width="0.84" height="0.84"/><rect x="432.42" y="432.78" width="0.84" height="0.84"/><rect x="418.72" y="425.01" width="0.84" height="0.84"/><rect x="428.47" y="436.8" width="0.84" height="0.84"/><rect x="418.77" y="425.59" width="0.84" height="0.84"/><rect x="433.32" y="429.98" width="0.84" height="0.84"/><rect x="422.82" y="433.98" width="0.84" height="0.84"/><rect x="422.56" y="429.22" width="0.84" height="0.84"/></g>
<g fill="#3a2a96" fill-opacity="0.5"><rect x="418.45" y="452.39" width="0.8" height="0.8"/><rect x="428.35" y="460.38" width="0.8" height="0.8"/><rect x="429.49" y="457.19" width="0.8" height="0.8"/><rect x="422.1" y="479.41" width="0.8" height="0.8"/><rect x="414.36" y="457.98" width="0.8" height="0.8"/><rect x="414.44" y="480.17" width="0.8" height="0.8"/><rect x="408.82" y="445.1" width="0.8" height="0.8"/><rect x="415.26" y="465.02" width="0.8" height="0.8"/><rect x="430.87" y="462.2" width="0.8" height="0.8"/><rect x="414.13" y="466.67" width="0.8" height="0.8"/><rect x="413.54" y="444.78" width="0.8" height="0.8"/><rect x="421.64" y="471.2" width="0.8" height="0.8"/><rect x="402.86" y="456.37" width="0.8" height="0.8"/><rect x="409.26" y="442.57" width="0.8" height="0.8"/><rect x="428.82" y="452.66" width="0.8" height="0.8"/><rect x="429.97" y="460.06" width="0.8" height="0.8"/><rect x="409.8" y="451.03" width="0.8" height="0.8"/><rect x="414.42" y="480.04" width="0.8" height="0.8"/><rect x="429.53" y="453.27" width="0.8" height="0.8"/><rect x="399.74" y="453.14" width="0.8" height="0.8"/><rect x="425.21" y="464.09" width="0.8" height="0.8"/><rect x="404.61" y="458.56" width="0.8" height="0.8"/><rect x="415.44" y="468.05" width="0.8" height="0.8"/><rect x="409.58" y="458.25" width="0.8" height="0.8"/><rect x="416.99" y="463.87" width="0.8" height="0.8"/><rect x="398.09" y="445.16" width="0.8" height="0.8"/><rect x="398.41" y="452.71" width="0.8" height="0.8"/><rect x="413.72" y="439.78" width="0.8" height="0.8"/><rect x="420.71" y="457.68" width="0.8" height="0.8"/><rect x="414.45" y="462.93" width="0.8" height="0.8"/></g>
<g fill="#3a2a96" fill-opacity="0.85"><rect x="506.34" y="430.2" width="1" height="1"/><rect x="503.13" y="421.89" width="1" height="1"/><rect x="504.65" y="421.08" width="1" height="1"/><rect x="507.37" y="430.78" width="1" height="1"/><rect x="501.77" y="425.19" width="1" height="1"/><rect x="503.58" y="421.67" width="1" height="1"/><rect x="504.95" y="431.19" width="1" height="1"/><rect x="499.94" y="431.59" width="1" height="1"/><rect x="503" y="424.29" width="1" height="1"/><rect x="499.68" y="422.52" width="1" height="1"/><rect x="506.36" y="422.38" width="1" height="1"/><rect x="499.08" y="428.46" width="1" height="1"/><rect x="502.39" y="430.06" width="1" height="1"/><rect x="500.03" y="422.44" width="1" height="1"/><rect x="506.29" y="425.41" width="1" height="1"/><rect x="503.03" y="421.11" width="1" height="1"/><rect x="503.59" y="421.17" width="1" height="1"/><rect x="505.64" y="428.08" width="1" height="1"/><rect x="505" y="424.73" width="1" height="1"/><rect x="499.88" y="427.54" width="1" height="1"/><rect x="498.61" y="428.36" width="1" height="1"/><rect x="504.46" y="423.34" width="1" height="1"/><rect x="501.75" y="430.04" width="1" height="1"/><rect x="501.64" y="428.69" width="1" height="1"/><rect x="505.32" y="430.83" width="1" height="1"/><rect x="501.87" y="426.15" width="1" height="1"/><rect x="500.94" y="423.74" width="1" height="1"/><rect x="507.66" y="422.56" width="1" height="1"/><rect x="506.93" y="430.53" width="1" height="1"/><rect x="498.97" y="425.73" width="1" height="1"/><rect x="500.28" y="425.17" width="1" height="1"/><rect x="507" y="421.78" width="1" height="1"/><rect x="507.28" y="424.99" width="1" height="1"/><rect x="502.46" y="427.96" width="1" height="1"/><rect x="506.94" y="422.71" width="1" height="1"/><rect x="506.22" y="423.7" width="1" height="1"/><rect x="504.01" y="429.08" width="1" height="1"/><rect x="502.98" y="428.34" width="1" height="1"/><rect x="501.3" y="423.18" width="1" height="1"/><rect x="502.04" y="428.17" width="1" height="1"/><rect x="506.12" y="432.32" width="1" height="1"/><rect x="501.59" y="428.59" width="1" height="1"/><rect x="501.21" y="430.46" width="1" height="1"/><rect x="499.98" y="431.2" width="1" height="1"/><rect x="503.02" y="428.89" width="1" height="1"/></g>
<path d="M501.53,444.12 L503.35,444.31 L504.87,448.97 L506.78,444.12 L508.31,444.41 L506.98,449.94 L505.83,454.6 L504.11,454.11 Z" fill="#4a3aa6"/>
<g fill="#3a2a96" fill-opacity="0.7"><rect x="493.65" y="484.93" width="0.9" height="0.9"/><rect x="492.38" y="485.16" width="0.9" height="0.9"/><rect x="494.68" y="484.84" width="0.9" height="0.9"/><rect x="489.96" y="483.94" width="0.9" height="0.9"/><rect x="491" y="486.05" width="0.9" height="0.9"/><rect x="490.4" y="488.74" width="0.9" height="0.9"/><rect x="490.65" y="485.63" width="0.9" height="0.9"/><rect x="494.02" y="484.76" width="0.9" height="0.9"/></g>
<g fill="#3a2a96" fill-opacity="0.7"><rect x="487.65" y="466.55" width="0.9" height="0.9"/><rect x="485.24" y="465.83" width="0.9" height="0.9"/><rect x="485.01" y="466.46" width="0.9" height="0.9"/><rect x="486.23" y="466.87" width="0.9" height="0.9"/></g>
<path d="M288.8,564.56 L291.44,565.53 L288.8,567.48 L286.91,566.02 Z" fill="#4a3aa6"/>
<g fill="#3a2a96" fill-opacity="0.6"><rect x="336.56" y="599.78" width="1" height="1"/><rect x="341.45" y="598.51" width="1" height="1"/><rect x="337.62" y="598.45" width="1" height="1"/><rect x="334.68" y="598.79" width="1" height="1"/><rect x="335.87" y="598.08" width="1" height="1"/><rect x="335.37" y="597.87" width="1" height="1"/><rect x="340.95" y="598.61" width="1" height="1"/><rect x="336" y="599.15" width="1" height="1"/><rect x="339.09" y="599.32" width="1" height="1"/><rect x="341.82" y="597.73" width="1" height="1"/></g>
<g fill="#3a2a96" fill-opacity="0.6"><rect x="338.23" y="616.54" width="1" height="1"/><rect x="341.04" y="618.11" width="1" height="1"/><rect x="338.8" y="621.34" width="1" height="1"/><rect x="334.94" y="621.28" width="1" height="1"/><rect x="334.89" y="622.52" width="1" height="1"/><rect x="335.66" y="622.11" width="1" height="1"/><rect x="338.28" y="617.99" width="1" height="1"/><rect x="336.17" y="620.19" width="1" height="1"/><rect x="336.63" y="620.76" width="1" height="1"/><rect x="335.02" y="617.43" width="1" height="1"/><rect x="341.44" y="620.15" width="1" height="1"/><rect x="335.99" y="616.65" width="1" height="1"/><rect x="334.86" y="617.42" width="1" height="1"/><rect x="337.07" y="620.53" width="1" height="1"/></g>
<g fill="#3a2a96" fill-opacity="0.6"><rect x="345.54" y="622.85" width="1" height="1"/><rect x="344.67" y="619.77" width="1" height="1"/><rect x="349.74" y="622.11" width="1" height="1"/><rect x="347.35" y="622.17" width="1" height="1"/><rect x="344.91" y="622.94" width="1" height="1"/><rect x="349.29" y="623.68" width="1" height="1"/><rect x="348.04" y="622.63" width="1" height="1"/><rect x="347.21" y="622.46" width="1" height="1"/></g>
<g fill="#3a2a96" fill-opacity="0.6"><rect x="331.94" y="645.85" width="1" height="1"/><rect x="329.42" y="651.32" width="1" height="1"/><rect x="326.7" y="650.52" width="1" height="1"/><rect x="326.55" y="650.91" width="1" height="1"/><rect x="326.36" y="651.38" width="1" height="1"/><rect x="330.41" y="648.84" width="1" height="1"/><rect x="332.44" y="643.65" width="1" height="1"/><rect x="327.22" y="649.41" width="1" height="1"/><rect x="328.23" y="651.49" width="1" height="1"/><rect x="327.28" y="649.6" width="1" height="1"/><rect x="329.35" y="649.28" width="1" height="1"/><rect x="330.96" y="650.15" width="1" height="1"/><rect x="331.28" y="645.1" width="1" height="1"/><rect x="331.11" y="648.67" width="1" height="1"/></g>
<g fill="#3a2a96" fill-opacity="0.6"><rect x="341.12" y="651.57" width="1" height="1"/><rect x="343.16" y="649.22" width="1" height="1"/><rect x="341.55" y="650.2" width="1" height="1"/><rect x="342.87" y="650.29" width="1" height="1"/><rect x="341.65" y="647.95" width="1" height="1"/><rect x="342.58" y="654.18" width="1" height="1"/><rect x="339.98" y="643.34" width="1" height="1"/><rect x="343.08" y="648.18" width="1" height="1"/></g>
<path d="M316.17,637.02 L318.53,635.76 L320.89,637.02 L318.53,638.28 Z" fill="#5a4ab0"/>
<path d="M493.73,599.97 L495.05,597.84 L498.83,597.25 L502.6,597.64 L505.91,599 L507.89,601.42 L508.27,604.82 L506.85,606.27 L505.44,603.85 L502.6,601.91 L499.77,602.39 L496.94,602.88 L494.58,602.39 Z" fill="#a7a2cc"/>
<g fill="#2a1a85" fill-opacity="0.85"><rect x="505.09" y="602.72" width="1" height="1"/><rect x="499.89" y="598.27" width="1" height="1"/><rect x="507.66" y="603.35" width="1" height="1"/><rect x="506.14" y="603.56" width="1" height="1"/><rect x="496.95" y="598.92" width="1" height="1"/><rect x="497.51" y="601.51" width="1" height="1"/><rect x="504.8" y="602.72" width="1" height="1"/><rect x="499.98" y="598.98" width="1" height="1"/><rect x="505.14" y="598.94" width="1" height="1"/><rect x="504.25" y="601.74" width="1" height="1"/><rect x="501.76" y="600.72" width="1" height="1"/><rect x="496.68" y="598.79" width="1" height="1"/><rect x="503.06" y="599.75" width="1" height="1"/><rect x="507.12" y="603.67" width="1" height="1"/><rect x="502.17" y="600.88" width="1" height="1"/><rect x="505.62" y="599.63" width="1" height="1"/><rect x="502.33" y="600.11" width="1" height="1"/><rect x="504.66" y="602.44" width="1" height="1"/><rect x="497.79" y="598.87" width="1" height="1"/><rect x="499.86" y="599.56" width="1" height="1"/><rect x="507.09" y="604.23" width="1" height="1"/><rect x="504.6" y="600.47" width="1" height="1"/><rect x="494.86" y="598.84" width="1" height="1"/><rect x="501.98" y="601.52" width="1" height="1"/><rect x="503.72" y="600.4" width="1" height="1"/><rect x="502.4" y="600.64" width="1" height="1"/><rect x="496.45" y="601.09" width="1" height="1"/><rect x="503.69" y="600.44" width="1" height="1"/><rect x="504.54" y="601.35" width="1" height="1"/><rect x="499.17" y="599.39" width="1" height="1"/><rect x="505.43" y="601.66" width="1" height="1"/><rect x="499.06" y="599.76" width="1" height="1"/><rect x="502.45" y="599.09" width="1" height="1"/><rect x="507.86" y="604.53" width="1" height="1"/><rect x="497.54" y="599.89" width="1" height="1"/><rect x="494.66" y="599.91" width="1" height="1"/><rect x="499.69" y="597.5" width="1" height="1"/><rect x="506.53" y="601" width="1" height="1"/><rect x="507.05" y="601.58" width="1" height="1"/><rect x="501.86" y="600.61" width="1" height="1"/></g>
<g fill="#3a2a96" fill-opacity="0.7"><rect x="496.35" y="619.84" width="1" height="1"/><rect x="499.04" y="621.08" width="1" height="1"/><rect x="494.96" y="621.75" width="1" height="1"/><rect x="500.17" y="626.49" width="1" height="1"/><rect x="497.51" y="620.05" width="1" height="1"/><rect x="494.25" y="638.2" width="1" height="1"/><rect x="500.02" y="620.81" width="1" height="1"/><rect x="506.25" y="620.37" width="1" height="1"/><rect x="495.42" y="634.01" width="1" height="1"/><rect x="493.5" y="638.42" width="1" height="1"/><rect x="500.2" y="623.34" width="1" height="1"/><rect x="496.02" y="634.41" width="1" height="1"/><rect x="502.17" y="629.03" width="1" height="1"/><rect x="508.39" y="622.34" width="1" height="1"/><rect x="503.52" y="626.08" width="1" height="1"/><rect x="496.7" y="620.07" width="1" height="1"/><rect x="498.38" y="632.27" width="1" height="1"/><rect x="494.54" y="636.62" width="1" height="1"/><rect x="503.35" y="626.59" width="1" height="1"/><rect x="495.2" y="618.12" width="1" height="1"/><rect x="506.19" y="622.59" width="1" height="1"/><rect x="495.69" y="620.08" width="1" height="1"/><rect x="501.55" y="627.26" width="1" height="1"/><rect x="504.84" y="621.43" width="1" height="1"/><rect x="505.81" y="620.15" width="1" height="1"/><rect x="493.76" y="638.13" width="1" height="1"/><rect x="494.69" y="620.26" width="1" height="1"/><rect x="495.25" y="637.83" width="1" height="1"/><rect x="504.85" y="625.31" width="1" height="1"/><rect x="494.4" y="634.64" width="1" height="1"/><rect x="496.9" y="619.13" width="1" height="1"/><rect x="500.04" y="621.83" width="1" height="1"/><rect x="497.81" y="634.73" width="1" height="1"/><rect x="494.82" y="622.63" width="1" height="1"/><rect x="506.09" y="625.99" width="1" height="1"/><rect x="498.44" y="628.74" width="1" height="1"/><rect x="494.83" y="621.22" width="1" height="1"/><rect x="502.89" y="623.78" width="1" height="1"/><rect x="504.78" y="620.81" width="1" height="1"/><rect x="498.13" y="619.85" width="1" height="1"/><rect x="502.67" y="624.45" width="1" height="1"/><rect x="495.35" y="622.5" width="1" height="1"/><rect x="503.42" y="627.1" width="1" height="1"/><rect x="501.38" y="629.46" width="1" height="1"/><rect x="494.13" y="619.97" width="1" height="1"/><rect x="503.29" y="621.73" width="1" height="1"/><rect x="495.22" y="635.04" width="1" height="1"/><rect x="496.34" y="634.05" width="1" height="1"/><rect x="498.74" y="620.31" width="1" height="1"/><rect x="501.21" y="626.04" width="1" height="1"/><rect x="499.05" y="622.36" width="1" height="1"/><rect x="506.39" y="626.52" width="1" height="1"/><rect x="496.92" y="636.5" width="1" height="1"/><rect x="497.71" y="615.8" width="1" height="1"/><rect x="494.88" y="616.8" width="1" height="1"/><rect x="495.46" y="635.49" width="1" height="1"/><rect x="494.35" y="636.83" width="1" height="1"/><rect x="507.02" y="622.42" width="1" height="1"/><rect x="501.31" y="625.5" width="1" height="1"/><rect x="493.94" y="639.49" width="1" height="1"/></g>
<g fill="#3a2a96" fill-opacity="0.6"><rect x="486.35" y="652.53" width="1" height="1"/><rect x="495.99" y="642.3" width="1" height="1"/><rect x="503.06" y="655.19" width="1" height="1"/><rect x="491.25" y="652.79" width="1" height="1"/><rect x="497.24" y="647.66" width="1" height="1"/><rect x="497.39" y="652.81" width="1" height="1"/><rect x="500.38" y="653.61" width="1" height="1"/><rect x="495.01" y="652.19" width="1" height="1"/></g>
<path d="M505.44,606.27 L506.95,606.76 L504.11,616.27 L502.6,615.88 Z" fill="#7a70b8"/>
<g fill="#3a2a96" fill-opacity="0.8"><rect x="476.89" y="611.77" width="1" height="1"/><rect x="469.46" y="620.5" width="1" height="1"/><rect x="466.58" y="614.56" width="1" height="1"/><rect x="476.99" y="614.1" width="1" height="1"/></g>
<text x="291.8" y="381.9" font-size="8.6" text-anchor="middle" stroke="#222" stroke-width="0.16" fill="#222" textLength="38.4" lengthAdjust="spacingAndGlyphs">MAMDC2</text>
<text x="452.4" y="381.9" font-size="8.6" text-anchor="middle" stroke="#222" stroke-width="0.16" fill="#222" textLength="23.5" lengthAdjust="spacingAndGlyphs">MYLK</text>
<text x="291.8" y="538.6" font-size="8.6" text-anchor="middle" stroke="#222" stroke-width="0.16" fill="#222" textLength="38.4" lengthAdjust="spacingAndGlyphs">MAMDC2</text>
<text x="452.4" y="538.6" font-size="8.6" text-anchor="middle" stroke="#222" stroke-width="0.16" fill="#222" textLength="23.5" lengthAdjust="spacingAndGlyphs">MYLK</text>
<defs><linearGradient id="cb1" x1="0" y1="1" x2="0" y2="0"><stop offset="0" stop-color="#d9d9db"/><stop offset="0.5" stop-color="#8a84ba"/><stop offset="1" stop-color="#1e0e78"/></linearGradient></defs>
<rect x="363" y="389" width="8.2" height="126.6" fill="url(#cb1)"/>
<line x1="371.8" y1="515.6" x2="373" y2="515.6" stroke="#555" stroke-width="0.5"/>
<text x="373.4" y="517.2" font-size="4.6" text-anchor="start" stroke="#444" stroke-width="0.16" fill="#444">0.0</text>
<line x1="371.8" y1="494.1" x2="373" y2="494.1" stroke="#555" stroke-width="0.5"/>
<text x="373.4" y="495.7" font-size="4.6" text-anchor="start" stroke="#444" stroke-width="0.16" fill="#444">0.5</text>
<line x1="371.8" y1="472.6" x2="373" y2="472.6" stroke="#555" stroke-width="0.5"/>
<text x="373.4" y="474.2" font-size="4.6" text-anchor="start" stroke="#444" stroke-width="0.16" fill="#444">1.0</text>
<line x1="371.8" y1="451.1" x2="373" y2="451.1" stroke="#555" stroke-width="0.5"/>
<text x="373.4" y="452.7" font-size="4.6" text-anchor="start" stroke="#444" stroke-width="0.16" fill="#444">1.5</text>
<line x1="371.8" y1="429.6" x2="373" y2="429.6" stroke="#555" stroke-width="0.5"/>
<text x="373.4" y="431.2" font-size="4.6" text-anchor="start" stroke="#444" stroke-width="0.16" fill="#444">2.0</text>
<line x1="371.8" y1="408.1" x2="373" y2="408.1" stroke="#555" stroke-width="0.5"/>
<text x="373.4" y="409.7" font-size="4.6" text-anchor="start" stroke="#444" stroke-width="0.16" fill="#444">2.5</text>
<defs><linearGradient id="cb2" x1="0" y1="1" x2="0" y2="0"><stop offset="0" stop-color="#d9d9db"/><stop offset="0.5" stop-color="#8a84ba"/><stop offset="1" stop-color="#1e0e78"/></linearGradient></defs>
<rect x="523.6" y="389" width="8.4" height="126.6" fill="url(#cb2)"/>
<line x1="532.6" y1="515.6" x2="533.8" y2="515.6" stroke="#555" stroke-width="0.5"/>
<text x="534.2" y="517.2" font-size="4.6" text-anchor="start" stroke="#444" stroke-width="0.16" fill="#444">0.0</text>
<line x1="532.6" y1="500.8" x2="533.8" y2="500.8" stroke="#555" stroke-width="0.5"/>
<text x="534.2" y="502.4" font-size="4.6" text-anchor="start" stroke="#444" stroke-width="0.16" fill="#444">0.5</text>
<line x1="532.6" y1="486" x2="533.8" y2="486" stroke="#555" stroke-width="0.5"/>
<text x="534.2" y="487.6" font-size="4.6" text-anchor="start" stroke="#444" stroke-width="0.16" fill="#444">1.0</text>
<line x1="532.6" y1="471.2" x2="533.8" y2="471.2" stroke="#555" stroke-width="0.5"/>
<text x="534.2" y="472.8" font-size="4.6" text-anchor="start" stroke="#444" stroke-width="0.16" fill="#444">1.5</text>
<line x1="532.6" y1="456.4" x2="533.8" y2="456.4" stroke="#555" stroke-width="0.5"/>
<text x="534.2" y="458" font-size="4.6" text-anchor="start" stroke="#444" stroke-width="0.16" fill="#444">2.0</text>
<line x1="532.6" y1="441.6" x2="533.8" y2="441.6" stroke="#555" stroke-width="0.5"/>
<text x="534.2" y="443.2" font-size="4.6" text-anchor="start" stroke="#444" stroke-width="0.16" fill="#444">2.5</text>
<line x1="532.6" y1="426.8" x2="533.8" y2="426.8" stroke="#555" stroke-width="0.5"/>
<text x="534.2" y="428.4" font-size="4.6" text-anchor="start" stroke="#444" stroke-width="0.16" fill="#444">3.0</text>
<line x1="532.6" y1="412" x2="533.8" y2="412" stroke="#555" stroke-width="0.5"/>
<text x="534.2" y="413.6" font-size="4.6" text-anchor="start" stroke="#444" stroke-width="0.16" fill="#444">3.5</text>
<line x1="532.6" y1="397.2" x2="533.8" y2="397.2" stroke="#555" stroke-width="0.5"/>
<text x="534.2" y="398.8" font-size="4.6" text-anchor="start" stroke="#444" stroke-width="0.16" fill="#444">4.0</text>
<defs><linearGradient id="cb3" x1="0" y1="1" x2="0" y2="0"><stop offset="0" stop-color="#d9d9db"/><stop offset="0.5" stop-color="#8a84ba"/><stop offset="1" stop-color="#1e0e78"/></linearGradient></defs>
<rect x="363" y="546" width="8.2" height="125.2" fill="url(#cb3)"/>
<line x1="371.8" y1="671" x2="373" y2="671" stroke="#555" stroke-width="0.5"/>
<text x="373.4" y="672.6" font-size="4.6" text-anchor="start" stroke="#444" stroke-width="0.16" fill="#444">0.0</text>
<line x1="371.8" y1="650.5" x2="373" y2="650.5" stroke="#555" stroke-width="0.5"/>
<text x="373.4" y="652.1" font-size="4.6" text-anchor="start" stroke="#444" stroke-width="0.16" fill="#444">0.5</text>
<line x1="371.8" y1="630" x2="373" y2="630" stroke="#555" stroke-width="0.5"/>
<text x="373.4" y="631.6" font-size="4.6" text-anchor="start" stroke="#444" stroke-width="0.16" fill="#444">1.0</text>
<line x1="371.8" y1="609.5" x2="373" y2="609.5" stroke="#555" stroke-width="0.5"/>
<text x="373.4" y="611.1" font-size="4.6" text-anchor="start" stroke="#444" stroke-width="0.16" fill="#444">1.5</text>
<line x1="371.8" y1="589" x2="373" y2="589" stroke="#555" stroke-width="0.5"/>
<text x="373.4" y="590.6" font-size="4.6" text-anchor="start" stroke="#444" stroke-width="0.16" fill="#444">2.0</text>
<line x1="371.8" y1="568.5" x2="373" y2="568.5" stroke="#555" stroke-width="0.5"/>
<text x="373.4" y="570.1" font-size="4.6" text-anchor="start" stroke="#444" stroke-width="0.16" fill="#444">2.5</text>
<line x1="371.8" y1="548" x2="373" y2="548" stroke="#555" stroke-width="0.5"/>
<text x="373.4" y="549.6" font-size="4.6" text-anchor="start" stroke="#444" stroke-width="0.16" fill="#444">3.0</text>
<defs><linearGradient id="cb4" x1="0" y1="1" x2="0" y2="0"><stop offset="0" stop-color="#d9d9db"/><stop offset="0.5" stop-color="#8a84ba"/><stop offset="1" stop-color="#1e0e78"/></linearGradient></defs>
<rect x="523.6" y="546" width="8.4" height="125.6" fill="url(#cb4)"/>
<line x1="532.6" y1="671.6" x2="533.8" y2="671.6" stroke="#555" stroke-width="0.5"/>
<text x="534.2" y="673.2" font-size="4.6" text-anchor="start" stroke="#444" stroke-width="0.16" fill="#444">0.0</text>
<line x1="532.6" y1="657.4" x2="533.8" y2="657.4" stroke="#555" stroke-width="0.5"/>
<text x="534.2" y="659" font-size="4.6" text-anchor="start" stroke="#444" stroke-width="0.16" fill="#444">0.5</text>
<line x1="532.6" y1="643.2" x2="533.8" y2="643.2" stroke="#555" stroke-width="0.5"/>
<text x="534.2" y="644.8" font-size="4.6" text-anchor="start" stroke="#444" stroke-width="0.16" fill="#444">1.0</text>
<line x1="532.6" y1="629" x2="533.8" y2="629" stroke="#555" stroke-width="0.5"/>
<text x="534.2" y="630.6" font-size="4.6" text-anchor="start" stroke="#444" stroke-width="0.16" fill="#444">1.5</text>
<line x1="532.6" y1="614.8" x2="533.8" y2="614.8" stroke="#555" stroke-width="0.5"/>
<text x="534.2" y="616.4" font-size="4.6" text-anchor="start" stroke="#444" stroke-width="0.16" fill="#444">2.0</text>
<line x1="532.6" y1="600.6" x2="533.8" y2="600.6" stroke="#555" stroke-width="0.5"/>
<text x="534.2" y="602.2" font-size="4.6" text-anchor="start" stroke="#444" stroke-width="0.16" fill="#444">2.5</text>
<line x1="532.6" y1="586.4" x2="533.8" y2="586.4" stroke="#555" stroke-width="0.5"/>
<text x="534.2" y="588" font-size="4.6" text-anchor="start" stroke="#444" stroke-width="0.16" fill="#444">3.0</text>
<line x1="532.6" y1="572.2" x2="533.8" y2="572.2" stroke="#555" stroke-width="0.5"/>
<text x="534.2" y="573.8" font-size="4.6" text-anchor="start" stroke="#444" stroke-width="0.16" fill="#444">3.5</text>
<line x1="532.6" y1="558" x2="533.8" y2="558" stroke="#555" stroke-width="0.5"/>
<text x="534.2" y="559.6" font-size="4.6" text-anchor="start" stroke="#444" stroke-width="0.16" fill="#444">4.0</text>
</svg>
</body></html>
